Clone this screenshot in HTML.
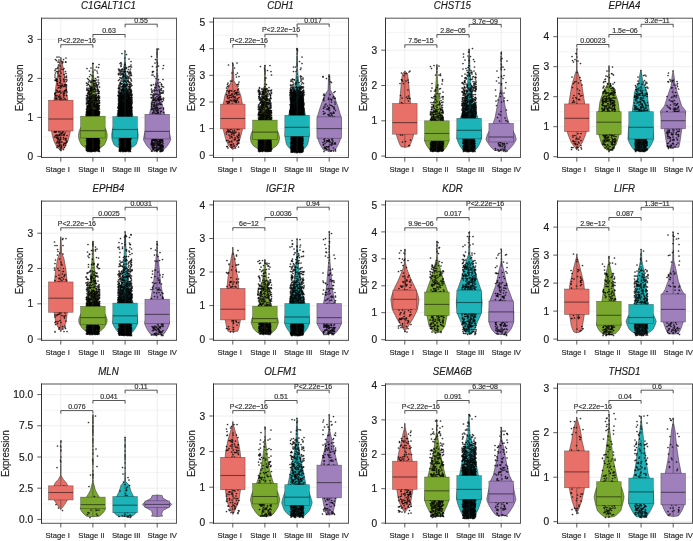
<!DOCTYPE html><html><head><meta charset="utf-8"><style>html,body{margin:0;padding:0;background:#fff}svg{display:block;filter:blur(.3px)}text{font-family:"Liberation Sans",sans-serif;stroke:currentColor;stroke-width:.18px}</style></head><body>
<svg width="693" height="541" viewBox="0 0 693 541">
<g stroke="#ECECEC" stroke-width=".6"><path d="M41.5 136.9H176.5"/><path d="M41.5 97.9H176.5"/><path d="M41.5 58.9H176.5"/><path d="M41.5 19.9H176.5"/></g><g stroke="#E8E8E8" stroke-width=".65"><path d="M41.5 156.4H176.5"/><path d="M41.5 117.4H176.5"/><path d="M41.5 78.4H176.5"/><path d="M41.5 39.4H176.5"/><path d="M60.8 18.2V157.5"/><path d="M92.9 18.2V157.5"/><path d="M125.1 18.2V157.5"/><path d="M157.2 18.2V157.5"/></g><path d="M60.8 150.2l.6-.5l1.9-1l1.5-1.5l3.1-6l1.6-6l.8-4l.1-13.6l-.7-5.5l-2-12.1l-1.4-11.1l-2.7-19.1l-1.2-6l-1.4-4.5l-.1-2l0 0l-.1 2l-1.4 4.5l-1.2 6l-2.7 19.1l-1.4 11.1l-2 12.1l-.7 5.5l.1 13.6l.8 4l1.6 6l3.1 6l1.5 1.5l1.9 1l.6 .5z" fill="#E87068" stroke="#333" stroke-width=".55"/><path d="M55.5 59.5h0m3.5 .5h0m-2.5 .5h0m5.5 1h0m-4 .5h0m5 0h0m3 0h0m-8 5h0m-1 1.5h0m.5 0h0m3.5 .5h0m2 .5h0m-8 1h0m10.5 1h0m-10 1.5h0m10.5 .5h0m-2 1h0m-9 .5h0m4 0h0m7.5 1h0m-7.5 .5h0m1.5 0h0m4.5 .5h0m1.5 .5h0m-10.5 1h0m4 0h0m-3.5 .5h0m7 0h0m2.5 .5h0m1 .5h0m-11.5 .5h0m1 0h0m4 .5h0m-3 .5h0m2.5 1h0m-2.5 1h0m4.5 .5h0m4.5 1h0m-6 .5h0m1.5 0h0m4.5 0h0m-1.5 .5h0m-1 .5h0m2.5 .5h0m-6 1h0m6 1h0m-.5 .5h0m-9.5 .5h0m.5 .5h0m7.5 0h0m1 0h0m1 0h0m.5 1.5h0m-6 1h0m-6 .5h0m8.5 0h0m1 0h0m-.5 .5h0m-.5 1h0m-8 .5h0m8.5 0h0m-4.5 1.5h0m1 0h0m-1.5 .5h0m-3.5 .5h0m4.5 0h0m-3.5 .5h0m5 0h0m-6 .5h0m4 .5h0m1 .5h0m2 0h0m1 0h0m-7 1.5h0m10 0h0m-11.5 .5h0m9 0h0m3 0h0m-.5 .5h0m.5 1h0m-4 .5h0m-5 .5h0m-2 1.5h0m3.5 0h0m4 0h0m.5 0h0m-6 1h0m1 0h0m3.5 0h0m2 .5h0m-8 1h0m7 0h0m.5 0h0m-6.5 .5h0m6.5 0h0m-6 .5h0m3 1h0m-5 .5h0m5.5 1h0m-4 .5h0m1.5 0h0m6.5 .5h0m-.5 .5h0m2 .5h0m-11.5 .5h0m6 0h0m4 0h0m-7 .5h0m0 1h0m2.5 .5h0m1.5 0h0m3 .5h0m-5 .5h0m6 0h0m-6.5 1h0m-5 .5h0m2.5 0h0m6.5 0h0m1 .5h0m-7 .5h0m8 0h0m-6.5 1h0m4 1h0m3 0h0m-8 1h0m1 0h0m6.5 0h0m-2 .5h0m-1 .5h0m1 0h0m-6 1h0m5 .5h0m4 0h0m-12.5 .5h0m4.5 .5h0m.5 0h0m3.5 0h0m2 .5h0m-.5 .5h0m-9.5 .5h0m.5 0h0m7 .5h0m1.5 0h0m-1 .5h0m2 1.5h0m1.5 0h0m-12 .5h0m0 1h0m1.5 0h0m4.5 1h0m1.5 0h0m.5 0h0m1.5 1.5h0m-6 .5h0m2.5 0h0m3.5 0h0m-8.5 .5h0m4 0h0m4.5 0h0m3 0h0m-12.5 1.5h0m6 .5h0m-3.5 .5h0m8.5 .5h0m.5 0h0m-8 .5h0m2.5 0h0m3 0h0m2.5 0h0m-7 1h0m1 0h0m5.5 0h0m-4 2h0m.5 0h0m-2.5 .5h0m6 1h0m-2 1h0m-6 1h0m6 0h0m2 0h0m-6 .5h0m1 1.5h0m1 0h0m3 0h0m-4.5 2h0m3.5 0h0" stroke="#000" stroke-opacity=".8" stroke-width="1.7" stroke-linecap="round" fill="none"/><path d="M57 57h0m2 0h0m7 1h0m-2.5 1.5h0m-4.5 2.5h0m6.5 0h0m-3 1h0m-4 2h0m2 1h0m3.5 2.5h0m-8.5 .5h0m4.5 2h0m-3.5 .5h0m1.5 0h0m0 1.5h0m3 0h0m-6 4h0m2 2.5h0m-2 .5h0m1 0h0m4.5 0h0m3.5 0h0m-7.5 1h0m7.5 .5h0m2.5 0h0m-6.5 1.5h0m4.5 1.5h0m1.5 0h0m-8.5 .5h0m7.5 0h0m-6 .5h0m4 .5h0m-2.5 .5h0m1 .5h0m-2.5 .5h0m-1 .5h0m1.5 3h0m-2 .5h0m3 0h0m4.5 0h0m-7 .5h0m1 0h0m1 0h0m3 0h0m1.5 0h0m-8.5 .5h0m-.5 .5h0m-.5 1h0m4.5 1h0m-2.5 .5h0m9.5 0h0m-10.5 .5h0m2.5 .5h0m5 .5h0m-7 1h0m8 .5h0m-7.5 .5h0m8.5 .5h0m-5 .5h0m5.5 0h0m.5 .5h0m-12 .5h0m7.5 0h0m-1.5 .5h0m-3 .5h0m-2.5 .5h0m4 .5h0m3.5 .5h0m-1 .5h0m-6 .5h0m0 1h0m4 0h0m1 .5h0m0 1h0m-3.5 1h0m10 0h0m-10.5 1h0m2 0h0m-3.5 .5h0m9 0h0m-2.5 .5h0m-5.5 .5h0m.5 .5h0m6 0h0m.5 0h0m-1.5 .5h0m-5 .5h0m6 .5h0m-6.5 .5h0m6 0h0m2 1h0m2 0h0m-1 1h0m-9.5 1h0m11 0h0m0 1h0m-3 1h0m-7 .5h0m2 0h0m2.5 0h0m3 2h0m2 0h0m.5 0h0m-9.5 .5h0m9.5 1h0m-10 1h0m1 0h0m8 0h0m-.5 .5h0m-6.5 1h0m-1 .5h0m4 0h0m-.5 .5h0m-5 .5h0m8 .5h0m-2 .5h0m-5 .5h0m7.5 .5h0m-2.5 1h0m-2.5 .5h0m.5 0h0m1.5 0h0m1 0h0m1 0h0m2.5 0h0m-9 .5h0m6.5 0h0m-6 .5h0m2.5 0h0m1.5 0h0m-2.5 .5h0m-3 .5h0m7 0h0m-8 .5h0m4 0h0m4 0h0m2 1h0m-3.5 .5h0m-2 1h0m4.5 0h0m-7.5 .5h0m5.5 0h0m-5 .5h0m.5 0h0m-1.5 1.5h0m2 0h0m-1 .5h0m3.5 0h0m3 0h0m-5.5 1h0m7.5 0h0m-7 .5h0m2 .5h0m-3 1.5h0m9 0h0m-9 .5h0m2 0h0m7.5 0h0m-9 .5h0m2 0h0m-2.5 .5h0m8.5 0h0m-9.5 .5h0m7.5 0h0m-5 .5h0m5.5 0h0m-5 .5h0m0 1h0m1.5 0h0m-1 .5h0m-1.5 1h0m3 0h0m-4.5 1h0m4 1h0m0 2h0" stroke="#000" stroke-opacity=".8" stroke-width="1.7" stroke-linecap="round" fill="none"/><path d="M60.8 57V100.2M60.8 131.1V150.2" stroke="#333" stroke-width=".5"/><rect x="48.5" y="100.2" width="24.6" height="30.8" fill="#E87068" stroke="#000" stroke-opacity=".45" stroke-width=".6"/><path d="M48.5 119H73.1" stroke="#000" stroke-opacity=".5" stroke-width="1.1"/><path d="M92.9 149.4l4.1-.5l2.3-.5l2.4-1.5l2.5-2l1.3-2.5l1.4-3.5l.3-3.5l-.2-2l-.7-3l-5.4-11.1l-2-5.5l-2-12.1l-2.6-19.6l-.8-7.6l-.5-11.6l-.3 0l-.5 11.6l-.8 7.6l-2.6 19.6l-2 12.1l-2 5.5l-5.4 11.1l-.7 3l-.2 2l.3 3.5l1.4 3.5l1.3 2.5l2.5 2l2.4 1.5l2.3 .5l4.1 .5z" fill="#7AA82F" stroke="#333" stroke-width=".55"/><linearGradient id="m2_1_0" gradientUnits="userSpaceOnUse" x1="0" y1="137.5" x2="0" y2="151.5"><stop offset="0.036" stop-opacity="0.92"/><stop offset="0.179" stop-opacity="0.92"/><stop offset="0.321" stop-opacity="0.92"/><stop offset="0.464" stop-opacity="0.92"/><stop offset="0.607" stop-opacity="0.92"/><stop offset="0.750" stop-opacity="0.92"/><stop offset="0.893" stop-opacity="0.92"/><stop offset="0.964" stop-opacity="0.92"/></linearGradient><path d="M99.1 137.5 99.1 138 99.1 139 99.1 140 99.1 141 99.1 142 99.1 143 99.1 144 99.1 145 99.1 146 99.1 147 99.1 148 99.1 149 99.1 150 99.1 151 99.1 151.5 86.7 151.5 86.7 151 86.7 150 86.7 149 86.7 148 86.7 147 86.7 146 86.7 145 86.7 144 86.7 143 86.7 142 86.7 141 86.7 140 86.7 139 86.7 138 86.7 137.5z" fill="url(#m2_1_0)"/><linearGradient id="m2_1_1" gradientUnits="userSpaceOnUse" x1="0" y1="98.5" x2="0" y2="116.5"><stop offset="0.028" stop-opacity="0.05"/><stop offset="0.139" stop-opacity="0.13"/><stop offset="0.250" stop-opacity="0.21"/><stop offset="0.361" stop-opacity="0.30"/><stop offset="0.472" stop-opacity="0.38"/><stop offset="0.583" stop-opacity="0.47"/><stop offset="0.694" stop-opacity="0.55"/><stop offset="0.806" stop-opacity="0.63"/><stop offset="0.917" stop-opacity="0.72"/><stop offset="0.972" stop-opacity="0.76"/></linearGradient><path d="M99.2 98.5 99.2 99 99.2 100 99.2 101 99.2 102 99.2 103 99.2 104 99.2 105 99.3 106 99.3 107 99.3 108 99.3 109 99.3 110 99.3 111 99.3 112 99.4 113 99.4 114 99.4 115 99.4 116 99.4 116.5 86.4 116.5 86.4 116 86.5 115 86.5 114 86.5 113 86.5 112 86.5 111 86.5 110 86.6 109 86.6 108 86.6 107 86.6 106 86.6 105 86.6 104 86.6 103 86.7 102 86.7 101 86.7 100 86.7 99 86.7 98.5z" fill="url(#m2_1_1)"/><path d="M93 63.5h0m5.5 4h0m-11.5 1h0m8 1.5h0m-5.5 1h0m7.5 0h0m-7.5 5.5h0m6 2h0m-7 1h0m4 .5h0m1.5 .5h0m1 .5h0m-4 .5h0m.5 .5h0m6.5 0h0m-7.5 .5h0m8.5 .5h0m-5 .5h0m1.5 0h0m.5 0h0m-8 .5h0m5.5 .5h0m3.5 .5h0m-10 .5h0m3 1h0m1 0h0m2 0h0m2 .5h0m2.5 0h0m-.5 .5h0m-8 .5h0m2.5 0h0m-1.5 .5h0m-3 .5h0m1.5 0h0m3 0h0m.5 0h0m3 0h0m-4.5 .5h0m3.5 0h0m1.5 0h0m-8.5 .5h0m6 0h0m.5 0h0m4.5 0h0m-9 .5h0m2.5 0h0m-2 .5h0m1.5 .5h0m2.5 0h0m-4.5 .5h0m3.5 0h0m2 0h0m4 0h0m.5 0h0m-10 1h0m-1.5 .5h0m4 0h0m7 0h0m-9.5 1h0m2 0h0m3 0h0m-1.5 .5h0m-6 .5h0m3.5 0h0m5 0h0m1 0h0m-8.5 .5h0m.5 0h0m2.5 0h0m4.5 0h0m3.5 0h0m-7.5 .5h0m2 0h0m6.5 0h0m-10 .5h0m2 0h0m2.5 0h0m3.5 0h0m-6 .5h0m2 0h0m2 0h0m1.5 0h0m-9 .5h0m1 0h0m3 0h0m1.5 0h0m5.5 0h0m.5 0h0m-10 .5h0m1.5 0h0m.5 0h0m1 0h0m1.5 0h0m2 0h0m2 0h0m-11 .5h0m5 0h0m4 0h0m-1.5 .5h0m2 0h0m-7 .5h0m5.5 0h0m3.5 0h0m-10.5 .5h0m2 0h0m2.5 0h0m4.5 0h0m2.5 0h0m-7.5 .5h0m.5 0h0m2 0h0m1 0h0m1.5 0h0m2 0h0m-10.5 .5h0m3 0h0m1 .5h0m2.5 0h0m-4.5 .5h0m1.5 0h0m1.5 0h0m-6.5 .5h0m4 0h0m2 0h0m1.5 0h0m3.5 0h0m1 0h0m.5 0h0m-11 .5h0m10.5 0h0m-9 .5h0m.5 0h0m4 0h0m2.5 0h0m-7.5 .5h0m3.5 0h0m1 0h0m3.5 0h0m.5 0h0m-9 .5h0m1 0h0m.5 0h0m.5 0h0m5 0h0m-7 .5h0m4 0h0m6.5 0h0m-12 .5h0m2.5 0h0m.5 0h0m.5 0h0m.5 0h0m1.5 0h0m.5 0h0m1 0h0m.5 0h0m3.5 0h0m-8 .5h0m.5 0h0m1 0h0m.5 0h0m4 0h0m-6 .5h0m.5 0h0m1 0h0m1.5 0h0m4 0h0m-10 .5h0m3.5 0h0m4.5 0h0m.5 0h0m2.5 0h0m-10.5 .5h0m4.5 0h0m4.5 0h0m-8.5 .5h0m.5 0h0m.5 0h0m1 0h0m1 0h0m6 0h0m.5 0h0m.5 0h0m-7.5 .5h0m5.5 0h0m1 0h0m1 0h0m-8 .5h0m1 0h0m1.5 0h0m2.5 0h0m2.5 0h0m.5 0h0m-11.5 .5h0m2 0h0m1 0h0m.5 0h0m1.5 0h0m1.5 0h0m.5 0h0m2 0h0m2 0h0m-10.5 .5h0m5.5 0h0m1 0h0m.5 0h0m2 0h0m-6.5 .5h0m1 0h0m1.5 0h0m.5 0h0m3 0h0m-9.5 .5h0m7.5 0h0m2 0h0m1 0h0m-9 .5h0m1 0h0m2 0h0m1.5 0h0m.5 0h0m.5 0h0m3 0h0m.5 0h0m2 0h0m-12.5 .5h0m1 0h0m1 0h0m1 0h0m4 0h0m.5 0h0m.5 0h0m.5 0h0m1.5 0h0m.5 0h0m1.5 0h0m-9.5 .5h0m2 0h0m.5 0h0m.5 0h0m1.5 0h0m.5 0h0m.5 0h0m3 0h0m-9.5 .5h0m1.5 0h0m.5 0h0m.5 0h0m1 0h0m2.5 0h0m.5 0h0m1 0h0m1 0h0m2.5 0h0m-11 .5h0m1 0h0m3.5 0h0m.5 0h0m.5 0h0m.5 0h0m.5 0h0m1.5 0h0m2.5 0h0m.5 0h0m-9.5 .5h0m1.5 0h0m1 0h0m.5 0h0m1 0h0m.5 0h0m1 0h0m1 0h0m1.5 0h0m.5 0h0m-6.5 .5h0m.5 0h0m5.5 0h0m-10.5 .5h0m1.5 0h0m4 0h0m2.5 0h0m3 0h0m-11.5 .5h0m1.5 0h0m.5 0h0m3 0h0m1 0h0m3 0h0m2.5 0h0m-11 .5h0m2 0h0m-1 21h0m3.5 0h0m-3.5 .5h0m2 0h0m4.5 0h0m.5 0h0m3.5 0h0m-11 .5h0m1 0h0m.5 0h0m4 0h0m-5 .5h0m4 0h0m.5 0h0m1 0h0m.5 0h0m3 0h0m.5 0h0m-9 .5h0m2.5 0h0m3.5 0h0m2.5 0h0m1 0h0m1 0h0m-11.5 .5h0m1 0h0m5.5 0h0m4 0h0m-11.5 .5h0m6 0h0m3 0h0m.5 0h0m2 0h0m1 0h0m.5 0h0m-13 .5h0m1.5 0h0m.5 0h0m1.5 0h0m1 0h0m1 0h0m2 0h0m5 0h0m-11.5 .5h0m.5 0h0m4 0h0m2 0h0m.5 0h0m1.5 0h0m3.5 0h0m-10 .5h0m1 0h0m.5 0h0m1 0h0m.5 0h0m3.5 0h0m3 0h0m-10 .5h0m3 0h0m2.5 0h0m-5.5 .5h0m.5 0h0m.5 0h0m2 0h0m.5 0h0m.5 0h0m1 0h0m1 0h0m.5 0h0m.5 0h0m1.5 0h0m1 0h0m.5 0h0m-11.5 .5h0m5.5 0h0m1 0h0m2.5 0h0m.5 0h0m.5 0h0m.5 0h0m1.5 0h0m-10.5 .5h0m2 0h0m1.5 0h0m2 0h0m2 0h0m2.5 0h0m.5 0h0m-11 .5h0m1.5 0h0m.5 0h0m1 0h0m1 0h0m.5 0h0m.5 0h0m1.5 0h0m2.5 0h0m-7.5 .5h0m1.5 0h0m2.5 0h0m.5 0h0m.5 0h0m1 0h0m1 0h0m-10.5 .5h0m2 0h0m3 0h0m1 0h0m1 0h0m.5 0h0m1.5 0h0m.5 0h0m1 0h0m1.5 0h0m-12 .5h0m5.5 0h0m.5 0h0m.5 0h0m2 0h0m1 0h0m2 0h0m.5 0h0m-11.5 .5h0m1 0h0m.5 0h0m2.5 0h0m2 0h0m1.5 0h0m.5 0h0m.5 0h0m1 0h0m-10 .5h0m1.5 0h0m.5 0h0m2.5 0h0m6 0h0m1 0h0m1 0h0m-12 .5h0m2.5 0h0m5.5 0h0m1.5 0h0m1.5 0h0m.5 0h0m-7 .5h0m1 0h0m1.5 0h0m.5 0h0m3 0h0m1.5 0h0m-11 .5h0m.5 0h0m.5 0h0m6.5 0h0m1 0h0m1.5 0h0m-11.5 .5h0m1 0h0m.5 0h0m.5 0h0m.5 0h0m2 0h0m1 0h0m2 0h0m1 0h0m2 0h0m.5 0h0m-9.5 .5h0m1.5 0h0m3 0h0m6 0h0m-12 .5h0m2.5 0h0m3 0h0m2 0h0m1 0h0m1.5 0h0m2.5 0h0m-11.5 .5h0m.5 0h0m1.5 0h0m1.5 0h0m.5 0h0m4.5 0h0m.5 0h0m.5 0h0m-7.5 .5h0m1.5 0h0m2 0h0m2 0h0m3.5 0h0m.5 0h0m-11 .5h0m3.5 0h0m3.5 0h0" stroke="#000" stroke-opacity=".8" stroke-width="1.7" stroke-linecap="round" fill="none"/><path d="M99 64.5h0m-2.5 2.5h0m-5.5 1h0m6.5 5h0m-7 1.5h0m1.5 1h0m5.5 1.5h0m1 0h0m-11 1.5h0m9 1.5h0m2 0h0m-9 .5h0m3.5 0h0m2 0h0m-5 .5h0m3 0h0m2 0h0m-6.5 1h0m7.5 .5h0m-9.5 .5h0m6.5 0h0m-6 .5h0m1.5 1h0m8 0h0m2 0h0m-3 .5h0m-6 .5h0m4.5 0h0m1.5 0h0m1.5 0h0m-1.5 .5h0m2 0h0m-.5 .5h0m2.5 .5h0m-8.5 .5h0m1.5 0h0m-5.5 .5h0m7 0h0m-3 .5h0m1 0h0m2.5 0h0m3 0h0m-5 .5h0m2 0h0m2.5 .5h0m-10 .5h0m3.5 0h0m2 0h0m5 0h0m.5 0h0m.5 0h0m-10 .5h0m2 0h0m5 .5h0m2 0h0m-8.5 .5h0m7.5 0h0m1.5 0h0m1 0h0m-11 .5h0m.5 0h0m.5 1h0m1 0h0m1.5 0h0m6 .5h0m1.5 0h0m-11 .5h0m8 0h0m-6.5 .5h0m7 .5h0m-9 .5h0m4.5 0h0m.5 0h0m1 0h0m2.5 0h0m2.5 0h0m-6 .5h0m.5 .5h0m3 0h0m-8.5 .5h0m1 0h0m1.5 0h0m1.5 0h0m3.5 0h0m1 0h0m2 0h0m-6.5 .5h0m5 0h0m2 0h0m-12 .5h0m2.5 0h0m2.5 0h0m3 0h0m-7 .5h0m2.5 0h0m6 0h0m3 0h0m-12.5 .5h0m3 0h0m.5 0h0m2 0h0m4 0h0m-5.5 .5h0m.5 0h0m-2 .5h0m.5 0h0m4 0h0m2 0h0m1 0h0m2 0h0m-11 .5h0m2 0h0m1.5 0h0m2 0h0m1 0h0m2.5 0h0m-10 .5h0m1 0h0m1.5 0h0m7.5 0h0m1 0h0m1.5 0h0m-10 .5h0m1.5 0h0m.5 0h0m2 0h0m-.5 .5h0m-5 .5h0m1 0h0m7.5 0h0m3.5 0h0m-13 .5h0m3.5 0h0m8 0h0m-10.5 .5h0m.5 0h0m1 0h0m.5 0h0m3 0h0m1.5 0h0m2.5 0h0m1 0h0m-11 .5h0m4.5 0h0m2 0h0m3 0h0m-5.5 .5h0m3.5 0h0m.5 0h0m-1.5 .5h0m4 0h0m1 0h0m-9.5 .5h0m5 0h0m1 0h0m3 0h0m1 0h0m-11.5 .5h0m3 0h0m3.5 0h0m1 0h0m2 0h0m1 0h0m-10 .5h0m1.5 0h0m10 0h0m-10.5 .5h0m2 0h0m-3 .5h0m2.5 0h0m5 0h0m1.5 0h0m2.5 0h0m-12 .5h0m0 .5h0m5.5 0h0m5.5 0h0m-11.5 .5h0m5.5 0h0m6.5 0h0m1 0h0m-13 .5h0m4.5 0h0m-2 .5h0m1 0h0m1.5 0h0m.5 0h0m1 0h0m.5 0h0m1.5 0h0m1 0h0m1.5 0h0m-9 .5h0m.5 0h0m2 0h0m2 0h0m.5 0h0m2.5 0h0m-4 .5h0m1.5 0h0m1.5 0h0m-8 .5h0m.5 0h0m2 0h0m1 0h0m1.5 0h0m2.5 0h0m1.5 0h0m1 0h0m1.5 0h0m1 0h0m-10.5 .5h0m.5 0h0m2 0h0m5 0h0m-9.5 .5h0m1.5 0h0m5 0h0m1 0h0m1 0h0m4 0h0m-13 .5h0m.5 0h0m1 0h0m.5 0h0m.5 0h0m1.5 0h0m.5 0h0m1 0h0m.5 0h0m1 0h0m2 0h0m.5 0h0m3 0h0m.5 0h0m-13 .5h0m2 0h0m2.5 0h0m3 0h0m1 0h0m1 0h0m1 0h0m-10 .5h0m1.5 0h0m3.5 0h0m1 0h0m2.5 0h0m.5 0h0m3 0h0m-13 .5h0m2.5 0h0m1 0h0m.5 0h0m1.5 0h0m1 0h0m1.5 0h0m3 0h0m1.5 0h0m-12 .5h0m2.5 0h0m1.5 0h0m2.5 0h0m1.5 0h0m2 0h0m.5 0h0m.5 0h0m-9.5 .5h0m2 0h0m-3 .5h0m.5 0h0m1.5 0h0m3.5 .5h0m-3.5 21h0m7 0h0m.5 0h0m-9.5 .5h0m2 0h0m.5 0h0m1.5 0h0m2.5 0h0m2.5 0h0m1 0h0m1 0h0m1 0h0m-12.5 .5h0m2 0h0m.5 0h0m.5 0h0m1.5 0h0m1 0h0m.5 0h0m.5 0h0m2.5 0h0m.5 0h0m-7 .5h0m3.5 0h0m5.5 0h0m-10.5 .5h0m2.5 0h0m1 0h0m1 0h0m2 0h0m1 0h0m1.5 0h0m.5 0h0m1 0h0m-7.5 .5h0m2.5 0h0m1 0h0m2.5 0h0m.5 0h0m1.5 0h0m-8.5 .5h0m.5 0h0m3 0h0m1.5 0h0m1 0h0m1.5 0h0m1.5 0h0m-9 .5h0m1 0h0m2 0h0m1 0h0m2 0h0m.5 0h0m-9.5 .5h0m1 0h0m.5 0h0m3 0h0m2 0h0m.5 0h0m3 0h0m.5 0h0m1 0h0m-11.5 .5h0m.5 0h0m3 0h0m1 0h0m2 0h0m1.5 0h0m1 0h0m1 0h0m1 0h0m-6 .5h0m3.5 0h0m1 0h0m1.5 0h0m.5 0h0m.5 0h0m-12 .5h0m.5 0h0m.5 0h0m1 0h0m1.5 0h0m1 0h0m1 0h0m1 0h0m1.5 0h0m1 0h0m.5 0h0m1 0h0m.5 0h0m1 0h0m-12 .5h0m2 0h0m1.5 0h0m1.5 0h0m.5 0h0m1 0h0m.5 0h0m.5 0h0m2.5 0h0m.5 0h0m-9 .5h0m1.5 0h0m1.5 0h0m2.5 0h0m.5 0h0m-7 .5h0m2.5 0h0m3 0h0m3.5 0h0m.5 0h0m1 0h0m-8 .5h0m1.5 0h0m3.5 0h0m-8.5 .5h0m2.5 0h0m.5 0h0m5.5 0h0m.5 0h0m2 0h0m1.5 0h0m-11 .5h0m1 0h0m.5 0h0m1 0h0m7 0h0m1.5 0h0m-9.5 .5h0m2 0h0m.5 0h0m.5 0h0m.5 0h0m2 0h0m2 0h0m2.5 0h0m-10.5 .5h0m5.5 0h0m1 0h0m.5 0h0m.5 0h0m.5 0h0m1.5 0h0m.5 0h0m-12 .5h0m4.5 0h0m2 0h0m2.5 0h0m-8 .5h0m.5 0h0m1.5 0h0m3 0h0m1.5 0h0m.5 0h0m1.5 0h0m-10 .5h0m5 0h0m3 0h0m.5 0h0m1.5 0h0m1.5 0h0m1 0h0m.5 0h0m-9 .5h0m.5 0h0m1.5 0h0m.5 0h0m.5 0h0m3.5 0h0m-10.5 .5h0m1 0h0m.5 0h0m.5 0h0m6 0h0m1 0h0m.5 0h0m2 0h0m.5 0h0m-11.5 .5h0m1 0h0m1 0h0m1.5 0h0m.5 0h0m3 0h0m1.5 0h0m1 0h0m-10 .5h0m1.5 0h0m.5 0h0m3 0h0m1.5 0h0m1 0h0m-2 .5h0m1 0h0m1 0h0m5 0h0m-9 .5h0m1 0h0m8.5 0h0" stroke="#000" stroke-opacity=".8" stroke-width="1.7" stroke-linecap="round" fill="none"/><path d="M93 63.5h0m0 8.5h0m0 4h0m0 2h0m0 4h0" stroke="#111" stroke-opacity=".8" stroke-width="1.5" stroke-linecap="round" fill="none"/><path d="M92.9 83.5V116.2M92.9 138.1V149.4" stroke="#333" stroke-width=".5"/><rect x="80.6" y="116.2" width="24.6" height="21.8" fill="#7AA82F" stroke="#000" stroke-opacity=".45" stroke-width=".6"/><path d="M80.6 130.7H105.2" stroke="#000" stroke-opacity=".5" stroke-width="1.1"/><path d="M125.1 148.6l4.1-.5l2.4-.5l2.6-1.5l1.9-1.5l1.9-5.6l.2-4.5l-.7-5l-2.6-6.6l-1.8-6.1l-1.2-5l-1.4-6.1l-2.9-17.2l-.7-4.5l-1.2-13.6l-.6-19.7l-.3 0l-.6 19.7l-1.2 13.6l-.7 4.5l-2.9 17.2l-1.4 6.1l-1.2 5l-1.8 6.1l-2.6 6.6l-.7 5l.2 4.5l1.9 5.6l1.9 1.5l2.6 1.5l2.4 .5l4.1 .5z" fill="#1CB4B9" stroke="#333" stroke-width=".55"/><linearGradient id="m2_2_0" gradientUnits="userSpaceOnUse" x1="0" y1="137.5" x2="0" y2="151.5"><stop offset="0.036" stop-opacity="0.92"/><stop offset="0.179" stop-opacity="0.92"/><stop offset="0.321" stop-opacity="0.92"/><stop offset="0.464" stop-opacity="0.92"/><stop offset="0.607" stop-opacity="0.92"/><stop offset="0.750" stop-opacity="0.92"/><stop offset="0.893" stop-opacity="0.92"/><stop offset="0.964" stop-opacity="0.92"/></linearGradient><path d="M130.6 137.5 130.6 138 130.6 139 130.6 140 130.6 141 130.6 142 130.6 143 130.6 144 130.6 145 130.6 146 130.6 147 130.6 148 130.6 149 130.6 150 130.6 151 130.6 151.5 119.6 151.5 119.6 151 119.6 150 119.6 149 119.6 148 119.6 147 119.6 146 119.6 145 119.6 144 119.6 143 119.6 142 119.6 141 119.6 140 119.6 139 119.6 138 119.6 137.5z" fill="url(#m2_2_0)"/><linearGradient id="m2_2_1" gradientUnits="userSpaceOnUse" x1="0" y1="92.5" x2="0" y2="117.5"><stop offset="0.020" stop-opacity="0.14"/><stop offset="0.100" stop-opacity="0.41"/><stop offset="0.180" stop-opacity="0.56"/><stop offset="0.260" stop-opacity="0.60"/><stop offset="0.340" stop-opacity="0.63"/><stop offset="0.420" stop-opacity="0.67"/><stop offset="0.500" stop-opacity="0.71"/><stop offset="0.580" stop-opacity="0.74"/><stop offset="0.660" stop-opacity="0.78"/><stop offset="0.740" stop-opacity="0.82"/><stop offset="0.820" stop-opacity="0.86"/><stop offset="0.900" stop-opacity="0.89"/><stop offset="0.980" stop-opacity="0.92"/><stop offset="0.980" stop-opacity="0.92"/></linearGradient><path d="M131.6 92.5 131.6 93 131.6 94 131.6 95 131.6 96 131.6 97 131.6 98 131.6 99 131.6 100 131.6 101 131.7 102 131.7 103 131.7 104 131.7 105 131.7 106 131.7 107 131.7 108 131.7 109 131.7 110 131.7 111 131.7 112 131.7 113 131.7 114 131.8 115 131.8 116 131.8 117 131.8 117.5 118.4 117.5 118.4 117 118.4 116 118.4 115 118.4 114 118.4 113 118.4 112 118.4 111 118.4 110 118.4 109 118.4 108 118.4 107 118.5 106 118.5 105 118.5 104 118.5 103 118.5 102 118.5 101 118.5 100 118.5 99 118.5 98 118.5 97 118.5 96 118.5 95 118.5 94 118.6 93 118.6 92.5z" fill="url(#m2_2_1)"/><path d="M129 59h0m2 2.5h0m-10 1h0m-1 1h0m1.5 .5h0m-.5 1.5h0m8.5 1h0m1 0h0m-6.5 .5h0m4.5 0h0m3 0h0m-6.5 1h0m-6.5 1h0m4 0h0m8 0h0m-11 2h0m1 0h0m3 0h0m6.5 0h0m-7 .5h0m2.5 0h0m-4.5 .5h0m3.5 0h0m3.5 0h0m2.5 0h0m-1 .5h0m-9 .5h0m2.5 0h0m-2 .5h0m9.5 0h0m-7 .5h0m6.5 0h0m-11.5 .5h0m2 .5h0m3 0h0m7 .5h0m-7.5 .5h0m6.5 0h0m-1.5 .5h0m-5.5 .5h0m5 0h0m1 .5h0m-7.5 .5h0m5.5 0h0m3.5 0h0m-4.5 .5h0m1.5 0h0m1 0h0m.5 0h0m2.5 .5h0m-11.5 .5h0m8.5 .5h0m3 0h0m-6.5 .5h0m3 0h0m-6.5 .5h0m.5 0h0m.5 0h0m1 0h0m3 .5h0m2 0h0m.5 0h0m-5 .5h0m-3 .5h0m9.5 0h0m-9.5 1h0m1 .5h0m7.5 0h0m-5.5 .5h0m1 0h0m1 0h0m1.5 0h0m2.5 0h0m1.5 0h0m-7.5 .5h0m.5 0h0m2.5 .5h0m5.5 0h0m-7 .5h0m.5 0h0m.5 0h0m3.5 0h0m-6.5 .5h0m5.5 0h0m.5 0h0m-7.5 .5h0m2 0h0m1 0h0m5.5 0h0m-4.5 .5h0m-7 .5h0m1.5 0h0m4 0h0m-.5 .5h0m3 0h0m2.5 0h0m-10 .5h0m7 0h0m3.5 0h0m-8 .5h0m6.5 0h0m2 0h0m-7 .5h0m2.5 0h0m5 0h0m-8 .5h0m.5 0h0m2.5 0h0m2 0h0m-9 .5h0m5.5 0h0m1.5 0h0m.5 0h0m1.5 0h0m3 0h0m.5 0h0m-12.5 .5h0m3 0h0m4.5 0h0m4 0h0m-11 .5h0m8 0h0m.5 0h0m-7.5 .5h0m4 0h0m2 0h0m4 0h0m1 0h0m-12.5 .5h0m3 0h0m.5 0h0m2 0h0m1 0h0m1 0h0m1.5 0h0m2 0h0m-9.5 .5h0m2 0h0m4.5 0h0m1 0h0m1 0h0m-8 .5h0m1.5 0h0m2 0h0m2 0h0m1 0h0m1 0h0m4 0h0m-8 .5h0m1 0h0m5.5 0h0m1 0h0m-11.5 .5h0m2 0h0m1 0h0m1 0h0m1 0h0m3.5 0h0m1.5 0h0m-12 .5h0m5.5 0h0m1 0h0m.5 0h0m2 0h0m4.5 0h0m-13 .5h0m1 0h0m1.5 0h0m1 0h0m1 0h0m1.5 0h0m1 0h0m2.5 0h0m-5 .5h0m3.5 0h0m2 0h0m-7 .5h0m.5 0h0m1 0h0m.5 0h0m1 0h0m1 0h0m-6.5 .5h0m3 0h0m2 0h0m.5 0h0m3 0h0m1.5 0h0m.5 0h0m.5 0h0m1.5 0h0m.5 0h0m-12.5 .5h0m.5 0h0m1.5 0h0m1 0h0m1.5 0h0m.5 0h0m4 0h0m.5 0h0m1 0h0m.5 0h0m-12 .5h0m10 0h0m-7.5 .5h0m4 0h0m1 0h0m2 0h0m-9.5 .5h0m1 0h0m1.5 0h0m.5 0h0m.5 0h0m2 0h0m4 0h0m1.5 0h0m-9.5 .5h0m2.5 0h0m4.5 0h0m3 0h0m1 0h0m-12 .5h0m3.5 0h0m4.5 0h0m-7.5 .5h0m2 0h0m3 0h0m.5 0h0m1.5 0h0m1 0h0m2 0h0m1.5 0h0m.5 0h0m-10 .5h0m5 0h0m.5 0h0m1.5 0h0m1 0h0m2.5 0h0m-12 .5h0m2 0h0m2 0h0m.5 0h0m1.5 0h0m3 0h0m-9.5 .5h0m.5 0h0m1 0h0m3 0h0m1.5 0h0m1 0h0m.5 0h0m2.5 0h0m.5 0h0m1.5 0h0m.5 0h0m-11.5 .5h0m1 0h0m2 0h0m.5 0h0m1.5 0h0m2 0h0m4 0h0m-12.5 .5h0m.5 0h0m2 0h0m2 0h0m1 0h0m1 0h0m2.5 0h0m.5 0h0m1.5 0h0m.5 0h0m-10 .5h0m3 0h0m2 0h0m1 0h0m.5 0h0m1 0h0m.5 0h0m.5 0h0m1 0h0m1.5 0h0m-7.5 .5h0m1.5 0h0m3 0h0m-9.5 .5h0m.5 0h0m1.5 0h0m3.5 0h0m.5 0h0m-5 .5h0m.5 0h0m2.5 0h0m1.5 0h0m1 0h0m3.5 0h0m.5 0h0m.5 0h0m-11.5 .5h0m.5 0h0m1 0h0m1 0h0m1 0h0m3.5 0h0m1.5 0h0m2 0h0m-8.5 .5h0m1.5 0h0m.5 0h0m1.5 0h0m.5 0h0m4 0h0m2 0h0m-11.5 .5h0m1.5 0h0m3 0h0m1 0h0m1.5 0h0m.5 0h0m5.5 0h0m-11 .5h0m3 0h0m3 0h0m1 0h0m3.5 0h0m-13.5 .5h0m2 0h0m.5 0h0m1 0h0m2 0h0m1.5 0h0m1 0h0m1 0h0m4.5 0h0m-10 .5h0m3 0h0m.5 0h0m2.5 0h0m4 0h0m-12.5 .5h0m.5 0h0m.5 0h0m1 0h0m.5 0h0m3 0h0m.5 0h0m.5 0h0m1.5 0h0m2.5 0h0m-9 .5h0m1.5 0h0m2 0h0m1.5 0h0m.5 0h0m3 0h0m2 0h0m-10 .5h0m2.5 0h0m.5 0h0m2 0h0m1 0h0m-9 .5h0m.5 0h0m.5 0h0m.5 0h0m3.5 0h0m2 0h0m1.5 0h0m.5 0h0m1 0h0m.5 0h0m1.5 0h0m2 0h0m-14 .5h0m1 0h0m3.5 0h0m4 0h0m2 0h0m1.5 0h0m1 0h0m-10.5 .5h0m10.5 0h0m-10 .5h0m.5 0h0m3.5 0h0m1 0h0m1 0h0m.5 0h0m4 0h0m-13 .5h0m.5 0h0m2.5 0h0m1.5 0h0m1.5 0h0m4 0h0m1 0h0m2 0h0m-12 .5h0m3 0h0m2 0h0m1 0h0m.5 0h0m-7 .5h0m1 0h0m2.5 0h0m5 0h0m3 0h0m-12.5 .5h0m3 0h0m3.5 0h0m1 0h0m2.5 0h0m3 0h0m1 0h0m-9 .5h0m.5 0h0m2 0h0m.5 0h0m-7.5 .5h0m2 0h0m1 0h0m1 0h0m1.5 0h0m4.5 0h0m2 0h0m.5 0h0m.5 0h0m-10.5 .5h0m1 0h0m.5 0h0m.5 0h0m.5 0h0m1.5 0h0m1.5 0h0m1 0h0m.5 0h0m.5 0h0m2 0h0m-9.5 .5h0m1 0h0m1.5 0h0m1 0h0m2 0h0m2.5 0h0m-10.5 .5h0m1 0h0m2.5 0h0m4 0h0m1 0h0m1.5 0h0m2 0h0m-12 .5h0m2 0h0m1 0h0m1 0h0m2 0h0m.5 0h0m1.5 0h0m1.5 0h0m-4 .5h0m1 0h0m5 0h0m1.5 0h0m-10 20h0m3 0h0m.5 0h0m1.5 0h0m1.5 0h0m2 0h0m-9 .5h0m1 0h0m1.5 0h0m.5 0h0m1 0h0m.5 0h0m.5 0h0m4.5 0h0m-.5 .5h0m-9 .5h0m1.5 0h0m2 0h0m1.5 0h0m.5 0h0m3 0h0m1 0h0m-9 .5h0m6 0h0m-8 .5h0m.5 0h0m2.5 0h0m2.5 0h0m1.5 0h0m1.5 0h0m.5 0h0m1.5 0h0m.5 0h0m-11 .5h0m1 0h0m.5 0h0m1 0h0m3.5 0h0m1 0h0m1.5 0h0m.5 0h0m1 0h0m-9.5 .5h0m1 0h0m.5 0h0m1 0h0m.5 0h0m.5 0h0m2 0h0m1 0h0m1 0h0m1 0h0m1 0h0m-9 .5h0m1 0h0m1.5 0h0m-1 .5h0m3 0h0m2.5 0h0m1.5 0h0m-7.5 .5h0m.5 0h0m1.5 0h0m.5 0h0m2 0h0m.5 0h0m3.5 0h0m-8 .5h0m.5 0h0m1.5 0h0m.5 0h0m4 0h0m-8 .5h0m1.5 0h0m.5 0h0m3.5 0h0m2 0h0m.5 0h0m.5 0h0m.5 0h0m-9 .5h0m1.5 0h0m5 0h0m1 0h0m2 0h0m-10.5 .5h0m.5 0h0m1.5 0h0m1.5 0h0m.5 0h0m4.5 0h0m-5.5 .5h0m.5 0h0m1 0h0m2 0h0m.5 0h0m1 0h0m-7 .5h0m1.5 0h0m.5 0h0m2 0h0m2.5 0h0m3 0h0m.5 0h0m-8 .5h0m6 0h0m2 0h0m-10.5 .5h0m1 0h0m1.5 0h0m3 0h0m5 0h0m-9.5 .5h0m1.5 0h0m2 0h0m2 0h0m-2 .5h0m2.5 0h0m.5 0h0m.5 0h0m1 0h0m-9 .5h0m2 0h0m.5 0h0m1.5 0h0m2 0h0m1 0h0m1.5 0h0m-6.5 .5h0m.5 0h0m1 0h0m3 0h0m.5 0h0m1 0h0m2.5 0h0m-10.5 .5h0m1 0h0m1 0h0m3 0h0m2.5 0h0m1 0h0m-8.5 .5h0m2 0h0m1.5 0h0m3 0h0m1 0h0m-8 .5h0m1 0h0m1 0h0m3 0h0m2.5 0h0m2.5 0h0m-9 .5h0m1 0h0m1 0h0m1 0h0m2.5 0h0m1 0h0m.5 0h0m-8 .5h0m1 0h0m3 0h0m1 0h0m1.5 0h0m-5.5 .5h0m3 0h0m2 0h0m5 0h0" stroke="#000" stroke-opacity=".8" stroke-width="1.7" stroke-linecap="round" fill="none"/><path d="M122 53.5h0m4.5 1h0m-1.5 10h0m-.5 .5h0m6.5 0h0m-10 1.5h0m5.5 1h0m0 1h0m-3.5 .5h0m-3.5 .5h0m2 0h0m3 0h0m4 0h0m-7.5 .5h0m-2 .5h0m3 0h0m-.5 1h0m3 0h0m3 0h0m-8 1.5h0m9.5 0h0m2 0h0m-12.5 .5h0m4 0h0m6.5 0h0m-3.5 .5h0m3 0h0m-9.5 .5h0m2.5 0h0m1.5 0h0m.5 .5h0m8 0h0m-6 .5h0m6 0h0m-6.5 .5h0m2 0h0m-3.5 .5h0m-.5 .5h0m-3 .5h0m5.5 0h0m-4 1h0m.5 .5h0m.5 0h0m.5 0h0m-4.5 1.5h0m6.5 .5h0m3 0h0m3.5 0h0m-2.5 1h0m-2.5 .5h0m2.5 0h0m-9 .5h0m1 .5h0m1 0h0m9 0h0m-10 .5h0m3.5 0h0m3 0h0m-8 .5h0m10.5 0h0m-10 .5h0m4 0h0m3.5 0h0m-8.5 .5h0m1 0h0m4.5 0h0m-5.5 .5h0m3.5 0h0m1.5 0h0m7 0h0m-12 .5h0m2 0h0m2 0h0m.5 0h0m2 0h0m.5 0h0m4 0h0m-1 .5h0m.5 0h0m-10.5 1h0m.5 0h0m10 0h0m1 0h0m-12 .5h0m4.5 0h0m-3 .5h0m2 0h0m.5 0h0m1 0h0m2.5 0h0m-1 .5h0m.5 0h0m.5 0h0m3.5 0h0m1.5 0h0m-9.5 .5h0m2 0h0m5 0h0m2.5 0h0m-11 .5h0m5 0h0m5 0h0m.5 0h0m-11 .5h0m2.5 0h0m.5 0h0m1.5 0h0m3 0h0m3.5 0h0m1 0h0m-3 .5h0m2 0h0m1 0h0m-7.5 .5h0m2.5 0h0m.5 0h0m-6.5 .5h0m.5 0h0m5 0h0m5 0h0m-12 .5h0m2.5 0h0m.5 0h0m.5 0h0m6.5 0h0m.5 0h0m-8.5 .5h0m.5 0h0m6.5 0h0m2 0h0m-10 .5h0m4.5 0h0m1.5 0h0m3 0h0m2 0h0m-10.5 .5h0m5.5 0h0m1.5 0h0m.5 0h0m-9.5 .5h0m5 0h0m3 0h0m.5 0h0m3 0h0m2 0h0m-13.5 .5h0m1 0h0m1 0h0m3.5 0h0m5.5 0h0m-11 .5h0m1 0h0m.5 0h0m.5 0h0m.5 0h0m.5 0h0m1 0h0m5.5 0h0m.5 0h0m3 0h0m-10 .5h0m3 0h0m2 0h0m-7 .5h0m.5 0h0m1 0h0m4 0h0m4.5 0h0m2 0h0m-12.5 .5h0m6.5 0h0m3 0h0m.5 0h0m.5 0h0m.5 0h0m-10 .5h0m2 0h0m1.5 0h0m7.5 0h0m-11 .5h0m.5 0h0m.5 0h0m.5 0h0m.5 0h0m.5 0h0m1 0h0m1 0h0m1.5 0h0m2.5 0h0m1.5 0h0m-10 .5h0m3 0h0m.5 0h0m1 0h0m1 0h0m.5 0h0m1.5 0h0m2 0h0m2.5 0h0m-5.5 .5h0m1 0h0m2.5 0h0m.5 0h0m-11 .5h0m5.5 0h0m2.5 0h0m1 0h0m3.5 0h0m-12 .5h0m2 0h0m4.5 0h0m3 0h0m1 0h0m.5 0h0m.5 0h0m-13 .5h0m3 0h0m5 0h0m.5 0h0m.5 0h0m1 0h0m1 0h0m1.5 0h0m.5 0h0m-12 .5h0m1.5 0h0m1 0h0m2 0h0m1 0h0m1.5 0h0m-4.5 .5h0m1.5 0h0m5 0h0m1 0h0m-10 .5h0m.5 0h0m1.5 0h0m2 0h0m.5 0h0m-5.5 .5h0m2.5 0h0m2 0h0m1.5 0h0m3 0h0m1 0h0m3 0h0m.5 0h0m-12.5 .5h0m5 0h0m1.5 0h0m.5 0h0m.5 0h0m.5 0h0m2 0h0m.5 0h0m-11.5 .5h0m2 0h0m1 0h0m.5 0h0m2 0h0m.5 0h0m2.5 0h0m3 0h0m1 0h0m-12.5 .5h0m1.5 0h0m2 0h0m2.5 0h0m2.5 0h0m1.5 0h0m1.5 0h0m1.5 0h0m-10 .5h0m.5 0h0m.5 0h0m3 0h0m4 0h0m.5 0h0m-11 .5h0m6.5 0h0m2.5 0h0m.5 0h0m.5 0h0m.5 0h0m1.5 0h0m.5 0h0m-7 .5h0m1.5 0h0m.5 0h0m1 0h0m3.5 0h0m-9 .5h0m1 0h0m3 0h0m3.5 0h0m.5 0h0m-12 .5h0m.5 0h0m.5 0h0m1 0h0m1.5 0h0m5 0h0m3 0h0m.5 0h0m1 0h0m.5 0h0m-8.5 .5h0m1 0h0m7 0h0m-12.5 .5h0m.5 0h0m2 0h0m2.5 0h0m4.5 0h0m1 0h0m.5 0h0m.5 0h0m2 0h0m-11.5 .5h0m1 0h0m.5 0h0m.5 0h0m.5 0h0m1 0h0m2 0h0m1.5 0h0m3 0h0m-11 .5h0m1 0h0m.5 0h0m1 0h0m.5 0h0m1.5 0h0m1 0h0m2.5 0h0m1.5 0h0m.5 0h0m1.5 0h0m.5 0h0m-12 .5h0m3 0h0m1.5 0h0m3 0h0m.5 0h0m.5 0h0m.5 0h0m3 0h0m-10.5 .5h0m1 0h0m1 0h0m.5 0h0m1.5 0h0m.5 0h0m3 0h0m.5 0h0m-7.5 .5h0m3 0h0m6 0h0m-10.5 .5h0m4 0h0m-5 .5h0m1.5 0h0m.5 0h0m.5 0h0m1 0h0m.5 0h0m1 0h0m.5 0h0m.5 0h0m3.5 0h0m1.5 0h0m.5 0h0m1 0h0m-5.5 .5h0m.5 0h0m4 0h0m-12 .5h0m1.5 0h0m1.5 0h0m.5 0h0m2.5 0h0m1 0h0m.5 0h0m2.5 0h0m-10 .5h0m1 0h0m1 0h0m2 0h0m2.5 0h0m6.5 0h0m-12.5 .5h0m4.5 0h0m2.5 0h0m2 0h0m1 0h0m1.5 0h0m-9.5 .5h0m.5 0h0m.5 0h0m3.5 0h0m.5 0h0m1 0h0m4 0h0m-12 .5h0m1 0h0m5.5 0h0m4.5 0h0m-11.5 .5h0m3.5 0h0m.5 0h0m.5 0h0m.5 0h0m1.5 0h0m3.5 0h0m2 0h0m1 0h0m-12 .5h0m.5 0h0m2 0h0m1 0h0m.5 0h0m1 0h0m2 0h0m2.5 0h0m.5 0h0m.5 0h0m.5 0h0m-12 .5h0m2.5 0h0m1 0h0m1.5 0h0m4 0h0m.5 0h0m-9 .5h0m2.5 0h0m1.5 0h0m.5 0h0m1 0h0m2.5 0h0m1 0h0m.5 0h0m.5 0h0m2 0h0m.5 0h0m-9 .5h0m2 0h0m5.5 0h0m-11.5 .5h0m5 0h0m3 0h0m5 0h0m-11.5 20h0m3 0h0m2.5 0h0m1 0h0m3.5 0h0m.5 0h0m-7 .5h0m1.5 0h0m1 0h0m2.5 0h0m2.5 0h0m-11.5 .5h0m.5 0h0m2 0h0m3 0h0m1.5 0h0m1 0h0m-4.5 .5h0m1.5 0h0m.5 0h0m.5 0h0m3 0h0m1 0h0m1 0h0m-8 .5h0m.5 0h0m.5 0h0m.5 0h0m2 0h0m2 0h0m-8.5 .5h0m.5 0h0m6 0h0m1.5 0h0m1 0h0m-8 .5h0m1 0h0m.5 0h0m1.5 0h0m1 0h0m-5 .5h0m.5 0h0m3 0h0m1 0h0m1.5 0h0m2 0h0m2.5 0h0m-10 .5h0m1.5 0h0m2.5 0h0m2 0h0m.5 0h0m-4.5 .5h0m.5 0h0m1 0h0m1 0h0m1.5 0h0m.5 0h0m2 0h0m1.5 0h0m-10.5 .5h0m4 0h0m4 0h0m.5 0h0m1.5 0h0m.5 0h0m.5 0h0m-11 .5h0m1 0h0m2.5 0h0m3 0h0m1.5 0h0m.5 0h0m-8.5 .5h0m2 0h0m2.5 0h0m4.5 0h0m1.5 0h0m-10.5 .5h0m1 0h0m2.5 0h0m4.5 0h0m3 0h0m-11 .5h0m.5 0h0m.5 0h0m.5 0h0m3.5 0h0m.5 0h0m.5 0h0m.5 0h0m2.5 0h0m.5 0h0m1.5 0h0m-10.5 .5h0m.5 0h0m3 0h0m1 0h0m1 0h0m1 0h0m.5 0h0m2.5 0h0m-8 .5h0m4.5 0h0m1 0h0m.5 0h0m1 0h0m1 0h0m-8.5 .5h0m1 0h0m.5 0h0m1 0h0m.5 0h0m5 0h0m.5 0h0m1 0h0m-11 .5h0m1.5 0h0m.5 0h0m5 0h0m2 0h0m.5 0h0m.5 0h0m.5 0h0m-9 .5h0m3.5 0h0m5.5 0h0m-10 .5h0m1.5 0h0m2 0h0m.5 0h0m2 0h0m2.5 0h0m.5 0h0m1 0h0m-6 .5h0m.5 0h0m3.5 0h0m.5 0h0m1.5 0h0m-6.5 .5h0m.5 0h0m1 0h0m5.5 0h0m-11 .5h0m1 0h0m.5 0h0m2.5 0h0m.5 0h0m1 0h0m2.5 0h0m.5 0h0m.5 0h0m.5 0h0m.5 0h0m-7.5 .5h0m.5 0h0m1.5 0h0m1 0h0m1 0h0m.5 0h0m.5 0h0m1 0h0m.5 0h0m.5 0h0m1.5 0h0m-11 .5h0m2.5 0h0m1.5 0h0m.5 0h0m1.5 0h0m-3 .5h0m2 0h0m2 0h0m1 0h0m2 0h0m-10 .5h0m.5 0h0m4.5 0h0m1 0h0m.5 0h0m4 0h0m-7.5 .5h0m6 0h0" stroke="#000" stroke-opacity=".8" stroke-width="1.7" stroke-linecap="round" fill="none"/><path d="M125 51h0m0 7h0m0 5h0m0 1h0m.5 2h0m-.5 2h0m0 1h0m0 1h0m0 2h0m0 5h0m0 2h0m0 2h0" stroke="#111" stroke-opacity=".8" stroke-width="1.5" stroke-linecap="round" fill="none"/><path d="M125.1 84.4V116.6M125.1 138.1V148.6" stroke="#333" stroke-width=".5"/><rect x="112.8" y="116.6" width="24.6" height="21.4" fill="#1CB4B9" stroke="#000" stroke-opacity=".45" stroke-width=".6"/><path d="M112.8 129.5H137.4" stroke="#000" stroke-opacity=".5" stroke-width="1.1"/><path d="M157.2 150.6l6.1-.5l2.1-2l2.1-2.5l1.9-3l1.4-3l-1.3-7l-7.4-28.7l-1.5-8.1l-2.7-17.1l-.6-13.1l-0-16.6l-.2-.5l0 0l-.2 .5l-0 16.6l-.6 13.1l-2.7 17.1l-1.5 8.1l-7.4 28.7l-1.3 7l1.4 3l1.9 3l2.1 2.5l2.1 2l6.1 .5z" fill="#A07FBD" stroke="#333" stroke-width=".55"/><path d="M151.5 56.5h0m4 3h0m-.5 3.5h0m8.5 2.5h0m-5 .5h0m-6 .5h0m10.5 2h0m-10.5 3h0m0 1h0m2 4h0m1.5 2h0m2.5 1h0m4.5 0h0m-9.5 5h0m8 0h0m-10 1h0m5 0h0m5 3h0m-7.5 1.5h0m5 0h0m-4 .5h0m-1 .5h0m9 0h0m.5 0h0m-11.5 1.5h0m8 0h0m1.5 .5h0m1.5 0h0m-7.5 1h0m-4.5 .5h0m1.5 .5h0m2 0h0m4.5 0h0m-6 .5h0m4 1h0m2.5 0h0m1 0h0m-8 .5h0m-1.5 .5h0m7.5 0h0m1.5 0h0m3.5 .5h0m-11.5 .5h0m2 0h0m4 0h0m.5 0h0m5 0h0m-4.5 .5h0m2.5 0h0m.5 0h0m-4 .5h0m3 0h0m2.5 .5h0m-9.5 .5h0m2 0h0m3 0h0m-6 2h0m3.5 .5h0m-5 .5h0m7.5 0h0m-7.5 .5h0m3 0h0m3.5 0h0m2.5 0h0m-8.5 .5h0m2 0h0m-2.5 .5h0m2 1.5h0m.5 0h0m1 .5h0m2 .5h0m.5 0h0m-5.5 .5h0m3 0h0m1 0h0m5 0h0m-7 .5h0m5.5 0h0m.5 0h0m-2.5 .5h0m-2.5 1.5h0m2 0h0m-.5 .5h0m5 0h0m-3.5 1h0m-5.5 1h0m2.5 0h0m2 0h0m1.5 0h0m2 0h0m-5 .5h0m1.5 0h0m2.5 1h0m-4 24h0m-3.5 .5h0m3 0h0m1.5 .5h0m4.5 0h0m-7.5 .5h0m1 0h0m5.5 0h0m1.5 0h0m-9 .5h0m5 0h0m4.5 0h0m-2.5 .5h0m-3.5 .5h0m3 0h0m3 0h0m-10 .5h0m5.5 0h0m2.5 0h0m2.5 0h0m-5 .5h0m4.5 0h0m-6 .5h0m1 0h0m.5 0h0m-6 .5h0m4 0h0m4.5 0h0m3 0h0m-11.5 .5h0m1.5 0h0m.5 0h0m-2 .5h0m.5 0h0m.5 0h0m5.5 0h0m1.5 0h0m1.5 0h0m-9.5 .5h0m7 0h0m2 0h0m1.5 0h0m.5 0h0m-10 .5h0m1.5 0h0m4 0h0m2 0h0m1.5 0h0m1 0h0m-5.5 .5h0m6 0h0m-2.5 .5h0m2.5 0h0m-10 1h0m1.5 0h0m1 0h0m3.5 0h0m1 0h0m-5.5 .5h0m1.5 0h0m1 0h0m4.5 0h0m-7.5 .5h0m-1 .5h0m5.5 0h0m2 0h0m1.5 0h0m-5 .5h0m1.5 0h0m1.5 0h0m-3.5 .5h0m.5 0h0m3.5 0h0m.5 0h0m-3.5 .5h0m5.5 0h0m-11 .5h0m.5 0h0m2 0h0m2 0h0m5 0h0m-1.5 .5h0" stroke="#000" stroke-opacity=".8" stroke-width="1.7" stroke-linecap="round" fill="none"/><path d="M158.5 49h0m-2 18h0m-3 4.5h0m-1.5 3.5h0m1 0h0m7 7.5h0m-2.5 .5h0m-1.5 1h0m5.5 0h0m-10.5 1h0m7.5 1h0m3 0h0m1 .5h0m-3 .5h0m4 0h0m-8.5 .5h0m1 0h0m-.5 .5h0m-4 1h0m9.5 0h0m-4.5 1h0m4 0h0m-8.5 .5h0m5 0h0m4.5 0h0m-9.5 1h0m7.5 0h0m3.5 1h0m-1.5 .5h0m-8 1h0m3 0h0m3.5 0h0m-2 .5h0m-4.5 2.5h0m2 1h0m4.5 0h0m-3 1h0m-3.5 .5h0m1.5 0h0m3.5 0h0m1.5 0h0m.5 0h0m-7 .5h0m-1 .5h0m4.5 0h0m-1.5 .5h0m3.5 0h0m3.5 .5h0m-11 .5h0m3 .5h0m5.5 0h0m-3.5 2h0m3.5 0h0m1.5 0h0m-3.5 .5h0m-4 .5h0m1.5 0h0m1 .5h0m-5 .5h0m5.5 1h0m.5 .5h0m6 0h0m-11.5 .5h0m1 .5h0m2.5 0h0m1.5 0h0m6.5 0h0m-12 .5h0m2 0h0m5 .5h0m-1 .5h0m-4 .5h0m3.5 0h0m3.5 .5h0m-6.5 .5h0m4 .5h0m5.5 0h0m-10.5 .5h0m4.5 .5h0m.5 25h0m-4.5 .5h0m1.5 0h0m1.5 0h0m-3.5 .5h0m.5 0h0m1 0h0m4.5 0h0m3.5 0h0m-6 .5h0m4 0h0m1.5 0h0m-10 .5h0m2 0h0m1.5 0h0m4.5 0h0m2 0h0m-10.5 .5h0m3.5 0h0m2 0h0m6 0h0m-4.5 .5h0m.5 0h0m1.5 0h0m-6 .5h0m4 0h0m-6.5 .5h0m.5 0h0m5.5 0h0m3 0h0m-9.5 .5h0m2 0h0m.5 0h0m3 0h0m.5 0h0m.5 0h0m2 0h0m-7.5 .5h0m2 0h0m4 0h0m-1 .5h0m2 0h0m-8 .5h0m.5 0h0m2 0h0m2.5 0h0m2.5 0h0m-4 .5h0m-1 .5h0m3 0h0m.5 0h0m1.5 0h0m2 0h0m1.5 0h0m-9.5 .5h0m1 0h0m6 0h0m3 0h0m-9.5 .5h0m7 0h0m1.5 0h0m.5 0h0m-10.5 .5h0m4.5 0h0m5 0h0m-5 .5h0m4.5 0h0m1 0h0m1 0h0m-6 .5h0m3 0h0m-7 .5h0m.5 0h0m5.5 0h0m4 .5h0m-9.5 .5h0m4.5 0h0m-2.5 .5h0m1 0h0m.5 0h0m4.5 0h0m-6 .5h0m5.5 0h0m-9.5 .5h0m11 0h0m-5.5 .5h0m3.5 0h0m.5 0h0" stroke="#000" stroke-opacity=".8" stroke-width="1.7" stroke-linecap="round" fill="none"/><path d="M157 49h0m0 1h0m0 2h0m0 1h0m0 1h0m0 1h0m0 2h0m0 3h0m0 2h0m.5 1h0m0 1h0m0 2h0m-.5 4h0m0 4h0m.5 2h0" stroke="#111" stroke-opacity=".8" stroke-width="1.5" stroke-linecap="round" fill="none"/><path d="M157.2 77.4V114.3M157.2 138.8V150.6" stroke="#333" stroke-width=".5"/><rect x="144.9" y="114.3" width="24.6" height="24.6" fill="#A07FBD" stroke="#000" stroke-opacity=".45" stroke-width=".6"/><path d="M144.9 131.4H169.5" stroke="#000" stroke-opacity=".5" stroke-width="1.1"/><rect x="41.5" y="18.2" width="135" height="139.3" fill="none" stroke="#555" stroke-width="1"/><path d="M41.5 17.7V158" stroke="#333" stroke-width="1"/><clipPath id="c2"><rect x="41.5" y="17.6" width="135" height="139.9"/></clipPath><g clip-path="url(#c2)"><path d="M60.8 47.7V44.7H92.9V47.7" fill="none" stroke="#222" stroke-width=".75"/><text x="76.9" y="42.8" font-size="7" fill="#333" color="#333" text-anchor="middle">P&lt;2.22e−16</text><path d="M92.9 37.5V34.5H125.1V37.5" fill="none" stroke="#222" stroke-width=".75"/><text x="109" y="32.6" font-size="7" fill="#333" color="#333" text-anchor="middle">0.63</text><path d="M125.1 27.2V24.2H157.2V27.2" fill="none" stroke="#222" stroke-width=".75"/><text x="141.1" y="23.3" font-size="7" fill="#333" color="#333" text-anchor="middle">0.55</text></g><path d="M37.3 156.4H41.5" stroke="#333" stroke-width=".8"/><text x="33.2" y="160" font-size="10.2" fill="#1a1a1a" color="#1a1a1a" text-anchor="end">0</text><path d="M37.3 117.4H41.5" stroke="#333" stroke-width=".8"/><text x="33.2" y="121" font-size="10.2" fill="#1a1a1a" color="#1a1a1a" text-anchor="end">1</text><path d="M37.3 78.4H41.5" stroke="#333" stroke-width=".8"/><text x="33.2" y="82" font-size="10.2" fill="#1a1a1a" color="#1a1a1a" text-anchor="end">2</text><path d="M37.3 39.4H41.5" stroke="#333" stroke-width=".8"/><text x="33.2" y="43" font-size="10.2" fill="#1a1a1a" color="#1a1a1a" text-anchor="end">3</text><path d="M60.8 157.5V161.7" stroke="#333" stroke-width=".8"/><text x="57.6" y="172.4" font-size="7.7" fill="#2a2a2a" color="#2a2a2a" text-anchor="middle">Stage I</text><path d="M92.9 157.5V161.7" stroke="#333" stroke-width=".8"/><text x="91.5" y="172.4" font-size="7.7" fill="#2a2a2a" color="#2a2a2a" text-anchor="middle">Stage II</text><path d="M125.1 157.5V161.7" stroke="#333" stroke-width=".8"/><text x="126.2" y="172.4" font-size="7.7" fill="#2a2a2a" color="#2a2a2a" text-anchor="middle">Stage III</text><path d="M157.2 157.5V161.7" stroke="#333" stroke-width=".8"/><text x="162.2" y="172.4" font-size="7.7" fill="#2a2a2a" color="#2a2a2a" text-anchor="middle">Stage IV</text><text transform="translate(19 87.8) rotate(-90) scale(.9 1)" font-size="10.5" fill="#222" color="#222" text-anchor="middle" y="3.7">Expression</text><text transform="translate(108.4 9.1) scale(.86 1)" font-size="11.3" font-style="italic" fill="#1a1a1a" color="#1a1a1a" text-anchor="middle">C1GALT1C1</text>
<g stroke="#ECECEC" stroke-width=".6"><path d="M213.5 142H348.5"/><path d="M213.5 115.3H348.5"/><path d="M213.5 88.7H348.5"/><path d="M213.5 62H348.5"/><path d="M213.5 35.3H348.5"/></g><g stroke="#E8E8E8" stroke-width=".65"><path d="M213.5 155.3H348.5"/><path d="M213.5 128.6H348.5"/><path d="M213.5 102H348.5"/><path d="M213.5 75.3H348.5"/><path d="M213.5 48.7H348.5"/><path d="M213.5 22H348.5"/><path d="M232.8 18.2V157.5"/><path d="M264.9 18.2V157.5"/><path d="M297.1 18.2V157.5"/><path d="M329.2 18.2V157.5"/></g><path d="M232.8 149.4l.4-.5l1-.5l1.4-1l1.5-1.5l1.2-2.5l1.9-5l2.4-9.6l.8-10.6l-1-14.1l-1.6-8.6l-2.7-7.1l-4.1-7.6l-.6-10.6l-.4-2.5l-0-4.5l-.3 0l-0 4.5l-.4 2.5l-.6 10.6l-4.1 7.6l-2.7 7.1l-1.6 8.6l-1 14.1l.8 10.6l2.4 9.6l1.9 5l1.2 2.5l1.5 1.5l1.4 1l1 .5l.4 .5z" fill="#E87068" stroke="#333" stroke-width=".55"/><path d="M237 63h0m-8.5 2h0m6 3h0m4.5 8.5h0m-2.5 .5h0m-6 4h0m8.5 1h0m-11 1h0m10.5 1h0m-11 .5h0m10.5 0h0m-8.5 6h0m-1 1h0m5.5 0h0m3 .5h0m-1.5 1h0m.5 0h0m-4.5 1h0m3 0h0m2.5 0h0m-8 1h0m8 0h0m-7.5 .5h0m1.5 0h0m1.5 .5h0m1 0h0m0 .5h0m-4 1h0m2 0h0m2.5 0h0m1.5 .5h0m-7.5 .5h0m8 1.5h0m1.5 0h0m-6.5 .5h0m.5 0h0m2.5 0h0m1 0h0m-3 .5h0m4.5 0h0m-8 .5h0m6 0h0m-5 1h0m6 0h0m1 0h0m-8 1.5h0m3.5 0h0m-3 1h0m2 .5h0m4 0h0m-2 1h0m1 .5h0m2.5 0h0m.5 1h0m-8.5 .5h0m8 0h0m-7.5 .5h0m2.5 .5h0m1 0h0m2 .5h0m2 .5h0m-5.5 1h0m.5 0h0m4.5 .5h0m3 0h0m-6 .5h0m.5 .5h0m5 0h0m-6.5 1h0m.5 0h0m-6 .5h0m2.5 0h0m8.5 0h0m-3.5 .5h0m5 0h0m-1.5 .5h0m-9 .5h0m5.5 1h0m-5.5 .5h0m7.5 .5h0m-3 .5h0m5.5 0h0m-2 .5h0m-6.5 .5h0m-1 .5h0m-1.5 .5h0m4.5 0h0m1.5 0h0m-5.5 1h0m-1 .5h0m6 .5h0m4 .5h0m2 0h0m-4.5 .5h0m-1 .5h0m0 .5h0m5 0h0m-8 2.5h0m3 0h0m-4 .5h0m5 1h0m-3.5 .5h0m6.5 .5h0m-9.5 1h0m6.5 0h0m-6.5 1h0m.5 0h0m1.5 0h0m-3.5 .5h0m2 0h0m1.5 0h0m4 0h0m2 0h0m-5 .5h0m1.5 .5h0m2.5 0h0m4 0h0m-5.5 .5h0m5 1.5h0m.5 0h0m-9 1h0m7.5 1h0m1.5 0h0m-9 1h0m5.5 1h0m3.5 .5h0m-12.5 1h0m11.5 0h0m1 2.5h0m-.5 .5h0m-5 .5h0m-3 .5h0m.5 1h0m-4 1h0m1 1.5h0" stroke="#000" stroke-opacity=".8" stroke-width="1.7" stroke-linecap="round" fill="none"/><path d="M232 73h0m5.5 0h0m-1.5 1.5h0m-4 6.5h0m5 3.5h0m-8.5 1.5h0m9.5 0h0m-10.5 .5h0m-1 1.5h0m12 1h0m-1 1h0m-10.5 .5h0m4 0h0m4 0h0m-3.5 .5h0m-2.5 .5h0m0 1h0m7 0h0m2 0h0m-9 .5h0m7 .5h0m-3.5 .5h0m-6 .5h0m12.5 0h0m-11.5 1.5h0m7.5 .5h0m-7.5 .5h0m2 .5h0m9.5 0h0m-1.5 1h0m-3.5 1h0m-4 .5h0m5.5 1h0m-9 .5h0m1.5 0h0m1 0h0m9.5 .5h0m-10.5 .5h0m-.5 1h0m10.5 1h0m-8.5 2h0m6 0h0m-2 .5h0m.5 .5h0m4 .5h0m-3.5 .5h0m3.5 .5h0m-6 1h0m3.5 .5h0m2 0h0m-4.5 .5h0m3 0h0m-9 .5h0m8.5 0h0m1.5 0h0m-10 .5h0m1 1h0m2.5 0h0m-4 1h0m5.5 0h0m6.5 0h0m-11 .5h0m4 0h0m-5 3.5h0m8.5 0h0m-7.5 .5h0m6 0h0m-2.5 1h0m-1 .5h0m4 .5h0m-6.5 1h0m1.5 1h0m2.5 0h0m-1.5 1h0m1.5 0h0m-1 1.5h0m8.5 0h0m-6 .5h0m2.5 0h0m1.5 0h0m2 .5h0m-4.5 .5h0m3 0h0m1.5 0h0m-4.5 1h0m4 0h0m-5 .5h0m4.5 0h0m-11.5 .5h0m10 0h0m2 0h0m-10.5 .5h0m11 0h0m-8.5 .5h0m-1.5 1h0m3.5 .5h0m-.5 1.5h0m-5.5 1.5h0m5 .5h0m-2.5 .5h0m5 0h0m5 0h0m-2 1h0m-5.5 .5h0m.5 1h0m3 0h0m3 .5h0m-3.5 1.5h0m.5 0h0m-.5 .5h0m-6.5 .5h0m10.5 0h0m.5 0h0m-7.5 .5h0m5.5 0h0m-7.5 .5h0m2 .5h0m-2.5 .5h0m8.5 .5h0m-6 1.5h0m5.5 0h0m-3.5 1.5h0m1 0h0m-7.5 .5h0m4.5 .5h0m7 0h0m-6.5 .5h0m3.5 .5h0" stroke="#000" stroke-opacity=".8" stroke-width="1.7" stroke-linecap="round" fill="none"/><path d="M232.5 63h0m.5 1h0m0 1h0m0 1h0" stroke="#111" stroke-opacity=".8" stroke-width="1.5" stroke-linecap="round" fill="none"/><path d="M232.8 66.9V104.1M232.8 128.9V149.4" stroke="#333" stroke-width=".5"/><rect x="220.5" y="104.1" width="24.6" height="24.8" fill="#E87068" stroke="#000" stroke-opacity=".45" stroke-width=".6"/><path d="M220.5 118.5H245.1" stroke="#000" stroke-opacity=".5" stroke-width="1.1"/><path d="M264.9 149.7l5.7-.5l2.3-1l3.2-2l1.2-1.5l1.5-2.5l.8-4.5l-1.2-5l-5.6-9.1l-1.9-3.5l-1.9-7.6l-2.1-18.7l-1.2-5l-.6-23.7l-.3 0l-.6 23.7l-1.2 5l-2.1 18.7l-1.9 7.6l-1.9 3.5l-5.6 9.1l-1.2 5l.8 4.5l1.5 2.5l1.2 1.5l3.2 2l2.3 1l5.7 .5z" fill="#7AA82F" stroke="#333" stroke-width=".55"/><linearGradient id="m3_1_0" gradientUnits="userSpaceOnUse" x1="0" y1="139.5" x2="0" y2="151.5"><stop offset="0.042" stop-opacity="0.77"/><stop offset="0.208" stop-opacity="0.77"/><stop offset="0.375" stop-opacity="0.77"/><stop offset="0.542" stop-opacity="0.77"/><stop offset="0.708" stop-opacity="0.77"/><stop offset="0.875" stop-opacity="0.77"/><stop offset="0.958" stop-opacity="0.77"/></linearGradient><path d="M271.2 139.5 271.2 140 271.2 141 271.2 142 271.2 143 271.2 144 271.2 145 271.2 146 271.2 147 271.2 148 271.2 149 271.2 150 271.2 151 271.2 151.5 258.6 151.5 258.6 151 258.6 150 258.6 149 258.6 148 258.6 147 258.6 146 258.6 145 258.6 144 258.6 143 258.6 142 258.6 141 258.6 140 258.6 139.5z" fill="url(#m3_1_0)"/><linearGradient id="m3_1_1" gradientUnits="userSpaceOnUse" x1="0" y1="109.5" x2="0" y2="120.5"><stop offset="0.045" stop-opacity="0.04"/><stop offset="0.227" stop-opacity="0.11"/><stop offset="0.409" stop-opacity="0.18"/><stop offset="0.591" stop-opacity="0.25"/><stop offset="0.773" stop-opacity="0.31"/><stop offset="0.955" stop-opacity="0.38"/><stop offset="0.955" stop-opacity="0.38"/></linearGradient><path d="M271.2 109.5 271.2 110 271.2 111 271.2 112 271.2 113 271.2 114 271.2 115 271.2 116 271.2 117 271.2 118 271.2 119 271.2 120 271.2 120.5 258.6 120.5 258.6 120 258.6 119 258.6 118 258.6 117 258.6 116 258.6 115 258.6 114 258.6 113 258.6 112 258.6 111 258.6 110 258.6 109.5z" fill="url(#m3_1_1)"/><path d="M270 65.5h0m-9.5 1h0m11 8.5h0m-5.5 3h0m-1 8.5h0m-5.5 1h0m9.5 0h0m-5 .5h0m-4.5 .5h0m2.5 0h0m2 0h0m3 0h0m-2 .5h0m-3 .5h0m.5 0h0m3 0h0m.5 0h0m-7.5 .5h0m5 0h0m.5 0h0m3.5 0h0m4 0h0m-6 .5h0m-2 .5h0m4.5 0h0m-6 .5h0m2 0h0m1.5 0h0m2.5 0h0m-9.5 .5h0m1 0h0m4.5 0h0m4.5 0h0m-6 .5h0m1.5 .5h0m1 0h0m-5 .5h0m4.5 0h0m-5 .5h0m1.5 0h0m1.5 0h0m.5 0h0m1.5 0h0m-5 .5h0m4 0h0m1 0h0m5.5 0h0m.5 0h0m-4 .5h0m.5 1h0m1 0h0m2.5 0h0m-11.5 .5h0m3 0h0m3 0h0m1.5 0h0m0 .5h0m-6 .5h0m3.5 0h0m6.5 0h0m-10.5 .5h0m3.5 0h0m7 0h0m-11.5 .5h0m5.5 0h0m2.5 0h0m3.5 0h0m-6 .5h0m1.5 0h0m-6 .5h0m1.5 0h0m4 0h0m1.5 .5h0m-.5 .5h0m3.5 0h0m0 .5h0m-8 .5h0m3 0h0m-4 .5h0m.5 0h0m.5 0h0m2 0h0m.5 0h0m.5 0h0m-4.5 .5h0m3 0h0m1 0h0m1.5 0h0m1.5 0h0m-5.5 .5h0m4.5 0h0m1.5 0h0m1 0h0m2 0h0m-11 .5h0m2.5 0h0m0 .5h0m1 0h0m1 0h0m3 0h0m1 0h0m1.5 0h0m-11 .5h0m3 0h0m3 0h0m.5 0h0m-7 .5h0m3 0h0m2 0h0m1 0h0m6 .5h0m-8.5 .5h0m3.5 0h0m1 0h0m.5 0h0m2.5 0h0m-3 .5h0m1 0h0m-6 .5h0m1 0h0m.5 0h0m4.5 0h0m-9 .5h0m.5 0h0m.5 0h0m2 0h0m1.5 0h0m1.5 0h0m2.5 0h0m4 0h0m-1.5 .5h0m-7 .5h0m5 0h0m.5 0h0m2.5 0h0m-12 .5h0m1 0h0m9 0h0m-9 .5h0m1 0h0m0 .5h0m2 0h0m3 0h0m1.5 .5h0m2 0h0m1.5 0h0m-7.5 .5h0m6.5 0h0m.5 0h0m.5 0h0m.5 0h0m-10 .5h0m7.5 0h0m-9.5 .5h0m4 0h0m2 0h0m3 0h0m.5 0h0m-9.5 .5h0m1.5 0h0m2.5 0h0m3 0h0m.5 0h0m3.5 0h0m1.5 0h0m-12 .5h0m3.5 0h0m1.5 0h0m4.5 0h0m-10.5 .5h0m13 0h0m-10 .5h0m1.5 0h0m.5 0h0m3.5 0h0m.5 0h0m2 0h0m-11 .5h0m1 0h0m1 0h0m4.5 0h0m2 0h0m3.5 0h0m-12 .5h0m.5 0h0m.5 0h0m2.5 0h0m2.5 0h0m1 0h0m4 0h0m-8.5 .5h0m1 0h0m2 0h0m3.5 0h0m.5 0h0m3.5 0h0m-8.5 .5h0m.5 0h0m1 0h0m1 0h0m1 0h0m3 0h0m-8 .5h0m.5 0h0m5.5 0h0m.5 0h0m1.5 0h0m-10 .5h0m2 0h0m2.5 0h0m3.5 0h0m.5 0h0m1 0h0m-7 .5h0m5 0h0m1 0h0m3.5 0h0m-12 .5h0m3 0h0m3 0h0m2 0h0m2 0h0m-11 .5h0m1 0h0m.5 0h0m7 0h0m3.5 0h0m1 0h0m-8 .5h0m2 0h0m-5.5 .5h0m3.5 0h0m2 0h0m-6.5 .5h0m2 0h0m4 0h0m-3 .5h0m2.5 0h0m-1.5 19h0m4 0h0m3.5 0h0m-10.5 .5h0m3 0h0m3.5 0h0m.5 0h0m2 0h0m1 0h0m-11.5 .5h0m4 0h0m1 0h0m2 0h0m1 0h0m.5 0h0m1 0h0m.5 0h0m-9 .5h0m1 0h0m5 0h0m2 0h0m3 0h0m-9.5 .5h0m2.5 0h0m-.5 .5h0m4 0h0m.5 0h0m2 0h0m-10 .5h0m.5 0h0m.5 0h0m.5 0h0m1.5 0h0m4 0h0m2 0h0m1 0h0m1.5 0h0m-12 .5h0m.5 0h0m.5 0h0m2 0h0m3 0h0m1 0h0m1 0h0m1.5 0h0m.5 0h0m1.5 0h0m-11.5 .5h0m1.5 0h0m1 0h0m2 0h0m3.5 0h0m-7.5 .5h0m3.5 0h0m.5 0h0m1.5 0h0m2 0h0m3.5 0h0m-7 .5h0m1.5 0h0m1.5 0h0m.5 0h0m1.5 0h0m2.5 0h0m-12 .5h0m4 0h0m2 0h0m1.5 0h0m1.5 0h0m.5 0h0m1.5 0h0m1 0h0m-7.5 .5h0m2 0h0m1.5 0h0m2.5 0h0m.5 0h0m.5 0h0m.5 0h0m-12.5 .5h0m1.5 0h0m.5 0h0m3 0h0m4 0h0m3.5 0h0m-11.5 .5h0m1.5 0h0m2 0h0m2 0h0m2 0h0m2 0h0m1.5 0h0m-10.5 .5h0m.5 0h0m.5 0h0m.5 0h0m.5 0h0m.5 0h0m-3.5 .5h0m4.5 0h0m1 0h0m.5 0h0m1 0h0m2.5 0h0m.5 0h0m2 0h0m-8 .5h0m4 0h0m3.5 0h0m-12 .5h0m.5 0h0m1 0h0m3 0h0m3 0h0m5.5 0h0m-13 .5h0m1.5 0h0m.5 0h0m1 0h0m1 0h0m2.5 0h0m.5 0h0m-7 .5h0m.5 0h0m1 0h0m7 0h0m.5 0h0m.5 0h0m2.5 0h0m.5 0h0m.5 0h0m-11 .5h0m2 0h0m.5 0h0m1 0h0m1 0h0m1 0h0m.5 0h0m.5 0h0m2 0h0m.5 0h0m-11 .5h0m1.5 0h0m.5 0h0m6 0h0m1.5 0h0m2 0h0m-11.5 .5h0m.5 0h0m2 0h0m1 0h0m.5 0h0m5.5 0h0m1 0h0m1.5 0h0m.5 0h0m-11.5 .5h0m3 0h0m3.5 0h0" stroke="#000" stroke-opacity=".8" stroke-width="1.7" stroke-linecap="round" fill="none"/><path d="M267.5 70.5h0m3.5 1h0m-4.5 13h0m-.5 4h0m-.5 1h0m-7 1h0m1 0h0m9 0h0m1.5 0h0m1 0h0m-12 .5h0m-.5 .5h0m4 0h0m.5 0h0m-3 .5h0m5.5 0h0m1 0h0m4.5 0h0m-11 .5h0m11.5 0h0m-8 .5h0m-4 .5h0m8 0h0m2 0h0m2 0h0m-12.5 .5h0m3.5 0h0m-3 .5h0m8.5 0h0m-6 .5h0m3.5 .5h0m5 0h0m-11 .5h0m4.5 0h0m1 0h0m-6 .5h0m4 0h0m3.5 0h0m-4.5 .5h0m-3 .5h0m4 0h0m1.5 0h0m0 .5h0m1.5 0h0m-5 .5h0m1.5 0h0m1.5 0h0m7 0h0m-10 .5h0m4 0h0m.5 0h0m2 0h0m1.5 0h0m.5 0h0m-4 .5h0m2 0h0m2 0h0m-10 .5h0m2.5 0h0m3.5 0h0m2.5 0h0m1 0h0m-8.5 .5h0m2.5 0h0m3 0h0m2.5 0h0m1 .5h0m.5 0h0m-9 .5h0m.5 0h0m1.5 .5h0m1.5 0h0m4.5 0h0m-8.5 .5h0m1 0h0m3.5 0h0m1.5 0h0m2 0h0m.5 0h0m1 0h0m-9.5 .5h0m3.5 0h0m1 0h0m4.5 .5h0m-3 .5h0m2.5 0h0m1.5 0h0m-8.5 .5h0m1.5 0h0m.5 0h0m4.5 0h0m-2 .5h0m4.5 0h0m-8.5 .5h0m.5 0h0m1.5 0h0m-5.5 .5h0m1.5 0h0m2.5 0h0m8 0h0m-12.5 .5h0m.5 0h0m.5 0h0m4 0h0m3.5 0h0m3.5 0h0m-10 .5h0m1 0h0m4 0h0m-3.5 .5h0m8 0h0m-9.5 .5h0m1.5 0h0m8 0h0m.5 0h0m-10.5 .5h0m1 0h0m3.5 0h0m3.5 0h0m.5 0h0m-5.5 .5h0m5 0h0m1 0h0m-10.5 .5h0m1.5 0h0m1.5 0h0m2.5 0h0m2.5 0h0m-5.5 .5h0m7.5 0h0m-9 .5h0m5.5 0h0m1 0h0m1 0h0m2.5 0h0m1 0h0m1 0h0m-10.5 .5h0m5.5 0h0m1 0h0m2 0h0m-9.5 .5h0m.5 0h0m4.5 0h0m1.5 0h0m.5 0h0m2 0h0m2 0h0m-12 .5h0m1 .5h0m1.5 0h0m3 0h0m1.5 0h0m4 0h0m.5 0h0m.5 0h0m-11.5 .5h0m8 0h0m1 0h0m2.5 0h0m-7 .5h0m1 0h0m.5 0h0m-2.5 .5h0m1.5 0h0m1 0h0m3 0h0m1 0h0m-11 .5h0m1 0h0m4 0h0m.5 0h0m.5 0h0m-6 .5h0m1 0h0m.5 0h0m1 0h0m1 0h0m6 0h0m.5 0h0m2 0h0m-11 .5h0m2.5 0h0m.5 0h0m3 0h0m1.5 0h0m1 0h0m-5 .5h0m.5 0h0m4.5 0h0m-6 .5h0m4.5 0h0m1 0h0m2.5 0h0m-11.5 .5h0m2 0h0m1.5 0h0m2 0h0m.5 0h0m1 0h0m1.5 0h0m4.5 0h0m-11 .5h0m1.5 0h0m2.5 0h0m.5 0h0m.5 0h0m2 0h0m2 0h0m-9.5 .5h0m.5 0h0m1 0h0m2 0h0m2.5 0h0m3.5 0h0m-10 .5h0m4.5 0h0m.5 0h0m1 0h0m5 0h0m1 0h0m-10.5 .5h0m2 0h0m2.5 0h0m1 0h0m1 0h0m3 0h0m-11 .5h0m2.5 0h0m1.5 0h0m1.5 0h0m3 0h0m1.5 0h0m1.5 0h0m-12 .5h0m.5 0h0m.5 0h0m2.5 0h0m2 0h0m1.5 0h0m.5 0h0m2 0h0m3 0h0m-12.5 .5h0m.5 0h0m8 0h0m1.5 0h0m1.5 0h0m-10.5 19h0m2 0h0m5.5 0h0m1.5 0h0m1 0h0m-11.5 .5h0m1 0h0m1.5 0h0m1.5 0h0m1.5 0h0m.5 0h0m1 0h0m.5 0h0m.5 0h0m-4.5 .5h0m1 0h0m1 0h0m1.5 0h0m.5 0h0m1 0h0m.5 0h0m2 0h0m.5 0h0m.5 0h0m.5 0h0m-9 .5h0m.5 0h0m5 0h0m-8 .5h0m1.5 0h0m3 0h0m4.5 0h0m2 0h0m-12 .5h0m5 0h0m5.5 0h0m1 0h0m-11.5 .5h0m2.5 0h0m1 0h0m1.5 0h0m2.5 0h0m2.5 0h0m.5 0h0m.5 0h0m.5 0h0m.5 0h0m-10 .5h0m1.5 0h0m.5 0h0m1.5 0h0m2 0h0m3 0h0m2 0h0m-12.5 .5h0m3.5 0h0m2 0h0m3.5 0h0m.5 0h0m1 0h0m1.5 0h0m-10 .5h0m.5 0h0m.5 0h0m1.5 0h0m.5 0h0m1.5 0h0m3 0h0m2 0h0m1 0h0m-12.5 .5h0m5 0h0m1 0h0m2 0h0m2 0h0m2.5 0h0m-12 .5h0m3 0h0m2.5 0h0m3 0h0m-8.5 .5h0m.5 0h0m1.5 0h0m.5 0h0m1 0h0m1.5 0h0m5.5 0h0m.5 0h0m-11.5 .5h0m1.5 0h0m1 0h0m9.5 0h0m-11.5 .5h0m3 0h0m.5 0h0m6 0h0m1 0h0m1 0h0m.5 0h0m-12 .5h0m.5 0h0m2 0h0m1.5 0h0m1.5 0h0m1.5 0h0m2.5 0h0m1 0h0m1.5 0h0m-12.5 .5h0m1.5 0h0m4.5 0h0m.5 0h0m4.5 0h0m-11 .5h0m.5 0h0m.5 0h0m.5 0h0m.5 0h0m.5 0h0m.5 0h0m1 .5h0m2.5 0h0m-6 .5h0m1 0h0m1 0h0m1.5 0h0m6 0h0m1.5 0h0m1 0h0m.5 0h0m-12.5 .5h0m9.5 0h0m.5 0h0m1 0h0m1 0h0m-11 .5h0m1.5 0h0m.5 0h0m1 0h0m.5 0h0m.5 0h0m4 0h0m-4.5 .5h0m.5 0h0m1 0h0m1.5 0h0m.5 0h0m.5 0h0m3 0h0m-11 .5h0m.5 0h0m.5 0h0m2 0h0m2.5 0h0m1 0h0m1 0h0m1.5 0h0m1 0h0m.5 0h0m-10.5 .5h0m8.5 0h0" stroke="#000" stroke-opacity=".8" stroke-width="1.7" stroke-linecap="round" fill="none"/><path d="M265 65.5h0m0 .5h0m-.5 2h0m0 1h0m.5 1h0m0 1h0m0 1h0m0 2h0m0 4h0m0 2h0m0 4h0" stroke="#111" stroke-opacity=".8" stroke-width="1.5" stroke-linecap="round" fill="none"/><path d="M264.9 90.9V120.1M264.9 139.6V149.7" stroke="#333" stroke-width=".5"/><rect x="252.6" y="120.1" width="24.6" height="19.5" fill="#7AA82F" stroke="#000" stroke-opacity=".45" stroke-width=".6"/><path d="M252.6 132.1H277.2" stroke="#000" stroke-opacity=".5" stroke-width="1.1"/><path d="M297.1 150.8l5.3-.5l1.8-1.5l1.4-1.5l1.9-2.5l.2-.5l1-4.5l.5-3.5l-.7-9.1l-2.9-11.6l-3-13.1l-4.1-21.7l-1-13.1l-.3-18.7l-.1-.5l0 0l-.1 .5l-.3 18.7l-1 13.1l-4.1 21.7l-3 13.1l-2.9 11.6l-.7 9.1l.5 3.5l1 4.5l.2 .5l1.9 2.5l1.4 1.5l1.8 1.5l5.3 .5z" fill="#1CB4B9" stroke="#333" stroke-width=".55"/><linearGradient id="m3_2_0" gradientUnits="userSpaceOnUse" x1="0" y1="135.5" x2="0" y2="152.5"><stop offset="0.029" stop-opacity="0.92"/><stop offset="0.147" stop-opacity="0.92"/><stop offset="0.265" stop-opacity="0.92"/><stop offset="0.382" stop-opacity="0.92"/><stop offset="0.500" stop-opacity="0.92"/><stop offset="0.618" stop-opacity="0.92"/><stop offset="0.735" stop-opacity="0.92"/><stop offset="0.853" stop-opacity="0.92"/><stop offset="0.971" stop-opacity="0.92"/><stop offset="0.971" stop-opacity="0.92"/></linearGradient><path d="M302.9 135.5 302.9 136 302.9 137 302.9 138 302.9 139 302.9 140 302.9 141 302.9 142 302.9 143 302.9 144 302.9 145 302.9 146 302.9 147 302.9 148 302.9 149 302.9 150 302.9 151 302.9 152 302.9 152.5 291.3 152.5 291.3 152 291.3 151 291.3 150 291.3 149 291.3 148 291.3 147 291.3 146 291.3 145 291.3 144 291.3 143 291.3 142 291.3 141 291.3 140 291.3 139 291.3 138 291.3 137 291.3 136 291.3 135.5z" fill="url(#m3_2_0)"/><linearGradient id="m3_2_1" gradientUnits="userSpaceOnUse" x1="0" y1="89.5" x2="0" y2="115.5"><stop offset="0.019" stop-opacity="0.04"/><stop offset="0.096" stop-opacity="0.29"/><stop offset="0.173" stop-opacity="0.54"/><stop offset="0.250" stop-opacity="0.57"/><stop offset="0.327" stop-opacity="0.61"/><stop offset="0.404" stop-opacity="0.65"/><stop offset="0.481" stop-opacity="0.68"/><stop offset="0.558" stop-opacity="0.72"/><stop offset="0.635" stop-opacity="0.76"/><stop offset="0.712" stop-opacity="0.79"/><stop offset="0.788" stop-opacity="0.83"/><stop offset="0.865" stop-opacity="0.86"/><stop offset="0.942" stop-opacity="0.90"/><stop offset="0.981" stop-opacity="0.92"/></linearGradient><path d="M303.6 89.5 303.6 90 303.6 91 303.6 92 303.6 93 303.7 94 303.7 95 303.7 96 303.7 97 303.7 98 303.8 99 303.8 100 303.8 101 303.8 102 303.8 103 303.9 104 303.9 105 303.9 106 303.9 107 303.9 108 303.9 109 304 110 304 111 304 112 304 113 304 114 304.1 115 304.1 115.5 290.1 115.5 290.1 115 290.1 114 290.1 113 290.1 112 290.2 111 290.2 110 290.2 109 290.2 108 290.2 107 290.3 106 290.3 105 290.3 104 290.3 103 290.3 102 290.4 101 290.4 100 290.4 99 290.4 98 290.4 97 290.4 96 290.5 95 290.5 94 290.5 93 290.5 92 290.5 91 290.6 90 290.6 89.5z" fill="url(#m3_2_1)"/><path d="M297 48.5h0m2.5 13h0m2.5 2h0m-8.5 3.5h0m7.5 1h0m.5 8.5h0m-1 .5h0m2.5 1h0m-2 .5h0m2 .5h0m-10.5 .5h0m-1.5 .5h0m3.5 0h0m3 0h0m-6.5 1.5h0m10 0h0m-8 .5h0m6 .5h0m3.5 0h0m-7 .5h0m1 0h0m-3 1h0m2.5 .5h0m-4 .5h0m.5 0h0m.5 0h0m-2 .5h0m9.5 .5h0m-7.5 .5h0m3.5 0h0m6.5 0h0m-12 .5h0m8.5 0h0m4 0h0m-12 .5h0m1 0h0m1 0h0m3 0h0m2 0h0m1 0h0m1.5 0h0m1 0h0m-1 .5h0m-10.5 .5h0m10 0h0m-8 .5h0m1.5 0h0m5.5 0h0m-2 .5h0m2 0h0m-9 .5h0m5.5 0h0m1.5 0h0m6 0h0m-12 .5h0m3 0h0m-4 .5h0m.5 0h0m.5 0h0m2.5 0h0m4 0h0m-3.5 .5h0m4.5 0h0m1 0h0m1 0h0m-10.5 .5h0m4.5 0h0m3 0h0m2 0h0m2 0h0m.5 0h0m1 0h0m.5 0h0m-14 .5h0m1.5 0h0m1 0h0m1.5 0h0m.5 0h0m.5 0h0m2.5 0h0m1.5 0h0m2.5 0h0m-10.5 .5h0m1.5 0h0m1 0h0m1.5 0h0m1 0h0m.5 0h0m2.5 0h0m2.5 0h0m2 0h0m-13 .5h0m1 0h0m10.5 0h0m-10.5 .5h0m2.5 0h0m1.5 0h0m3.5 0h0m-7.5 .5h0m5.5 0h0m7 0h0m-12 .5h0m.5 0h0m1.5 0h0m1.5 0h0m1.5 0h0m.5 0h0m.5 0h0m4.5 0h0m1.5 0h0m-12 .5h0m1 0h0m3 0h0m.5 0h0m1 0h0m4 0h0m-10 .5h0m.5 0h0m5.5 0h0m1.5 0h0m.5 0h0m2 0h0m1 0h0m-12 .5h0m1 0h0m4 0h0m5.5 0h0m-10.5 .5h0m1.5 0h0m1.5 0h0m.5 0h0m2.5 0h0m4.5 0h0m-9.5 .5h0m3 0h0m1 0h0m.5 0h0m.5 0h0m2 0h0m1 0h0m.5 0h0m-9.5 .5h0m1.5 0h0m2.5 0h0m1.5 0h0m5.5 0h0m1.5 0h0m-12.5 .5h0m4 0h0m1 0h0m3 0h0m1 0h0m3.5 0h0m-9 .5h0m.5 0h0m.5 0h0m4 0h0m1 0h0m3 0h0m.5 0h0m-13 .5h0m1.5 0h0m.5 0h0m.5 0h0m.5 0h0m1 0h0m3.5 0h0m.5 0h0m4 0h0m-11.5 .5h0m2 0h0m.5 0h0m.5 0h0m5.5 0h0m2 0h0m.5 0h0m1 0h0m-12 .5h0m1.5 0h0m.5 0h0m1 0h0m1 0h0m4.5 0h0m3.5 0h0m-10.5 .5h0m1.5 0h0m5 0h0m.5 0h0m1 0h0m2.5 0h0m-11 .5h0m1 0h0m1 0h0m1.5 0h0m2 0h0m.5 0h0m1.5 0h0m1 0h0m1 0h0m.5 0h0m-10 .5h0m1 0h0m.5 0h0m7.5 0h0m2 0h0m-5 .5h0m5 0h0m-12 .5h0m5 0h0m1 0h0m1.5 0h0m2 0h0m.5 0h0m1 0h0m-7.5 .5h0m.5 0h0m.5 0h0m3 0h0m2 0h0m-8.5 .5h0m1 0h0m.5 0h0m2 0h0m1 0h0m5.5 0h0m-12 .5h0m1 0h0m4.5 0h0m4.5 0h0m1.5 0h0m1 0h0m-11.5 .5h0m4.5 0h0m1 0h0m2.5 0h0m1.5 0h0m1.5 0h0m1 0h0m-12.5 .5h0m1.5 0h0m.5 0h0m1 0h0m.5 0h0m.5 0h0m2 0h0m1 0h0m1.5 0h0m3 0h0m-4.5 .5h0m.5 0h0m.5 0h0m3 0h0m-10.5 .5h0m.5 0h0m2 0h0m4.5 0h0m.5 0h0m2 0h0m.5 0h0m1.5 0h0m-7 .5h0m1 0h0m-5.5 .5h0m2 0h0m2 0h0m.5 0h0m1.5 0h0m.5 0h0m3 0h0m.5 0h0m2.5 0h0m-12.5 .5h0m1 0h0m1.5 0h0m2 0h0m.5 0h0m2 0h0m1 0h0m.5 0h0m1 0h0m1 0h0m1 0h0m-12 .5h0m.5 0h0m1 0h0m4.5 0h0m1 0h0m2 0h0m1.5 0h0m.5 0h0m.5 0h0m1 0h0m.5 0h0m.5 0h0m-10 .5h0m.5 0h0m2.5 0h0m2.5 0h0m1 0h0m2.5 0h0m.5 0h0m.5 0h0m-12.5 .5h0m3.5 0h0m1.5 0h0m.5 0h0m-6.5 .5h0m1.5 0h0m1 0h0m1.5 0h0m.5 0h0m.5 0h0m6.5 0h0m-12 .5h0m1 0h0m1.5 0h0m1 0h0m.5 0h0m4 0h0m3.5 0h0m-11.5 .5h0m1.5 0h0m.5 0h0m.5 0h0m1.5 0h0m.5 0h0m2 0h0m.5 0h0m5.5 0h0m-12.5 .5h0m1 0h0m.5 0h0m1 0h0m2.5 0h0m8.5 0h0m.5 0h0m-11.5 .5h0m1.5 0h0m1 0h0m2 0h0m3.5 0h0m.5 0h0m-11 .5h0m1.5 0h0m1.5 0h0m.5 0h0m1 0h0m.5 0h0m1 0h0m2 0h0m.5 0h0m1.5 0h0m-8 .5h0m1 0h0m3.5 0h0m2 0h0m1 0h0m1.5 0h0m3 0h0m-11.5 .5h0m.5 0h0m4 0h0m2 0h0m2 0h0m.5 0h0m2 0h0m-13 .5h0m1 0h0m.5 0h0m3 0h0m1 0h0m.5 0h0m3.5 0h0m.5 0h0m3 0h0m-13.5 .5h0m2.5 0h0m1 0h0m.5 0h0m.5 0h0m1 0h0m3.5 0h0m2 0h0m.5 0h0m-11.5 .5h0m1 0h0m1 0h0m4.5 0h0m1 0h0m1 0h0m1.5 0h0m.5 0h0m3.5 0h0m-11 .5h0m7.5 0h0m1.5 0h0m.5 0h0m-11.5 20h0m6 0h0m3 0h0m2 0h0m.5 0h0m-9 .5h0m2 0h0m.5 0h0m3.5 0h0m-8 .5h0m2 0h0m4 0h0m4 0h0m.5 0h0m.5 0h0m.5 0h0m-11 .5h0m1 0h0m4.5 0h0m.5 0h0m.5 0h0m-5 .5h0m.5 0h0m1 0h0m1.5 0h0m.5 0h0m2.5 0h0m1.5 0h0m-7.5 .5h0m8 0h0m.5 0h0m1 0h0m-11.5 .5h0m.5 0h0m1 0h0m1 0h0m1 0h0m1 0h0m1 0h0m-2 .5h0m1.5 0h0m.5 0h0m.5 0h0m4 0h0m-9 .5h0m.5 0h0m.5 0h0m1 0h0m6 0h0m2.5 0h0m-10.5 .5h0m1 0h0m3 0h0m2 0h0m3.5 0h0m-9.5 .5h0m3.5 0h0m5 0h0m-9.5 .5h0m1.5 0h0m.5 0h0m4.5 0h0m2 0h0m3 0h0m-11.5 .5h0m2 0h0m.5 0h0m1 0h0m5 0h0m1 0h0m2 0h0m-11.5 .5h0m1 0h0m.5 0h0m1 0h0m2.5 0h0m3 0h0m1.5 0h0m-10 .5h0m1.5 0h0m3.5 0h0m5 0h0m.5 0h0m-7 .5h0m4 0h0m-7 .5h0m11 0h0m-10.5 .5h0m2 0h0m2 0h0m1.5 0h0m1.5 0h0m1 0h0m.5 0h0m-6.5 .5h0m3.5 0h0m.5 0h0m1.5 0h0m.5 0h0m.5 0h0m-5 .5h0m1 0h0m2 0h0m2 0h0m-8.5 .5h0m.5 0h0m4.5 0h0m1.5 0h0m1 0h0m2 0h0m.5 0h0m-10.5 .5h0m1 0h0m1.5 0h0m4 0h0m.5 0h0m4 0h0m-11.5 .5h0m1 0h0m1.5 0h0m.5 0h0m.5 0h0m4.5 0h0m1.5 0h0m1.5 0h0m-7.5 .5h0m-3.5 .5h0m1.5 0h0m.5 0h0m1 0h0m5 0h0m.5 0h0m2.5 0h0m-10 .5h0m.5 0h0m4.5 0h0m3 0h0m3 0h0m-7.5 .5h0m2 0h0m1 0h0m.5 0h0m-7.5 .5h0m4.5 0h0m2.5 0h0m-7 .5h0m1 0h0m4.5 0h0m2 0h0m1 0h0m1 0h0m1.5 0h0m-10 .5h0m1 0h0m1.5 0h0m1.5 0h0m.5 0h0m3.5 0h0m2 0h0m-11.5 .5h0m1.5 0h0m1 0h0m2 0h0m1.5 0h0m1.5 0h0m1.5 0h0m1.5 0h0m1.5 0h0m-11.5 .5h0m1 0h0m3 0h0m2 0h0m2 0h0m.5 0h0m1.5 0h0m1 0h0m-11 .5h0m5 0h0m.5 0h0m1.5 0h0m1 0h0m-7.5 .5h0m.5 0h0m6 0h0m3.5 0h0m-7 .5h0m2 0h0" stroke="#000" stroke-opacity=".8" stroke-width="1.7" stroke-linecap="round" fill="none"/><path d="M297.5 50h0m4.5 7h0m-6.5 10h0m5 2.5h0m-7 2h0m2.5 0h0m4.5 4.5h0m-8 3h0m1.5 .5h0m7 .5h0m.5 0h0m-9.5 1h0m5 1h0m6.5 1.5h0m-2 .5h0m-11 1h0m11 1.5h0m.5 .5h0m-6 .5h0m.5 0h0m2.5 0h0m3.5 0h0m-9.5 .5h0m4.5 0h0m2 0h0m1 0h0m1.5 0h0m1 0h0m-6 .5h0m3.5 0h0m-9.5 1h0m.5 0h0m2 0h0m3.5 0h0m4 0h0m-8 .5h0m4.5 0h0m-7 .5h0m3.5 0h0m3 0h0m.5 0h0m1 0h0m.5 0h0m4.5 0h0m-12 .5h0m5.5 0h0m3 0h0m2.5 0h0m-9.5 .5h0m.5 0h0m2 0h0m1 0h0m6 0h0m.5 0h0m-8.5 .5h0m8 0h0m.5 0h0m.5 0h0m-13 .5h0m1.5 0h0m.5 0h0m.5 0h0m.5 0h0m4 0h0m3 0h0m1.5 0h0m1.5 0h0m-11.5 .5h0m4 0h0m1.5 0h0m2 0h0m2.5 0h0m1 0h0m-11 .5h0m3.5 0h0m1.5 0h0m1 0h0m1.5 0h0m1 0h0m2 0h0m-11.5 .5h0m.5 0h0m1.5 0h0m.5 0h0m1 0h0m6 0h0m1.5 0h0m1.5 0h0m-13.5 .5h0m1 0h0m1.5 0h0m1.5 0h0m1 0h0m.5 0h0m1.5 0h0m5.5 0h0m-9 .5h0m1 0h0m2 0h0m1 0h0m-7.5 .5h0m1 0h0m2.5 0h0m4 0h0m1.5 0h0m.5 0h0m.5 0h0m1 0h0m1 0h0m-8 .5h0m1 0h0m7 0h0m.5 0h0m1 0h0m-10.5 .5h0m3.5 0h0m3.5 0h0m1.5 0h0m.5 0h0m1 0h0m-10.5 .5h0m1.5 0h0m8.5 0h0m-12 .5h0m2 0h0m.5 0h0m3 0h0m4.5 0h0m1 0h0m1.5 0h0m-12.5 .5h0m.5 0h0m5 0h0m4 0h0m-9 .5h0m1.5 0h0m5.5 0h0m.5 0h0m2.5 0h0m2 0h0m-12.5 .5h0m4 0h0m2 0h0m-4 .5h0m.5 0h0m.5 0h0m2 0h0m4 0h0m1.5 0h0m1 0h0m-11 .5h0m.5 0h0m5.5 0h0m1 0h0m3.5 0h0m1 0h0m-10 .5h0m2 0h0m5 0h0m1 0h0m2.5 0h0m-12.5 .5h0m1 0h0m1.5 0h0m1 0h0m2.5 0h0m1.5 0h0m4.5 0h0m.5 0h0m.5 0h0m-13 .5h0m1.5 0h0m1 0h0m2 0h0m.5 0h0m.5 0h0m1.5 0h0m.5 0h0m2 0h0m3 0h0m-12 .5h0m5.5 0h0m2.5 0h0m-8 .5h0m5 0h0m1 0h0m.5 0h0m1 0h0m.5 0h0m4.5 0h0m-7.5 .5h0m.5 0h0m1 0h0m3.5 0h0m.5 0h0m1.5 0h0m.5 0h0m.5 0h0m-12.5 .5h0m2.5 0h0m1.5 0h0m.5 0h0m2.5 0h0m2 0h0m.5 0h0m1.5 0h0m.5 0h0m-9.5 .5h0m1 0h0m1 0h0m3 0h0m1 0h0m1.5 0h0m1.5 0h0m1.5 0h0m-11.5 .5h0m4 0h0m2.5 0h0m4 0h0m-11 .5h0m.5 0h0m.5 0h0m2.5 0h0m1 0h0m2.5 0h0m5 0h0m-8.5 .5h0m1 0h0m1 0h0m.5 0h0m1.5 0h0m4 0h0m-12 .5h0m1 0h0m4.5 0h0m.5 0h0m3 0h0m3 0h0m-10.5 .5h0m.5 0h0m5 0h0m1 0h0m1.5 0h0m-10.5 .5h0m3 0h0m2 0h0m.5 0h0m1 0h0m1.5 0h0m.5 0h0m4 0h0m-10 .5h0m1 0h0m1 0h0m1.5 0h0m5.5 0h0m1.5 0h0m-9.5 .5h0m1 0h0m1.5 0h0m5 0h0m1 0h0m-9.5 .5h0m4 0h0m2 0h0m1 0h0m3 0h0m-8 .5h0m2 0h0m2.5 0h0m2 0h0m-7.5 .5h0m3.5 0h0m2 0h0m.5 0h0m1.5 0h0m.5 0h0m-11.5 .5h0m1.5 0h0m.5 0h0m3 0h0m1.5 0h0m.5 0h0m2 0h0m2.5 0h0m1.5 0h0m.5 0h0m-10 .5h0m.5 0h0m1.5 0h0m1 0h0m2.5 0h0m2.5 0h0m2 0h0m-14 .5h0m2.5 0h0m1 0h0m1 0h0m.5 0h0m2.5 0h0m4 0h0m.5 0h0m-8 .5h0m1.5 0h0m2 0h0m.5 0h0m2.5 0h0m.5 0h0m1 0h0m-12 .5h0m1 0h0m1 0h0m5.5 0h0m2 0h0m-4 .5h0m1 0h0m.5 0h0m1 0h0m4 0h0m1.5 0h0m-13.5 .5h0m1 0h0m4 0h0m1 0h0m3 0h0m4 0h0m-12 .5h0m1 0h0m2.5 0h0m3 0h0m3.5 0h0m-10.5 .5h0m1 0h0m1 0h0m2.5 0h0m1 0h0m1 0h0m.5 0h0m1 0h0m4 0h0m1 0h0m.5 0h0m-11 .5h0m.5 0h0m1.5 0h0m.5 0h0m.5 0h0m1 0h0m7 0h0m-12 .5h0m2.5 0h0m2.5 0h0m1.5 0h0m.5 0h0m2.5 0h0m-5.5 .5h0m-4.5 20h0m1.5 0h0m4.5 0h0m1 0h0m-6.5 .5h0m1 0h0m.5 0h0m2 0h0m.5 0h0m.5 0h0m1.5 0h0m3 0h0m.5 0h0m.5 0h0m-9.5 .5h0m3.5 0h0m3 0h0m.5 0h0m1.5 0h0m.5 0h0m.5 0h0m-10.5 .5h0m1.5 0h0m1 0h0m2.5 0h0m3 0h0m.5 0h0m.5 0h0m-8.5 .5h0m2.5 0h0m1.5 0h0m.5 0h0m3 0h0m.5 0h0m2 0h0m-11 .5h0m.5 0h0m1 0h0m4.5 0h0m1.5 0h0m1.5 0h0m-8.5 .5h0m.5 0h0m.5 0h0m1.5 0h0m.5 0h0m1 0h0m3 0h0m2 0h0m-9 .5h0m3 0h0m.5 0h0m1 0h0m6.5 0h0m-11.5 .5h0m2 0h0m.5 0h0m2 0h0m1 0h0m-3.5 .5h0m1.5 0h0m2 0h0m2.5 0h0m2 0h0m1 0h0m.5 0h0m-11 .5h0m5 0h0m2 0h0m2.5 0h0m-9 .5h0m1.5 0h0m2 0h0m2.5 0h0m1.5 0h0m2 0h0m1 0h0m-11 .5h0m.5 0h0m2 0h0m2 0h0m1 0h0m1 0h0m1 0h0m.5 0h0m1 0h0m.5 0h0m-7.5 .5h0m.5 0h0m2.5 0h0m.5 0h0m3.5 0h0m2 0h0m-11.5 .5h0m2.5 0h0m2.5 0h0m.5 0h0m.5 0h0m1.5 0h0m.5 0h0m.5 0h0m.5 0h0m-7.5 .5h0m1.5 0h0m3 0h0m3 0h0m-9 .5h0m.5 0h0m.5 0h0m.5 0h0m.5 0h0m.5 0h0m2 0h0m3.5 0h0m4 0h0m-10 .5h0m.5 0h0m3.5 0h0m.5 0h0m4.5 0h0m-8.5 .5h0m2.5 0h0m1 0h0m.5 0h0m3.5 0h0m1.5 0h0m-11.5 .5h0m.5 0h0m.5 0h0m.5 0h0m1.5 0h0m1 0h0m1.5 0h0m.5 0h0m2.5 0h0m2 0h0m-7.5 .5h0m.5 0h0m.5 0h0m5.5 0h0m.5 0h0m-10 .5h0m1 0h0m.5 0h0m2.5 0h0m2 0h0m.5 0h0m1.5 0h0m1.5 0h0m1 0h0m.5 0h0m-9.5 .5h0m1.5 0h0m.5 0h0m4.5 0h0m4 0h0m-11.5 .5h0m1 0h0m4 0h0m.5 0h0m.5 0h0m1 0h0m.5 0h0m4 0h0m-11.5 .5h0m3 0h0m2 0h0m.5 0h0m1.5 0h0m4.5 0h0m-8.5 .5h0m1 0h0m4 0h0m1.5 0h0m-10 .5h0m2.5 0h0m1 0h0m.5 0h0m1 0h0m4 0h0m1 0h0m1 0h0m-10 .5h0m1.5 0h0m1 0h0m.5 0h0m.5 0h0m.5 0h0m.5 0h0m2 0h0m2 0h0m.5 0h0m2 0h0m-10.5 .5h0m.5 0h0m1 0h0m.5 0h0m2 0h0m.5 0h0m.5 0h0m1 0h0m1.5 0h0m.5 0h0m1 0h0m1 0h0m.5 0h0m-10 .5h0m.5 0h0m3.5 0h0m2 0h0m1.5 0h0m2 0h0m-7.5 .5h0m.5 0h0m.5 0h0m2 0h0m.5 0h0m.5 0h0m1.5 0h0m1 0h0m-8.5 .5h0m4 0h0m.5 0h0m.5 0h0m1 0h0m1.5 0h0m.5 0h0m-8.5 .5h0m.5 0h0m1.5 0h0m8.5 0h0m-12 .5h0m1.5 0h0m4.5 .5h0m2.5 0h0m1.5 0h0" stroke="#000" stroke-opacity=".8" stroke-width="1.7" stroke-linecap="round" fill="none"/><path d="M297 49h0m0 1h0m.5 2h0m-.5 2h0m0 3h0m0 2h0m0 2h0m0 2h0m0 1h0m0 1h0m0 1h0m0 4h0m0 4h0m0 3h0m0 1h0m0 3h0" stroke="#111" stroke-opacity=".8" stroke-width="1.5" stroke-linecap="round" fill="none"/><path d="M297.1 83.7V115.3M297.1 136.4V150.8" stroke="#333" stroke-width=".5"/><rect x="284.8" y="115.3" width="24.6" height="21.1" fill="#1CB4B9" stroke="#000" stroke-opacity=".45" stroke-width=".6"/><path d="M284.8 127.3H309.4" stroke="#000" stroke-opacity=".5" stroke-width="1.1"/><path d="M329.2 151l5.2-.5l1.9-2.5l1.5-2.5l1.4-3l1.5-4l.5-10.1l-.2-11.6l-3-10.1l-3.5-9.6l-.9-2l-3.2-5l-.7-14.6l-.5-1l0 0l-.5 1l-.7 14.6l-3.2 5l-.9 2l-3.5 9.6l-3 10.1l-.2 11.6l.5 10.1l1.5 4l1.4 3l1.5 2.5l1.9 2.5l5.2 .5z" fill="#A07FBD" stroke="#333" stroke-width=".55"/><path d="M323 76.5h0m11 16h0m-4 2h0m3.5 2h0m-5 1.5h0m4.5 0h0m2 .5h0m-4.5 .5h0m4.5 5h0m-10 1h0m2.5 1h0m-3.5 1h0m1 0h0m9 0h0m-5 .5h0m5 0h0m-5.5 .5h0m-2 1h0m1.5 0h0m1.5 1.5h0m6 0h0m-2 1.5h0m0 1h0m-1 3h0m2 1h0m0 .5h0m-10 21h0m-.5 1h0m.5 .5h0m4.5 0h0m3 0h0m-4 .5h0m5 .5h0m-3.5 .5h0m-3 .5h0m6 .5h0m-1 .5h0m3.5 0h0m-10 .5h0m7 0h0m2 .5h0m-10.5 .5h0m6.5 0h0m-3.5 2h0m2.5 0h0m-1.5 .5h0m1 0h0m-3 .5h0m1 1.5h0m2.5 0h0m-2 .5h0m4 1.5h0m2.5 0h0" stroke="#000" stroke-opacity=".8" stroke-width="1.7" stroke-linecap="round" fill="none"/><path d="M329 76.5h0m-6 .5h0m3.5 1.5h0m4 3h0m1 1h0m3.5 9h0m-11 2.5h0m-.5 1h0m1 .5h0m-.5 2.5h0m11 0h0m-11.5 1.5h0m5 0h0m3 0h0m0 .5h0m-7.5 .5h0m7.5 1.5h0m3.5 0h0m-9 2h0m4 1h0m1.5 .5h0m1 1h0m-3.5 1.5h0m-5.5 .5h0m6 0h0m4.5 0h0m.5 .5h0m-6.5 .5h0m-4.5 2h0m1.5 1.5h0m5.5 0h0m.5 0h0m3 0h0m-9.5 .5h0m6.5 0h0m1 0h0m-8.5 .5h0m4.5 .5h0m1 0h0m2.5 .5h0m-2.5 .5h0m1 .5h0m3.5 1.5h0m-6 20h0m5 .5h0m-.5 1h0m-3 1h0m-2.5 .5h0m.5 0h0m2.5 .5h0m-5 .5h0m3.5 0h0m2 .5h0m-7 .5h0m12 .5h0m.5 1h0m-3.5 .5h0m-8.5 .5h0m8 .5h0m-3 1h0m-4 .5h0m1 1h0m8 0h0m-9 .5h0m1.5 0h0m9.5 1h0m-6.5 1.5h0m2 0h0m4.5 0h0m-11.5 .5h0" stroke="#000" stroke-opacity=".8" stroke-width="1.7" stroke-linecap="round" fill="none"/><path d="M329 75h0m.5 2h0m0 2h0m-.5 1h0m.5 2h0m0 2h0" stroke="#111" stroke-opacity=".8" stroke-width="1.5" stroke-linecap="round" fill="none"/><path d="M329.2 84.9V116.9M329.2 138.2V151" stroke="#333" stroke-width=".5"/><rect x="316.9" y="116.9" width="24.6" height="21.3" fill="#A07FBD" stroke="#000" stroke-opacity=".45" stroke-width=".6"/><path d="M316.9 128.6H341.5" stroke="#000" stroke-opacity=".5" stroke-width="1.1"/><rect x="213.5" y="18.2" width="135" height="139.3" fill="none" stroke="#555" stroke-width="1"/><path d="M213.5 17.7V158" stroke="#333" stroke-width="1"/><clipPath id="c3"><rect x="213.5" y="17.6" width="135" height="139.9"/></clipPath><g clip-path="url(#c3)"><path d="M232.8 47.5V44.5H264.9V47.5" fill="none" stroke="#222" stroke-width=".75"/><text x="248.9" y="42.6" font-size="7" fill="#333" color="#333" text-anchor="middle">P&lt;2.22e−16</text><path d="M264.9 37.3V34.3H297.1V37.3" fill="none" stroke="#222" stroke-width=".75"/><text x="281" y="32.4" font-size="7" fill="#333" color="#333" text-anchor="middle">P&lt;2.22e−16</text><path d="M297.1 27V24H329.2V27" fill="none" stroke="#222" stroke-width=".75"/><text x="313.1" y="23.1" font-size="7" fill="#333" color="#333" text-anchor="middle">0.017</text></g><path d="M209.3 155.3H213.5" stroke="#333" stroke-width=".8"/><text x="205.2" y="158.9" font-size="10.2" fill="#1a1a1a" color="#1a1a1a" text-anchor="end">0</text><path d="M209.3 128.6H213.5" stroke="#333" stroke-width=".8"/><text x="205.2" y="132.2" font-size="10.2" fill="#1a1a1a" color="#1a1a1a" text-anchor="end">1</text><path d="M209.3 102H213.5" stroke="#333" stroke-width=".8"/><text x="205.2" y="105.6" font-size="10.2" fill="#1a1a1a" color="#1a1a1a" text-anchor="end">2</text><path d="M209.3 75.3H213.5" stroke="#333" stroke-width=".8"/><text x="205.2" y="78.9" font-size="10.2" fill="#1a1a1a" color="#1a1a1a" text-anchor="end">3</text><path d="M209.3 48.7H213.5" stroke="#333" stroke-width=".8"/><text x="205.2" y="52.3" font-size="10.2" fill="#1a1a1a" color="#1a1a1a" text-anchor="end">4</text><path d="M209.3 22H213.5" stroke="#333" stroke-width=".8"/><text x="205.2" y="25.6" font-size="10.2" fill="#1a1a1a" color="#1a1a1a" text-anchor="end">5</text><path d="M232.8 157.5V161.7" stroke="#333" stroke-width=".8"/><text x="229.6" y="172.4" font-size="7.7" fill="#2a2a2a" color="#2a2a2a" text-anchor="middle">Stage I</text><path d="M264.9 157.5V161.7" stroke="#333" stroke-width=".8"/><text x="263.5" y="172.4" font-size="7.7" fill="#2a2a2a" color="#2a2a2a" text-anchor="middle">Stage II</text><path d="M297.1 157.5V161.7" stroke="#333" stroke-width=".8"/><text x="298.2" y="172.4" font-size="7.7" fill="#2a2a2a" color="#2a2a2a" text-anchor="middle">Stage III</text><path d="M329.2 157.5V161.7" stroke="#333" stroke-width=".8"/><text x="334.2" y="172.4" font-size="7.7" fill="#2a2a2a" color="#2a2a2a" text-anchor="middle">Stage IV</text><text transform="translate(191 87.8) rotate(-90) scale(.9 1)" font-size="10.5" fill="#222" color="#222" text-anchor="middle" y="3.7">Expression</text><text transform="translate(280.4 9.1) scale(.86 1)" font-size="11.3" font-style="italic" fill="#1a1a1a" color="#1a1a1a" text-anchor="middle">CDH1</text>
<g stroke="#ECECEC" stroke-width=".6"><path d="M385.5 138.4H520.5"/><path d="M385.5 103.2H520.5"/><path d="M385.5 67.8H520.5"/><path d="M385.5 32.6H520.5"/></g><g stroke="#E8E8E8" stroke-width=".65"><path d="M385.5 156.1H520.5"/><path d="M385.5 120.8H520.5"/><path d="M385.5 85.5H520.5"/><path d="M385.5 50.2H520.5"/><path d="M404.8 18.2V157.5"/><path d="M436.9 18.2V157.5"/><path d="M469.1 18.2V157.5"/><path d="M501.2 18.2V157.5"/></g><path d="M404.8 147.3l4.1-.5l1.2-2l1.3-3l1.5-4.5l.8-3l.2-11.6l-.8-5.5l-2.7-15.1l-1.7-18.6l-1.1-9.6l-1.1-1.5l-1.4-1l-.1-.5l0 0l-.1 .5l-1.4 1l-1.1 1.5l-1.1 9.6l-1.7 18.6l-2.7 15.1l-.8 5.5l.2 11.6l.8 3l1.5 4.5l1.3 3l1.2 2l4.1 .5z" fill="#E87068" stroke="#333" stroke-width=".55"/><path d="M406.5 73.5h0m-5 6h0m6.5 .5h0m-8 3.5h0m7.5 15h0m2.5 0h0m-1.5 2.5h0m-9 5h0m11 2h0m-5.5 1.5h0m4.5 2h0m-4 1h0m1 4.5h0m3.5 4.5h0m-4 3.5h0m-5.5 2h0m8.5 0h0m-6 2h0m2 .5h0m4 0h0m-4.5 3h0m-4 2.5h0m8.5 10.5h0" stroke="#000" stroke-opacity=".8" stroke-width="1.7" stroke-linecap="round" fill="none"/><path d="M410 71h0m-1 1h0m-7.5 1h0m3.5 .5h0m-1 2h0m-2 4.5h0m.5 1h0m3.5 0h0m2.5 1.5h0m-5 1h0m4.5 6.5h0m-7.5 5.5h0m8 .5h0m-2 1h0m-4.5 1h0m7 0h0m-7.5 4.5h0m1 1h0m-1.5 1.5h0m-.5 2h0m5.5 2.5h0m-3 2.5h0m-1 2.5h0m3 2.5h0m-5.5 .5h0m9.5 1.5h0m-10 .5h0m3.5 1.5h0m7 6.5h0m-10.5 3.5h0m3.5 .5h0m0 3.5h0m8 5h0m-5 1.5h0m-3 .5h0m7 3.5h0" stroke="#000" stroke-opacity=".8" stroke-width="1.7" stroke-linecap="round" fill="none"/><path d="M404.8 70.7V103.5M404.8 134.2V147.3" stroke="#333" stroke-width=".5"/><rect x="392.5" y="103.5" width="24.6" height="30.7" fill="#E87068" stroke="#000" stroke-opacity=".45" stroke-width=".6"/><path d="M392.5 122.6H417.1" stroke="#000" stroke-opacity=".5" stroke-width="1.1"/><path d="M436.9 151.2l6.2-.5l1.9-2l2-3l1.6-3.5l.3-1.5l-1.1-9.1l-4-10.6l-3.1-10.6l-2.4-18.2l-1-17.2l-.3-10.1l-.3 0l-.3 10.1l-1 17.2l-2.4 18.2l-3.1 10.6l-4 10.6l-1.1 9.1l.3 1.5l1.6 3.5l2 3l1.9 2l6.2 .5z" fill="#7AA82F" stroke="#333" stroke-width=".55"/><linearGradient id="m4_1_0" gradientUnits="userSpaceOnUse" x1="0" y1="140.5" x2="0" y2="151.5"><stop offset="0.045" stop-opacity="0.54"/><stop offset="0.227" stop-opacity="0.54"/><stop offset="0.409" stop-opacity="0.54"/><stop offset="0.591" stop-opacity="0.54"/><stop offset="0.773" stop-opacity="0.54"/><stop offset="0.955" stop-opacity="0.54"/><stop offset="0.955" stop-opacity="0.54"/></linearGradient><path d="M443.1 140.5 443.1 141 443.1 142 443.1 143 443.1 144 443.1 145 443.1 146 443.1 147 443.1 148 443.1 149 443.1 150 443.1 151 443.1 151.5 430.7 151.5 430.7 151 430.7 150 430.7 149 430.7 148 430.7 147 430.7 146 430.7 145 430.7 144 430.7 143 430.7 142 430.7 141 430.7 140.5z" fill="url(#m4_1_0)"/><path d="M435.5 75h0m6.5 9h0m-4 1h0m-6 3h0m-1 3h0m6 2.5h0m-2 3h0m7 .5h0m1 0h0m-3 1h0m3 1h0m-9 3h0m-3 .5h0m2 0h0m8.5 0h0m.5 0h0m-10 2h0m8 0h0m2.5 .5h0m-1 .5h0m-8 .5h0m2.5 0h0m5.5 3h0m.5 0h0m-10.5 .5h0m4.5 0h0m2 0h0m2.5 .5h0m1.5 0h0m.5 0h0m-6.5 1h0m.5 0h0m.5 0h0m5.5 0h0m-5.5 .5h0m-2.5 .5h0m.5 0h0m8 0h0m-.5 .5h0m-11 .5h0m7 0h0m-1 .5h0m-5 .5h0m3.5 0h0m4 0h0m-9.5 .5h0m9.5 0h0m-9.5 .5h0m10.5 0h0m-7.5 .5h0m7 0h0m1.5 0h0m-4 .5h0m.5 0h0m-1 .5h0m3.5 0h0m-7 .5h0m1 0h0m8 0h0m-4 .5h0m1 0h0m.5 0h0m.5 .5h0m1 0h0m-10 .5h0m9 0h0m2 0h0m-9.5 .5h0m6.5 0h0m.5 0h0m-7.5 .5h0m1 0h0m1.5 0h0m6.5 0h0m-9 .5h0m8 0h0m-9.5 .5h0m5 0h0m.5 0h0m6 0h0m-6 .5h0m1 0h0m-2 19.5h0m7.5 0h0m-10 .5h0m2 0h0m2 0h0m2.5 0h0m-6.5 .5h0m1.5 0h0m.5 0h0m4 0h0m2.5 0h0m-10 .5h0m2 0h0m1.5 0h0m1 0h0m-2.5 .5h0m.5 0h0m4.5 0h0m-8.5 .5h0m2.5 0h0m1.5 0h0m1 0h0m1.5 0h0m5.5 0h0m-9.5 .5h0m2 0h0m.5 0h0m1 0h0m.5 0h0m2 0h0m3 0h0m.5 0h0m.5 0h0m-9 .5h0m1 0h0m2 0h0m3 0h0m1.5 0h0m.5 0h0m1 0h0m.5 0h0m-13 .5h0m3 0h0m2 0h0m.5 0h0m.5 0h0m1 0h0m2 0h0m1 0h0m-9.5 .5h0m3 0h0m1.5 0h0m6 0h0m.5 0h0m-9.5 .5h0m.5 0h0m3 0h0m1 0h0m4.5 0h0m-10.5 .5h0m2.5 0h0m2 0h0m1 0h0m3 0h0m2.5 0h0m1.5 0h0m-7 .5h0m5.5 0h0m-11.5 .5h0m.5 0h0m2 0h0m6.5 0h0m1.5 0h0m.5 0h0m-10.5 .5h0m.5 0h0m.5 0h0m.5 0h0m1 0h0m1 0h0m.5 0h0m.5 0h0m2 0h0m.5 0h0m1.5 0h0m1.5 0h0m1.5 0h0m-11 .5h0m8.5 0h0m1 0h0m-6 .5h0m2.5 0h0m1 0h0m2 0h0m1 0h0m-6 .5h0m4.5 0h0m.5 0h0m.5 0h0m2 0h0m-12.5 .5h0m1 0h0m1 0h0m2.5 0h0m2.5 0h0m1 0h0m1 0h0m1 0h0m1.5 0h0m.5 0h0m.5 0h0m-11.5 .5h0m1 0h0m1 0h0m.5 0h0m.5 0h0m2.5 0h0m3 0h0m3 0h0m-12 .5h0m5 0h0m4.5 0h0m2 0h0m-12 .5h0m1.5 0h0m1.5 0h0m3.5 0h0m.5 0h0m1.5 0h0m2.5 0h0m-3 .5h0" stroke="#000" stroke-opacity=".8" stroke-width="1.7" stroke-linecap="round" fill="none"/><path d="M434 65.5h0m5 .5h0m-8.5 .5h0m1 2h0m9 5.5h0m-1.5 1h0m1.5 .5h0m2 4h0m0 1.5h0m-10.5 2.5h0m5 4h0m3.5 1h0m-1 .5h0m-4 .5h0m-1 1.5h0m1 0h0m7.5 1h0m-3 1.5h0m-.5 .5h0m-4.5 1h0m4.5 1h0m-5.5 .5h0m9 0h0m-7 .5h0m-4.5 .5h0m1.5 .5h0m2.5 1h0m.5 1h0m5 .5h0m-4 1h0m2.5 .5h0m3.5 0h0m-7.5 .5h0m4.5 1h0m-1 1h0m-5.5 .5h0m4 0h0m-4 1.5h0m-2 .5h0m1 0h0m1 0h0m8 0h0m-9.5 .5h0m5 0h0m5.5 0h0m-8 1h0m5.5 0h0m-8 .5h0m-.5 .5h0m9 0h0m.5 0h0m-5 1h0m6.5 0h0m-9 .5h0m1 0h0m1.5 0h0m-5 .5h0m6 0h0m-6.5 .5h0m3.5 0h0m2 0h0m3.5 0h0m3.5 0h0m-11 .5h0m1 0h0m8.5 0h0m-11 1h0m9 0h0m3.5 0h0m-7.5 .5h0m-4.5 .5h0m2.5 0h0m.5 0h0m2 0h0m2 .5h0m1.5 .5h0m.5 0h0m-6.5 .5h0m9 0h0m-10.5 .5h0m4.5 0h0m-4 .5h0m1 0h0m2.5 0h0m2 0h0m-1 .5h0m6 0h0m-11.5 .5h0m2.5 0h0m3 0h0m.5 0h0m4 0h0m-7.5 .5h0m1 0h0m6 0h0m-9 .5h0m6.5 0h0m-8 .5h0m.5 0h0m1.5 0h0m3 0h0m7.5 0h0m-9 .5h0m6 0h0m.5 0h0m-5.5 .5h0m-3.5 .5h0m10.5 0h0m.5 0h0m-9.5 .5h0m3 19h0m1 0h0m2.5 0h0m.5 0h0m3 0h0m-10 .5h0m.5 0h0m.5 0h0m1.5 0h0m2.5 0h0m3.5 0h0m-6.5 .5h0m3 0h0m1 0h0m2 0h0m2 0h0m-11.5 .5h0m1.5 0h0m1 0h0m1.5 0h0m1 0h0m3.5 0h0m.5 0h0m1.5 0h0m.5 0h0m1 0h0m-8 .5h0m.5 0h0m1 0h0m3 0h0m-8.5 .5h0m1.5 0h0m2.5 0h0m.5 0h0m3.5 0h0m3 0h0m1 0h0m-11 .5h0m7.5 0h0m.5 0h0m-9.5 .5h0m.5 0h0m4.5 0h0m1.5 0h0m2 0h0m3.5 0h0m-6 .5h0m6 0h0m-10.5 .5h0m1.5 0h0m4.5 0h0m.5 0h0m3.5 0h0m-11.5 .5h0m2 0h0m1.5 0h0m.5 0h0m1 0h0m4 0h0m2.5 0h0m-10 .5h0m.5 0h0m2 0h0m1.5 0h0m.5 0h0m1.5 0h0m2 0h0m.5 0h0m2 0h0m-10.5 .5h0m1.5 0h0m3.5 0h0m.5 0h0m.5 0h0m2 0h0m-7 .5h0m2.5 0h0m4 0h0m.5 0h0m1 0h0m1 0h0m.5 0h0m-10.5 .5h0m3.5 0h0m1.5 0h0m4 0h0m-11 .5h0m2 0h0m4 0h0m1 0h0m1 0h0m2 0h0m1 0h0m-9 .5h0m1 0h0m2 0h0m3.5 0h0m.5 0h0m3 0h0m-12 .5h0m1.5 0h0m4 0h0m.5 0h0m1.5 0h0m.5 0h0m1.5 0h0m.5 0h0m2.5 0h0m-9.5 .5h0m3 0h0m3 0h0m1 0h0m1 0h0m1 0h0m-9 .5h0m1.5 0h0m3.5 0h0m1.5 0h0m3 0h0m-8.5 .5h0m1.5 0h0m1 0h0m3 0h0m2 0h0m1 0h0m-10.5 .5h0m.5 0h0m2 0h0m3.5 0h0m.5 0h0m3 0h0m-9 .5h0m4.5 0h0" stroke="#000" stroke-opacity=".8" stroke-width="1.7" stroke-linecap="round" fill="none"/><path d="M437 65h0m0 2h0m0 1h0m0 1h0m0 3h0m0 14h0m0 2h0m0 2h0" stroke="#111" stroke-opacity=".8" stroke-width="1.5" stroke-linecap="round" fill="none"/><path d="M436.9 90.6V120.8M436.9 140.9V151.2" stroke="#333" stroke-width=".5"/><rect x="424.6" y="120.8" width="24.6" height="20.1" fill="#7AA82F" stroke="#000" stroke-opacity=".45" stroke-width=".6"/><path d="M424.6 133.5H449.2" stroke="#000" stroke-opacity=".5" stroke-width="1.1"/><path d="M469.1 149.7l7.1-.5l1.5-2l1.5-2.5l1.3-3l1-3l-.5-11.1l-1.3-4.5l-6.4-18.7l-1.1-7.1l-1.1-8.6l-1.2-20.7l-.6-18.7l-.1-.5l0 0l-.1 .5l-.6 18.7l-1.2 20.7l-1.1 8.6l-1.1 7.1l-6.4 18.7l-1.3 4.5l-.5 11.1l1 3l1.3 3l1.5 2.5l1.5 2l7.1 .5z" fill="#1CB4B9" stroke="#333" stroke-width=".55"/><linearGradient id="m4_2_0" gradientUnits="userSpaceOnUse" x1="0" y1="138.5" x2="0" y2="151.5"><stop offset="0.038" stop-opacity="0.69"/><stop offset="0.192" stop-opacity="0.69"/><stop offset="0.346" stop-opacity="0.69"/><stop offset="0.500" stop-opacity="0.69"/><stop offset="0.654" stop-opacity="0.69"/><stop offset="0.808" stop-opacity="0.69"/><stop offset="0.962" stop-opacity="0.69"/><stop offset="0.962" stop-opacity="0.69"/></linearGradient><path d="M474.8 138.5 474.8 139 474.8 140 474.8 141 474.8 142 474.8 143 474.8 144 474.8 145 474.8 146 474.8 147 474.8 148 474.8 149 474.8 150 474.8 151 474.8 151.5 463.4 151.5 463.4 151 463.4 150 463.4 149 463.4 148 463.4 147 463.4 146 463.4 145 463.4 144 463.4 143 463.4 142 463.4 141 463.4 140 463.4 139 463.4 138.5z" fill="url(#m4_2_0)"/><linearGradient id="m4_2_1" gradientUnits="userSpaceOnUse" x1="0" y1="104.5" x2="0" y2="118.5"><stop offset="0.036" stop-opacity="0.05"/><stop offset="0.179" stop-opacity="0.15"/><stop offset="0.321" stop-opacity="0.25"/><stop offset="0.464" stop-opacity="0.34"/><stop offset="0.607" stop-opacity="0.44"/><stop offset="0.750" stop-opacity="0.53"/><stop offset="0.893" stop-opacity="0.63"/><stop offset="0.964" stop-opacity="0.68"/></linearGradient><path d="M475.9 104.5 475.9 105 475.9 106 475.9 107 475.9 108 475.9 109 475.9 110 475.9 111 475.9 112 475.9 113 475.9 114 475.9 115 475.9 116 475.9 117 475.9 118 475.9 118.5 462.3 118.5 462.3 118 462.3 117 462.3 116 462.3 115 462.3 114 462.3 113 462.3 112 462.3 111 462.3 110 462.3 109 462.3 108 462.3 107 462.3 106 462.3 105 462.3 104.5z" fill="url(#m4_2_1)"/><path d="M472.5 48.5h0m-9 5.5h0m7 2.5h0m-7 .5h0m10 2.5h0m-8.5 .5h0m4 5.5h0m-3 3h0m-3 .5h0m4 1.5h0m.5 2h0m4 0h0m-6.5 1.5h0m11 .5h0m-6.5 .5h0m5.5 2.5h0m1 0h0m-11 .5h0m1.5 0h0m-1.5 .5h0m1.5 .5h0m4 0h0m2 0h0m-2.5 .5h0m-5 1h0m8 1h0m-8.5 .5h0m-2 .5h0m3.5 1.5h0m4.5 0h0m3.5 0h0m0 1.5h0m-6.5 .5h0m4 0h0m.5 .5h0m.5 0h0m3 0h0m.5 0h0m-4 .5h0m-7.5 .5h0m2.5 0h0m6 0h0m2 0h0m-13 .5h0m6.5 0h0m1.5 0h0m.5 0h0m5 .5h0m.5 0h0m-12.5 .5h0m5.5 0h0m2 0h0m1 0h0m-3 .5h0m2.5 0h0m4.5 0h0m-6 .5h0m2.5 0h0m3 0h0m-5.5 .5h0m4 0h0m-10 .5h0m.5 0h0m.5 0h0m-3 .5h0m5 0h0m4.5 0h0m1 0h0m-10 .5h0m.5 .5h0m1 .5h0m2.5 0h0m3.5 .5h0m-5 .5h0m5.5 0h0m1 0h0m.5 0h0m-2.5 .5h0m.5 0h0m1.5 0h0m2.5 0h0m-10.5 .5h0m9 0h0m-7.5 .5h0m2.5 0h0m3.5 0h0m2 1h0m-8 .5h0m.5 0h0m2 0h0m2.5 0h0m1.5 0h0m-9 .5h0m4 0h0m3 0h0m2 0h0m4 0h0m-12.5 .5h0m1 0h0m3 0h0m-4.5 .5h0m3.5 0h0m6 .5h0m2 0h0m-9.5 .5h0m9.5 0h0m1.5 0h0m-12.5 .5h0m2 0h0m5.5 0h0m-7.5 .5h0m3.5 0h0m6.5 0h0m2.5 0h0m-11.5 .5h0m.5 0h0m3 0h0m2 0h0m.5 0h0m-8 .5h0m3 0h0m3 0h0m3.5 0h0m.5 0h0m-7 .5h0m2 0h0m.5 0h0m2 0h0m.5 0h0m2 0h0m-8.5 .5h0m2 0h0m2 0h0m4.5 0h0m3 0h0m1 0h0m-11.5 .5h0m.5 0h0m1.5 0h0m-3.5 .5h0m1.5 0h0m1.5 0h0m8 0h0m.5 0h0m1 0h0m-13 .5h0m4 0h0m7.5 0h0m1 0h0m.5 0h0m-12.5 .5h0m2 0h0m9.5 0h0m-12.5 .5h0m3 0h0m5.5 0h0m1.5 0h0m1 0h0m.5 0h0m1 0h0m-12 .5h0m.5 0h0m1 0h0m1 0h0m1.5 0h0m.5 0h0m1.5 0h0m.5 0h0m.5 0h0m.5 0h0m.5 0h0m1 0h0m2 0h0m1 0h0m1 0h0m-11.5 .5h0m2 0h0m.5 0h0m5 0h0m-3.5 .5h0m6.5 0h0m.5 0h0m-12 .5h0m3 0h0m5 0h0m2.5 0h0m.5 0h0m1 0h0m1 .5h0m-11.5 .5h0m4 0h0m4.5 0h0m-10.5 .5h0m.5 0h0m4 0h0m4 0h0m1 0h0m.5 0h0m-1 .5h0m3.5 0h0m-13 .5h0m2 0h0m1.5 0h0m1 0h0m4.5 0h0m4.5 0h0m-13.5 .5h0m3 0h0m.5 0h0m1.5 0h0m.5 0h0m.5 0h0m5.5 0h0m2 0h0m-13 .5h0m2 0h0m2.5 0h0m5 0h0m-8.5 .5h0m7.5 0h0m-7.5 .5h0m.5 0h0m6 0h0m1 0h0m2.5 0h0m-10 .5h0m5.5 0h0m3.5 0h0m1.5 0h0m.5 0h0m1.5 0h0m-7.5 .5h0m4 0h0m-10 .5h0m1.5 0h0m1 0h0m1.5 0h0m4 0h0m3 0h0m2.5 0h0m-11.5 .5h0m.5 0h0m7 0h0m2 0h0m-11 .5h0m10 0h0m1 0h0m.5 0h0m1 0h0m-12.5 .5h0m.5 0h0m1.5 0h0m.5 0h0m8 0h0m2 0h0m-8 .5h0m6 0h0m.5 0h0m1.5 0h0m-13 .5h0m3.5 0h0m1 0h0m5 0h0m.5 0h0m-10 .5h0m.5 0h0m2 0h0m2.5 0h0m.5 0h0m4.5 0h0m1 0h0m2.5 0h0m-14 .5h0m1 0h0m.5 0h0m1.5 0h0m7 0h0m2.5 0h0m-12.5 .5h0m2 0h0m1.5 0h0m2 0h0m6.5 0h0m.5 0h0m-8.5 .5h0m2 0h0m1 0h0m5.5 0h0m-4.5 .5h0m.5 0h0m1.5 0h0m-6.5 .5h0m9.5 0h0m-10.5 20h0m1.5 0h0m2 0h0m3 0h0m1.5 0h0m1.5 0h0m-11 .5h0m.5 0h0m1.5 0h0m1 0h0m1.5 0h0m.5 0h0m1 0h0m.5 0h0m3.5 0h0m1 0h0m-9 .5h0m2.5 0h0m3.5 0h0m2 0h0m.5 0h0m-8 .5h0m.5 0h0m4 0h0m3 0h0m-9.5 .5h0m2.5 0h0m2 0h0m2 0h0m1.5 0h0m2 0h0m.5 0h0m-10.5 .5h0m4.5 0h0m2.5 0h0m-5.5 .5h0m3.5 0h0m2.5 0h0m2.5 0h0m-10.5 .5h0m3.5 0h0m1 0h0m1 0h0m2 0h0m.5 0h0m2 0h0m-9 .5h0m.5 0h0m2 0h0m1 0h0m.5 0h0m2 0h0m.5 0h0m1 0h0m1 0h0m-8.5 .5h0m.5 0h0m1 0h0m1.5 0h0m.5 0h0m3 0h0m2.5 0h0m.5 0h0m-10.5 .5h0m.5 0h0m2 0h0m5 0h0m1 0h0m1 0h0m1.5 0h0m.5 0h0m-7.5 .5h0m.5 0h0m1.5 0h0m1 0h0m1 0h0m1 0h0m-7 .5h0m3 0h0m.5 0h0m.5 0h0m2 0h0m.5 0h0m2 0h0m-8.5 .5h0m4 0h0m-5.5 .5h0m.5 0h0m2 0h0m.5 0h0m2.5 0h0m-2.5 .5h0m1 0h0m6.5 0h0m.5 0h0m-10 .5h0m2.5 0h0m.5 0h0m5 0h0m-8 .5h0m1 0h0m6.5 0h0m1.5 0h0m.5 0h0m-9.5 .5h0m.5 0h0m1 0h0m.5 0h0m.5 0h0m1 0h0m6.5 0h0m-8 .5h0m3.5 0h0m2.5 0h0m-8.5 .5h0m1.5 0h0m1 0h0m2 0h0m5 0h0m-5.5 .5h0m3.5 0h0m-5.5 .5h0m.5 0h0m1 0h0m1 0h0m.5 0h0m1 0h0m3 0h0m.5 0h0m-9 .5h0m1.5 0h0m.5 .5h0m1.5 0h0m2 0h0m3.5 0h0m1 0h0m-8 .5h0m1.5 0h0m1 0h0m2.5 0h0m-8 .5h0m2.5 0h0m2 0h0m.5 0h0m4 0h0" stroke="#000" stroke-opacity=".8" stroke-width="1.7" stroke-linecap="round" fill="none"/><path d="M468.5 52h0m-.5 4h0m1 4.5h0m5.5 1h0m-11.5 2h0m11.5 3.5h0m-6.5 .5h0m3 3h0m3 .5h0m-2 1h0m-3.5 .5h0m3 0h0m4 .5h0m-6 .5h0m2.5 .5h0m-5 1h0m2.5 .5h0m-7.5 .5h0m5.5 0h0m2 0h0m4 .5h0m-1 .5h0m3 0h0m-10 .5h0m10 1.5h0m-4 .5h0m-7 1.5h0m11.5 0h0m-11 1h0m9.5 0h0m-10 .5h0m.5 0h0m11 0h0m-14 .5h0m1 .5h0m11 0h0m1.5 0h0m-1 .5h0m-10.5 .5h0m3 0h0m9 0h0m-8.5 1h0m4 0h0m-4.5 .5h0m7.5 0h0m-10 .5h0m11.5 .5h0m-11 .5h0m8.5 0h0m-10.5 .5h0m2 0h0m6.5 0h0m3.5 0h0m-1.5 1h0m2.5 0h0m-12.5 1h0m1 0h0m1.5 0h0m1.5 .5h0m2 0h0m1 0h0m-6 .5h0m2 0h0m1 0h0m3 0h0m4.5 0h0m.5 0h0m-11 .5h0m2 0h0m9 0h0m-13 .5h0m8.5 0h0m1 0h0m-7.5 .5h0m-.5 .5h0m-.5 .5h0m1.5 0h0m0 .5h0m3 0h0m3.5 0h0m-6 .5h0m3.5 0h0m6.5 0h0m-12.5 .5h0m4.5 .5h0m1 0h0m-3 1h0m1.5 0h0m4 0h0m.5 .5h0m-8 .5h0m11.5 0h0m.5 0h0m-10 .5h0m-.5 .5h0m2 0h0m5.5 0h0m3.5 0h0m-2.5 .5h0m-11 .5h0m5.5 0h0m3 0h0m-6 .5h0m1.5 0h0m4.5 0h0m1 0h0m3 0h0m-5.5 .5h0m.5 0h0m1.5 0h0m-6.5 .5h0m.5 0h0m8 0h0m-6 .5h0m3 0h0m1.5 0h0m2 0h0m-11 .5h0m4.5 0h0m3.5 .5h0m-7 .5h0m5.5 0h0m1.5 0h0m-9 .5h0m3.5 0h0m5 0h0m4.5 0h0m-12 .5h0m1.5 0h0m2.5 0h0m7 0h0m1 0h0m-5.5 .5h0m-5 .5h0m2.5 0h0m4.5 0h0m1 0h0m1.5 0h0m1.5 0h0m.5 0h0m-14 .5h0m.5 0h0m2 0h0m3.5 0h0m.5 0h0m5 0h0m-6.5 .5h0m.5 0h0m2 0h0m2.5 0h0m-5.5 .5h0m6 0h0m1.5 0h0m2 0h0m-13 .5h0m2.5 0h0m4 0h0m2 0h0m2 0h0m1.5 0h0m-12 .5h0m4 0h0m.5 0h0m.5 0h0m.5 0h0m4 0h0m1.5 0h0m2 0h0m-10.5 .5h0m2 0h0m4 0h0m2 0h0m2.5 0h0m-11 .5h0m2 0h0m1 0h0m5 0h0m3 0h0m-13 .5h0m4 0h0m1 0h0m.5 0h0m1 0h0m2 0h0m3 0h0m1 0h0m.5 0h0m-10.5 .5h0m1 0h0m2.5 0h0m.5 0h0m1 0h0m.5 0h0m3 0h0m1 0h0m-1 .5h0m2 0h0m-6 .5h0m5 0h0m1 0h0m-6.5 .5h0m1.5 0h0m.5 0h0m2 0h0m2 0h0m.5 0h0m-13 .5h0m1.5 0h0m3.5 0h0m.5 0h0m1.5 0h0m3.5 0h0m2.5 0h0m-13 .5h0m1 0h0m.5 0h0m1 0h0m2 .5h0m2 0h0m2 0h0m-5 .5h0m1 0h0m8.5 0h0m-9.5 .5h0m.5 0h0m1.5 0h0m.5 0h0m2.5 0h0m1.5 0h0m2.5 0h0m.5 0h0m-13.5 .5h0m2 0h0m7 0h0m-6.5 .5h0m.5 0h0m1.5 0h0m1.5 0h0m-6 .5h0m2 0h0m1 0h0m.5 0h0m.5 0h0m1.5 0h0m2 0h0m2.5 0h0m1 0h0m-10 .5h0m.5 0h0m5.5 0h0m1 0h0m.5 0h0m-5.5 .5h0m.5 0h0m.5 0h0m-4.5 .5h0m7.5 0h0m1 0h0m.5 0h0m.5 0h0m-8.5 .5h0m.5 0h0m6 0h0m.5 0h0m2 0h0m.5 0h0m1 0h0m.5 0h0m-11.5 .5h0m.5 0h0m.5 0h0m1.5 0h0m1 0h0m2 0h0m6 0h0m1 0h0m-11 .5h0m2 0h0m8 0h0m-3 .5h0m1.5 0h0m-8 20h0m.5 0h0m3 0h0m4.5 0h0m1 0h0m-10 .5h0m3.5 0h0m.5 0h0m1.5 0h0m-4 .5h0m1.5 0h0m2.5 0h0m2 0h0m-7.5 .5h0m.5 0h0m.5 0h0m.5 0h0m4.5 0h0m3.5 0h0m-7 .5h0m3 0h0m.5 0h0m1.5 0h0m2 0h0m-9 .5h0m1.5 0h0m2 0h0m.5 0h0m3.5 0h0m.5 0h0m.5 0h0m1 0h0m.5 0h0m.5 0h0m.5 0h0m-7 .5h0m6.5 0h0m-11 .5h0m5 0h0m2 0h0m1.5 0h0m1.5 0h0m.5 0h0m-10.5 .5h0m2.5 0h0m1 0h0m.5 0h0m2.5 0h0m2.5 0h0m.5 0h0m.5 0h0m1 0h0m-11 .5h0m3 0h0m.5 0h0m1 0h0m.5 0h0m1 0h0m.5 0h0m2.5 0h0m.5 0h0m1.5 0h0m-10.5 .5h0m3 0h0m1.5 0h0m.5 0h0m.5 0h0m1.5 0h0m2 0h0m2 0h0m-9.5 .5h0m2.5 0h0m1 0h0m.5 0h0m3 0h0m.5 0h0m-3.5 .5h0m3 0h0m2 0h0m-10 .5h0m3.5 0h0m4 0h0m2.5 0h0m-9.5 .5h0m1 0h0m3 0h0m1 0h0m2.5 0h0m2 0h0m-10.5 .5h0m1 0h0m3.5 0h0m.5 0h0m1.5 0h0m2 0h0m1.5 0h0m1 0h0m-12 .5h0m1.5 0h0m2.5 0h0m1 0h0m.5 0h0m1 0h0m1.5 0h0m3 0h0m.5 0h0m.5 0h0m-9.5 .5h0m.5 0h0m2 0h0m2.5 0h0m.5 0h0m2 0h0m.5 0h0m1.5 0h0m-11.5 .5h0m7 0h0m1 0h0m2.5 0h0m.5 0h0m-11 .5h0m.5 0h0m1.5 0h0m1 0h0m1 0h0m1 0h0m4 0h0m-7.5 .5h0m2 0h0m1 0h0m3 0h0m-7 .5h0m1 0h0m.5 0h0m3.5 0h0m.5 0h0m2 0h0m3.5 0h0m-12 .5h0m1.5 0h0m2 0h0m4 0h0m4.5 0h0m-11 .5h0m.5 0h0m1 0h0m2.5 0h0m2 0h0m3 0h0m1.5 0h0m-11 .5h0m1.5 0h0m1 0h0m.5 0h0m1.5 0h0m2.5 0h0m2.5 0h0m1 0h0m.5 0h0m-10 .5h0m4 0h0m.5 0h0m.5 0h0m1 0h0m1.5 0h0m.5 0h0m.5 0h0m1 0h0m-6.5 .5h0m.5 0h0m1 0h0m3.5 0h0m.5 0h0m2 0h0" stroke="#000" stroke-opacity=".8" stroke-width="1.7" stroke-linecap="round" fill="none"/><path d="M469 49.5h0m0 1.5h0m0 1h0m0 6h0m0 1h0m.5 2h0m-.5 2h0m.5 3h0m0 3h0m0 1h0m-.5 5h0m.5 1h0m-.5 7h0m0 2h0" stroke="#111" stroke-opacity=".8" stroke-width="1.5" stroke-linecap="round" fill="none"/><path d="M469.1 87.6V118.3M469.1 138.8V149.7" stroke="#333" stroke-width=".5"/><rect x="456.8" y="118.3" width="24.6" height="20.5" fill="#1CB4B9" stroke="#000" stroke-opacity=".45" stroke-width=".6"/><path d="M456.8 130.3H481.4" stroke="#000" stroke-opacity=".5" stroke-width="1.1"/><path d="M501.2 150.8l6.8-.5l2.7-2.5l2.1-2.5l2.3-3.5l1.1-2l0-.5l-1.1-4.5l-5.8-11.1l-2.1-6.1l-3.3-17.7l-1.7-8.1l-.7-13.1l-.2-26.3l-.3 0l-.2 26.3l-.7 13.1l-1.7 8.1l-3.3 17.7l-2.1 6.1l-5.8 11.1l-1.1 4.5l0 .5l1.1 2l2.3 3.5l2.1 2.5l2.7 2.5l6.8 .5z" fill="#A07FBD" stroke="#333" stroke-width=".55"/><path d="M502 58.5h0m-5 12.5h0m7 4.5h0m-2.5 .5h0m-3 1.5h0m3 6h0m4 4.5h0m-1.5 5h0m-8 3h0m8.5 2h0m3 2.5h0m-3.5 .5h0m-7.5 4.5h0m4.5 6h0m-2 2.5h0m.5 7h0m.5 21h0m3 1.5h0m-3 1h0m0 1.5h0m5 0h0m0 .5h0m-.5 1h0m-1.5 1.5h0m2 0h0m-7 .5h0m-2.5 .5h0m5 0h0" stroke="#000" stroke-opacity=".8" stroke-width="1.7" stroke-linecap="round" fill="none"/><path d="M507 61h0m-4 6h0m1.5 2.5h0m-1.5 9h0m-6.5 2.5h0m9.5 1.5h0m-7 .5h0m-3.5 7h0m5 3h0m0 3.5h0m-2.5 3.5h0m-2 1h0m5.5 1h0m5 8h0m-6 5h0m-3 2.5h0m7.5 .5h0m1 2.5h0m1.5 1h0m-7 21h0m-2 .5h0m4 .5h0m2 0h0m2.5 0h0m-8.5 .5h0m6 .5h0m-1.5 .5h0m-4 .5h0m1.5 .5h0m2 .5h0m-7 2h0m5.5 1h0m3 .5h0m.5 .5h0m-6 .5h0m1 0h0m4 0h0m3.5 0h0m-1.5 .5h0" stroke="#000" stroke-opacity=".8" stroke-width="1.7" stroke-linecap="round" fill="none"/><path d="M501.5 52h0m-.5 1h0m.5 1h0m-.5 3h0m0 2h0m0 1h0m0 1h0m0 3h0m.5 1h0m0 2h0m-.5 1h0m0 1h0m.5 1h0m0 7h0m0 8h0m-.5 6h0m0 2h0m.5 1h0" stroke="#111" stroke-opacity=".8" stroke-width="1.5" stroke-linecap="round" fill="none"/><path d="M501.2 95.2V123.3M501.2 142V150.8" stroke="#333" stroke-width=".5"/><rect x="488.9" y="123.3" width="24.6" height="18.7" fill="#A07FBD" stroke="#000" stroke-opacity=".45" stroke-width=".6"/><path d="M488.9 137H513.5" stroke="#000" stroke-opacity=".5" stroke-width="1.1"/><rect x="385.5" y="18.2" width="135" height="139.3" fill="none" stroke="#555" stroke-width="1"/><path d="M385.5 17.7V158" stroke="#333" stroke-width="1"/><clipPath id="c4"><rect x="385.5" y="17.6" width="135" height="139.9"/></clipPath><g clip-path="url(#c4)"><path d="M404.8 47.8V44.8H436.9V47.8" fill="none" stroke="#222" stroke-width=".75"/><text x="420.9" y="42.9" font-size="7" fill="#333" color="#333" text-anchor="middle">7.5e−15</text><path d="M436.9 37.6V34.6H469.1V37.6" fill="none" stroke="#222" stroke-width=".75"/><text x="453" y="32.7" font-size="7" fill="#333" color="#333" text-anchor="middle">2.8e−05</text><path d="M469.1 27.4V24.4H501.2V27.4" fill="none" stroke="#222" stroke-width=".75"/><text x="485.1" y="23.5" font-size="7" fill="#333" color="#333" text-anchor="middle">3.7e−09</text></g><path d="M381.3 156.1H385.5" stroke="#333" stroke-width=".8"/><text x="377.2" y="159.7" font-size="10.2" fill="#1a1a1a" color="#1a1a1a" text-anchor="end">0</text><path d="M381.3 120.8H385.5" stroke="#333" stroke-width=".8"/><text x="377.2" y="124.4" font-size="10.2" fill="#1a1a1a" color="#1a1a1a" text-anchor="end">1</text><path d="M381.3 85.5H385.5" stroke="#333" stroke-width=".8"/><text x="377.2" y="89.1" font-size="10.2" fill="#1a1a1a" color="#1a1a1a" text-anchor="end">2</text><path d="M381.3 50.2H385.5" stroke="#333" stroke-width=".8"/><text x="377.2" y="53.8" font-size="10.2" fill="#1a1a1a" color="#1a1a1a" text-anchor="end">3</text><path d="M404.8 157.5V161.7" stroke="#333" stroke-width=".8"/><text x="401.6" y="172.4" font-size="7.7" fill="#2a2a2a" color="#2a2a2a" text-anchor="middle">Stage I</text><path d="M436.9 157.5V161.7" stroke="#333" stroke-width=".8"/><text x="435.5" y="172.4" font-size="7.7" fill="#2a2a2a" color="#2a2a2a" text-anchor="middle">Stage II</text><path d="M469.1 157.5V161.7" stroke="#333" stroke-width=".8"/><text x="470.2" y="172.4" font-size="7.7" fill="#2a2a2a" color="#2a2a2a" text-anchor="middle">Stage III</text><path d="M501.2 157.5V161.7" stroke="#333" stroke-width=".8"/><text x="506.2" y="172.4" font-size="7.7" fill="#2a2a2a" color="#2a2a2a" text-anchor="middle">Stage IV</text><text transform="translate(363 87.8) rotate(-90) scale(.9 1)" font-size="10.5" fill="#222" color="#222" text-anchor="middle" y="3.7">Expression</text><text transform="translate(452.4 9.1) scale(.86 1)" font-size="11.3" font-style="italic" fill="#1a1a1a" color="#1a1a1a" text-anchor="middle">CHST15</text>
<g stroke="#ECECEC" stroke-width=".6"><path d="M557.5 141.7H692.5"/><path d="M557.5 111.7H692.5"/><path d="M557.5 81.7H692.5"/><path d="M557.5 51.7H692.5"/><path d="M557.5 21.7H692.5"/></g><g stroke="#E8E8E8" stroke-width=".65"><path d="M557.5 156.7H692.5"/><path d="M557.5 126.7H692.5"/><path d="M557.5 96.7H692.5"/><path d="M557.5 66.7H692.5"/><path d="M557.5 36.7H692.5"/><path d="M576.8 18.2V157.5"/><path d="M608.9 18.2V157.5"/><path d="M641.1 18.2V157.5"/><path d="M673.2 18.2V157.5"/></g><path d="M576.8 149.8l.5-1l1.1-1l3.8-5l2.1-5l1.5-4l.6-2.5l.3-13.1l-.6-5.5l-4.1-26.7l-3.7-12.6l-1.4-3.5l-0-20.6l-.1-.5l0 0l-.1 .5l-0 20.6l-1.4 3.5l-3.7 12.6l-4.1 26.7l-.6 5.5l.3 13.1l.6 2.5l1.5 4l2.1 5l3.8 5l1.1 1l.5 1z" fill="#E87068" stroke="#333" stroke-width=".55"/><path d="M572 56.5h0m1.5 5.5h0m7.5 18.5h0m-5 1h0m2.5 1.5h0m-5 .5h0m6 7h0m0 3.5h0m-6.5 4h0m5.5 1.5h0m1 0h0m-6 1h0m1 1.5h0m2.5 2h0m5 9h0m-1.5 2h0m-8.5 1h0m7 1h0m-7 .5h0m1 .5h0m-1 1h0m2.5 1h0m-3 1.5h0m10.5 1h0m-3 .5h0m-6.5 1h0m-1 .5h0m8 1.5h0m-6.5 2h0m2.5 1h0m3 1h0m-3.5 5.5h0m-2 1.5h0m3.5 1h0m-.5 1h0m-2.5 2h0m2 2.5h0m0 .5h0m1.5 3h0m-5.5 .5h0m1.5 0h0m8 0h0m-4.5 .5h0m5 1h0m-10 .5h0m7 .5h0" stroke="#000" stroke-opacity=".8" stroke-width="1.7" stroke-linecap="round" fill="none"/><path d="M576 53.5h0m-1 6h0m-2.5 1h0m5.5 .5h0m2.5 2.5h0m-3.5 9h0m-5 4.5h0m8 .5h0m-5.5 4.5h0m7.5 3h0m-9.5 2.5h0m5 1.5h0m1 4.5h0m-4.5 2h0m8 0h0m-1.5 .5h0m-4.5 1.5h0m.5 .5h0m0 .5h0m3 1h0m-6.5 2.5h0m-.5 .5h0m2.5 3h0m0 1h0m3 1h0m4 2.5h0m-3.5 .5h0m-1 6h0m-.5 .5h0m-.5 1h0m5.5 1h0m-5.5 .5h0m4 0h0m-5 3.5h0m3.5 .5h0m-1 1.5h0m2 0h0m-1 1.5h0m2 3.5h0m-3 3.5h0m3 0h0m-8 2h0m7 1.5h0m-2 2h0m1 0h0m2 1.5h0m-8 .5h0m2 .5h0m3.5 .5h0m-4.5 1h0m5 0h0m-3.5 1.5h0m2 0h0m3.5 1h0m-3 2h0" stroke="#000" stroke-opacity=".8" stroke-width="1.7" stroke-linecap="round" fill="none"/><path d="M577 49h0m-.5 5h0m.5 3h0m-.5 4h0" stroke="#111" stroke-opacity=".8" stroke-width="1.5" stroke-linecap="round" fill="none"/><path d="M576.8 62.5V103.9M576.8 131.5V149.8" stroke="#333" stroke-width=".5"/><rect x="564.5" y="103.9" width="24.6" height="27.6" fill="#E87068" stroke="#000" stroke-opacity=".45" stroke-width=".6"/><path d="M564.5 118.3H589.1" stroke="#000" stroke-opacity=".5" stroke-width="1.1"/><path d="M608.9 150.7l2.6-1l.7-.5l1.9-2l1.9-2.5l1.7-5l1.4-5l.8-12.6l-.5-10.1l-1.3-10.1l-1.8-5.6l-2.4-6.6l-4.5-7.1l-.3-15.6l-.1-.5l0 0l-.1 .5l-.3 15.6l-4.5 7.1l-2.4 6.6l-1.8 5.6l-1.3 10.1l-.5 10.1l.8 12.6l1.4 5l1.7 5l1.9 2.5l1.9 2l.7 .5l2.6 1z" fill="#7AA82F" stroke="#333" stroke-width=".55"/><path d="M612.5 67h0m-5.5 4h0m4.5 2.5h0m-4 3h0m2 1h0m-4 1.5h0m-.5 .5h0m-1 2h0m-.5 1h0m4 1h0m3 2.5h0m-3.5 1h0m2.5 0h0m3 1h0m-1.5 .5h0m3 0h0m1 1.5h0m-3 .5h0m-7 .5h0m.5 0h0m8.5 0h0m0 .5h0m-10 .5h0m2.5 .5h0m5.5 0h0m3 0h0m-9.5 .5h0m2 0h0m.5 0h0m.5 0h0m2.5 0h0m1 0h0m-6.5 .5h0m4.5 0h0m1 0h0m3 0h0m-4 .5h0m3 0h0m-.5 .5h0m-4 .5h0m4.5 0h0m-4.5 .5h0m-3.5 .5h0m-1 .5h0m-.5 .5h0m6 .5h0m4 0h0m.5 0h0m-11.5 .5h0m10 0h0m1 0h0m.5 0h0m-8 .5h0m2.5 0h0m-1.5 .5h0m0 .5h0m-4 .5h0m3 0h0m3.5 0h0m1.5 0h0m1 0h0m1.5 .5h0m-4 .5h0m1.5 0h0m3.5 0h0m-12 .5h0m1.5 0h0m1.5 0h0m7.5 .5h0m-9.5 .5h0m7 0h0m4 0h0m-11.5 .5h0m9 0h0m.5 0h0m-4.5 .5h0m5.5 0h0m-3 .5h0m1.5 0h0m-1.5 .5h0m-7.5 1h0m1.5 0h0m3.5 0h0m4.5 0h0m.5 0h0m1.5 0h0m0 .5h0m-2 .5h0m-8 .5h0m4.5 0h0m0 .5h0m5.5 0h0m-6.5 .5h0m3 0h0m-2.5 .5h0m-4 .5h0m9 0h0m-6 .5h0m5 0h0m1 0h0m1.5 0h0m-7 .5h0m-4 .5h0m8 0h0m.5 0h0m-5 .5h0m7.5 0h0m-13 1h0m3.5 0h0m2 0h0m-4.5 .5h0m1 .5h0m3 .5h0m-3.5 .5h0m5.5 0h0m3 1h0m1 0h0m1.5 .5h0m1 .5h0m-7.5 .5h0m-3 .5h0m4.5 0h0m3 .5h0m-9.5 .5h0m1 .5h0m11.5 0h0m-8 1h0m1 0h0m.5 .5h0m4 0h0m-10.5 .5h0m8 0h0m-1.5 .5h0m-6.5 .5h0m2.5 0h0m9 0h0m1 0h0m-12 .5h0m5 0h0m4.5 0h0m1 0h0m-10.5 .5h0m9 .5h0m-10 .5h0m1 0h0m3.5 0h0m8.5 0h0m-10 .5h0m10 0h0m-4 .5h0m-7.5 1.5h0m8.5 0h0m1.5 0h0m1.5 .5h0m-8.5 .5h0m8.5 0h0m.5 0h0m-11 1h0m8.5 0h0m-1.5 1h0m-8.5 .5h0m5 0h0m-3 .5h0m.5 0h0m-2 .5h0m3 0h0m6 0h0m2 0h0m-4.5 .5h0m-1.5 1h0m1 0h0m4 0h0m-9 .5h0m7.5 .5h0m-3 1.5h0m-5 .5h0m1 0h0m1 0h0m5.5 0h0m-8.5 .5h0m.5 0h0m1 0h0m.5 0h0m6.5 .5h0m2.5 0h0m-8 1h0m2 0h0m7 1.5h0m-.5 .5h0m-5 .5h0m4.5 0h0m1.5 0h0m-11.5 .5h0m1 0h0m7.5 0h0m3.5 0h0m-9 .5h0m.5 0h0m-4.5 .5h0m3.5 0h0m1 0h0m1.5 0h0m6.5 .5h0m-10 .5h0m5 0h0m1 0h0m3 0h0m-2.5 .5h0m-9 .5h0m9.5 1h0m-9.5 .5h0m2 0h0m2.5 0h0m5.5 0h0m1 0h0m-1.5 .5h0m-4.5 .5h0m-1.5 1h0m3.5 0h0m-3.5 .5h0m2 1h0m5.5 0h0m-6.5 .5h0m1 .5h0m4.5 0h0m-1 .5h0m-1 .5h0" stroke="#000" stroke-opacity=".8" stroke-width="1.7" stroke-linecap="round" fill="none"/><path d="M612.5 74h0m1 1h0m-7.5 1h0m-.5 5.5h0m9 1h0m-4 1h0m-2.5 .5h0m5 0h0m-2.5 .5h0m0 1h0m-6.5 .5h0m-.5 1h0m9.5 .5h0m-10 .5h0m10.5 1.5h0m-8.5 .5h0m-.5 1.5h0m-1.5 .5h0m10 0h0m2 0h0m-.5 .5h0m-11.5 1h0m3 0h0m5 0h0m-1 1h0m1 0h0m3 .5h0m-5 .5h0m5 0h0m-7 .5h0m-.5 1h0m2.5 .5h0m-2.5 .5h0m3 0h0m6 0h0m-4.5 .5h0m-8 .5h0m1.5 0h0m.5 0h0m4.5 0h0m-7.5 1h0m8.5 0h0m-4.5 .5h0m6 0h0m-9 .5h0m2 0h0m3 0h0m2.5 0h0m-8 .5h0m2.5 0h0m2 0h0m-4.5 .5h0m3.5 .5h0m6.5 .5h0m-9.5 .5h0m5 .5h0m6 0h0m-12 .5h0m.5 0h0m7.5 .5h0m5 0h0m-12.5 .5h0m4 0h0m7 0h0m-7.5 .5h0m.5 0h0m-1.5 .5h0m.5 0h0m.5 .5h0m4 0h0m-8 1h0m8 0h0m2 0h0m-7.5 .5h0m2 0h0m.5 0h0m5 0h0m2.5 0h0m-12.5 .5h0m.5 0h0m1 .5h0m11.5 0h0m-12 .5h0m1.5 0h0m3.5 0h0m-5.5 1h0m6.5 0h0m-1.5 .5h0m2.5 0h0m4.5 0h0m-12.5 .5h0m6 0h0m-4.5 1h0m3.5 0h0m.5 0h0m.5 0h0m1.5 0h0m-5 .5h0m9 0h0m-11 .5h0m.5 0h0m1 .5h0m8 0h0m1.5 .5h0m1 0h0m-12.5 .5h0m13 0h0m-13 .5h0m1.5 0h0m6 0h0m4 0h0m-7 .5h0m1.5 0h0m1 0h0m4 0h0m1 0h0m-10.5 .5h0m-1.5 .5h0m10.5 .5h0m1.5 0h0m-9.5 .5h0m7 0h0m2.5 0h0m-11 .5h0m6.5 0h0m-3.5 .5h0m3 0h0m-5.5 .5h0m.5 0h0m.5 .5h0m5.5 .5h0m-8 1h0m8.5 0h0m1.5 0h0m-10 .5h0m2.5 0h0m8.5 0h0m-8 .5h0m-2.5 .5h0m3 0h0m6.5 0h0m2 .5h0m-3.5 .5h0m5.5 0h0m-.5 1h0m-13.5 .5h0m11.5 0h0m-8.5 .5h0m5 0h0m2.5 0h0m2 0h0m-7.5 .5h0m6 0h0m-7 .5h0m1.5 0h0m-5.5 .5h0m6 0h0m-4.5 .5h0m5.5 .5h0m3 0h0m3 0h0m-4 .5h0m-6 .5h0m4 0h0m4 0h0m3 0h0m-10.5 .5h0m3 0h0m-5 1h0m2.5 0h0m2 0h0m4.5 0h0m-8.5 .5h0m2 0h0m-3.5 1h0m12 0h0m1 0h0m-5.5 .5h0m2.5 .5h0m2.5 0h0m-4 .5h0m-4 .5h0m3 0h0m-3 .5h0m5.5 0h0m-8.5 .5h0m10 0h0m-8.5 .5h0m10.5 0h0m-7.5 .5h0m-4 .5h0m3.5 0h0m3.5 0h0m-5.5 .5h0m1 0h0m.5 0h0m5 .5h0m-7.5 .5h0m.5 0h0m.5 0h0m2 .5h0m5 0h0m-4.5 .5h0m-1.5 .5h0m5.5 0h0m-8 .5h0m10 0h0m.5 0h0m-10.5 .5h0m8.5 0h0m-.5 1h0m2.5 0h0m-11 .5h0m7.5 .5h0m0 .5h0m.5 0h0m3 0h0m-10.5 .5h0m7 0h0m-6 .5h0m8.5 1h0m0 1h0m-1.5 .5h0m-7.5 .5h0m7.5 0h0m-1.5 1.5h0m-1.5 .5h0m3 0h0m-3.5 1.5h0" stroke="#000" stroke-opacity=".8" stroke-width="1.7" stroke-linecap="round" fill="none"/><path d="M609 66h0m0 1h0m0 2h0m0 2h0m0 4h0" stroke="#111" stroke-opacity=".8" stroke-width="1.5" stroke-linecap="round" fill="none"/><path d="M608.9 77.5V111.7M608.9 134.5V150.7" stroke="#333" stroke-width=".5"/><rect x="596.6" y="111.7" width="24.6" height="22.8" fill="#7AA82F" stroke="#000" stroke-opacity=".45" stroke-width=".6"/><path d="M596.6 122.2H621.2" stroke="#000" stroke-opacity=".5" stroke-width="1.1"/><path d="M641.1 150.7l6.2-.5l2.1-2.5l1.6-2.5l1.7-3.5l1-2.5l0-.5l-.7-11.1l-3.6-16.1l-1.1-7.6l-1.1-11.6l-.7-2l-3.7-8.6l-1-7.1l-1-4.5l0 0l-1 4.5l-1 7.1l-3.7 8.6l-.7 2l-1.1 11.6l-1.1 7.6l-3.6 16.1l-.7 11.1l0 .5l1 2.5l1.7 3.5l1.6 2.5l2.1 2.5l6.2 .5z" fill="#1CB4B9" stroke="#333" stroke-width=".55"/><linearGradient id="m5_2_0" gradientUnits="userSpaceOnUse" x1="0" y1="138.5" x2="0" y2="151.5"><stop offset="0.038" stop-opacity="0.38"/><stop offset="0.192" stop-opacity="0.38"/><stop offset="0.346" stop-opacity="0.38"/><stop offset="0.500" stop-opacity="0.38"/><stop offset="0.654" stop-opacity="0.38"/><stop offset="0.808" stop-opacity="0.38"/><stop offset="0.962" stop-opacity="0.38"/><stop offset="0.962" stop-opacity="0.38"/></linearGradient><path d="M646.8 138.5 646.8 139 646.8 140 646.8 141 646.8 142 646.8 143 646.8 144 646.8 145 646.8 146 646.8 147 646.8 148 646.8 149 646.8 150 646.8 151 646.8 151.5 635.4 151.5 635.4 151 635.4 150 635.4 149 635.4 148 635.4 147 635.4 146 635.4 145 635.4 144 635.4 143 635.4 142 635.4 141 635.4 140 635.4 139 635.4 138.5z" fill="url(#m5_2_0)"/><path d="M645 75h0m-1.5 .5h0m-5.5 1.5h0m5.5 5h0m3.5 1h0m-8 .5h0m3 .5h0m3 1h0m2 2h0m-1.5 .5h0m-6.5 .5h0m2.5 0h0m6 0h0m.5 0h0m-10.5 1h0m-1 .5h0m2 .5h0m2 0h0m5 0h0m-5 1h0m-3 1h0m4.5 0h0m4.5 1h0m-10.5 .5h0m6.5 0h0m-5.5 1h0m.5 0h0m9.5 0h0m-7.5 .5h0m3.5 0h0m-8 .5h0m7.5 0h0m1 0h0m2 0h0m-1.5 .5h0m-7.5 .5h0m10.5 0h0m-12.5 .5h0m3.5 1h0m2.5 0h0m-3.5 .5h0m-1.5 1h0m0 1h0m1.5 .5h0m7 0h0m-4.5 .5h0m1 0h0m-2 1h0m2 0h0m7 0h0m-10.5 .5h0m.5 0h0m4.5 1h0m.5 1h0m-8 .5h0m13.5 0h0m-5 1h0m-2.5 .5h0m2 0h0m-7 .5h0m7 0h0m3.5 0h0m-10.5 .5h0m1.5 0h0m9.5 0h0m-11.5 .5h0m3 0h0m7 0h0m-8.5 .5h0m8 0h0m-9 .5h0m4 0h0m2 .5h0m6 0h0m-8.5 .5h0m1.5 0h0m2.5 .5h0m-5.5 .5h0m6.5 .5h0m-3.5 .5h0m-5 26h0m8 .5h0m2 0h0m1 0h0m-11.5 .5h0m3.5 0h0m.5 0h0m2 0h0m1 0h0m.5 0h0m1.5 0h0m-8 .5h0m.5 0h0m4 0h0m5 0h0m-6.5 .5h0m1.5 0h0m.5 0h0m4 0h0m.5 0h0m-8.5 .5h0m1 0h0m.5 0h0m2 0h0m6 0h0m-10.5 .5h0m5.5 0h0m5.5 0h0m-6 .5h0m3 0h0m.5 0h0m.5 0h0m1.5 0h0m-7.5 .5h0m1.5 0h0m.5 0h0m.5 0h0m.5 0h0m1.5 0h0m.5 0h0m-9 .5h0m2 0h0m2.5 0h0m.5 0h0m1.5 0h0m2.5 0h0m1 0h0m-7.5 .5h0m1 0h0m1 0h0m2 0h0m3.5 0h0m1.5 0h0m-11 .5h0m4 0h0m4 0h0m1 0h0m1 0h0m-8 .5h0m2 0h0m1.5 0h0m6 0h0m-11 .5h0m4 0h0m3 0h0m-4 .5h0m4 0h0m1 0h0m.5 0h0m2.5 0h0m-11.5 .5h0m2 0h0m1 0h0m.5 0h0m.5 0h0m2 0h0m2 0h0m2 0h0m-7.5 .5h0m2 0h0m1 0h0m-3 .5h0m6.5 0h0m1 0h0m-10 .5h0m1 0h0m2.5 0h0m1 0h0m5 0h0m.5 0h0m-9.5 .5h0m2.5 0h0m5.5 0h0m1.5 0h0m-6 .5h0m.5 0h0m.5 0h0m.5 0h0m5.5 0h0m-11.5 .5h0m1 0h0m.5 0h0m.5 0h0m3.5 0h0m6.5 0h0m-11 .5h0m.5 0h0m2 0h0m.5 0h0m2.5 0h0m1.5 0h0m2 0h0m-7 .5h0m4.5 0h0m.5 0h0m1 0h0m1 0h0m.5 0h0m1.5 0h0m-10.5 .5h0m2.5 0h0m1 0h0m2 0h0m1 0h0m1.5 0h0m1 0h0m-10 .5h0m5.5 0h0m2.5 0h0m.5 0h0m-8.5 .5h0m4.5 0h0" stroke="#000" stroke-opacity=".8" stroke-width="1.7" stroke-linecap="round" fill="none"/><path d="M646 76h0m-1.5 4.5h0m-6.5 .5h0m8 1h0m0 1h0m-8.5 1h0m8 0h0m-3.5 .5h0m-6.5 1h0m.5 1.5h0m5 0h0m-5 2.5h0m6.5 1h0m-6 .5h0m5.5 1.5h0m0 .5h0m-3 .5h0m1.5 0h0m6 0h0m-9.5 .5h0m2 0h0m6 0h0m2 0h0m-10 1h0m1.5 0h0m1.5 0h0m-4.5 1.5h0m1.5 0h0m-2 .5h0m3 0h0m-1.5 1h0m4 0h0m1.5 0h0m1.5 0h0m-7.5 .5h0m0 .5h0m4.5 .5h0m1.5 .5h0m.5 0h0m.5 .5h0m1 1h0m-4 .5h0m4.5 .5h0m-10 .5h0m10.5 .5h0m-4.5 .5h0m1.5 0h0m3.5 .5h0m-6.5 .5h0m3 0h0m4.5 .5h0m-11 .5h0m10 0h0m-9 .5h0m4.5 0h0m-6 .5h0m6.5 .5h0m2 0h0m-3 1h0m-6 1h0m2 0h0m1 0h0m.5 0h0m6 0h0m-2.5 .5h0m-2.5 .5h0m5 0h0m.5 0h0m1.5 0h0m1 0h0m-7.5 .5h0m2 0h0m-6.5 1h0m1.5 0h0m3 0h0m2 0h0m-1 .5h0m-3.5 26h0m.5 .5h0m1 0h0m3.5 0h0m.5 0h0m.5 0h0m.5 0h0m-7 .5h0m1.5 0h0m1.5 0h0m1 0h0m2.5 0h0m1 0h0m-5 .5h0m2.5 0h0m.5 0h0m.5 0h0m1 0h0m1 0h0m1.5 0h0m-10.5 .5h0m.5 0h0m2.5 0h0m1.5 .5h0m3 0h0m1 0h0m-6 .5h0m.5 0h0m2.5 0h0m3.5 0h0m1 0h0m-10 .5h0m10.5 0h0m-8.5 .5h0m2.5 0h0m2.5 0h0m2.5 0h0m1 0h0m.5 0h0m.5 0h0m-11 .5h0m2.5 0h0m3 0h0m.5 0h0m1 0h0m3.5 0h0m.5 0h0m-9.5 .5h0m3.5 0h0m2.5 0h0m3.5 0h0m-10 .5h0m1 0h0m1 0h0m.5 0h0m4 0h0m-5 .5h0m.5 0h0m.5 0h0m1.5 0h0m1.5 0h0m-7.5 .5h0m2.5 0h0m.5 0h0m3 0h0m.5 0h0m-5.5 .5h0m1 0h0m7.5 0h0m2 0h0m-9.5 .5h0m.5 0h0m6.5 0h0m1 0h0m.5 0h0m-9.5 .5h0m.5 0h0m1 0h0m2 0h0m1 0h0m1 0h0m2.5 0h0m.5 0h0m-5 .5h0m4 0h0m1.5 0h0m-8.5 .5h0m4 0h0m1.5 0h0m1 0h0m2 0h0m-6.5 .5h0m2.5 0h0m-.5 .5h0m.5 0h0m2 0h0m2.5 0h0m-2 .5h0m3.5 0h0m-10.5 .5h0m6 0h0m-7 .5h0m1 0h0m1.5 0h0m4 0h0m2.5 0h0m-8.5 .5h0m1 0h0m2 0h0m2.5 0h0m.5 0h0m3.5 0h0m-6.5 .5h0m2 0h0m.5 0h0m3.5 0h0m-2 .5h0m1 0h0m.5 0h0" stroke="#000" stroke-opacity=".8" stroke-width="1.7" stroke-linecap="round" fill="none"/><path d="M641 70.5h0" stroke="#111" stroke-opacity=".8" stroke-width="1.5" stroke-linecap="round" fill="none"/><path d="M641.1 70.7V111.7M641.1 139V150.7" stroke="#333" stroke-width=".5"/><rect x="628.8" y="111.7" width="24.6" height="27.3" fill="#1CB4B9" stroke="#000" stroke-opacity=".45" stroke-width=".6"/><path d="M628.8 127.3H653.4" stroke="#000" stroke-opacity=".5" stroke-width="1.1"/><path d="M673.2 147.7l5.7-.5l1.1-5.5l1.8-12.6l2.5-8.6l1.4-9.1l-.1-.5l-.7-1l-3.2-4l-3.2-10.1l-2.9-8.6l-.5-2l-1-9.1l-1-5.5l0 0l-1 5.5l-1 9.1l-.5 2l-2.9 8.6l-3.2 10.1l-3.2 4l-.7 1l-.1 .5l1.4 9.1l2.5 8.6l1.8 12.6l1.1 5.5l5.7 .5z" fill="#A07FBD" stroke="#333" stroke-width=".55"/><path d="M668 81.5h0m7 3.5h0m2 0h0m.5 1.5h0m-6 1.5h0m7 1h0m-6 3h0m2 3.5h0m-7.5 1h0m5 .5h0m4 0h0m-4.5 .5h0m-2 2.5h0m5 .5h0m-2 1h0m2.5 2h0m2.5 0h0m-7 1.5h0m6 0h0m-1 .5h0m3 1h0m-10.5 .5h0m10.5 .5h0m-3.5 .5h0m2.5 0h0m-7 1h0m3 0h0m5.5 1h0m-2 1.5h0m.5 0h0m0 1h0m-9.5 .5h0m1.5 1.5h0m7 0h0m2.5 .5h0m-1.5 .5h0m-6.5 .5h0m3 1h0m-1 .5h0m3 .5h0m-6.5 .5h0m2 0h0m6 2.5h0m-4.5 .5h0m5 0h0m-11 .5h0m.5 0h0m2.5 1.5h0m8.5 0h0m-9.5 2.5h0m6.5 0h0m-1.5 1.5h0m-7 .5h0m11.5 0h0m-.5 .5h0m-1.5 .5h0m-7 1h0m3.5 0h0m1 0h0m-4.5 1h0m8 0h0m2 0h0m-11.5 .5h0m10.5 0h0m-11.5 .5h0m1.5 .5h0m1 0h0m7 0h0m-9.5 .5h0m4.5 0h0m4.5 1h0m-8 .5h0m3.5 0h0m1 0h0m6 0h0m0 1h0m-11 .5h0m2.5 1.5h0m-2 .5h0m8.5 0h0m-2.5 1.5h0m3.5 0h0m-5 .5h0m1.5 0h0m3.5 0h0m-9 3h0m9.5 0h0m-10.5 .5h0m5 0h0m1 .5h0m3 .5h0m-5.5 .5h0m-3.5 .5h0m3 0h0m-3 1h0m1.5 0h0m6 0h0m-2 1.5h0" stroke="#000" stroke-opacity=".8" stroke-width="1.7" stroke-linecap="round" fill="none"/><path d="M668.5 73h0m-.5 2.5h0m2 4h0m2.5 1h0m-2 .5h0m2 .5h0m4.5 0h0m-8.5 .5h0m9 1.5h0m-5.5 4h0m4 .5h0m-.5 4.5h0m1 3h0m-2.5 1h0m-3 4.5h0m1.5 .5h0m1.5 2.5h0m3 .5h0m-10 1h0m2.5 2h0m0 .5h0m.5 0h0m5 .5h0m0 .5h0m2 0h0m-2.5 .5h0m1.5 0h0m-1.5 1h0m-7.5 1h0m7.5 0h0m1 0h0m2 0h0m1.5 .5h0m-11.5 .5h0m11.5 0h0m-11 1h0m5.5 .5h0m5 .5h0m-1.5 .5h0m-3.5 .5h0m-3 .5h0m-2.5 .5h0m-.5 .5h0m0 .5h0m1 1h0m7.5 1h0m-7.5 .5h0m1 0h0m-1 1h0m.5 .5h0m0 1h0m3 1h0m3.5 0h0m0 1h0m4 .5h0m-10.5 1h0m7.5 0h0m-2.5 .5h0m.5 0h0m.5 0h0m4.5 1h0m-7 1h0m7 .5h0m-11.5 1h0m5.5 2h0m-6 1.5h0m5.5 .5h0m-.5 .5h0m4.5 0h0m-8.5 2h0m.5 0h0m9.5 0h0m-5.5 .5h0m-3 1h0m.5 0h0m3 1.5h0m-3 .5h0m-.5 1.5h0m3 2h0m-2 2.5h0m.5 0h0m-3 1h0m2 .5h0m.5 .5h0m-2.5 .5h0" stroke="#000" stroke-opacity=".8" stroke-width="1.7" stroke-linecap="round" fill="none"/><path d="M673 71h0m.5 9h0m-.5 1h0m.5 2h0m0 2h0" stroke="#111" stroke-opacity=".8" stroke-width="1.5" stroke-linecap="round" fill="none"/><path d="M673.2 86.8V112M673.2 128.8V147.7" stroke="#333" stroke-width=".5"/><rect x="660.9" y="112" width="24.6" height="16.8" fill="#A07FBD" stroke="#000" stroke-opacity=".45" stroke-width=".6"/><path d="M660.9 120.7H685.5" stroke="#000" stroke-opacity=".5" stroke-width="1.1"/><rect x="557.5" y="18.2" width="135" height="139.3" fill="none" stroke="#555" stroke-width="1"/><path d="M557.5 17.7V158" stroke="#333" stroke-width="1"/><clipPath id="c5"><rect x="557.5" y="17.6" width="135" height="139.9"/></clipPath><g clip-path="url(#c5)"><path d="M576.8 47.5V44.5H608.9V47.5" fill="none" stroke="#222" stroke-width=".75"/><text x="592.9" y="42.6" font-size="7" fill="#333" color="#333" text-anchor="middle">0.00023</text><path d="M608.9 37.5V34.5H641.1V37.5" fill="none" stroke="#222" stroke-width=".75"/><text x="625" y="32.6" font-size="7" fill="#333" color="#333" text-anchor="middle">1.5e−06</text><path d="M641.1 27.3V24.3H673.2V27.3" fill="none" stroke="#222" stroke-width=".75"/><text x="657.1" y="23.4" font-size="7" fill="#333" color="#333" text-anchor="middle">3.2e−11</text></g><path d="M553.3 156.7H557.5" stroke="#333" stroke-width=".8"/><text x="549.2" y="160.3" font-size="10.2" fill="#1a1a1a" color="#1a1a1a" text-anchor="end">0</text><path d="M553.3 126.7H557.5" stroke="#333" stroke-width=".8"/><text x="549.2" y="130.3" font-size="10.2" fill="#1a1a1a" color="#1a1a1a" text-anchor="end">1</text><path d="M553.3 96.7H557.5" stroke="#333" stroke-width=".8"/><text x="549.2" y="100.3" font-size="10.2" fill="#1a1a1a" color="#1a1a1a" text-anchor="end">2</text><path d="M553.3 66.7H557.5" stroke="#333" stroke-width=".8"/><text x="549.2" y="70.3" font-size="10.2" fill="#1a1a1a" color="#1a1a1a" text-anchor="end">3</text><path d="M553.3 36.7H557.5" stroke="#333" stroke-width=".8"/><text x="549.2" y="40.3" font-size="10.2" fill="#1a1a1a" color="#1a1a1a" text-anchor="end">4</text><path d="M576.8 157.5V161.7" stroke="#333" stroke-width=".8"/><text x="573.6" y="172.4" font-size="7.7" fill="#2a2a2a" color="#2a2a2a" text-anchor="middle">Stage I</text><path d="M608.9 157.5V161.7" stroke="#333" stroke-width=".8"/><text x="607.5" y="172.4" font-size="7.7" fill="#2a2a2a" color="#2a2a2a" text-anchor="middle">Stage II</text><path d="M641.1 157.5V161.7" stroke="#333" stroke-width=".8"/><text x="642.2" y="172.4" font-size="7.7" fill="#2a2a2a" color="#2a2a2a" text-anchor="middle">Stage III</text><path d="M673.2 157.5V161.7" stroke="#333" stroke-width=".8"/><text x="678.2" y="172.4" font-size="7.7" fill="#2a2a2a" color="#2a2a2a" text-anchor="middle">Stage IV</text><text transform="translate(535 87.8) rotate(-90) scale(.9 1)" font-size="10.5" fill="#222" color="#222" text-anchor="middle" y="3.7">Expression</text><text transform="translate(624.4 9.1) scale(.86 1)" font-size="11.3" font-style="italic" fill="#1a1a1a" color="#1a1a1a" text-anchor="middle">EPHA4</text>
<g stroke="#ECECEC" stroke-width=".6"><path d="M41.5 321.5H176.5"/><path d="M41.5 286.2H176.5"/><path d="M41.5 250.9H176.5"/><path d="M41.5 215.6H176.5"/></g><g stroke="#E8E8E8" stroke-width=".65"><path d="M41.5 339.1H176.5"/><path d="M41.5 303.8H176.5"/><path d="M41.5 268.5H176.5"/><path d="M41.5 233.2H176.5"/><path d="M60.8 201.1V340.4"/><path d="M92.9 201.1V340.4"/><path d="M125.1 201.1V340.4"/><path d="M157.2 201.1V340.4"/></g><path d="M60.8 331.7l.3-1l1.4-1.5l3.2-5.6l1.7-11.1l.9-14.1l-1.4-19.7l-1-9.6l-2-10.6l-2.3-6.1l-.7-15.2l-.1-.5l0 0l-.1 .5l-.7 15.2l-2.3 6.1l-2 10.6l-1 9.6l-1.4 19.7l.9 14.1l1.7 11.1l3.2 5.6l1.4 1.5l.3 1z" fill="#E87068" stroke="#333" stroke-width=".55"/><path d="M62.5 239.5h0m-8 2.5h0m.5 3.5h0m2 0h0m6 0h0m-5.5 4h0m.5 2h0m-.5 3.5h0m3.5 7h0m-6 1.5h0m6.5 .5h0m-7 4h0m9 .5h0m-4.5 2h0m3.5 3.5h0m-3.5 1h0m5 1.5h0m-4.5 1.5h0m4 1h0m-3 .5h0m-5.5 1h0m3.5 1.5h0m1 0h0m5.5 .5h0m1 0h0m-10 .5h0m9.5 0h0m-9 .5h0m5.5 0h0m4 4h0m-2.5 1.5h0m-5.5 6.5h0m4.5 0h0m-2 .5h0m-5 1.5h0m3 .5h0m2 0h0m-4 .5h0m.5 0h0m1.5 4h0m4.5 .5h0m3 .5h0m-5 2h0m5 1.5h0m-1 .5h0m-8 .5h0m9.5 .5h0m-5.5 4.5h0m-3.5 1.5h0m-1 1h0m5.5 0h0m2 .5h0m-9 1h0m9.5 0h0m-4.5 3.5h0m-2 1h0m-.5 2h0m-2 1h0m7 2h0m3 2h0m-6.5 .5h0m8 2.5h0" stroke="#000" stroke-opacity=".8" stroke-width="1.7" stroke-linecap="round" fill="none"/><path d="M63 238.5h0m3 0h0m-6 14.5h0m3 1h0m-3.5 5h0m-4 1h0m6.5 5h0m-4 3.5h0m-3.5 1.5h0m8.5 1.5h0m.5 0h0m1.5 3h0m-.5 1h0m-8.5 1h0m6 1h0m-3 1h0m7 1h0m-4 1h0m4.5 0h0m-11.5 2h0m9 0h0m-1.5 4h0m4.5 4h0m-11.5 .5h0m-.5 1h0m0 .5h0m12 2.5h0m-6.5 1.5h0m3 1h0m-1.5 .5h0m1 2h0m-1.5 1.5h0m-4.5 2h0m-1 .5h0m1.5 0h0m2 .5h0m.5 0h0m6.5 2h0m-9 .5h0m1 1h0m2.5 1h0m4.5 1.5h0m-7.5 1h0m1.5 1.5h0m5.5 0h0m-5.5 1h0m-1.5 .5h0m-3 .5h0m10.5 .5h0m-1 2.5h0m1.5 3h0m-10 .5h0m-1 1h0m6 0h0m4 3.5h0m-5.5 1.5h0m5.5 0h0m-2 1.5h0m-8 2.5h0m9 0h0m-9 .5h0" stroke="#000" stroke-opacity=".8" stroke-width="1.7" stroke-linecap="round" fill="none"/><path d="M60.8 236.7V281.9M60.8 312.3V331.7" stroke="#333" stroke-width=".5"/><rect x="48.5" y="281.9" width="24.6" height="30.4" fill="#E87068" stroke="#000" stroke-opacity=".45" stroke-width=".6"/><path d="M48.5 298.2H73.1" stroke="#000" stroke-opacity=".5" stroke-width="1.1"/><path d="M92.9 332.7l4.5-.5l2-.5l2.6-2l2-2l2.5-4l.2-.5l.4-3.5l-.5-2l-1.4-3.5l-5.8-7.1l-.5-1l-.2-1l-2.8-19.2l-1.5-20.7l-.7-7.1l-.6-16.6l-.2-.5l0 0l-.2 .5l-.6 16.6l-.7 7.1l-1.5 20.7l-2.8 19.2l-.2 1l-.5 1l-5.8 7.1l-1.4 3.5l-.5 2l.4 3.5l.2 .5l2.5 4l2 2l2.6 2l2 .5l4.5 .5z" fill="#7AA82F" stroke="#333" stroke-width=".55"/><linearGradient id="m6_1_0" gradientUnits="userSpaceOnUse" x1="0" y1="324.5" x2="0" y2="334.5"><stop offset="0.050" stop-opacity="0.69"/><stop offset="0.250" stop-opacity="0.69"/><stop offset="0.450" stop-opacity="0.69"/><stop offset="0.650" stop-opacity="0.69"/><stop offset="0.850" stop-opacity="0.69"/><stop offset="0.950" stop-opacity="0.69"/></linearGradient><path d="M99.1 324.5 99.1 325 99.1 326 99.1 327 99.1 328 99.1 329 99.1 330 99.1 331 99.1 332 99.1 333 99.1 334 99.1 334.5 86.7 334.5 86.7 334 86.7 333 86.7 332 86.7 331 86.7 330 86.7 329 86.7 328 86.7 327 86.7 326 86.7 325 86.7 324.5z" fill="url(#m6_1_0)"/><linearGradient id="m6_1_1" gradientUnits="userSpaceOnUse" x1="0" y1="302.5" x2="0" y2="306.5"><stop offset="0.125" stop-opacity="0.07"/><stop offset="0.625" stop-opacity="0.36"/><stop offset="0.875" stop-opacity="0.50"/></linearGradient><path d="M99.4 302.5 99.4 303 99.4 304 99.4 305 99.4 306 99.4 306.5 86.4 306.5 86.4 306 86.4 305 86.4 304 86.4 303 86.4 302.5z" fill="url(#m6_1_1)"/><path d="M93 244h0m2.5 3h0m0 2.5h0m-4 1h0m4 .5h0m-8 1h0m2 2h0m-1.5 2h0m1 1.5h0m7.5 0h0m2 .5h0m-5 6h0m4.5 .5h0m-1 2h0m-8.5 .5h0m10 1.5h0m1 0h0m-9 2h0m0 .5h0m2 0h0m1.5 .5h0m1.5 1h0m1 1h0m-2.5 .5h0m-2.5 1h0m3.5 .5h0m-4.5 .5h0m5.5 0h0m1.5 0h0m-11.5 1h0m5.5 0h0m6.5 0h0m-6 .5h0m-1 .5h0m2.5 .5h0m.5 0h0m-7 .5h0m4 0h0m-2.5 .5h0m5.5 1h0m4 .5h0m-3 .5h0m.5 0h0m-1 .5h0m-7.5 .5h0m3 0h0m.5 0h0m.5 0h0m-5 .5h0m10 0h0m-7.5 .5h0m8 0h0m-9 .5h0m-.5 .5h0m.5 .5h0m3 0h0m-2.5 1h0m7 0h0m4 0h0m-4 .5h0m-5.5 1h0m4.5 0h0m4 0h0m-11 .5h0m1.5 0h0m2 0h0m6 1h0m2.5 0h0m-12.5 .5h0m2 0h0m11 .5h0m-5.5 .5h0m4.5 0h0m-10.5 .5h0m1 0h0m4 0h0m-4 .5h0m2.5 0h0m5 0h0m1.5 .5h0m-10 .5h0m3 0h0m1 0h0m2.5 0h0m-2 .5h0m2.5 0h0m2 0h0m2.5 0h0m-10.5 .5h0m2.5 0h0m1.5 0h0m1.5 0h0m4.5 0h0m.5 0h0m-9.5 .5h0m3.5 0h0m2 0h0m1 0h0m.5 0h0m-8 .5h0m5 0h0m1.5 0h0m3.5 0h0m-11.5 .5h0m5 0h0m4.5 0h0m2.5 0h0m-9.5 .5h0m2 0h0m2 0h0m-5.5 .5h0m3.5 0h0m.5 0h0m2.5 0h0m3 0h0m-6 1h0m1.5 0h0m2 0h0m.5 0h0m-9.5 .5h0m6 0h0m.5 0h0m1.5 0h0m1 0h0m3.5 0h0m.5 0h0m-11.5 .5h0m1 0h0m7.5 0h0m1 0h0m-9 .5h0m1 0h0m4 0h0m-7 .5h0m4.5 0h0m2.5 0h0m1 0h0m1.5 0h0m3 0h0m-12.5 .5h0m.5 0h0m5 0h0m2.5 0h0m.5 0h0m-6 .5h0m1 0h0m5 0h0m1.5 0h0m1.5 0h0m-8 .5h0m-3 .5h0m.5 0h0m5.5 0h0m.5 0h0m.5 0h0m-5.5 .5h0m1.5 0h0m3.5 0h0m2 0h0m1.5 0h0m2.5 0h0m-10 .5h0m4 0h0m1.5 0h0m2.5 0h0m-10.5 .5h0m3.5 0h0m1.5 0h0m2 0h0m1.5 0h0m1.5 0h0m.5 0h0m.5 0h0m-6 .5h0m1 0h0m1 0h0m.5 0h0m3.5 0h0m1.5 0h0m-12.5 .5h0m1 0h0m.5 0h0m2 0h0m3.5 0h0m.5 0h0m2 0h0m1 0h0m1.5 0h0m-11 .5h0m2 0h0m1.5 0h0m2 0h0m.5 0h0m1 0h0m2 0h0m-10 .5h0m3 0h0m1 0h0m.5 0h0m1.5 0h0m1 0h0m.5 0h0m2 0h0m1.5 0h0m.5 0h0m-12 .5h0m1 0h0m1 0h0m2.5 0h0m.5 0h0m6.5 0h0m1.5 0h0m-12.5 .5h0m3.5 0h0m2.5 0h0m.5 0h0m1.5 0h0m.5 0h0m2 0h0m1 0h0m-11.5 .5h0m2.5 0h0m4 0h0m1 0h0m4.5 0h0m.5 0h0m-10 .5h0m6 0h0m-8.5 18h0m.5 0h0m3 0h0m1.5 0h0m3.5 0h0m-8.5 .5h0m2 0h0m.5 0h0m.5 0h0m2.5 0h0m1.5 0h0m-6.5 .5h0m1.5 0h0m.5 0h0m.5 0h0m.5 0h0m.5 0h0m3.5 0h0m1.5 0h0m.5 0h0m1 0h0m-8 .5h0m1.5 0h0m7 0h0m.5 0h0m-8.5 .5h0m2 0h0m5.5 0h0m1.5 0h0m-11.5 .5h0m1.5 0h0m.5 0h0m3 0h0m2 0h0m1.5 0h0m1 0h0m-7 .5h0m1.5 0h0m6 0h0m1 0h0m.5 0h0m-7 .5h0m.5 0h0m2.5 0h0m.5 0h0m1.5 0h0m1.5 0h0m-2.5 .5h0m-8 .5h0m2 0h0m6.5 0h0m1.5 0h0m1 0h0m-11.5 .5h0m2 0h0m.5 0h0m.5 0h0m3 0h0m.5 0h0m-7 .5h0m.5 0h0m3.5 0h0m2 0h0m2 0h0m-7.5 .5h0m1.5 0h0m1 0h0m1 0h0m1 0h0m.5 0h0m1 0h0m.5 0h0m1.5 0h0m-9 .5h0m2.5 0h0m4 0h0m1 0h0m-6.5 .5h0m1.5 0h0m3 0h0m2 0h0m5 0h0m-12 .5h0m3.5 0h0m2 0h0m1.5 0h0m3 0h0m.5 0h0m-9 .5h0m10 0h0m-10 .5h0m4.5 0h0m4 0h0m.5 0h0m-9.5 .5h0m.5 0h0m3 0h0m1.5 0h0m.5 0h0m1 0h0m.5 0h0m1 0h0m.5 0h0m2 0h0m.5 0h0m-12.5 .5h0m1 0h0m2 0h0m3 0h0m1 0h0m1 0h0m1.5 0h0m1 0h0m2 0h0m-9.5 .5h0m1.5 0h0m1.5 0h0" stroke="#000" stroke-opacity=".8" stroke-width="1.7" stroke-linecap="round" fill="none"/><path d="M88 244.5h0m9 4.5h0m-7.5 5.5h0m3 5h0m1.5 4h0m0 .5h0m4 0h0m-9.5 .5h0m3 0h0m6 1h0m0 2h0m-7.5 4h0m-.5 .5h0m-1.5 .5h0m-1 .5h0m10 0h0m-9.5 .5h0m6.5 1.5h0m2.5 1h0m-4.5 .5h0m-5.5 .5h0m5 0h0m4 0h0m-3 .5h0m-1.5 .5h0m.5 .5h0m-4 .5h0m4 0h0m2.5 1h0m-2.5 .5h0m2 0h0m.5 0h0m1.5 0h0m-3.5 1h0m-4 .5h0m6 0h0m-4 .5h0m1 0h0m4.5 1h0m-1.5 .5h0m-1 .5h0m1 0h0m5 0h0m-11 .5h0m1.5 0h0m-2.5 .5h0m4.5 0h0m-2 .5h0m8.5 0h0m.5 0h0m-1.5 .5h0m-3.5 .5h0m-5.5 .5h0m2 0h0m1.5 0h0m2.5 0h0m5 0h0m-9.5 .5h0m6.5 .5h0m-8.5 .5h0m10.5 0h0m-10.5 .5h0m12 0h0m-12 .5h0m4 0h0m2 0h0m3.5 0h0m-5 .5h0m-5 .5h0m6 0h0m-.5 .5h0m.5 0h0m.5 0h0m1.5 0h0m.5 0h0m3 0h0m1 0h0m-10.5 .5h0m3 0h0m.5 0h0m2.5 0h0m1 0h0m1 0h0m.5 0h0m2 0h0m-11 .5h0m2.5 0h0m6 0h0m0 .5h0m-10 .5h0m5 0h0m2 0h0m-4 .5h0m1.5 0h0m1.5 0h0m.5 0h0m.5 0h0m1.5 0h0m-7.5 .5h0m10.5 0h0m-7 .5h0m3.5 0h0m4.5 0h0m-8.5 1h0m1 0h0m3.5 0h0m.5 0h0m.5 0h0m1 0h0m1 0h0m1 0h0m-12.5 .5h0m5 0h0m1 0h0m1 0h0m3.5 0h0m-10 .5h0m.5 0h0m3 0h0m1.5 0h0m.5 0h0m-6.5 .5h0m1.5 0h0m4 0h0m1 0h0m-5 .5h0m3.5 0h0m1.5 0h0m1 0h0m1 0h0m3.5 0h0m1 0h0m-11.5 .5h0m1 0h0m6.5 0h0m2.5 0h0m-10.5 .5h0m1.5 0h0m1.5 0h0m.5 0h0m2 0h0m4.5 0h0m-11 .5h0m4 0h0m5.5 0h0m.5 0h0m1.5 0h0m-10 .5h0m1 0h0m.5 0h0m2 0h0m4 0h0m-7 .5h0m8 0h0m-9 .5h0m.5 0h0m.5 0h0m5 0h0m3 0h0m.5 0h0m-8 .5h0m3.5 0h0m1 0h0m.5 0h0m3.5 0h0m2 0h0m-6.5 .5h0m1.5 0h0m2 0h0m-8 .5h0m1.5 0h0m1.5 0h0m.5 0h0m2.5 0h0m1.5 0h0m-9.5 .5h0m3 0h0m1 0h0m1.5 0h0m3 0h0m4 0h0m-11 .5h0m2 0h0m9.5 0h0m-13 .5h0m.5 0h0m3.5 0h0m3.5 0h0m2 0h0m.5 0h0m1 0h0m-7 .5h0m.5 0h0m.5 0h0m1.5 0h0m5.5 0h0m.5 0h0m-9.5 .5h0m3 0h0m3.5 0h0m1.5 0h0m-10 .5h0m3.5 0h0m3.5 0h0m.5 0h0m1.5 0h0m1.5 0h0m1.5 0h0m-13 .5h0m1.5 0h0m.5 0h0m1.5 0h0m4.5 0h0m3.5 0h0m1 0h0m-9 .5h0m2.5 0h0m.5 0h0m1.5 0h0m3 0h0m-6 18h0m1 0h0m5.5 0h0m-10 .5h0m3.5 0h0m1 0h0m.5 0h0m1 0h0m3.5 0h0m-9 .5h0m1 0h0m1.5 0h0m1.5 0h0m.5 0h0m1 0h0m1 0h0m-5.5 .5h0m1.5 0h0m.5 0h0m3.5 0h0m.5 0h0m.5 0h0m1.5 0h0m-8.5 .5h0m4.5 0h0m1 0h0m1 0h0m2.5 0h0m-11.5 .5h0m1 0h0m3.5 0h0m1 0h0m1 0h0m1 0h0m2 0h0m2.5 0h0m.5 0h0m-6.5 .5h0m2 0h0m2.5 0h0m.5 0h0m1.5 0h0m-12 .5h0m1.5 0h0m6 0h0m.5 0h0m3.5 0h0m1 0h0m-12 .5h0m2 0h0m2 0h0m2.5 0h0m1.5 0h0m3 0h0m-10 .5h0m1.5 0h0m2 0h0m.5 0h0m1 0h0m.5 0h0m1 0h0m2 0h0m2 0h0m-12.5 .5h0m1.5 0h0m2.5 0h0m3.5 0h0m.5 0h0m.5 0h0m3.5 0h0m-7.5 .5h0m.5 0h0m3 0h0m3.5 0h0m-10 .5h0m1 0h0m2 0h0m1 0h0m.5 0h0m2 0h0m4 0h0m-11.5 .5h0m.5 0h0m.5 0h0m4.5 0h0m1 0h0m.5 0h0m2 0h0m3 0h0m-11 .5h0m.5 0h0m3 0h0m1 0h0m2 0h0m.5 0h0m2.5 0h0m1.5 0h0m-11.5 .5h0m1.5 0h0m.5 0h0m3.5 0h0m1 0h0m.5 0h0m.5 0h0m-5 .5h0m.5 0h0m.5 0h0m1 0h0m.5 0h0m2.5 0h0m1 0h0m.5 0h0m1 0h0m-9.5 .5h0m2 0h0m.5 0h0m2 0h0m6 0h0m-12 .5h0m.5 0h0m1.5 0h0m.5 0h0m1.5 0h0m1 0h0m1.5 0h0m2 0h0m.5 0h0m1 0h0m1 0h0m-10 .5h0m7.5 0h0m1.5 0h0m-1.5 .5h0m2.5 0h0" stroke="#000" stroke-opacity=".8" stroke-width="1.7" stroke-linecap="round" fill="none"/><path d="M93 241.5h0m0 1.5h0m0 2h0m0 1h0m0 4h0m0 1h0m-.5 3h0m0 5h0m.5 4h0m0 1h0m0 1h0m0 3h0m0 4h0m-.5 1h0m0 1h0m.5 2h0" stroke="#111" stroke-opacity=".8" stroke-width="1.5" stroke-linecap="round" fill="none"/><path d="M92.9 278.7V306.3M92.9 324.6V332.7" stroke="#333" stroke-width=".5"/><rect x="80.6" y="306.3" width="24.6" height="18.4" fill="#7AA82F" stroke="#000" stroke-opacity=".45" stroke-width=".6"/><path d="M80.6 317.6H105.2" stroke="#000" stroke-opacity=".5" stroke-width="1.1"/><path d="M125.1 333.8l6.2-.5l1.9-2l1.8-2.5l1.7-3l.9-2l.1-.5l-.6-9.1l-1.1-3.5l-2.8-7.6l-2.5-8.1l-.5-2l-.9-6.1l-2.6-21.7l-1-24.7l-.5-9.1l0 0l-.5 9.1l-1 24.7l-2.6 21.7l-.9 6.1l-.5 2l-2.5 8.1l-2.8 7.6l-1.1 3.5l-.6 9.1l.1 .5l.9 2l1.7 3l1.8 2.5l1.9 2l6.2 .5z" fill="#1CB4B9" stroke="#333" stroke-width=".55"/><linearGradient id="m6_2_0" gradientUnits="userSpaceOnUse" x1="0" y1="323.5" x2="0" y2="335.5"><stop offset="0.042" stop-opacity="0.77"/><stop offset="0.208" stop-opacity="0.77"/><stop offset="0.375" stop-opacity="0.77"/><stop offset="0.542" stop-opacity="0.77"/><stop offset="0.708" stop-opacity="0.77"/><stop offset="0.875" stop-opacity="0.77"/><stop offset="0.958" stop-opacity="0.77"/></linearGradient><path d="M131.3 323.5 131.3 324 131.3 325 131.3 326 131.3 327 131.3 328 131.3 329 131.3 330 131.3 331 131.3 332 131.3 333 131.3 334 131.3 335 131.3 335.5 118.9 335.5 118.9 335 118.9 334 118.9 333 118.9 332 118.9 331 118.9 330 118.9 329 118.9 328 118.9 327 118.9 326 118.9 325 118.9 324 118.9 323.5z" fill="url(#m6_2_0)"/><linearGradient id="m6_2_1" gradientUnits="userSpaceOnUse" x1="0" y1="294.5" x2="0" y2="303.5"><stop offset="0.056" stop-opacity="0.08"/><stop offset="0.278" stop-opacity="0.21"/><stop offset="0.500" stop-opacity="0.34"/><stop offset="0.722" stop-opacity="0.48"/><stop offset="0.944" stop-opacity="0.61"/><stop offset="0.944" stop-opacity="0.61"/></linearGradient><path d="M131.8 294.5 131.8 295 131.8 296 131.8 297 131.8 298 131.8 299 131.8 300 131.8 301 131.8 302 131.8 303 131.8 303.5 118.4 303.5 118.4 303 118.4 302 118.4 301 118.4 300 118.4 299 118.4 298 118.4 297 118.4 296 118.4 295 118.4 294.5z" fill="url(#m6_2_1)"/><path d="M131 235h0m-5.5 .5h0m-1 1.5h0m5 .5h0m-9 1h0m-1.5 4h0m10.5 .5h0m-4.5 1.5h0m5 0h0m-11 2.5h0m3.5 0h0m-4.5 .5h0m1.5 1.5h0m12 0h0m-5 .5h0m-.5 .5h0m.5 1h0m2.5 0h0m3 2.5h0m-7.5 3h0m2 0h0m-7 .5h0m12 2h0m-5 .5h0m-1 .5h0m1.5 .5h0m4.5 0h0m-6 .5h0m-3.5 1h0m-1 .5h0m9.5 .5h0m-10.5 1h0m4 0h0m2 0h0m5 .5h0m-10.5 1h0m8.5 0h0m-8 .5h0m1 0h0m3 .5h0m3.5 .5h0m2 0h0m-6.5 1h0m.5 0h0m0 .5h0m.5 0h0m5 0h0m-6 .5h0m-.5 .5h0m5 0h0m3.5 0h0m-4.5 .5h0m3.5 0h0m1 0h0m-7.5 .5h0m-3 1h0m4.5 0h0m-6.5 .5h0m4 0h0m4 0h0m3 0h0m-6 .5h0m-3 .5h0m-2.5 .5h0m1.5 0h0m7.5 0h0m-9.5 .5h0m-.5 .5h0m1 0h0m-.5 .5h0m11 0h0m-6.5 .5h0m4.5 0h0m-7.5 .5h0m2.5 0h0m4.5 0h0m1.5 0h0m-1 .5h0m1.5 0h0m-10 .5h0m6 0h0m1 0h0m4 0h0m.5 0h0m-5.5 .5h0m2.5 .5h0m3 0h0m.5 0h0m-10.5 .5h0m.5 0h0m-1 .5h0m4 .5h0m-2 .5h0m1.5 0h0m-.5 .5h0m1.5 0h0m-4.5 .5h0m7.5 0h0m3.5 0h0m-13 .5h0m12 0h0m.5 0h0m-6.5 .5h0m3.5 0h0m1.5 0h0m-10 .5h0m2.5 0h0m2 0h0m-5 .5h0m4 0h0m9 0h0m-12 .5h0m7 0h0m1.5 0h0m2.5 0h0m-4.5 .5h0m1.5 0h0m4 0h0m-13.5 .5h0m4 .5h0m3.5 0h0m1.5 0h0m2.5 0h0m-9.5 .5h0m1 0h0m5.5 0h0m1 0h0m-8 .5h0m.5 .5h0m6.5 0h0m1.5 0h0m-10 .5h0m.5 0h0m6 0h0m-4 .5h0m1 0h0m.5 0h0m.5 0h0m1 0h0m1.5 0h0m7 0h0m-5 .5h0m4 0h0m1 0h0m-7.5 .5h0m6.5 0h0m.5 0h0m-11.5 .5h0m3.5 0h0m3.5 0h0m1.5 0h0m1.5 0h0m.5 0h0m.5 0h0m-12.5 .5h0m2 0h0m3 0h0m3 0h0m4 0h0m-12 .5h0m5.5 0h0m2.5 0h0m2 0h0m3 0h0m-13 .5h0m3.5 0h0m1.5 0h0m3 0h0m3.5 0h0m1.5 0h0m.5 0h0m-10 .5h0m8.5 0h0m-9 .5h0m-3.5 .5h0m.5 0h0m1 0h0m4 0h0m2 0h0m1.5 0h0m1.5 0h0m.5 0h0m1 0h0m-5.5 .5h0m2.5 0h0m-8 .5h0m3.5 0h0m4 0h0m2.5 0h0m.5 0h0m1.5 0h0m-11 .5h0m1.5 0h0m.5 0h0m.5 0h0m1 0h0m3.5 0h0m.5 0h0m1 0h0m2 0h0m.5 0h0m-10.5 .5h0m.5 0h0m3.5 0h0m4.5 0h0m2.5 0h0m-12 .5h0m1 0h0m4.5 0h0m1.5 0h0m2 0h0m3.5 0h0m-12 .5h0m.5 0h0m2 0h0m7 0h0m2 0h0m-5.5 .5h0m1 0h0m-3.5 .5h0m4 0h0m2.5 0h0m-11 .5h0m7.5 0h0m3 0h0m1.5 0h0m1 0h0m-11 .5h0m.5 0h0m2.5 0h0m6.5 0h0m1.5 0h0m-13 .5h0m1 0h0m1.5 0h0m4 0h0m1.5 0h0m1.5 0h0m2 0h0m.5 0h0m-12 .5h0m2.5 0h0m3.5 0h0m1 0h0m.5 0h0m.5 0h0m2 0h0m1 0h0m-11.5 .5h0m5 0h0m1.5 0h0m.5 0h0m5 0h0m-12 .5h0m2.5 0h0m2 0h0m2.5 0h0m4.5 0h0m-12 .5h0m2 0h0m2 0h0m2.5 0h0m3.5 0h0m.5 0h0m-9 .5h0m3.5 0h0m.5 0h0m.5 0h0m2 0h0m2.5 0h0m2.5 0h0m-11.5 .5h0m4 0h0m1 0h0m7 0h0m-11 .5h0m1 0h0m3 0h0m2 0h0m-6.5 .5h0m1 0h0m1.5 0h0m4.5 0h0m1.5 0h0m.5 0h0m-7 .5h0m4 0h0m4 0h0m-8 .5h0m1 0h0m2 0h0m1 0h0m1.5 0h0m1.5 0h0m1 0h0m1 0h0m-11 .5h0m1 0h0m2 0h0m.5 0h0m2 0h0m.5 0h0m3 0h0m-9.5 .5h0m1 0h0m9 0h0m1.5 0h0m-7 20h0m.5 0h0m.5 0h0m1.5 0h0m1 0h0m-8.5 .5h0m.5 0h0m.5 0h0m1 0h0m.5 0h0m1.5 0h0m1 0h0m1 0h0m1 0h0m-6 .5h0m1.5 0h0m3 0h0m.5 0h0m4 0h0m.5 0h0m-9.5 .5h0m1 0h0m.5 0h0m2.5 0h0m1 0h0m1 0h0m5 0h0m.5 0h0m-11.5 .5h0m1 0h0m3 0h0m1.5 0h0m4 0h0m-8.5 .5h0m.5 0h0m.5 0h0m3.5 0h0m.5 0h0m4 0h0m.5 0h0m-3.5 .5h0m.5 0h0m1.5 0h0m1 0h0m-9.5 .5h0m2.5 0h0m.5 0h0m2 0h0m3 0h0m1.5 0h0m-10.5 .5h0m.5 0h0m1.5 0h0m3 0h0m4 0h0m2 0h0m.5 0h0m.5 0h0m-8 .5h0m1 0h0m.5 0h0m.5 0h0m1 0h0m.5 0h0m1 0h0m1.5 0h0m1 0h0m-8 .5h0m6.5 0h0m.5 0h0m1.5 0h0m-12.5 .5h0m.5 0h0m1.5 0h0m3 0h0m.5 0h0m.5 0h0m1 0h0m1.5 0h0m.5 0h0m-8 .5h0m1.5 0h0m1 0h0m5 0h0m.5 0h0m-7 .5h0m.5 0h0m.5 0h0m3 0h0m1.5 0h0m4.5 0h0m-11.5 .5h0m.5 0h0m1.5 0h0m2.5 0h0m1.5 0h0m.5 0h0m3 0h0m1 0h0m-5.5 .5h0m.5 0h0m2 0h0m1.5 0h0m2 0h0m.5 0h0m-11 .5h0m2 0h0m2 0h0m2.5 0h0m.5 0h0m3 0h0m.5 0h0m-7.5 .5h0m.5 0h0m1 0h0m2 0h0m1.5 0h0m2 0h0m1.5 0h0m-10 .5h0m5.5 0h0m.5 0h0m3.5 0h0m-10.5 .5h0m2 0h0m1.5 0h0m1 0h0m3.5 0h0m.5 0h0m1.5 0h0m1 0h0m-12.5 .5h0m1.5 0h0m1 0h0m.5 0h0m1 0h0m1 0h0m1 0h0m3.5 0h0m.5 0h0m-9 .5h0m1 0h0m1 0h0m1.5 0h0m-4 .5h0m3 0h0m3 0h0m.5 0h0m.5 0h0m1 0h0m.5 0h0m3 0h0m-11 .5h0m1.5 0h0m1 0h0m1 0h0m.5 0h0m1.5 0h0m2.5 0h0m1.5 0h0m1 0h0m.5 0h0m.5 0h0m-3 .5h0m1 0h0m1 0h0m1.5 0h0" stroke="#000" stroke-opacity=".8" stroke-width="1.7" stroke-linecap="round" fill="none"/><path d="M131 234.5h0m-5 1.5h0m.5 .5h0m-4.5 7h0m8.5 1h0m-.5 3h0m-7.5 1h0m7 3.5h0m-9.5 .5h0m10 2h0m-1.5 2h0m-5 1h0m0 2.5h0m7 .5h0m-10.5 .5h0m11 0h0m-1 .5h0m-7 .5h0m6 0h0m-.5 .5h0m3 0h0m-3 .5h0m-9 1h0m8.5 0h0m3.5 .5h0m-8 .5h0m8 .5h0m-11.5 .5h0m-1 .5h0m3.5 0h0m8.5 0h0m-8 .5h0m3.5 1h0m.5 .5h0m-2 .5h0m3.5 1h0m1.5 0h0m-6.5 .5h0m8.5 0h0m-13 .5h0m3 0h0m9.5 0h0m-3 .5h0m1.5 0h0m-7 1h0m4 .5h0m-6.5 .5h0m2 0h0m4.5 0h0m1.5 0h0m1 0h0m-1 .5h0m-7.5 .5h0m4.5 0h0m-6 .5h0m11 0h0m-11 1h0m.5 0h0m6.5 0h0m2 0h0m1 0h0m2 0h0m-9 .5h0m4 0h0m-2.5 .5h0m.5 0h0m3.5 0h0m-7 .5h0m3 0h0m2 0h0m-3 .5h0m8 .5h0m-11.5 .5h0m1 0h0m2.5 0h0m5 0h0m-6 .5h0m-3.5 .5h0m8 0h0m5 0h0m-7 .5h0m-3.5 .5h0m4 0h0m4.5 .5h0m-7.5 1h0m4.5 0h0m-4.5 .5h0m3 0h0m5 0h0m.5 0h0m-11.5 .5h0m8.5 0h0m-.5 .5h0m2 0h0m1.5 0h0m-6.5 .5h0m-5 .5h0m1 0h0m1.5 0h0m4.5 0h0m.5 0h0m2.5 0h0m1.5 0h0m-10.5 .5h0m4.5 0h0m5 0h0m1 0h0m1 0h0m-13 .5h0m2 0h0m1 0h0m2.5 0h0m6 0h0m-8 .5h0m.5 0h0m4.5 0h0m3 0h0m2 0h0m-7.5 .5h0m1 0h0m6 0h0m-13 .5h0m2 0h0m.5 0h0m1 0h0m1.5 0h0m-5 .5h0m1 0h0m4.5 0h0m4.5 0h0m-8 .5h0m4 0h0m1.5 0h0m1.5 0h0m4 0h0m-13 .5h0m2 0h0m3 0h0m-1 .5h0m.5 0h0m.5 0h0m.5 0h0m2 0h0m1 0h0m1 0h0m1 0h0m2 0h0m-12.5 .5h0m1.5 0h0m7.5 0h0m-7 .5h0m1 0h0m1 0h0m3 0h0m2 0h0m-8 .5h0m2.5 0h0m.5 0h0m.5 0h0m2.5 0h0m.5 0h0m2.5 0h0m2 0h0m-10.5 .5h0m1.5 0h0m2 0h0m3 0h0m.5 0h0m1 0h0m.5 0h0m1.5 0h0m1.5 0h0m-12 .5h0m.5 .5h0m1.5 0h0m.5 0h0m6.5 0h0m2 0h0m-12.5 .5h0m1 0h0m1 0h0m8 0h0m2 0h0m-4 .5h0m2.5 0h0m.5 0h0m.5 0h0m.5 0h0m-11 .5h0m2.5 0h0m.5 0h0m.5 0h0m2.5 0h0m1 0h0m.5 0h0m2 0h0m.5 0h0m.5 0h0m2.5 0h0m-11 .5h0m3 0h0m.5 0h0m5 0h0m2 0h0m-13.5 .5h0m2.5 0h0m4 0h0m1.5 0h0m.5 0h0m4.5 0h0m-12.5 .5h0m2 0h0m7.5 0h0m4 0h0m-10 .5h0m1.5 0h0m.5 0h0m3.5 0h0m-8 .5h0m.5 0h0m2 0h0m.5 0h0m3 0h0m4.5 0h0m1 0h0m-11 .5h0m2 0h0m.5 0h0m1 0h0m1 0h0m1 0h0m5 0h0m-12.5 .5h0m2 0h0m1.5 0h0m4 0h0m1 0h0m1.5 0h0m.5 0h0m1.5 0h0m2 0h0m-12.5 .5h0m.5 0h0m.5 0h0m.5 0h0m3.5 0h0m1 0h0m6.5 0h0m-13.5 .5h0m10 0h0m1 0h0m1.5 0h0m-12.5 .5h0m3.5 0h0m1.5 0h0m.5 0h0m.5 0h0m3 0h0m1 0h0m2 0h0m-11.5 .5h0m1.5 0h0m1.5 0h0m.5 0h0m5 0h0m1.5 0h0m1 0h0m1 0h0m-13 .5h0m1 0h0m5 0h0m1.5 0h0m.5 0h0m.5 0h0m1 0h0m.5 0h0m-7.5 .5h0m.5 0h0m2 0h0m.5 0h0m2 0h0m.5 0h0m4.5 0h0m-9.5 .5h0m.5 0h0m.5 0h0m.5 0h0m1.5 0h0m3 0h0m-7.5 .5h0m.5 0h0m1.5 0h0m.5 0h0m1.5 0h0m5.5 0h0m1 0h0m-12 .5h0m3 0h0m.5 0h0m1.5 0h0m.5 0h0m.5 0h0m1 0h0m3 0h0m1 0h0m.5 0h0m.5 0h0m.5 0h0m1.5 0h0m-13.5 .5h0m1 0h0m2 0h0m4.5 0h0m1 0h0m1 0h0m-6 .5h0m1.5 0h0m4 0h0m1.5 0h0m2.5 0h0m.5 0h0m-13.5 20.5h0m7 0h0m3 0h0m1 0h0m-9.5 .5h0m.5 0h0m.5 0h0m1 0h0m1.5 0h0m4.5 0h0m-8 .5h0m.5 0h0m4 0h0m.5 0h0m1 0h0m.5 0h0m.5 0h0m1 0h0m1.5 0h0m1 0h0m-5 .5h0m-6.5 .5h0m2 0h0m.5 0h0m3 0h0m.5 0h0m1.5 0h0m-7.5 .5h0m1.5 0h0m2.5 0h0m2 0h0m1.5 0h0m-6 .5h0m1.5 0h0m2 0h0m.5 0h0m.5 0h0m2 0h0m1 0h0m.5 0h0m1 0h0m-8.5 .5h0m3 0h0m1 0h0m2 0h0m2 0h0m1 0h0m.5 0h0m-10.5 .5h0m5 0h0m.5 0h0m5 0h0m-6 .5h0m2 0h0m.5 0h0m.5 0h0m2 0h0m.5 0h0m-9 .5h0m10.5 0h0m-13 .5h0m.5 0h0m1.5 0h0m1.5 0h0m.5 0h0m4.5 0h0m1 0h0m1.5 0h0m2 0h0m-12.5 .5h0m2 0h0m1.5 0h0m1.5 0h0m1 0h0m2.5 0h0m3 0h0m1 0h0m-10 .5h0m1 0h0m4 0h0m-7.5 .5h0m1.5 0h0m.5 0h0m3.5 0h0m1.5 0h0m3.5 0h0m2 0h0m-11 .5h0m3.5 0h0m1 0h0m1 0h0m2.5 0h0m.5 0h0m2.5 0h0m-13 .5h0m2 0h0m2 0h0m.5 0h0m.5 0h0m2.5 0h0m2.5 0h0m1 0h0m1 0h0m-10.5 .5h0m1.5 0h0m2.5 0h0m1 0h0m1 0h0m2 0h0m1.5 0h0m-10.5 .5h0m4.5 0h0m4.5 0h0m.5 0h0m-9.5 .5h0m1.5 0h0m3 0h0m1.5 0h0m2 0h0m2.5 0h0m.5 0h0m-7 .5h0m.5 0h0m2 0h0m1 0h0m2 0h0m.5 0h0m.5 0h0m.5 0h0m-8 .5h0m2 0h0m4.5 0h0m2.5 0h0m.5 0h0m-6 .5h0m.5 0h0m2 0h0m1 0h0m.5 0h0m.5 0h0m.5 0h0m-11 .5h0m2.5 0h0m1 0h0m1 0h0m2 0h0m.5 0h0m1 0h0m1.5 0h0m1 0h0m-6 .5h0m3 0h0m4 0h0" stroke="#000" stroke-opacity=".8" stroke-width="1.7" stroke-linecap="round" fill="none"/><path d="M125 232h0m.5 3h0m-.5 1h0m0 2h0m0 1h0m0 1h0m0 1h0m0 1h0m0 1h0m0 3h0m0 11h0m0 1h0m0 1h0m0 2h0m0 7h0" stroke="#111" stroke-opacity=".8" stroke-width="1.5" stroke-linecap="round" fill="none"/><path d="M125.1 272.4V303.1M125.1 323.6V333.8" stroke="#333" stroke-width=".5"/><rect x="112.8" y="303.1" width="24.6" height="20.5" fill="#1CB4B9" stroke="#000" stroke-opacity=".45" stroke-width=".6"/><path d="M112.8 315.8H137.4" stroke="#000" stroke-opacity=".5" stroke-width="1.1"/><path d="M157.2 334.9l6.2-.5l2-2.5l1.6-2.5l1.7-3.5l.8-2l0-.5l-1.8-9.1l-2.9-10.1l-2.1-9.1l-1.8-11.1l-.7-5l-1.5-16.2l-1.3-11.6l-.1-9.6l-.2-.5l0 0l-.2 .5l-.1 9.6l-1.3 11.6l-1.5 16.2l-.7 5l-1.8 11.1l-2.1 9.1l-2.9 10.1l-1.8 9.1l0 .5l.8 2l1.7 3.5l1.6 2.5l2 2.5l6.2 .5z" fill="#A07FBD" stroke="#333" stroke-width=".55"/><path d="M158 256.5h0m4.5 3h0m-7.5 1.5h0m2 0h0m-2 9h0m.5 0h0m-3 1h0m5.5 1h0m5 2.5h0m-3 .5h0m-5 1.5h0m-3.5 1h0m6.5 .5h0m1.5 2h0m0 2h0m-7 .5h0m3.5 .5h0m5.5 1h0m-9 3.5h0m6.5 .5h0m-6 1h0m5.5 1h0m2 0h0m-6.5 2.5h0m8 0h0m-1.5 2.5h0m2 2h0m-1 26.5h0m0 1h0m1.5 0h0m-4.5 1.5h0m4.5 0h0m-11 .5h0m11 0h0m-8.5 .5h0m2 0h0m-3.5 .5h0m6.5 0h0m-6 1h0m4 0h0m1 0h0m-5 .5h0m2 .5h0m4 .5h0m-3 .5h0m6.5 0h0m-4 .5h0m3 1h0m-3 .5h0m1 0h0m-5.5 1h0m6.5 .5h0m.5 0h0m-10 1h0m.5 0h0m2 0h0m8 0h0m-.5 .5h0" stroke="#000" stroke-opacity=".8" stroke-width="1.7" stroke-linecap="round" fill="none"/><path d="M157 244h0m-6 4.5h0m4.5 1.5h0m4.5 2.5h0m-5.5 2.5h0m5 5.5h0m-7 13.5h0m10 3h0m-4 3h0m1 3h0m-5 .5h0m-1 2.5h0m2.5 2h0m-5 1.5h0m6.5 0h0m1.5 0h0m0 3h0m-2.5 .5h0m6.5 .5h0m-8.5 3h0m3 .5h0m5 1h0m-11 .5h0m11.5 0h0m-11.5 1h0m11 24h0m-4.5 1h0m-3 1.5h0m7 0h0m-1.5 .5h0m-7 .5h0m6 0h0m-3.5 .5h0m-2.5 .5h0m7 0h0m-6 .5h0m3 .5h0m-2.5 .5h0m3.5 0h0m-6 1h0m1 0h0m5.5 .5h0m1.5 .5h0m1 .5h0m-1.5 .5h0m-4 .5h0m0 .5h0m-1.5 .5h0m2.5 0h0m1.5 0h0m-3 1h0m1 .5h0m6.5 0h0" stroke="#000" stroke-opacity=".8" stroke-width="1.7" stroke-linecap="round" fill="none"/><path d="M157 241.5h0m.5 3.5h0m-.5 3h0m0 3h0m0 4h0m0 7h0" stroke="#111" stroke-opacity=".8" stroke-width="1.5" stroke-linecap="round" fill="none"/><path d="M157.2 262.7V299.2M157.2 323.6V334.9" stroke="#333" stroke-width=".5"/><rect x="144.9" y="299.2" width="24.6" height="24.4" fill="#A07FBD" stroke="#000" stroke-opacity=".45" stroke-width=".6"/><path d="M144.9 314.4H169.5" stroke="#000" stroke-opacity=".5" stroke-width="1.1"/><rect x="41.5" y="201.1" width="135" height="139.3" fill="none" stroke="#555" stroke-width="1"/><path d="M41.5 200.6V340.9" stroke="#333" stroke-width="1"/><clipPath id="c6"><rect x="41.5" y="200.5" width="135" height="139.9"/></clipPath><g clip-path="url(#c6)"><path d="M60.8 230.8V227.8H92.9V230.8" fill="none" stroke="#222" stroke-width=".75"/><text x="76.9" y="225.9" font-size="7" fill="#333" color="#333" text-anchor="middle">P&lt;2.22e−16</text><path d="M92.9 220.6V217.6H125.1V220.6" fill="none" stroke="#222" stroke-width=".75"/><text x="109" y="215.7" font-size="7" fill="#333" color="#333" text-anchor="middle">0.0025</text><path d="M125.1 210.3V207.3H157.2V210.3" fill="none" stroke="#222" stroke-width=".75"/><text x="141.1" y="206.4" font-size="7" fill="#333" color="#333" text-anchor="middle">0.0031</text></g><path d="M37.3 339.1H41.5" stroke="#333" stroke-width=".8"/><text x="33.2" y="342.7" font-size="10.2" fill="#1a1a1a" color="#1a1a1a" text-anchor="end">0</text><path d="M37.3 303.8H41.5" stroke="#333" stroke-width=".8"/><text x="33.2" y="307.4" font-size="10.2" fill="#1a1a1a" color="#1a1a1a" text-anchor="end">1</text><path d="M37.3 268.5H41.5" stroke="#333" stroke-width=".8"/><text x="33.2" y="272.1" font-size="10.2" fill="#1a1a1a" color="#1a1a1a" text-anchor="end">2</text><path d="M37.3 233.2H41.5" stroke="#333" stroke-width=".8"/><text x="33.2" y="236.8" font-size="10.2" fill="#1a1a1a" color="#1a1a1a" text-anchor="end">3</text><path d="M60.8 340.4V344.6" stroke="#333" stroke-width=".8"/><text x="57.6" y="355.3" font-size="7.7" fill="#2a2a2a" color="#2a2a2a" text-anchor="middle">Stage I</text><path d="M92.9 340.4V344.6" stroke="#333" stroke-width=".8"/><text x="91.5" y="355.3" font-size="7.7" fill="#2a2a2a" color="#2a2a2a" text-anchor="middle">Stage II</text><path d="M125.1 340.4V344.6" stroke="#333" stroke-width=".8"/><text x="126.2" y="355.3" font-size="7.7" fill="#2a2a2a" color="#2a2a2a" text-anchor="middle">Stage III</text><path d="M157.2 340.4V344.6" stroke="#333" stroke-width=".8"/><text x="162.2" y="355.3" font-size="7.7" fill="#2a2a2a" color="#2a2a2a" text-anchor="middle">Stage IV</text><text transform="translate(19 270.8) rotate(-90) scale(.9 1)" font-size="10.5" fill="#222" color="#222" text-anchor="middle" y="3.7">Expression</text><text transform="translate(108.4 192) scale(.86 1)" font-size="11.3" font-style="italic" fill="#1a1a1a" color="#1a1a1a" text-anchor="middle">EPHB4</text>
<g stroke="#ECECEC" stroke-width=".6"><path d="M213.5 322.3H348.5"/><path d="M213.5 288.8H348.5"/><path d="M213.5 255.2H348.5"/><path d="M213.5 221.7H348.5"/></g><g stroke="#E8E8E8" stroke-width=".65"><path d="M213.5 339.1H348.5"/><path d="M213.5 305.6H348.5"/><path d="M213.5 272H348.5"/><path d="M213.5 238.5H348.5"/><path d="M213.5 204.9H348.5"/><path d="M232.8 201.1V340.4"/><path d="M264.9 201.1V340.4"/><path d="M297.1 201.1V340.4"/><path d="M329.2 201.1V340.4"/></g><path d="M232.8 331.7l5-.5l.2-.5l1.3-4.5l1.1-6l.4-11.1l-.6-7.5l-2.4-23.1l-1.7-11.6l-1.8-10.1l-1.3-5.5l0-4l-.3 0l0 4l-1.3 5.5l-1.8 10.1l-1.7 11.6l-2.4 23.1l-.6 7.5l.4 11.1l1.1 6l1.3 4.5l.2 .5l5 .5z" fill="#E87068" stroke="#333" stroke-width=".55"/><path d="M233 254h0m3.5 2h0m-7.5 8h0m0 .5h0m7 .5h0m-3.5 1.5h0m4 5h0m2.5 .5h0m-2.5 7h0m2 0h0m-8 2.5h0m3.5 .5h0m-4 .5h0m3 1.5h0m-.5 2.5h0m2.5 0h0m-4.5 .5h0m7.5 1.5h0m-10.5 2.5h0m6 2.5h0m1 .5h0m.5 0h0m.5 0h0m-5.5 1.5h0m7 0h0m-2 .5h0m4 0h0m-5 3h0m4.5 0h0m-8 .5h0m-3 1h0m10 .5h0m-3 .5h0m-6.5 1h0m8.5 .5h0m0 1.5h0m0 1h0m-9 1.5h0m3.5 0h0m5 0h0m2.5 3.5h0m-5.5 1.5h0m-6.5 1h0m.5 .5h0m3 0h0m-2.5 .5h0m3.5 1h0m-3 .5h0m6.5 1h0m-4.5 2.5h0m3 1h0m-1 1h0m1.5 2.5h0m-5 3h0m5 1h0m-3 4.5h0" stroke="#000" stroke-opacity=".8" stroke-width="1.7" stroke-linecap="round" fill="none"/><path d="M238 250.5h0m-1.5 4.5h0m-1.5 4h0m-8 1.5h0m11.5 4h0m-1.5 .5h0m-5.5 5h0m4.5 0h0m-9.5 2.5h0m2 0h0m-1 1h0m.5 0h0m3 4h0m-.5 4h0m1 .5h0m5 0h0m2 0h0m-2 1.5h0m-7 1.5h0m-2.5 1.5h0m4.5 .5h0m4.5 0h0m-7.5 1.5h0m-1.5 1h0m2.5 .5h0m6 .5h0m-7.5 2.5h0m5 .5h0m4 0h0m-7 .5h0m-2.5 2.5h0m10 1h0m-1 1h0m-9.5 1.5h0m4 0h0m-1.5 2h0m3.5 .5h0m2.5 0h0m1 0h0m-2.5 1.5h0m2 0h0m-7 3.5h0m7 .5h0m-6.5 .5h0m.5 0h0m9 .5h0m-9 1h0m2.5 0h0m-1.5 5.5h0m7 1h0m-11 1h0m2 0h0m-1 1h0m8 1h0m-2.5 1h0m2.5 .5h0m-2.5 1h0m3 0h0m2 .5h0m-1.5 2.5h0m-10.5 3.5h0m.5 0h0m2 .5h0m4.5 .5h0m0 2.5h0" stroke="#000" stroke-opacity=".8" stroke-width="1.7" stroke-linecap="round" fill="none"/><path d="M232.8 247.2V288.4M232.8 320V331.7" stroke="#333" stroke-width=".5"/><rect x="220.5" y="288.4" width="24.6" height="31.5" fill="#E87068" stroke="#000" stroke-opacity=".45" stroke-width=".6"/><path d="M220.5 309.2H245.1" stroke="#000" stroke-opacity=".5" stroke-width="1.1"/><path d="M264.9 333.7l6.3-.5l2.1-1.5l2.8-3l1.5-3.5l.8-2.5l-.5-3.5l-.2-.5l-5-8.6l-1.9-4.1l-3.9-26.9l-1.3-10.6l-.8-9.1l0 0l-.8 9.1l-1.3 10.6l-3.9 26.9l-1.9 4.1l-5 8.6l-.2 .5l-.5 3.5l.8 2.5l1.5 3.5l2.8 3l2.1 1.5l6.3 .5z" fill="#7AA82F" stroke="#333" stroke-width=".55"/><linearGradient id="m7_1_0" gradientUnits="userSpaceOnUse" x1="0" y1="322.5" x2="0" y2="334.5"><stop offset="0.042" stop-opacity="0.38"/><stop offset="0.208" stop-opacity="0.38"/><stop offset="0.375" stop-opacity="0.38"/><stop offset="0.542" stop-opacity="0.38"/><stop offset="0.708" stop-opacity="0.38"/><stop offset="0.875" stop-opacity="0.38"/><stop offset="0.958" stop-opacity="0.38"/></linearGradient><path d="M270.6 322.5 270.6 323 270.6 324 270.6 325 270.6 326 270.6 327 270.6 328 270.6 329 270.6 330 270.6 331 270.6 332 270.6 333 270.6 334 270.6 334.5 259.2 334.5 259.2 334 259.2 333 259.2 332 259.2 331 259.2 330 259.2 329 259.2 328 259.2 327 259.2 326 259.2 325 259.2 324 259.2 323 259.2 322.5z" fill="url(#m7_1_0)"/><path d="M259.5 263.5h0m9.5 0h0m-.5 2.5h0m1.5 1h0m-10 2.5h0m6.5 0h0m-3.5 .5h0m-.5 .5h0m2.5 1.5h0m.5 .5h0m-2 1h0m5.5 .5h0m-7 1.5h0m-3 .5h0m5.5 0h0m-6 .5h0m5 0h0m1.5 0h0m-5.5 1h0m9 0h0m-4.5 1.5h0m6 1h0m-7 .5h0m3.5 0h0m-6.5 .5h0m8 0h0m-3 .5h0m-1.5 1h0m.5 0h0m6.5 0h0m-12 1.5h0m10.5 0h0m-5 .5h0m-4.5 .5h0m6 0h0m3 0h0m-9 1h0m.5 0h0m1.5 0h0m-1 .5h0m3.5 0h0m3 .5h0m-8 1h0m11.5 0h0m.5 0h0m-10.5 .5h0m3 0h0m4 0h0m1 0h0m3 0h0m-10 .5h0m4 0h0m-7 .5h0m5.5 0h0m4 0h0m-1 .5h0m2.5 0h0m-6 .5h0m3.5 0h0m-9 .5h0m12 0h0m-5 .5h0m4 0h0m-8.5 .5h0m.5 .5h0m.5 .5h0m2.5 0h0m6 0h0m-1.5 1h0m-10.5 .5h0m4 0h0m9.5 0h0m-11 .5h0m1 0h0m5.5 0h0m3.5 0h0m-10.5 1h0m1 .5h0m3.5 0h0m7 0h0m-4 .5h0m-9 1h0m1.5 0h0m8.5 0h0m-10 .5h0m3.5 0h0m6.5 0h0m-6 .5h0m-.5 .5h0m1.5 0h0m.5 0h0m-1 .5h0m1.5 0h0m5 0h0m-5.5 .5h0m5.5 0h0m.5 0h0m-8 1h0m2.5 0h0m1 0h0m-6 .5h0m8.5 .5h0m-7.5 .5h0m3 0h0m-1 .5h0m-2.5 .5h0m1 0h0m10 0h0m-11.5 .5h0m7 .5h0m.5 0h0m-5.5 .5h0m-3 .5h0m7.5 0h0m1.5 0h0m-3.5 .5h0m-4 16h0m1 .5h0m6 0h0m2.5 0h0m-9 .5h0m1 0h0m.5 0h0m.5 0h0m7.5 0h0m-10.5 .5h0m.5 0h0m.5 0h0m1.5 0h0m7.5 0h0m-9.5 .5h0m.5 0h0m1.5 0h0m5 0h0m-3 .5h0m1.5 0h0m.5 0h0m.5 0h0m1.5 0h0m1.5 0h0m-9 .5h0m2 0h0m1.5 0h0m.5 0h0m2 0h0m1 0h0m1.5 0h0m1 0h0m-8 .5h0m1.5 0h0m1.5 0h0m2.5 0h0m.5 0h0m1.5 0h0m.5 0h0m-10.5 .5h0m3 0h0m4 0h0m1 0h0m2 0h0m1 0h0m-9.5 .5h0m2 0h0m1.5 0h0m1 0h0m3 0h0m1.5 0h0m.5 0h0m-10 .5h0m4 0h0m4 0h0m-9.5 .5h0m6.5 0h0m5 0h0m-6.5 .5h0m1.5 0h0m4.5 0h0m-10 .5h0m.5 0h0m7.5 0h0m-8 .5h0m4 0h0m2 0h0m3 0h0m1 0h0m-11 .5h0m1 0h0m1 0h0m3 0h0m1.5 0h0m.5 0h0m2 0h0m1 0h0m1.5 0h0m-9 .5h0m2.5 0h0m6 0h0m-10 .5h0m3 0h0m2.5 0h0m.5 0h0m1 0h0m1.5 0h0m.5 0h0m-5.5 .5h0m3.5 0h0m2.5 0h0m-10.5 .5h0m6 0h0m1.5 0h0m4 0h0m-8.5 .5h0m2.5 0h0m.5 0h0m1 0h0m3 0h0m.5 0h0m-6.5 .5h0m1 0h0m4.5 0h0m2 0h0m-9.5 .5h0m1 0h0m.5 0h0m-2.5 .5h0m.5 0h0m5 0h0m.5 0h0m3 0h0m-.5 .5h0" stroke="#000" stroke-opacity=".8" stroke-width="1.7" stroke-linecap="round" fill="none"/><path d="M259.5 260.5h0m3 0h0m-4.5 1h0m2.5 1.5h0m6.5 0h0m-1.5 .5h0m1.5 1h0m-3.5 1h0m4.5 .5h0m-7 1h0m8 2h0m-7.5 2.5h0m2.5 2h0m-4.5 4.5h0m.5 1h0m10.5 1h0m-5.5 .5h0m3.5 1.5h0m1 0h0m1 0h0m-1.5 .5h0m-7.5 .5h0m3 0h0m3.5 0h0m1 .5h0m-3.5 .5h0m2 .5h0m1 0h0m-7.5 .5h0m7 0h0m3.5 0h0m-12 .5h0m7.5 .5h0m-5 .5h0m3 .5h0m-2.5 .5h0m5 0h0m1.5 0h0m2 0h0m-7 .5h0m-5.5 .5h0m3.5 0h0m.5 0h0m1.5 0h0m-4 .5h0m9.5 0h0m-6.5 .5h0m-1 1.5h0m3.5 0h0m-4.5 .5h0m6.5 0h0m2.5 0h0m-11.5 .5h0m2.5 0h0m-2.5 .5h0m2.5 0h0m10 0h0m-13 .5h0m9.5 0h0m-7.5 .5h0m1 0h0m3 0h0m1 0h0m-7 .5h0m6.5 0h0m0 .5h0m6 0h0m-12.5 .5h0m1.5 0h0m8 0h0m1.5 .5h0m-6.5 1h0m3 0h0m3 0h0m-10 1h0m8.5 0h0m-8.5 .5h0m5 0h0m.5 0h0m2 0h0m2.5 0h0m-10 .5h0m13 0h0m-11 1h0m10.5 0h0m-11.5 .5h0m10.5 0h0m-11.5 1h0m3 0h0m9 0h0m1 0h0m-7.5 .5h0m6.5 0h0m-4 1.5h0m3.5 0h0m-7 1h0m-2 .5h0m7 0h0m1 0h0m-7.5 .5h0m3.5 0h0m2 0h0m.5 0h0m2 .5h0m1.5 0h0m-12.5 .5h0m7.5 0h0m1.5 0h0m2.5 0h0m-10 .5h0m11 0h0m-8.5 16h0m2 0h0m.5 0h0m1.5 0h0m-2.5 .5h0m1.5 0h0m2 0h0m2.5 0h0m-11 .5h0m2 0h0m2 0h0m4.5 0h0m-8.5 .5h0m.5 0h0m1 0h0m1.5 0h0m8 0h0m.5 0h0m-7.5 .5h0m.5 0h0m.5 0h0m.5 0h0m1 0h0m.5 0h0m.5 0h0m1 0h0m.5 0h0m.5 0h0m1.5 0h0m.5 0h0m-10 .5h0m2 0h0m1.5 0h0m.5 0h0m1.5 0h0m.5 0h0m2 0h0m2 0h0m-9 .5h0m5.5 0h0m.5 0h0m-6 .5h0m1 0h0m6.5 0h0m-10 .5h0m2 0h0m5.5 0h0m.5 0h0m2 0h0m1.5 0h0m-10.5 .5h0m6 0h0m2.5 0h0m1.5 0h0m-11 .5h0m5 0h0m3.5 0h0m1.5 0h0m-8 .5h0m2.5 0h0m2 0h0m4.5 0h0m-11 .5h0m3 0h0m1.5 0h0m5 0h0m.5 0h0m-7.5 .5h0m1 0h0m.5 0h0m3 0h0m-6 .5h0m2 0h0m1.5 0h0m1.5 0h0m2.5 0h0m2.5 0h0m.5 0h0m-10.5 .5h0m.5 0h0m4.5 0h0m3 0h0m1.5 0h0m1 0h0m-10.5 .5h0m1 0h0m.5 0h0m2 0h0m7 0h0m-11 .5h0m2.5 0h0m2.5 0h0m1 0h0m3.5 0h0m1 0h0m.5 0h0m-9 .5h0m.5 0h0m9 0h0m-7 .5h0m1 0h0m.5 0h0m1 0h0m2 0h0m1.5 0h0m.5 0h0m-9.5 .5h0m2.5 0h0m3 0h0m-3 .5h0m2.5 0h0m-1 .5h0m.5 0h0m.5 0h0m1.5 0h0m3 0h0m-8 .5h0m5 0h0m-4 .5h0m6.5 0h0" stroke="#000" stroke-opacity=".8" stroke-width="1.7" stroke-linecap="round" fill="none"/><path d="M265 260h0m0 1h0m0 1h0m0 1h0m0 7h0m0 3h0m0 3h0" stroke="#111" stroke-opacity=".8" stroke-width="1.5" stroke-linecap="round" fill="none"/><path d="M264.9 281.6V306.2M264.9 322.7V333.7" stroke="#333" stroke-width=".5"/><rect x="252.6" y="306.2" width="24.6" height="16.4" fill="#7AA82F" stroke="#000" stroke-opacity=".45" stroke-width=".6"/><path d="M252.6 318.6H277.2" stroke="#000" stroke-opacity=".5" stroke-width="1.1"/><path d="M297.1 334.1l6.2-.5l1.8-2l1.8-2.5l1.6-3l1-2.5l-.5-8.1l-3.9-11.6l-2.8-10.6l-2.6-15.1l-1.9-19.7l-.6-19.2l-.1-.5l0 0l-.1 .5l-.6 19.2l-1.9 19.7l-2.6 15.1l-2.8 10.6l-3.9 11.6l-.5 8.1l1 2.5l1.6 3l1.8 2.5l1.8 2l6.2 .5z" fill="#1CB4B9" stroke="#333" stroke-width=".55"/><linearGradient id="m7_2_0" gradientUnits="userSpaceOnUse" x1="0" y1="323.5" x2="0" y2="335.5"><stop offset="0.042" stop-opacity="0.77"/><stop offset="0.208" stop-opacity="0.77"/><stop offset="0.375" stop-opacity="0.77"/><stop offset="0.542" stop-opacity="0.77"/><stop offset="0.708" stop-opacity="0.77"/><stop offset="0.875" stop-opacity="0.77"/><stop offset="0.958" stop-opacity="0.77"/></linearGradient><path d="M303.3 323.5 303.3 324 303.3 325 303.3 326 303.3 327 303.3 328 303.3 329 303.3 330 303.3 331 303.3 332 303.3 333 303.3 334 303.3 335 303.3 335.5 290.9 335.5 290.9 335 290.9 334 290.9 333 290.9 332 290.9 331 290.9 330 290.9 329 290.9 328 290.9 327 290.9 326 290.9 325 290.9 324 290.9 323.5z" fill="url(#m7_2_0)"/><linearGradient id="m7_2_1" gradientUnits="userSpaceOnUse" x1="0" y1="299.5" x2="0" y2="304.5"><stop offset="0.100" stop-opacity="0.09"/><stop offset="0.500" stop-opacity="0.26"/><stop offset="0.900" stop-opacity="0.38"/><stop offset="0.900" stop-opacity="0.38"/></linearGradient><path d="M303.8 299.5 303.8 300 303.8 301 303.8 302 303.8 303 303.8 304 303.8 304.5 290.4 304.5 290.4 304 290.4 303 290.4 302 290.4 301 290.4 300 290.4 299.5z" fill="url(#m7_2_1)"/><path d="M300 239.5h0m-8 1h0m.5 3.5h0m-.5 2.5h0m-2 .5h0m4 2h0m9 2.5h0m-8 1h0m0 .5h0m2.5 3.5h0m4 0h0m-4 1.5h0m-1.5 1.5h0m-4.5 1.5h0m4.5 2h0m3 0h0m2 0h0m-9.5 4h0m1 0h0m2.5 0h0m.5 .5h0m4 1.5h0m1 0h0m-7 .5h0m1 .5h0m-2 1h0m1 0h0m-1.5 .5h0m8.5 0h0m1.5 0h0m2 0h0m-12 .5h0m5 0h0m5.5 0h0m1 0h0m-8 .5h0m6 1h0m2 1h0m-12 .5h0m8.5 0h0m-7.5 1h0m2.5 0h0m4.5 .5h0m-8 .5h0m.5 0h0m1 0h0m-1.5 .5h0m3.5 .5h0m-3.5 1h0m9 .5h0m2 0h0m-2 .5h0m-2.5 .5h0m5 0h0m-10 .5h0m9.5 0h0m-5.5 .5h0m-2 .5h0m-2 .5h0m3 0h0m3 0h0m-7.5 .5h0m10 0h0m2 0h0m-8 1h0m4 0h0m-8.5 .5h0m7 0h0m-6 .5h0m2 0h0m-2 .5h0m5.5 0h0m-.5 .5h0m-2 .5h0m7 0h0m-7.5 .5h0m1 0h0m5 0h0m2 0h0m-8.5 .5h0m-4 .5h0m1.5 0h0m4 0h0m3 0h0m-5 .5h0m4.5 0h0m.5 0h0m.5 0h0m.5 0h0m2 0h0m-1.5 .5h0m-4 1h0m1 0h0m-2.5 .5h0m5 .5h0m3 0h0m-9.5 .5h0m6 0h0m3 0h0m-11.5 1h0m2.5 0h0m6.5 0h0m-4 .5h0m2 0h0m.5 0h0m4 0h0m1.5 0h0m-11.5 .5h0m4 0h0m.5 0h0m1.5 0h0m-6 .5h0m8.5 0h0m2 0h0m.5 0h0m-6.5 .5h0m.5 0h0m.5 0h0m1 0h0m2 0h0m3.5 0h0m-12.5 .5h0m2.5 0h0m1 0h0m2 0h0m-6 .5h0m3 0h0m5 0h0m.5 0h0m-8.5 .5h0m3 0h0m2 0h0m1 0h0m1 0h0m.5 0h0m1 0h0m.5 0h0m-2 .5h0m-7.5 .5h0m1.5 0h0m3 0h0m2.5 0h0m.5 0h0m2.5 0h0m1.5 0h0m-11 .5h0m1.5 0h0m.5 0h0m.5 0h0m.5 0h0m2.5 0h0m2 0h0m.5 0h0m1 0h0m3.5 0h0m-9 .5h0m1.5 0h0m1 0h0m.5 0h0m3 0h0m3.5 0h0m-12.5 .5h0m3 0h0m5.5 0h0m-9.5 .5h0m2.5 0h0m1.5 0h0m.5 0h0m1 0h0m.5 0h0m.5 0h0m3 0h0m.5 0h0m-8.5 .5h0m.5 0h0m1 0h0m3.5 0h0m1 0h0m.5 0h0m5 0h0m-11 .5h0m1 0h0m4 0h0m-5.5 .5h0m6.5 0h0m2 0h0m1.5 0h0m-12 .5h0m1.5 0h0m2 0h0m2 0h0m1.5 0h0m.5 0h0m3.5 0h0m1 0h0m1.5 0h0m-11 .5h0m4.5 0h0m6.5 0h0m-13 .5h0m3 0h0m7 .5h0m.5 0h0m1 0h0m-11.5 .5h0m.5 0h0m3 0h0m3 0h0m2 0h0m.5 0h0m1 0h0m3 0h0m-12 .5h0m1.5 0h0m5.5 0h0m2 0h0m.5 0h0m3 0h0m-11.5 .5h0m2.5 0h0m4 0h0m1.5 0h0m1 0h0m.5 0h0m-8.5 .5h0m1.5 0h0m5.5 0h0m1 0h0m-1 19h0m2.5 0h0m-12 .5h0m1 0h0m1 0h0m3 0h0m.5 0h0m1 0h0m.5 0h0m.5 0h0m1 0h0m1 0h0m-9.5 .5h0m4 0h0m1.5 0h0m.5 0h0m.5 0h0m1.5 0h0m2.5 0h0m1 0h0m-9 .5h0m2 0h0m1 0h0m.5 0h0m1 0h0m.5 0h0m2 0h0m2.5 0h0m-12 .5h0m.5 0h0m1 0h0m2 0h0m1 0h0m1.5 0h0m1 0h0m-4 .5h0m1 0h0m1.5 0h0m1.5 0h0m-7 .5h0m1 0h0m.5 0h0m2 0h0m5 0h0m.5 0h0m2 0h0m-10.5 .5h0m.5 0h0m4 0h0m3.5 0h0m.5 0h0m3.5 0h0m-12 .5h0m2 0h0m1.5 0h0m.5 0h0m.5 0h0m.5 0h0m1.5 0h0m.5 0h0m4.5 0h0m-12 .5h0m1.5 0h0m.5 0h0m2 0h0m2 0h0m-6 .5h0m.5 0h0m3 0h0m6 0h0m-9.5 .5h0m5 0h0m3 0h0m2 0h0m.5 0h0m2 0h0m-11.5 .5h0m.5 0h0m.5 0h0m1 0h0m.5 0h0m.5 0h0m3 0h0m1 0h0m3.5 0h0m1 0h0m-9.5 .5h0m.5 0h0m.5 0h0m.5 0h0m1.5 0h0m.5 0h0m2 0h0m.5 0h0m2.5 0h0m-11 .5h0m.5 0h0m.5 0h0m.5 0h0m2.5 0h0m1 0h0m1.5 0h0m1 0h0m.5 0h0m1 0h0m.5 0h0m1.5 0h0m-11.5 .5h0m4 0h0m.5 0h0m.5 0h0m2 0h0m1.5 0h0m2.5 0h0m-11 .5h0m1 0h0m.5 0h0m1 0h0m5 0h0m1 0h0m.5 0h0m3 0h0m-10.5 .5h0m.5 0h0m.5 0h0m3.5 0h0m5 0h0m-9 .5h0m1.5 0h0m3 0h0m1.5 0h0m.5 0h0m.5 0h0m2.5 0h0m-12 .5h0m3 0h0m4.5 0h0m2.5 0h0m1 0h0m1.5 0h0m-12 .5h0m.5 0h0m1.5 0h0m1 0h0m2.5 0h0m1 0h0m1 0h0m1.5 0h0m1 0h0m2 0h0m-7.5 .5h0m1 0h0m.5 0h0m1.5 0h0m1 0h0m.5 0h0m2.5 0h0m-11.5 .5h0m2 0h0m.5 0h0m3 0h0m.5 0h0m1.5 0h0m1.5 0h0m2 0h0m.5 0h0m.5 0h0m-5 .5h0m1.5 0h0m.5 0h0m-8 .5h0m6 0h0m.5 0h0m1.5 0h0" stroke="#000" stroke-opacity=".8" stroke-width="1.7" stroke-linecap="round" fill="none"/><path d="M292.5 244h0m8 1h0m-3.5 1h0m3 1h0m0 3h0m-2.5 1h0m6 .5h0m-5 2h0m-4.5 1h0m5 .5h0m-.5 1h0m5 0h0m-.5 .5h0m-6 1h0m2.5 0h0m-7 1.5h0m-.5 1.5h0m7 0h0m-1 .5h0m-5.5 .5h0m4.5 1h0m-3.5 1h0m5 0h0m-8 .5h0m3 0h0m1 1h0m-1.5 1h0m-3 .5h0m5 0h0m.5 1h0m6.5 0h0m-10 .5h0m5.5 0h0m3 0h0m-9 1h0m3 0h0m1 1h0m0 1h0m-5 .5h0m13 .5h0m-4 .5h0m-1.5 .5h0m1.5 0h0m-6.5 .5h0m6 0h0m1.5 0h0m-5 .5h0m3 .5h0m4 0h0m-10.5 1.5h0m5 .5h0m-4.5 .5h0m7 0h0m1 0h0m-9 .5h0m1 0h0m8 0h0m2.5 .5h0m-10.5 .5h0m4.5 0h0m4 0h0m-3 .5h0m5 0h0m-5 .5h0m5.5 0h0m-12 .5h0m5 .5h0m7 0h0m-9 .5h0m2.5 .5h0m5 0h0m-10 .5h0m2.5 0h0m7 0h0m-6 .5h0m1 0h0m-2 .5h0m7.5 0h0m.5 0h0m-9 1h0m3.5 .5h0m3 0h0m.5 0h0m1.5 0h0m-9.5 .5h0m2 0h0m-4 .5h0m13.5 0h0m-7.5 .5h0m3 0h0m-8.5 .5h0m2.5 0h0m-3 .5h0m3 0h0m4 0h0m2 0h0m.5 0h0m4 0h0m-10.5 .5h0m9 0h0m-11 .5h0m.5 0h0m9.5 0h0m-10.5 .5h0m3.5 0h0m3.5 0h0m1.5 0h0m4 0h0m-10.5 .5h0m2 0h0m6 0h0m-9 .5h0m9 0h0m-10 .5h0m2 0h0m8.5 0h0m-9 .5h0m1 0h0m1 0h0m2.5 0h0m4 0h0m-9 .5h0m3.5 0h0m4 0h0m.5 0h0m1 0h0m-10.5 .5h0m3.5 0h0m3.5 0h0m.5 0h0m1.5 0h0m2.5 0h0m.5 0h0m-10 .5h0m2 0h0m-2 .5h0m1 0h0m2.5 0h0m3 0h0m2.5 0h0m1 0h0m-11.5 .5h0m5.5 0h0m5.5 0h0m-6 .5h0m.5 0h0m6.5 0h0m-12.5 .5h0m2 0h0m5.5 0h0m1 0h0m4 0h0m-10 .5h0m4 0h0m1.5 0h0m1 0h0m.5 0h0m2.5 0h0m-7 .5h0m-3 .5h0m2 0h0m.5 0h0m2 0h0m3 0h0m-8 .5h0m7 0h0m-8.5 .5h0m1 0h0m12 0h0m-8.5 .5h0m4 0h0m-7.5 .5h0m3.5 0h0m7.5 0h0m1 0h0m-11 .5h0m4 0h0m4 0h0m-10.5 .5h0m3.5 0h0m1.5 0h0m.5 0h0m.5 0h0m3 0h0m2.5 0h0m2 0h0m-6.5 .5h0m-6.5 .5h0m6 0h0m1.5 0h0m.5 0h0m2 0h0m3 0h0m.5 0h0m-13.5 .5h0m3 0h0m9.5 0h0m-10.5 .5h0m3.5 0h0m.5 0h0m.5 0h0m1.5 0h0m.5 0h0m-8.5 .5h0m2.5 0h0m2 0h0m3.5 0h0m-8 .5h0m.5 0h0m.5 0h0m3 0h0m2.5 0h0m.5 0h0m1 0h0m.5 .5h0m5 0h0m-12 .5h0m.5 0h0m1 0h0m7 0h0m1.5 0h0m-11 .5h0m2 0h0m1 0h0m1.5 0h0m1.5 0h0m1 0h0m.5 0h0m3 0h0m.5 0h0m1 0h0m-11.5 .5h0m4 0h0m3.5 0h0m3 0h0m-7.5 .5h0m.5 0h0m1 0h0m1 0h0m.5 0h0m1 0h0m1 0h0m1 0h0m-8 .5h0m2.5 0h0m.5 0h0m6 0h0m.5 0h0m-5.5 19h0m4.5 0h0m-8 .5h0m.5 0h0m1 0h0m4.5 0h0m.5 0h0m.5 0h0m.5 0h0m.5 0h0m1 0h0m-10.5 .5h0m2 0h0m1.5 0h0m.5 0h0m3 0h0m1.5 0h0m.5 0h0m1 0h0m.5 0h0m1 0h0m-10.5 .5h0m2 0h0m1 0h0m5.5 0h0m1.5 0h0m-11 .5h0m.5 0h0m1 0h0m1.5 0h0m4 0h0m.5 0h0m1 0h0m1.5 0h0m-10 .5h0m1 0h0m2.5 0h0m1.5 0h0m1 0h0m1 0h0m3.5 0h0m1.5 0h0m-13 .5h0m1.5 0h0m1 0h0m1.5 0h0m4 0h0m.5 0h0m.5 0h0m1 0h0m1.5 0h0m-8.5 .5h0m.5 0h0m1 0h0m1 0h0m2 0h0m.5 0h0m2 0h0m.5 0h0m1.5 0h0m1 0h0m-10.5 .5h0m1.5 0h0m.5 0h0m6.5 0h0m1 0h0m-11.5 .5h0m4 0h0m2 0h0m.5 0h0m1 0h0m.5 0h0m3.5 0h0m-9.5 .5h0m1 0h0m2.5 0h0m4.5 0h0m-7 .5h0m5.5 0h0m1 0h0m.5 0h0m.5 0h0m.5 0h0m1 0h0m-10 .5h0m2 0h0m2.5 0h0m2 0h0m3 0h0m.5 0h0m-11.5 .5h0m1 0h0m3 0h0m2.5 0h0m.5 0h0m1 0h0m.5 0h0m1.5 0h0m1 0h0m-11 .5h0m1 0h0m1 0h0m1 0h0m5.5 0h0m.5 0h0m1.5 0h0m1 0h0m-6 .5h0m1 0h0m1 0h0m1 0h0m1.5 0h0m-8.5 .5h0m1 0h0m2 0h0m1 0h0m1 0h0m1.5 0h0m.5 0h0m.5 0h0m1.5 0h0m-9 .5h0m2.5 0h0m1 0h0m3.5 0h0m.5 0h0m1 0h0m1 0h0m-11.5 .5h0m1 0h0m1 0h0m1 0h0m1.5 0h0m1.5 0h0m1 0h0m.5 0h0m.5 0h0m3 0h0m-11 .5h0m.5 0h0m1 0h0m1.5 0h0m2.5 0h0m5 0h0m1 0h0m-11.5 .5h0m2 0h0m2 0h0m2 0h0m1 0h0m2.5 0h0m.5 0h0m2 0h0m-9.5 .5h0m1 0h0m1 0h0m1.5 0h0m1.5 0h0m1 0h0m1 0h0m.5 0h0m-10 .5h0m.5 0h0m2 0h0m3 0h0m1 0h0m.5 0h0m1 0h0m.5 0h0m-8 .5h0m2.5 0h0m.5 0h0m5 0h0m.5 0h0m.5 0h0m1.5 0h0m-10 .5h0m3 0h0m.5 0h0m1.5 0h0m1 0h0" stroke="#000" stroke-opacity=".8" stroke-width="1.7" stroke-linecap="round" fill="none"/><path d="M297 239h0m0 .5h0m0 7.5h0m0 3h0m0 1h0m0 9h0m0 1h0m0 2h0m0 1h0m0 3h0" stroke="#111" stroke-opacity=".8" stroke-width="1.5" stroke-linecap="round" fill="none"/><path d="M297.1 273.3V303.5M297.1 323.7V334.1" stroke="#333" stroke-width=".5"/><rect x="284.8" y="303.5" width="24.6" height="20.1" fill="#1CB4B9" stroke="#000" stroke-opacity=".45" stroke-width=".6"/><path d="M284.8 317H309.4" stroke="#000" stroke-opacity=".5" stroke-width="1.1"/><path d="M329.2 333.7l6.2-.5l1.8-2l1.5-2l1.4-2.5l1.4-3l-1.8-8.1l-4.5-12.1l-2.8-14.6l-2.7-30.2l-.3-14.1l0-12.6l-.1-.5l0 0l-.1 .5l0 12.6l-.3 14.1l-2.7 30.2l-2.8 14.6l-4.5 12.1l-1.8 8.1l1.4 3l1.4 2.5l1.5 2l1.8 2l6.2 .5z" fill="#A07FBD" stroke="#333" stroke-width=".55"/><path d="M331.5 233.5h0m-6 5h0m-2 1h0m2.5 12.5h0m-.5 4h0m2.5 1.5h0m7 1h0m-12 14.5h0m7.5 0h0m-1.5 2h0m1.5 4.5h0m-7.5 1.5h0m9 .5h0m-8.5 1h0m10.5 0h0m-8.5 .5h0m0 .5h0m2 1h0m6 1h0m-5 3h0m2 0h0m1.5 0h0m-5 .5h0m6.5 0h0m-10 1h0m6 0h0m-.5 1.5h0m-3.5 1h0m1 0h0m8.5 0h0m-12 1.5h0m5 0h0m-2 1h0m6 1h0m3.5 0h0m-4.5 .5h0m2 .5h0m2.5 0h0m-4 .5h0m-3.5 1h0m2 2h0m5.5 0h0m-8.5 3h0m6.5 0h0m-2 .5h0m2 0h0m-9.5 20h0m2.5 .5h0m1.5 .5h0m-4 .5h0m1 0h0m4 0h0m2.5 0h0m-6.5 .5h0m.5 0h0m3.5 0h0m-2.5 .5h0m-2.5 .5h0m2.5 .5h0m1 0h0m2 0h0m.5 0h0m1.5 0h0m2 0h0m.5 .5h0m-5 .5h0m5 .5h0m-2 .5h0m-6 .5h0m.5 0h0m-1.5 .5h0m6 0h0m2 0h0m-4.5 .5h0m1.5 0h0m4.5 0h0m0 .5h0m-11 .5h0m6 .5h0m1.5 0h0m-2.5 .5h0m2 0h0m-2 1h0m4 0h0m-6.5 .5h0m2.5 0h0m3.5 0h0m1.5 0h0" stroke="#000" stroke-opacity=".8" stroke-width="1.7" stroke-linecap="round" fill="none"/><path d="M329.5 241.5h0m-4.5 3h0m1 4h0m.5 4h0m7.5 2.5h0m-1.5 14h0m-2 1h0m-.5 4h0m-1.5 1h0m3.5 0h0m0 5.5h0m1 0h0m-3 .5h0m4 0h0m-1 4.5h0m-3 8h0m-4.5 1h0m1.5 5h0m4.5 .5h0m-6 .5h0m9.5 1.5h0m-8.5 21.5h0m-2.5 .5h0m7 0h0m3.5 .5h0m-7.5 .5h0m4 0h0m.5 0h0m2.5 0h0m-8.5 .5h0m.5 0h0m1 0h0m0 .5h0m1.5 0h0m-4.5 1h0m2 0h0m2 0h0m1.5 .5h0m4 0h0m.5 0h0m1 0h0m-6 1h0m5.5 0h0m-7.5 .5h0m5.5 0h0m-7.5 1h0m2 0h0m6 0h0m-2 .5h0m2 .5h0m.5 0h0m-9.5 .5h0m5.5 0h0m2.5 0h0m2 0h0m-10.5 .5h0m4.5 0h0m1.5 .5h0m2.5 .5h0m-8.5 .5h0m5 0h0m4 0h0m1.5 0h0m-6.5 .5h0m-3.5 .5h0" stroke="#000" stroke-opacity=".8" stroke-width="1.7" stroke-linecap="round" fill="none"/><path d="M329 232h0m.5 0h0m0 3h0m0 3h0m0 5h0m-.5 3h0m.5 1h0m-.5 2h0m0 3h0m0 3h0m.5 2h0m0 3h0m-.5 3h0m0 4h0m0 3h0" stroke="#111" stroke-opacity=".8" stroke-width="1.5" stroke-linecap="round" fill="none"/><path d="M329.2 273.3V303.5M329.2 323.7V333.7" stroke="#333" stroke-width=".5"/><rect x="316.9" y="303.5" width="24.6" height="20.1" fill="#A07FBD" stroke="#000" stroke-opacity=".45" stroke-width=".6"/><path d="M316.9 317.6H341.5" stroke="#000" stroke-opacity=".5" stroke-width="1.1"/><rect x="213.5" y="201.1" width="135" height="139.3" fill="none" stroke="#555" stroke-width="1"/><path d="M213.5 200.6V340.9" stroke="#333" stroke-width="1"/><clipPath id="c7"><rect x="213.5" y="200.5" width="135" height="139.9"/></clipPath><g clip-path="url(#c7)"><path d="M232.8 230.7V227.7H264.9V230.7" fill="none" stroke="#222" stroke-width=".75"/><text x="248.9" y="225.8" font-size="7" fill="#333" color="#333" text-anchor="middle">6e−12</text><path d="M264.9 220.5V217.5H297.1V220.5" fill="none" stroke="#222" stroke-width=".75"/><text x="281" y="215.6" font-size="7" fill="#333" color="#333" text-anchor="middle">0.0036</text><path d="M297.1 210.2V207.2H329.2V210.2" fill="none" stroke="#222" stroke-width=".75"/><text x="313.1" y="206.3" font-size="7" fill="#333" color="#333" text-anchor="middle">0.94</text></g><path d="M209.3 339.1H213.5" stroke="#333" stroke-width=".8"/><text x="205.2" y="342.7" font-size="10.2" fill="#1a1a1a" color="#1a1a1a" text-anchor="end">0</text><path d="M209.3 305.6H213.5" stroke="#333" stroke-width=".8"/><text x="205.2" y="309.2" font-size="10.2" fill="#1a1a1a" color="#1a1a1a" text-anchor="end">1</text><path d="M209.3 272H213.5" stroke="#333" stroke-width=".8"/><text x="205.2" y="275.6" font-size="10.2" fill="#1a1a1a" color="#1a1a1a" text-anchor="end">2</text><path d="M209.3 238.5H213.5" stroke="#333" stroke-width=".8"/><text x="205.2" y="242.1" font-size="10.2" fill="#1a1a1a" color="#1a1a1a" text-anchor="end">3</text><path d="M209.3 204.9H213.5" stroke="#333" stroke-width=".8"/><text x="205.2" y="208.5" font-size="10.2" fill="#1a1a1a" color="#1a1a1a" text-anchor="end">4</text><path d="M232.8 340.4V344.6" stroke="#333" stroke-width=".8"/><text x="229.6" y="355.3" font-size="7.7" fill="#2a2a2a" color="#2a2a2a" text-anchor="middle">Stage I</text><path d="M264.9 340.4V344.6" stroke="#333" stroke-width=".8"/><text x="263.5" y="355.3" font-size="7.7" fill="#2a2a2a" color="#2a2a2a" text-anchor="middle">Stage II</text><path d="M297.1 340.4V344.6" stroke="#333" stroke-width=".8"/><text x="298.2" y="355.3" font-size="7.7" fill="#2a2a2a" color="#2a2a2a" text-anchor="middle">Stage III</text><path d="M329.2 340.4V344.6" stroke="#333" stroke-width=".8"/><text x="334.2" y="355.3" font-size="7.7" fill="#2a2a2a" color="#2a2a2a" text-anchor="middle">Stage IV</text><text transform="translate(191 270.8) rotate(-90) scale(.9 1)" font-size="10.5" fill="#222" color="#222" text-anchor="middle" y="3.7">Expression</text><text transform="translate(280.4 192) scale(.86 1)" font-size="11.3" font-style="italic" fill="#1a1a1a" color="#1a1a1a" text-anchor="middle">IGF1R</text>
<g stroke="#ECECEC" stroke-width=".6"><path d="M385.5 326.2H520.5"/><path d="M385.5 299.3H520.5"/><path d="M385.5 272.3H520.5"/><path d="M385.5 245.3H520.5"/><path d="M385.5 218.4H520.5"/></g><g stroke="#E8E8E8" stroke-width=".65"><path d="M385.5 339.7H520.5"/><path d="M385.5 312.7H520.5"/><path d="M385.5 285.8H520.5"/><path d="M385.5 258.8H520.5"/><path d="M385.5 231.9H520.5"/><path d="M385.5 204.9H520.5"/><path d="M404.8 201.1V340.4"/><path d="M436.9 201.1V340.4"/><path d="M469.1 201.1V340.4"/><path d="M501.2 201.1V340.4"/></g><path d="M404.8 331.6l.3-1l1.4-1.5l6-9.6l4.6-9.1l.4-1l.3-1.5l1.2-8.6l-.9-3.5l-2.2-6.6l-4.9-10.1l-4.1-10.1l-1.6-6.6l-.3-6.1l-0-6.6l-.1-.5l0 0l-.1 .5l-0 6.6l-.3 6.1l-1.6 6.6l-4.1 10.1l-4.9 10.1l-2.2 6.6l-.9 3.5l1.2 8.6l.3 1.5l.4 1l4.6 9.1l6 9.6l1.4 1.5l.3 1z" fill="#E87068" stroke="#333" stroke-width=".55"/><path d="M401 250.5h0m-1.5 2.5h0m3 6h0m1.5 1.5h0m4 0h0m-6.5 2h0m1.5 3h0m-4.5 6h0m5 1.5h0m1 3h0m.5 2h0m1 2h0m1 1h0m-4 .5h0m2 0h0m4.5 0h0m-4 1.5h0m1.5 1.5h0m4 .5h0m-5 1h0m-4 1h0m8 .5h0m-11 1h0m5.5 2h0m4.5 .5h0m-7.5 3h0m-1 .5h0m-1.5 .5h0m6 .5h0m3.5 3h0m-3.5 .5h0m1.5 0h0m-4.5 1.5h0m7 0h0m-9 1h0m8.5 0h0m-7.5 .5h0m-1 .5h0m9.5 1.5h0m-3.5 .5h0m2.5 0h0m-3 1h0m4.5 0h0m-9.5 .5h0m4.5 .5h0m.5 .5h0m2 0h0m-8.5 3h0m3.5 0h0m6 .5h0m-4 1.5h0m-3.5 .5h0m-.5 .5h0m9 3h0m-7.5 2h0m4.5 0h0m-3.5 .5h0m-3.5 .5h0m1.5 .5h0m7.5 2.5h0m2.5 2.5h0m-8.5 .5h0m-2.5 .5h0m3 1.5h0m-2 .5h0m-2.5 .5h0m9.5 .5h0m-3 3h0" stroke="#000" stroke-opacity=".8" stroke-width="1.7" stroke-linecap="round" fill="none"/><path d="M404 253h0m-4.5 5.5h0m7 9h0m-5.5 3h0m8 5h0m-6 1h0m5 .5h0m-1 3h0m3.5 0h0m-.5 2h0m-6.5 .5h0m2 2h0m1 1h0m-6 .5h0m.5 0h0m2 0h0m-1.5 1h0m3 2.5h0m2.5 .5h0m3 .5h0m-5 .5h0m6 0h0m-5.5 1.5h0m3 1h0m.5 1h0m2 1h0m-11 1h0m-1.5 .5h0m6 0h0m-1 1h0m5 0h0m-4.5 2h0m3 0h0m0 .5h0m-8 .5h0m7 0h0m1.5 0h0m.5 0h0m-1 1h0m-7.5 .5h0m8 2.5h0m-2 .5h0m4.5 1.5h0m-3.5 .5h0m.5 .5h0m-2 .5h0m3 0h0m3 1h0m-.5 2.5h0m-6.5 1.5h0m-4 1h0m11 0h0m-1 .5h0m-6 1.5h0m-4 2h0m6 0h0m-4.5 .5h0m3 0h0m-5.5 1h0m7 0h0m2 .5h0m.5 .5h0m-9 1h0m8 1h0m-5 .5h0m-4 2.5h0m8 .5h0m.5 5.5h0" stroke="#000" stroke-opacity=".8" stroke-width="1.7" stroke-linecap="round" fill="none"/><path d="M405 249.5h0m0 .5h0m0 1h0m0 3h0m0 5h0m-.5 1h0" stroke="#111" stroke-opacity=".8" stroke-width="1.5" stroke-linecap="round" fill="none"/><path d="M404.8 261.4V290.1M404.8 309.2V331.6" stroke="#333" stroke-width=".5"/><rect x="392.9" y="290.1" width="23.8" height="19.1" fill="#E87068" stroke="#000" stroke-opacity=".45" stroke-width=".6"/><path d="M392.9 299.3H416.7" stroke="#000" stroke-opacity=".5" stroke-width="1.1"/><path d="M436.9 332.7l3.3-.5l2.3-2.5l2.5-4l2.1-10.1l1-11.1l-.7-13.6l-3.5-10.1l-2.7-8.6l-3.7-13.6l-.4-8.6l-0-8.6l-.1-.5l0 0l-.1 .5l-0 8.6l-.4 8.6l-3.7 13.6l-2.7 8.6l-3.5 10.1l-.7 13.6l1 11.1l2.1 10.1l2.5 4l2.3 2.5l3.3 .5z" fill="#7AA82F" stroke="#333" stroke-width=".55"/><path d="M439.5 247.5h0m-1 6h0m-8 4.5h0m9 3.5h0m2.5 1h0m-10 2.5h0m9 1h0m-7 1h0m-1.5 .5h0m1.5 .5h0m1 0h0m1.5 .5h0m-3.5 1h0m1.5 1h0m0 .5h0m8.5 0h0m-13 .5h0m13.5 0h0m-12.5 .5h0m8.5 2.5h0m.5 0h0m-5 1h0m2 0h0m-5.5 .5h0m8 0h0m-7 .5h0m3 .5h0m-5 .5h0m1 1h0m11.5 0h0m0 .5h0m-8 .5h0m7.5 0h0m-7.5 .5h0m1 .5h0m-3.5 .5h0m8 0h0m1.5 0h0m-7.5 .5h0m1 1.5h0m6 0h0m1 0h0m-6 .5h0m7 0h0m-11.5 1.5h0m1.5 0h0m.5 0h0m5.5 0h0m.5 0h0m2.5 0h0m-2 .5h0m-3.5 1.5h0m0 .5h0m-3.5 1h0m2 .5h0m3 0h0m-7.5 1h0m5 0h0m-.5 1h0m8.5 0h0m-11.5 .5h0m3 .5h0m6.5 .5h0m-1 .5h0m0 1h0m-8 1.5h0m5.5 0h0m-8 .5h0m4 0h0m8.5 1.5h0m-13 .5h0m9.5 0h0m3 .5h0m-10 .5h0m1 0h0m7 0h0m-6 .5h0m1.5 0h0m4.5 0h0m3 0h0m-.5 .5h0m-12.5 1h0m4 0h0m6.5 1h0m-11 .5h0m11.5 0h0m-5.5 1.5h0m5 0h0m-9 .5h0m5 0h0m4.5 0h0m2 0h0m-7 1h0m3.5 0h0m-10 .5h0m10 .5h0m-7 .5h0m6.5 0h0m1 0h0m0 .5h0m-2.5 .5h0m3 .5h0m1 0h0m-6.5 .5h0m2 0h0m6 0h0m-8 .5h0m-1 .5h0m8 0h0m1 0h0m-5.5 .5h0m4.5 0h0m-11 1h0m9.5 0h0m1 0h0m-2.5 .5h0m-1.5 .5h0m2.5 0h0m-9.5 .5h0m1 .5h0m5.5 0h0m-6.5 .5h0m5 0h0m4.5 0h0m-7 1h0m3 0h0m2.5 0h0m4.5 0h0m-2 1h0m-9.5 .5h0m11.5 .5h0m-12 .5h0m6.5 2.5h0m1.5 0h0m-7 .5h0m3 .5h0m7 0h0m.5 0h0m-.5 1h0m.5 0h0m-11.5 1h0m2 .5h0m-3 .5h0m10.5 .5h0m-6 1h0m7 0h0m1 0h0m-11 1h0m1 0h0m4.5 0h0m6 0h0m-12 1.5h0m3 0h0m.5 .5h0m2.5 0h0m-3 1h0m1.5 1h0m2 .5h0m3 .5h0m0 1h0m-5.5 .5h0" stroke="#000" stroke-opacity=".8" stroke-width="1.7" stroke-linecap="round" fill="none"/><path d="M438 242.5h0m1 5.5h0m-2 4h0m-.5 8.5h0m0 2.5h0m-.5 1.5h0m-3.5 1h0m6 0h0m-6 .5h0m3 0h0m-3.5 .5h0m-.5 2.5h0m4 1.5h0m.5 0h0m-1 .5h0m8 0h0m-4 .5h0m-2 .5h0m3.5 0h0m.5 0h0m-8.5 .5h0m2 .5h0m8 0h0m-2 .5h0m-10 .5h0m0 .5h0m10.5 .5h0m-8 .5h0m8 0h0m-11 1.5h0m4.5 0h0m3.5 .5h0m-2.5 .5h0m.5 .5h0m-3 1.5h0m4 1.5h0m5.5 0h0m1 0h0m-9 .5h0m-1 .5h0m2 0h0m2 .5h0m1.5 0h0m-4 .5h0m2 0h0m-5 .5h0m6.5 0h0m-6 .5h0m2 0h0m-3 1h0m1 1h0m5.5 .5h0m1.5 0h0m1 .5h0m-5.5 1h0m-1 .5h0m9.5 1h0m-7.5 .5h0m-2.5 .5h0m1.5 0h0m5.5 .5h0m-5 .5h0m4 0h0m.5 0h0m-1 .5h0m-6 1h0m1.5 0h0m5 0h0m-5.5 .5h0m7.5 0h0m-3 1h0m.5 0h0m3 1h0m-10 .5h0m8.5 0h0m2.5 0h0m-7.5 .5h0m2 0h0m-7.5 .5h0m11.5 0h0m-3.5 1.5h0m4 0h0m-5 .5h0m.5 0h0m-4.5 1h0m-3 1h0m13.5 .5h0m-5.5 1h0m2.5 .5h0m-7.5 .5h0m6 .5h0m-5.5 .5h0m6 0h0m-5.5 .5h0m1 0h0m1 0h0m3 .5h0m-9 1h0m11 .5h0m-2.5 .5h0m-.5 .5h0m2 .5h0m-4 1h0m4.5 0h0m.5 0h0m-6 .5h0m7 0h0m-3.5 .5h0m-2.5 1h0m-4 .5h0m2.5 0h0m-2 .5h0m1.5 0h0m8.5 0h0m-11.5 1h0m1.5 0h0m-2 .5h0m4 .5h0m-2.5 1h0m6 0h0m.5 0h0m2.5 0h0m-4 .5h0m1 0h0m4 0h0m-9 .5h0m-.5 .5h0m6.5 0h0m.5 0h0m4.5 0h0m-10.5 .5h0m4.5 .5h0m-5 .5h0m10 0h0m-9.5 .5h0m2 0h0m4 0h0m-9.5 .5h0m.5 0h0m12.5 .5h0m-9 .5h0m5.5 0h0m-5 .5h0m-1.5 1h0m4.5 0h0m3 0h0m-3.5 .5h0m6 0h0m-11.5 1h0m-1 .5h0m4.5 0h0m5.5 0h0m-5.5 1h0m2.5 0h0m-7 .5h0m3.5 0h0m4 .5h0m.5 0h0m-8 2h0m1.5 0h0m6 1h0m-.5 .5h0m-5.5 2h0" stroke="#000" stroke-opacity=".8" stroke-width="1.7" stroke-linecap="round" fill="none"/><path d="M437 241.5h0m0 .5h0m0 3h0m0 1h0m-.5 3h0m.5 2h0" stroke="#111" stroke-opacity=".8" stroke-width="1.5" stroke-linecap="round" fill="none"/><path d="M436.9 256.8V292M436.9 315.4V332.7" stroke="#333" stroke-width=".5"/><rect x="424.6" y="292" width="24.6" height="23.5" fill="#7AA82F" stroke="#000" stroke-opacity=".45" stroke-width=".6"/><path d="M424.6 304.4H449.2" stroke="#000" stroke-opacity=".5" stroke-width="1.1"/><path d="M469.1 333.8l3.2-.5l.7-1l1.3-2.5l2.2-5.5l3.6-8.1l1.1-3l1-10.6l-1.5-13.6l-3.5-10.1l-5.5-20.2l-1.7-4l-.6-15.1l-0-7.6l-.3 0l-0 7.6l-.6 15.1l-1.7 4l-5.5 20.2l-3.5 10.1l-1.5 13.6l1 10.6l1.1 3l3.6 8.1l2.2 5.5l1.3 2.5l.7 1l3.2 .5z" fill="#1CB4B9" stroke="#333" stroke-width=".55"/><path d="M468.5 242.5h0m-3.5 2.5h0m5 0h0m-7 1.5h0m2.5 5.5h0m6.5 1h0m0 2h0m-7.5 .5h0m7 2h0m-9 2h0m1 0h0m2 .5h0m-1.5 .5h0m11 0h0m-1.5 .5h0m-10 1h0m3.5 1h0m-4.5 .5h0m11 0h0m-1 .5h0m-7.5 .5h0m5.5 .5h0m-5 .5h0m.5 .5h0m-2 .5h0m9.5 0h0m-8 .5h0m.5 0h0m3 0h0m4 0h0m-8 .5h0m10 0h0m-10 .5h0m2.5 .5h0m4.5 0h0m-5.5 .5h0m-3.5 .5h0m11.5 0h0m-5.5 .5h0m5 0h0m1 0h0m.5 0h0m-11 1.5h0m10.5 1h0m-7.5 .5h0m.5 0h0m4.5 .5h0m3.5 1h0m-13.5 .5h0m4 0h0m5 0h0m-7.5 .5h0m4.5 0h0m-5 .5h0m2 0h0m10 0h0m-5 1.5h0m3.5 0h0m-8 .5h0m3.5 0h0m-7 .5h0m10 .5h0m3.5 0h0m-9 .5h0m4.5 0h0m1 0h0m-9 .5h0m10.5 0h0m1 0h0m-3.5 1h0m-2 .5h0m2 .5h0m3 0h0m-6.5 .5h0m4 0h0m1 1h0m-5 .5h0m1 0h0m0 .5h0m-6 .5h0m9.5 0h0m-9.5 .5h0m3.5 0h0m4.5 0h0m2 0h0m-8 .5h0m-1 .5h0m4 0h0m-3 .5h0m.5 0h0m.5 0h0m3 0h0m5.5 0h0m1.5 0h0m-13.5 .5h0m.5 0h0m4.5 0h0m2.5 0h0m-1.5 .5h0m3 0h0m.5 0h0m-4 1h0m7 0h0m-10 .5h0m5 0h0m2 0h0m-1.5 .5h0m4.5 0h0m0 .5h0m-7.5 .5h0m5 .5h0m-3 .5h0m-3.5 .5h0m1 0h0m3 0h0m1.5 0h0m1 0h0m3 0h0m-2 .5h0m1.5 0h0m-5 .5h0m-6 1h0m1 0h0m4 0h0m-.5 .5h0m-4.5 .5h0m.5 0h0m.5 .5h0m10 0h0m.5 0h0m-9 .5h0m-2.5 .5h0m.5 0h0m4 0h0m7.5 0h0m-3.5 .5h0m3 .5h0m-3 .5h0m2 0h0m-6.5 .5h0m1.5 0h0m1.5 0h0m-8.5 .5h0m5.5 0h0m4 0h0m-5.5 1h0m1 0h0m4.5 0h0m-8.5 .5h0m12 0h0m-6.5 .5h0m1 .5h0m2.5 0h0m2 0h0m-10.5 .5h0m7 .5h0m1.5 0h0m-2.5 .5h0m-8 .5h0m1 0h0m3 .5h0m.5 0h0m1 0h0m7.5 0h0m.5 0h0m-12.5 .5h0m5 0h0m3 0h0m2 0h0m-.5 .5h0m2 .5h0m-3 .5h0m.5 0h0m-5.5 .5h0m5.5 .5h0m2.5 0h0m-9 .5h0m4.5 0h0m1.5 0h0m-4.5 1h0m4.5 0h0m1.5 0h0m-9 .5h0m9.5 0h0m-7.5 1h0m3.5 0h0m6.5 0h0m-11.5 .5h0m3 0h0m7 0h0m.5 0h0m-10 .5h0m2 0h0m1.5 0h0m4.5 .5h0m1.5 0h0m-5.5 1h0m2.5 0h0m-9 .5h0m2.5 .5h0m1 0h0m4 0h0m1 0h0m1.5 0h0m-10.5 1h0m12.5 .5h0m-3 .5h0m-7 .5h0m1.5 0h0m1.5 0h0m6 .5h0m.5 0h0m.5 0h0m-12 .5h0m5.5 0h0m6 0h0m-11.5 .5h0m8.5 0h0m-3.5 .5h0m4 0h0m-8.5 .5h0m10.5 0h0m-10 .5h0m9.5 0h0m-3 .5h0m.5 0h0m-7 .5h0m10 0h0m1 0h0m-6.5 .5h0m2.5 0h0m-7.5 .5h0m.5 0h0m3.5 0h0m3 0h0m.5 0h0m3 0h0m-8.5 .5h0m4 0h0m2 0h0m-7 .5h0m-1 .5h0m6.5 0h0m1 0h0m1 .5h0m3.5 0h0m-6 1h0m1 .5h0m1 .5h0m-6 1h0m4.5 0h0m.5 0h0m1 0h0m-1.5 .5h0m-1 .5h0m-5 .5h0m6 0h0m-5.5 .5h0m2.5 0h0m2 .5h0m7.5 .5h0m-12 .5h0m1 0h0m.5 0h0m3 0h0m1 0h0m-4.5 1h0m7 1h0m-8.5 1h0m6.5 0h0m5.5 0h0m-10 .5h0m5 0h0" stroke="#000" stroke-opacity=".8" stroke-width="1.7" stroke-linecap="round" fill="none"/><path d="M467.5 236.5h0m2 0h0m3.5 0h0m0 7.5h0m1.5 9.5h0m-11 1.5h0m1 1.5h0m6 2h0m2.5 3h0m-4 .5h0m-6 1h0m8.5 0h0m4.5 0h0m-9 .5h0m2.5 0h0m-1.5 1h0m-4.5 1h0m4 .5h0m8 0h0m-12 .5h0m.5 .5h0m1.5 0h0m-2.5 .5h0m4 0h0m3.5 0h0m-5.5 1.5h0m3 0h0m2.5 0h0m.5 .5h0m4.5 0h0m-12.5 .5h0m8 0h0m1 0h0m-3.5 .5h0m6 .5h0m-11 .5h0m4.5 .5h0m4.5 0h0m-3 .5h0m2 0h0m-3 .5h0m7 .5h0m-13 .5h0m2.5 0h0m4 .5h0m-3.5 .5h0m8.5 .5h0m-10.5 .5h0m2 0h0m1.5 0h0m5.5 .5h0m-9.5 1.5h0m6.5 0h0m3.5 0h0m2.5 0h0m-10 .5h0m2 0h0m4 0h0m3.5 0h0m-.5 .5h0m-2 .5h0m-1.5 .5h0m4 0h0m-3 .5h0m-6 .5h0m1 0h0m8 0h0m-6 .5h0m4 0h0m-3.5 .5h0m3.5 0h0m-2.5 .5h0m-3.5 .5h0m2 0h0m-2.5 1h0m2 0h0m6 0h0m1 0h0m-10 .5h0m6.5 1h0m.5 0h0m1.5 .5h0m-8 .5h0m1.5 0h0m1 0h0m2 0h0m1.5 0h0m-9.5 .5h0m3 0h0m0 1h0m5 0h0m3 0h0m-8.5 .5h0m9.5 0h0m-12.5 .5h0m5.5 .5h0m2 0h0m.5 0h0m-6.5 .5h0m12 0h0m-12 .5h0m1 0h0m1.5 0h0m2 0h0m4.5 0h0m-10.5 .5h0m1.5 0h0m7.5 0h0m-4 .5h0m2 0h0m-5.5 .5h0m7.5 0h0m-6 .5h0m1.5 .5h0m2.5 0h0m2.5 0h0m-6.5 .5h0m.5 0h0m7.5 0h0m-2 .5h0m1.5 0h0m-9 .5h0m-1 .5h0m.5 0h0m5.5 0h0m1 0h0m0 .5h0m5.5 0h0m-9.5 .5h0m-1 .5h0m5.5 0h0m2 0h0m-6 .5h0m-3.5 .5h0m4.5 0h0m-1 .5h0m.5 0h0m-1.5 .5h0m4.5 0h0m4.5 0h0m-9.5 .5h0m0 .5h0m7 .5h0m4.5 0h0m-14 .5h0m10.5 0h0m-8.5 .5h0m6 0h0m5.5 0h0m-13 .5h0m6 .5h0m5.5 0h0m-3.5 .5h0m.5 0h0m2.5 0h0m.5 0h0m-6.5 .5h0m6 0h0m2.5 0h0m-12.5 .5h0m1 0h0m8.5 0h0m-6 .5h0m8.5 .5h0m-8 .5h0m1.5 0h0m3.5 0h0m-4 .5h0m5 0h0m-8 .5h0m-.5 .5h0m5 0h0m-7 .5h0m9.5 0h0m-10 .5h0m8 1h0m-6.5 .5h0m9.5 0h0m-3 .5h0m-2 1h0m6.5 0h0m-8 .5h0m5.5 0h0m3 0h0m-12.5 1h0m1.5 0h0m7.5 0h0m.5 0h0m-10 .5h0m8.5 0h0m2.5 .5h0m-11.5 .5h0m11.5 0h0m-9 .5h0m.5 0h0m8.5 0h0m-8.5 .5h0m3 0h0m6.5 0h0m1.5 0h0m-9 .5h0m4 0h0m1.5 .5h0m-4 .5h0m4.5 0h0m-5 .5h0m7.5 0h0m-5 .5h0m5 0h0m-13 1h0m11 0h0m-3 .5h0m-6 .5h0m6 0h0m-6.5 .5h0m7 0h0m3.5 0h0m-6 .5h0m6 .5h0m-1.5 .5h0m.5 0h0m1.5 0h0m-1.5 .5h0m-10.5 .5h0m6 0h0m-4.5 .5h0m.5 0h0m-1 .5h0m5.5 0h0m3 0h0m2.5 0h0m-12 .5h0m3 0h0m-2 .5h0m2.5 0h0m9 0h0m-13.5 .5h0m7 0h0m1 0h0m-2 .5h0m-2.5 .5h0m4 0h0m2 0h0m.5 0h0m2 0h0m2 0h0m-5.5 .5h0m1 0h0m-4 .5h0m1.5 0h0m3.5 0h0m-1.5 .5h0m-7.5 .5h0m4.5 0h0m7.5 0h0m-10.5 1.5h0m-2 .5h0m4 0h0m.5 0h0m4 0h0m.5 0h0m2 0h0m-8.5 1.5h0m1.5 0h0m9 0h0m-13 .5h0m6 0h0m3.5 0h0m1 0h0m1.5 .5h0m-11 1.5h0m7 0h0m4.5 0h0m-6 .5h0m5.5 0h0m-7.5 .5h0m7.5 0h0" stroke="#000" stroke-opacity=".8" stroke-width="1.7" stroke-linecap="round" fill="none"/><path d="M469.5 232h0m-.5 .5h0m0 .5h0m0 5h0m0 1h0m0 1h0m0 7h0m0 6h0m0 1h0" stroke="#111" stroke-opacity=".8" stroke-width="1.5" stroke-linecap="round" fill="none"/><path d="M469.1 255.3V290.1M469.1 313.3V333.8" stroke="#333" stroke-width=".5"/><rect x="456.8" y="290.1" width="24.6" height="23.2" fill="#1CB4B9" stroke="#000" stroke-opacity=".45" stroke-width=".6"/><path d="M456.8 302.5H481.4" stroke="#000" stroke-opacity=".5" stroke-width="1.1"/><path d="M501.2 334.6l5.3-.5l1.8-1.5l1.3-1.5l1.8-2.5l1.8-4.6l.6-2.5l-0-9.1l-.9-11.1l-6-16.2l-2.7-13.1l-2.3-9.1l-.4-6.6l-0-6.6l-.1-.5l0 0l-.1 .5l-0 6.6l-.4 6.6l-2.3 9.1l-2.7 13.1l-5.9 15.7l-1.1 12.1l0 9.1l.9 3l1.7 4l2.3 3l2.2 2l5.3 .5z" fill="#A07FBD" stroke="#333" stroke-width=".55"/><path d="M499 253.5h0m-2.5 4.5h0m7 4h0m-6.5 4h0m9 5.5h0m-3.5 1h0m-7 .5h0m1 0h0m1.5 .5h0m6.5 5h0m-7 3.5h0m2 1h0m-4 .5h0m11 0h0m-7.5 1h0m8 .5h0m-9 1h0m1.5 2h0m4 0h0m1.5 0h0m-3.5 2h0m2.5 .5h0m-4 .5h0m-2 3h0m2 .5h0m-3.5 1.5h0m7.5 0h0m-1.5 .5h0m1 .5h0m-3 2.5h0m4.5 1.5h0m-5 .5h0m3 20h0m-7 .5h0m.5 0h0m6.5 0h0m4 0h0m-2.5 1.5h0m.5 0h0m-9 .5h0m8.5 0h0m-3.5 .5h0m3.5 0h0m.5 0h0m-1.5 1.5h0m2 0h0m-10 .5h0m2 .5h0m4 1h0m1.5 2h0m-5.5 1h0m2.5 .5h0m2 1.5h0m3 0h0m-1 1.5h0m2.5 0h0m0 1h0" stroke="#000" stroke-opacity=".8" stroke-width="1.7" stroke-linecap="round" fill="none"/><path d="M506.5 254.5h0m-8.5 .5h0m7.5 0h0m1.5 8h0m-11.5 4.5h0m11.5 0h0m0 5.5h0m-10.5 .5h0m7 3h0m-4 1h0m-2 3h0m-.5 2h0m5.5 0h0m-1.5 1h0m-2 2h0m5.5 0h0m1.5 0h0m-6.5 1.5h0m.5 0h0m.5 0h0m-1 .5h0m6.5 1h0m-6.5 1.5h0m1 2h0m5.5 .5h0m-2.5 .5h0m-8 .5h0m2 0h0m.5 1.5h0m7.5 0h0m-9 .5h0m1 .5h0m.5 .5h0m4.5 .5h0m1.5 0h0m0 1.5h0m-8.5 1h0m4 1h0m.5 0h0m2.5 0h0m-7.5 1h0m.5 20h0m9 0h0m-1.5 .5h0m-7.5 .5h0m6 .5h0m.5 .5h0m-6.5 .5h0m4.5 .5h0m-3.5 .5h0m5 0h0m2.5 .5h0m3 0h0m-6.5 .5h0m5 0h0m-9 2h0m.5 .5h0m-1 .5h0m6 0h0m2.5 0h0m2 0h0m-8.5 .5h0m6 0h0m3 0h0m-7 .5h0m.5 0h0m-4.5 .5h0m3 0h0m0 .5h0m3 0h0m-4.5 .5h0m3.5 0h0m1.5 0h0m3.5 .5h0m-9 1.5h0m1 .5h0m7 .5h0" stroke="#000" stroke-opacity=".8" stroke-width="1.7" stroke-linecap="round" fill="none"/><path d="M501 249h0m0 .5h0m.5 1.5h0m-.5 2h0m.5 3h0m0 3h0m0 3h0m0 2h0m0 2h0" stroke="#111" stroke-opacity=".8" stroke-width="1.5" stroke-linecap="round" fill="none"/><path d="M501.2 269.3V300.9M501.2 321.9V334.6" stroke="#333" stroke-width=".5"/><rect x="488.9" y="300.9" width="24.6" height="21" fill="#A07FBD" stroke="#000" stroke-opacity=".45" stroke-width=".6"/><path d="M488.9 311.9H513.5" stroke="#000" stroke-opacity=".5" stroke-width="1.1"/><rect x="385.5" y="201.1" width="135" height="139.3" fill="none" stroke="#555" stroke-width="1"/><path d="M385.5 200.6V340.9" stroke="#333" stroke-width="1"/><clipPath id="c8"><rect x="385.5" y="200.5" width="135" height="139.9"/></clipPath><g clip-path="url(#c8)"><path d="M404.8 230.8V227.8H436.9V230.8" fill="none" stroke="#222" stroke-width=".75"/><text x="420.9" y="225.9" font-size="7" fill="#333" color="#333" text-anchor="middle">9.9e−06</text><path d="M436.9 220.6V217.6H469.1V220.6" fill="none" stroke="#222" stroke-width=".75"/><text x="453" y="215.7" font-size="7" fill="#333" color="#333" text-anchor="middle">0.017</text><path d="M469.1 210.3V207.3H501.2V210.3" fill="none" stroke="#222" stroke-width=".75"/><text x="485.1" y="206.4" font-size="7" fill="#333" color="#333" text-anchor="middle">P&lt;2.22e−16</text></g><path d="M381.3 339.7H385.5" stroke="#333" stroke-width=".8"/><text x="377.2" y="343.3" font-size="10.2" fill="#1a1a1a" color="#1a1a1a" text-anchor="end">0</text><path d="M381.3 312.7H385.5" stroke="#333" stroke-width=".8"/><text x="377.2" y="316.3" font-size="10.2" fill="#1a1a1a" color="#1a1a1a" text-anchor="end">1</text><path d="M381.3 285.8H385.5" stroke="#333" stroke-width=".8"/><text x="377.2" y="289.4" font-size="10.2" fill="#1a1a1a" color="#1a1a1a" text-anchor="end">2</text><path d="M381.3 258.8H385.5" stroke="#333" stroke-width=".8"/><text x="377.2" y="262.4" font-size="10.2" fill="#1a1a1a" color="#1a1a1a" text-anchor="end">3</text><path d="M381.3 231.9H385.5" stroke="#333" stroke-width=".8"/><text x="377.2" y="235.5" font-size="10.2" fill="#1a1a1a" color="#1a1a1a" text-anchor="end">4</text><path d="M381.3 204.9H385.5" stroke="#333" stroke-width=".8"/><text x="377.2" y="208.5" font-size="10.2" fill="#1a1a1a" color="#1a1a1a" text-anchor="end">5</text><path d="M404.8 340.4V344.6" stroke="#333" stroke-width=".8"/><text x="401.6" y="355.3" font-size="7.7" fill="#2a2a2a" color="#2a2a2a" text-anchor="middle">Stage I</text><path d="M436.9 340.4V344.6" stroke="#333" stroke-width=".8"/><text x="435.5" y="355.3" font-size="7.7" fill="#2a2a2a" color="#2a2a2a" text-anchor="middle">Stage II</text><path d="M469.1 340.4V344.6" stroke="#333" stroke-width=".8"/><text x="470.2" y="355.3" font-size="7.7" fill="#2a2a2a" color="#2a2a2a" text-anchor="middle">Stage III</text><path d="M501.2 340.4V344.6" stroke="#333" stroke-width=".8"/><text x="506.2" y="355.3" font-size="7.7" fill="#2a2a2a" color="#2a2a2a" text-anchor="middle">Stage IV</text><text transform="translate(363 270.8) rotate(-90) scale(.9 1)" font-size="10.5" fill="#222" color="#222" text-anchor="middle" y="3.7">Expression</text><text transform="translate(452.4 192) scale(.86 1)" font-size="11.3" font-style="italic" fill="#1a1a1a" color="#1a1a1a" text-anchor="middle">KDR</text>
<g stroke="#ECECEC" stroke-width=".6"><path d="M557.5 325.1H692.5"/><path d="M557.5 297.1H692.5"/><path d="M557.5 269.1H692.5"/><path d="M557.5 241.1H692.5"/><path d="M557.5 213.1H692.5"/></g><g stroke="#E8E8E8" stroke-width=".65"><path d="M557.5 339.1H692.5"/><path d="M557.5 311.1H692.5"/><path d="M557.5 283.1H692.5"/><path d="M557.5 255.1H692.5"/><path d="M557.5 227.1H692.5"/><path d="M576.8 201.1V340.4"/><path d="M608.9 201.1V340.4"/><path d="M641.1 201.1V340.4"/><path d="M673.2 201.1V340.4"/></g><path d="M576.8 332.7l2.8-.5l.5-.5l1.2-2.5l1.2-3.5l1.8-11.1l.6-12.1l-.5-13.2l-.7-6.6l-5.3-21.8l-1.4-4.6l-.1-2.5l0 0l-.1 2.5l-1.4 4.6l-5.3 21.8l-.7 6.6l-.5 13.2l.6 12.1l1.8 11.1l1.2 3.5l1.2 2.5l.5 .5l2.8 .5z" fill="#E87068" stroke="#333" stroke-width=".55"/><path d="M573.5 254h0m3.5 5.5h0m5.5 6h0m-3.5 4.5h0m-8 .5h0m7 1h0m-6 2h0m2 5.5h0m8 1h0m-10.5 1.5h0m9 .5h0m-9.5 1.5h0m0 1h0m10.5 0h0m-6 7.5h0m-4 3h0m1.5 0h0m2 2.5h0m-.5 .5h0m1 0h0m-3.5 1h0m8 0h0m.5 4h0m-9.5 4.5h0m.5 1.5h0m1.5 0h0m0 1.5h0m5.5 1h0m2 1h0m-1.5 1.5h0m.5 3.5h0m-5 .5h0m8 11h0m-1 1.5h0m-1.5 .5h0" stroke="#000" stroke-opacity=".8" stroke-width="1.7" stroke-linecap="round" fill="none"/><path d="M577 261.5h0m1 8h0m-.5 7h0m3 .5h0m-8.5 1.5h0m9 0h0m0 2h0m-.5 .5h0m.5 1.5h0m-.5 3h0m-4 .5h0m-5 2h0m5 1.5h0m2.5 1h0m-8 .5h0m0 .5h0m3.5 1.5h0m8 0h0m0 .5h0m-10.5 .5h0m3 4h0m4 .5h0m-6.5 3h0m4 2h0m4 .5h0m-2 .5h0m3 0h0m-2.5 .5h0m-7.5 7.5h0m0 1h0m5 .5h0m-3 1.5h0m5 .5h0m-.5 1.5h0m-6.5 1h0m.5 0h0m6.5 0h0m3.5 8h0m1 2h0m-6 .5h0" stroke="#000" stroke-opacity=".8" stroke-width="1.7" stroke-linecap="round" fill="none"/><path d="M576.8 253.7V289M576.8 314.5V332.7" stroke="#333" stroke-width=".5"/><rect x="564.5" y="289" width="24.6" height="25.5" fill="#E87068" stroke="#000" stroke-opacity=".45" stroke-width=".6"/><path d="M564.5 302.1H589.1" stroke="#000" stroke-opacity=".5" stroke-width="1.1"/><path d="M608.9 334.3l6.3-.5l.7-.5l1.5-1.5l2-2.5l1.4-3l.4-1.5l-1.2-6.6l-2-7.1l-2.1-10.1l-4.4-28.2l-1-5l-1.1-4.5l-.5-7.1l0 0l-.5 7.1l-1.1 4.5l-1 5l-4.4 28.2l-2.1 10.1l-2 7.1l-1.2 6.6l.4 1.5l1.4 3l2 2.5l1.5 1.5l.7 .5l6.3 .5z" fill="#7AA82F" stroke="#333" stroke-width=".55"/><path d="M614.5 258h0m-4.5 5h0m2.5 0h0m-10 1h0m2 2.5h0m8 7h0m1 0h0m-8.5 .5h0m1 0h0m7 1h0m-6.5 .5h0m1.5 1h0m4 .5h0m-1 .5h0m3.5 1h0m-6.5 .5h0m-3 1h0m2 .5h0m-.5 1h0m.5 .5h0m1.5 .5h0m3 .5h0m-3.5 .5h0m5 .5h0m-7 .5h0m6.5 .5h0m.5 1h0m-5.5 .5h0m1 0h0m3.5 0h0m-8.5 3h0m11 .5h0m-11.5 1h0m.5 0h0m9 0h0m-9.5 .5h0m5.5 0h0m3.5 .5h0m-7 .5h0m2.5 0h0m4 .5h0m2 0h0m-4.5 1.5h0m-4 .5h0m9 0h0m-1.5 .5h0m-.5 .5h0m-6 .5h0m4.5 .5h0m-5 .5h0m7 1h0m2 .5h0m.5 0h0m-.5 .5h0m-4.5 .5h0m4 .5h0m-1 1h0m-9 23h0m7.5 .5h0m1.5 0h0m-4 1h0m-5.5 .5h0m2.5 0h0m6 0h0m-5 .5h0m1 0h0m4 0h0m1 0h0m.5 0h0m-4.5 .5h0m3 .5h0m.5 0h0m-6.5 .5h0m2 0h0m2.5 .5h0m-5.5 .5h0m4.5 0h0m2.5 0h0m.5 0h0m-7 .5h0m1 0h0m.5 0h0m6.5 .5h0m-8.5 1h0m4 0h0m1.5 0h0m-6 .5h0m1.5 0h0m6 0h0m-2 .5h0m-1 1h0m-5.5 .5h0m.5 0h0m2.5 .5h0m3 0h0m1.5 0h0m-5 1h0" stroke="#000" stroke-opacity=".8" stroke-width="1.7" stroke-linecap="round" fill="none"/><path d="M615.5 264h0m-6.5 .5h0m-4.5 5.5h0m.5 3h0m1.5 .5h0m0 1h0m1 0h0m5 1.5h0m-5 1h0m7 0h0m-.5 2h0m-8.5 2h0m3.5 0h0m.5 0h0m3.5 .5h0m.5 .5h0m1.5 .5h0m-1 2.5h0m1 .5h0m-9 1h0m1 0h0m4.5 2h0m-2.5 1h0m6 1h0m-5.5 1h0m-6 1h0m2 .5h0m5.5 1h0m-1.5 2.5h0m2 1.5h0m-.5 .5h0m4.5 .5h0m-4 1h0m-3.5 25h0m-3 .5h0m5 .5h0m1.5 0h0m-5 .5h0m8 .5h0m-11.5 .5h0m.5 0h0m4 0h0m4.5 0h0m-3.5 1h0m3 0h0m-6 .5h0m6 0h0m-7 .5h0m6.5 0h0m-8 .5h0m3.5 .5h0m-2 1h0m1 0h0m1.5 .5h0m1 0h0m-4.5 .5h0m0 .5h0m5.5 0h0m0 .5h0m-3 .5h0m2 .5h0m1.5 0h0m2 0h0m1 0h0m-6 .5h0m-3.5 .5h0m10.5 0h0" stroke="#000" stroke-opacity=".8" stroke-width="1.7" stroke-linecap="round" fill="none"/><path d="M609 256.5h0m0 .5h0m0 1h0" stroke="#111" stroke-opacity=".8" stroke-width="1.5" stroke-linecap="round" fill="none"/><path d="M608.9 265.6V301.3M608.9 325.1V334.3" stroke="#333" stroke-width=".5"/><rect x="596.6" y="301.3" width="24.6" height="23.8" fill="#7AA82F" stroke="#000" stroke-opacity=".45" stroke-width=".6"/><path d="M596.6 315.3H621.2" stroke="#000" stroke-opacity=".5" stroke-width="1.1"/><path d="M641.1 333.8l6.5-.5l3.2-2l2.3-2l1.9-4l1.2-3.5l-.3-1.5l-1.4-3.5l-3.5-5.5l-2.1-4.5l-.9-2.5l-.7-5l-1.3-14.6l-2.4-15.6l-1.7-8.1l-.6-11.6l-.3 0l-.6 11.6l-1.7 8.1l-2.4 15.6l-1.3 14.6l-.7 5l-.9 2.5l-2.1 4.5l-3.5 5.5l-1.4 3.5l-.3 1.5l1.2 3.5l1.9 4l2.3 2l3.2 2l6.5 .5z" fill="#1CB4B9" stroke="#333" stroke-width=".55"/><linearGradient id="m9_2_0" gradientUnits="userSpaceOnUse" x1="0" y1="323.5" x2="0" y2="335.5"><stop offset="0.042" stop-opacity="0.23"/><stop offset="0.208" stop-opacity="0.23"/><stop offset="0.375" stop-opacity="0.23"/><stop offset="0.542" stop-opacity="0.23"/><stop offset="0.708" stop-opacity="0.23"/><stop offset="0.875" stop-opacity="0.23"/><stop offset="0.958" stop-opacity="0.23"/></linearGradient><path d="M647.3 323.5 647.3 324 647.3 325 647.3 326 647.3 327 647.3 328 647.3 329 647.3 330 647.3 331 647.3 332 647.3 333 647.3 334 647.3 335 647.3 335.5 634.9 335.5 634.9 335 634.9 334 634.9 333 634.9 332 634.9 331 634.9 330 634.9 329 634.9 328 634.9 327 634.9 326 634.9 325 634.9 324 634.9 323.5z" fill="url(#m9_2_0)"/><path d="M643.5 251h0m3 10h0m-9.5 4h0m2 4h0m6.5 .5h0m-4.5 1h0m1 0h0m5 0h0m-10 .5h0m7 0h0m3 .5h0m-12 .5h0m7 1.5h0m1 1h0m5 0h0m-4 .5h0m-4.5 .5h0m-5 .5h0m1 0h0m1.5 0h0m10 .5h0m-4.5 .5h0m3.5 0h0m-4 .5h0m1.5 0h0m4.5 .5h0m-4.5 1h0m2.5 0h0m0 1h0m-.5 1h0m1.5 0h0m-10 .5h0m-2 .5h0m3.5 0h0m9 0h0m-.5 .5h0m-12.5 .5h0m.5 0h0m1 .5h0m5 .5h0m4.5 0h0m-8 .5h0m1.5 .5h0m5.5 0h0m.5 0h0m-8 .5h0m0 .5h0m3 0h0m4.5 0h0m2 .5h0m-12 .5h0m7 0h0m2 0h0m4 0h0m-12 1.5h0m2 .5h0m2 0h0m3.5 .5h0m3 0h0m-4.5 1h0m1.5 0h0m4 0h0m-5 .5h0m-7.5 .5h0m8.5 0h0m-4 .5h0m4 0h0m-1.5 1.5h0m6 0h0m-4 .5h0m-7.5 .5h0m3 0h0m8 0h0m-12.5 1h0m4.5 0h0m5 0h0m-7.5 .5h0m3 .5h0m8 0h0m-7.5 .5h0m1.5 0h0m-4 .5h0m-1.5 .5h0m8.5 0h0m-7.5 .5h0m1.5 0h0m6 0h0m2.5 0h0m-2.5 1h0m2.5 .5h0m-8.5 .5h0m6.5 .5h0m1.5 0h0m.5 0h0m-6 .5h0m1.5 0h0m3 0h0m-8 .5h0m7.5 0h0m-2.5 .5h0m1 0h0m.5 .5h0m2 0h0m2 0h0m-13.5 .5h0m10.5 0h0m-3.5 .5h0m-5 .5h0m0 19h0m4.5 0h0m1 0h0m1 0h0m-5.5 .5h0m6 0h0m.5 0h0m.5 0h0m2 0h0m-10.5 .5h0m2 0h0m1 0h0m1.5 0h0m1 0h0m2 0h0m1.5 0h0m-9 .5h0m1 0h0m2.5 0h0m3 0h0m3 0h0m1.5 0h0m-11.5 .5h0m6 0h0m.5 0h0m.5 0h0m-7 .5h0m5.5 0h0m1 0h0m2.5 0h0m1.5 0h0m-2 .5h0m2.5 0h0m-11.5 .5h0m4.5 0h0m1.5 0h0m.5 0h0m5 0h0m-10 .5h0m1 0h0m2.5 0h0m1.5 0h0m5 0h0m.5 0h0m-10.5 .5h0m1.5 0h0m4 0h0m3 0h0m-10 .5h0m2.5 0h0m-1.5 .5h0m.5 0h0m2 0h0m.5 0h0m.5 0h0m2.5 0h0m.5 0h0m2 0h0m1.5 0h0m.5 0h0m-9 .5h0m.5 0h0m4.5 0h0m2 0h0m-5.5 .5h0m2.5 0h0m3.5 0h0m-5 .5h0m.5 0h0m2 0h0m2.5 0h0m-8.5 .5h0m3.5 0h0m2.5 0h0m1 0h0m1 0h0m1 0h0m1.5 0h0m-7.5 .5h0m6 0h0m1.5 0h0m-9 .5h0m8.5 0h0m.5 0h0m-5 .5h0m4 0h0m-9.5 .5h0m3 0h0m1 .5h0m4.5 0h0m.5 0h0m1 0h0m-11 .5h0m11.5 0h0m-11.5 .5h0m3.5 0h0m2 0h0m1 0h0m1 0h0m1 0h0m-7 .5h0m2.5 0h0m1 0h0m2.5 .5h0" stroke="#000" stroke-opacity=".8" stroke-width="1.7" stroke-linecap="round" fill="none"/><path d="M640.5 259h0m1 10h0m-2 3h0m5.5 1h0m3 2.5h0m-6 .5h0m2 1h0m-9.5 2h0m3.5 0h0m6 .5h0m-2.5 .5h0m2 0h0m-6.5 .5h0m-2 .5h0m6.5 0h0m3 0h0m-8 .5h0m6.5 1h0m-8.5 1.5h0m6 0h0m-3.5 .5h0m1.5 .5h0m2.5 0h0m2.5 0h0m-8.5 1h0m2.5 0h0m1.5 0h0m1.5 1h0m3.5 .5h0m-2.5 1h0m-6.5 1.5h0m1.5 0h0m9.5 0h0m.5 1h0m.5 0h0m-11 .5h0m9.5 0h0m-8 .5h0m-2 .5h0m3 0h0m-4 .5h0m8 .5h0m-4.5 1h0m.5 0h0m1.5 .5h0m-.5 .5h0m7 0h0m-2 1h0m-10 .5h0m1 0h0m3 0h0m.5 0h0m.5 1h0m6 0h0m.5 0h0m-5.5 1h0m3 0h0m-7.5 .5h0m8 0h0m3.5 0h0m-11 .5h0m1.5 0h0m8.5 0h0m-11.5 .5h0m1.5 0h0m-1 1h0m6 0h0m-4 .5h0m7 0h0m-5 .5h0m1.5 0h0m-4.5 .5h0m10 1h0m1 0h0m-11.5 19.5h0m5.5 0h0m-7 .5h0m3.5 0h0m1.5 0h0m4 0h0m3.5 0h0m-11.5 .5h0m8 0h0m2 0h0m-10.5 .5h0m3.5 0h0m1.5 0h0m1 0h0m.5 0h0m5 0h0m.5 0h0m-9 .5h0m2.5 0h0m-4.5 .5h0m4 0h0m3 0h0m2.5 0h0m-11 .5h0m8 0h0m.5 0h0m3 0h0m1 0h0m-9 .5h0m.5 0h0m.5 0h0m1.5 0h0m2 0h0m1 0h0m2.5 0h0m-3.5 .5h0m1.5 0h0m.5 0h0m.5 0h0m-10 .5h0m.5 0h0m1 0h0m1 0h0m2.5 0h0m5 0h0m.5 0h0m2 0h0m-11.5 .5h0m.5 0h0m.5 .5h0m6 0h0m1.5 0h0m.5 0h0m-7 .5h0m3.5 0h0m5 0h0m-11.5 .5h0m6.5 0h0m.5 0h0m.5 0h0m.5 0h0m3 0h0m.5 0h0m-10 .5h0m1 0h0m2.5 0h0m-3.5 .5h0m3.5 0h0m1 0h0m1 0h0m4 0h0m-7.5 .5h0m1 0h0m1.5 0h0m1 0h0m2 0h0m1.5 0h0m1 0h0m-10 .5h0m.5 0h0m3 0h0m4.5 0h0m.5 0h0m-10.5 .5h0m1 0h0m2.5 0h0m3 0h0m2.5 0h0m1 0h0m.5 0h0m1 0h0m-1.5 .5h0m1 0h0m.5 0h0m1 0h0m-5 .5h0m2 0h0m-8 .5h0m1 0h0m.5 0h0m1.5 0h0m1 0h0m.5 0h0m-4 .5h0m5 0h0m.5 0h0m-4.5 .5h0m6 0h0m2.5 0h0m1.5 0h0m-11.5 .5h0m5.5 0h0" stroke="#000" stroke-opacity=".8" stroke-width="1.7" stroke-linecap="round" fill="none"/><path d="M641 249.5h0m0 4.5h0m0 1h0m0 3h0m0 2h0m0 1h0m0 2h0m0 1h0m0 3h0m0 3h0m0 1h0" stroke="#111" stroke-opacity=".8" stroke-width="1.5" stroke-linecap="round" fill="none"/><path d="M641.1 275.4V304.4M641.1 323.7V333.8" stroke="#333" stroke-width=".5"/><rect x="628.8" y="304.4" width="24.6" height="19.3" fill="#1CB4B9" stroke="#000" stroke-opacity=".45" stroke-width=".6"/><path d="M628.8 317.5H653.4" stroke="#000" stroke-opacity=".5" stroke-width="1.1"/><path d="M673.2 334.1l5.2-.5l1.2-2l1.2-2.5l2.4-7l1-12.6l.5-15.1l-.2-.5l-1-1l-2.1-3.5l-3-8.1l-3.5-16.6l-1.1-4l-.4-14.1l0-14.6l-.3 0l0 14.6l-.4 14.1l-1.1 4l-3.5 16.6l-3 8.1l-2.1 3.5l-1 1l-.2 .5l.5 15.1l1 12.6l2.4 7l1.2 2.5l1.2 2l5.2 .5z" fill="#A07FBD" stroke="#333" stroke-width=".55"/><path d="M678.5 238.5h0m-5.5 5h0m5.5 7.5h0m-6 1.5h0m-2.5 2.5h0m-1.5 .5h0m10.5 .5h0m.5 5h0m-8 1h0m2 9.5h0m-3 1.5h0m.5 1h0m-2.5 2h0m-1.5 1.5h0m12.5 8.5h0m-5.5 .5h0m1 .5h0m0 3h0m3 3.5h0m-3.5 2h0m-6 1h0m4 2h0m-5 1h0m5 2.5h0m6 0h0m-1.5 3.5h0m-5.5 4.5h0m1.5 0h0m2.5 .5h0m3 0h0m-.5 .5h0m-1.5 .5h0m-8 1.5h0m7 4h0m-5.5 1h0m6 2h0m-8.5 1h0m6.5 0h0m-3 2.5h0m5.5 .5h0m-2.5 1h0m-5.5 .5h0m-1.5 1h0m6.5 1.5h0m3.5 .5h0m-7.5 .5h0m6 .5h0m-7 .5h0m4 0h0m1 0h0m2.5 .5h0m0 1h0m-8 1h0m5 .5h0m-3.5 .5h0m8.5 0h0m1.5 1h0" stroke="#000" stroke-opacity=".8" stroke-width="1.7" stroke-linecap="round" fill="none"/><path d="M678 233.5h0m-10 1.5h0m6 1.5h0m2.5 2.5h0m2.5 5.5h0m0 20.5h0m-4 8h0m-.5 1h0m-6 .5h0m0 1.5h0m2 1.5h0m-.5 2h0m3 3.5h0m-4 2.5h0m1.5 1h0m4.5 0h0m4 .5h0m0 3h0m.5 .5h0m-12.5 1h0m8 4.5h0m0 2h0m.5 0h0m.5 0h0m1 1.5h0m-6 .5h0m7.5 .5h0m-10.5 4h0m7 1.5h0m4 0h0m-.5 1.5h0m-4 1h0m2 1h0m1 0h0m-5 2h0m4 0h0m3 0h0m-8.5 .5h0m7 .5h0m-11.5 1.5h0m4 .5h0m7.5 0h0m-.5 .5h0m-8.5 .5h0m2 0h0m3 0h0m.5 0h0m-5.5 1.5h0m10.5 0h0m-9.5 1.5h0m3.5 1h0m2 0h0m-3.5 1.5h0m-.5 1.5h0m4 0h0m-8.5 .5h0m2 1h0m1.5 .5h0m-.5 1h0m1 1h0m3.5 0h0m3 1h0m-3 .5h0m-5.5 .5h0m10 0h0m-7 1.5h0m6 0h0m-3 .5h0m-7.5 .5h0m4 .5h0m4 .5h0m-2 1h0" stroke="#000" stroke-opacity=".8" stroke-width="1.7" stroke-linecap="round" fill="none"/><path d="M673 232h0m0 .5h0m0 2.5h0m0 1h0m.5 4h0m0 11h0" stroke="#111" stroke-opacity=".8" stroke-width="1.5" stroke-linecap="round" fill="none"/><path d="M673.2 252V294M673.2 322V334.1" stroke="#333" stroke-width=".5"/><rect x="660.9" y="294" width="24.6" height="28" fill="#A07FBD" stroke="#000" stroke-opacity=".45" stroke-width=".6"/><path d="M660.9 309.4H685.5" stroke="#000" stroke-opacity=".5" stroke-width="1.1"/><rect x="557.5" y="201.1" width="135" height="139.3" fill="none" stroke="#555" stroke-width="1"/><path d="M557.5 200.6V340.9" stroke="#333" stroke-width="1"/><clipPath id="c9"><rect x="557.5" y="200.5" width="135" height="139.9"/></clipPath><g clip-path="url(#c9)"><path d="M576.8 230.7V227.7H608.9V230.7" fill="none" stroke="#222" stroke-width=".75"/><text x="592.9" y="225.8" font-size="7" fill="#333" color="#333" text-anchor="middle">2.9e−12</text><path d="M608.9 220.5V217.5H641.1V220.5" fill="none" stroke="#222" stroke-width=".75"/><text x="625" y="215.6" font-size="7" fill="#333" color="#333" text-anchor="middle">0.087</text><path d="M641.1 210.3V207.3H673.2V210.3" fill="none" stroke="#222" stroke-width=".75"/><text x="657.1" y="206.4" font-size="7" fill="#333" color="#333" text-anchor="middle">1.3e−11</text></g><path d="M553.3 339.1H557.5" stroke="#333" stroke-width=".8"/><text x="549.2" y="342.7" font-size="10.2" fill="#1a1a1a" color="#1a1a1a" text-anchor="end">0</text><path d="M553.3 311.1H557.5" stroke="#333" stroke-width=".8"/><text x="549.2" y="314.7" font-size="10.2" fill="#1a1a1a" color="#1a1a1a" text-anchor="end">1</text><path d="M553.3 283.1H557.5" stroke="#333" stroke-width=".8"/><text x="549.2" y="286.7" font-size="10.2" fill="#1a1a1a" color="#1a1a1a" text-anchor="end">2</text><path d="M553.3 255.1H557.5" stroke="#333" stroke-width=".8"/><text x="549.2" y="258.7" font-size="10.2" fill="#1a1a1a" color="#1a1a1a" text-anchor="end">3</text><path d="M553.3 227.1H557.5" stroke="#333" stroke-width=".8"/><text x="549.2" y="230.7" font-size="10.2" fill="#1a1a1a" color="#1a1a1a" text-anchor="end">4</text><path d="M576.8 340.4V344.6" stroke="#333" stroke-width=".8"/><text x="573.6" y="355.3" font-size="7.7" fill="#2a2a2a" color="#2a2a2a" text-anchor="middle">Stage I</text><path d="M608.9 340.4V344.6" stroke="#333" stroke-width=".8"/><text x="607.5" y="355.3" font-size="7.7" fill="#2a2a2a" color="#2a2a2a" text-anchor="middle">Stage II</text><path d="M641.1 340.4V344.6" stroke="#333" stroke-width=".8"/><text x="642.2" y="355.3" font-size="7.7" fill="#2a2a2a" color="#2a2a2a" text-anchor="middle">Stage III</text><path d="M673.2 340.4V344.6" stroke="#333" stroke-width=".8"/><text x="678.2" y="355.3" font-size="7.7" fill="#2a2a2a" color="#2a2a2a" text-anchor="middle">Stage IV</text><text transform="translate(535 270.8) rotate(-90) scale(.9 1)" font-size="10.5" fill="#222" color="#222" text-anchor="middle" y="3.7">Expression</text><text transform="translate(624.4 192) scale(.86 1)" font-size="11.3" font-style="italic" fill="#1a1a1a" color="#1a1a1a" text-anchor="middle">LIFR</text>
<g stroke="#ECECEC" stroke-width=".6"><path d="M41.5 503.8H176.5"/><path d="M41.5 472.6H176.5"/><path d="M41.5 441.4H176.5"/><path d="M41.5 410.2H176.5"/></g><g stroke="#E8E8E8" stroke-width=".65"><path d="M41.5 519.4H176.5"/><path d="M41.5 488.2H176.5"/><path d="M41.5 457H176.5"/><path d="M41.5 425.8H176.5"/><path d="M41.5 394.6H176.5"/><path d="M60.8 384V523.3"/><path d="M92.9 384V523.3"/><path d="M125.1 384V523.3"/><path d="M157.2 384V523.3"/></g><path d="M60.8 509.6l.5-1l1.1-1l2.2-3l2.8-4.6l.9-7.6l-.7-6.6l-.7-2l-.6-1l-3.1-3.5l-2.3-4l-0-34.4l-.1-.5l0 0l-.1 .5l-0 34.4l-2.3 4l-3.1 3.5l-.6 1l-.7 2l-.7 6.6l.9 7.6l2.8 4.6l2.2 3l1.1 1l.5 1z" fill="#E87068" stroke="#333" stroke-width=".55"/><path d="M64 486h0m-2 4h0m3 .5h0m-3 .5h0m3.5 5h0m-3.5 1.5h0m1.5 .5h0m-7.5 6.5h0m6.5 6h0" stroke="#000" stroke-opacity=".8" stroke-width="1.7" stroke-linecap="round" fill="none"/><path d="M57.5 446h0m-.5 21.5h0m4 20.5h0m4 9h0m-6.5 .5h0m6.5 .5h0m-6.5 10h0" stroke="#000" stroke-opacity=".8" stroke-width="1.7" stroke-linecap="round" fill="none"/><path d="M61 441h0m0 1h0m-.5 4h0m.5 1h0m0 3h0m0 1h0m0 6h0m-.5 3h0m0 1h0m.5 1h0" stroke="#111" stroke-opacity=".8" stroke-width="1.5" stroke-linecap="round" fill="none"/><path d="M60.8 464.4V485.8M60.8 500V509.6" stroke="#333" stroke-width=".5"/><rect x="48.5" y="485.8" width="24.6" height="14.2" fill="#E87068" stroke="#000" stroke-opacity=".45" stroke-width=".6"/><path d="M48.5 492.5H73.1" stroke="#000" stroke-opacity=".5" stroke-width="1.1"/><path d="M92.9 516.7l6.3-.5l2-1.5l2.4-2.5l1-1.5l1-2l-.5-1l-2.3-3.5l-3.4-7l-2.2-3.5l-1.5-3l-.6-1.5l-1.8-7l-.2-3.5l0-63.4l-.2-.5l0 0l-.2 .5l0 63.4l-.2 3.5l-1.8 7l-.6 1.5l-1.5 3l-2.2 3.5l-3.4 7l-2.3 3.5l-.5 1l1 2l1 1.5l2.4 2.5l2 1.5l6.3 .5z" fill="#7AA82F" stroke="#333" stroke-width=".55"/><path d="M95.5 416h0m-2.5 10h0m3 23h0m1 17.5h0m-8 20h0m5.5 10h0m1 12h0m-4.5 1.5h0m8 0h0m-3 .5h0m-7 2.5h0" stroke="#000" stroke-opacity=".8" stroke-width="1.7" stroke-linecap="round" fill="none"/><path d="M88.5 422.5h0m9 33.5h0m-7 19h0m2.5 0h0m4 35h0m-9 2.5h0m8.5 1.5h0m-9 .5h0m10 1h0m-7.5 2h0" stroke="#000" stroke-opacity=".8" stroke-width="1.7" stroke-linecap="round" fill="none"/><path d="M93 415h0m0 2h0m0 1h0m0 2h0m0 2h0m0 1h0m0 4h0m0 2h0m0 1h0m0 1h0m0 1h0m0 1h0m0 2h0m0 4h0m0 1h0m0 1h0m0 2h0m0 3h0m0 4h0m0 3h0m0 1h0m0 5h0m-.5 1h0m.5 1h0m0 1h0m0 2h0m0 7h0m0 3h0m0 3h0m0 1h0" stroke="#111" stroke-opacity=".8" stroke-width="1.5" stroke-linecap="round" fill="none"/><path d="M92.9 479.9V497.1M92.9 508.6V516.7" stroke="#333" stroke-width=".5"/><rect x="80.6" y="497.1" width="24.6" height="11.5" fill="#7AA82F" stroke="#000" stroke-opacity=".45" stroke-width=".6"/><path d="M80.6 504.6H105.2" stroke="#000" stroke-opacity=".5" stroke-width="1.1"/><path d="M125.1 516.7l6.8-.5l2.3-1.5l1.9-2l-2.5-16.2l-2.6-5.1l-1.8-6.1l-3.6-4l-.3-5.1l0-38.9l-.2-.5l0 0l-.2 .5l0 38.9l-.3 5.1l-3.6 4l-1.8 6.1l-2.6 5.1l-2.5 16.2l1.9 2l2.3 1.5l6.8 .5z" fill="#1CB4B9" stroke="#333" stroke-width=".55"/><path d="M122.5 467.5h0m5.5 10h0m1 2.5h0m-5.5 2h0m1.5 2.5h0m1.5 3.5h0m0 2.5h0m-6.5 .5h0m5.5 2.5h0m0 2h0m-.5 18.5h0m2 2h0m-8 .5h0m11.5 1h0" stroke="#000" stroke-opacity=".8" stroke-width="1.7" stroke-linecap="round" fill="none"/><path d="M123 474h0m6.5 11.5h0m-2 1.5h0m-1 3h0m.5 5.5h0m.5 17h0m2.5 2.5h0m-7.5 .5h0m2 .5h0m4 0h0m2.5 0h0m-3.5 1h0m1.5 0h0" stroke="#000" stroke-opacity=".8" stroke-width="1.7" stroke-linecap="round" fill="none"/><path d="M125 437.5h0m0 2.5h0m0 5h0m0 1h0m0 1h0m0 4h0m0 4h0m0 1h0m0 1h0m0 2h0m0 4h0m0 5h0" stroke="#111" stroke-opacity=".8" stroke-width="1.5" stroke-linecap="round" fill="none"/><path d="M125.1 472.2V496.5M125.1 512.7V516.7" stroke="#333" stroke-width=".5"/><rect x="112.8" y="496.5" width="24.6" height="16.2" fill="#1CB4B9" stroke="#000" stroke-opacity=".45" stroke-width=".6"/><path d="M112.8 505.2H137.4" stroke="#000" stroke-opacity=".5" stroke-width="1.1"/><path d="M157.2 516.6l5.5-.5l-.9-1.5l-0-.5l.7-3.1l1.5-1l4.7-2.6l2.3-2.1l.7-1l-1-1l-2.5-2.1l-5.3-3.1l-.8-2.6l-5-.5l0 0l-5 .5l-.8 2.6l-5.3 3.1l-2.5 2.1l-1 1l.7 1l2.3 2.1l4.7 2.6l1.5 1l.7 3.1l-0 .5l-.9 1.5l5.5 .5z" fill="#A07FBD" stroke="#333" stroke-width=".55"/><path d="M157.2 495V500.9M157.2 507.4V516.6" stroke="#333" stroke-width=".5"/><rect x="144.9" y="500.9" width="24.6" height="6.5" fill="#A07FBD" stroke="#000" stroke-opacity=".45" stroke-width=".6"/><path d="M144.9 504.4H169.5" stroke="#000" stroke-opacity=".5" stroke-width="1.1"/><rect x="41.5" y="384" width="135" height="139.3" fill="none" stroke="#555" stroke-width="1"/><path d="M41.5 383.5V523.8" stroke="#333" stroke-width="1"/><clipPath id="c10"><rect x="41.5" y="383.4" width="135" height="139.9"/></clipPath><g clip-path="url(#c10)"><path d="M60.8 413.6V410.6H92.9V413.6" fill="none" stroke="#222" stroke-width=".75"/><text x="76.9" y="408.7" font-size="7" fill="#333" color="#333" text-anchor="middle">0.076</text><path d="M92.9 403.5V400.5H125.1V403.5" fill="none" stroke="#222" stroke-width=".75"/><text x="109" y="398.6" font-size="7" fill="#333" color="#333" text-anchor="middle">0.041</text><path d="M125.1 393.2V390.2H157.2V393.2" fill="none" stroke="#222" stroke-width=".75"/><text x="141.1" y="389.3" font-size="7" fill="#333" color="#333" text-anchor="middle">0.11</text></g><path d="M37.3 519.4H41.5" stroke="#333" stroke-width=".8"/><text x="33.2" y="523" font-size="10.2" fill="#1a1a1a" color="#1a1a1a" text-anchor="end">0.0</text><path d="M37.3 488.2H41.5" stroke="#333" stroke-width=".8"/><text x="33.2" y="491.8" font-size="10.2" fill="#1a1a1a" color="#1a1a1a" text-anchor="end">2.5</text><path d="M37.3 457H41.5" stroke="#333" stroke-width=".8"/><text x="33.2" y="460.6" font-size="10.2" fill="#1a1a1a" color="#1a1a1a" text-anchor="end">5.0</text><path d="M37.3 425.8H41.5" stroke="#333" stroke-width=".8"/><text x="33.2" y="429.4" font-size="10.2" fill="#1a1a1a" color="#1a1a1a" text-anchor="end">7.5</text><path d="M37.3 394.6H41.5" stroke="#333" stroke-width=".8"/><text x="33.2" y="398.2" font-size="10.2" fill="#1a1a1a" color="#1a1a1a" text-anchor="end">10.0</text><path d="M60.8 523.3V527.5" stroke="#333" stroke-width=".8"/><text x="57.6" y="538.2" font-size="7.7" fill="#2a2a2a" color="#2a2a2a" text-anchor="middle">Stage I</text><path d="M92.9 523.3V527.5" stroke="#333" stroke-width=".8"/><text x="91.5" y="538.2" font-size="7.7" fill="#2a2a2a" color="#2a2a2a" text-anchor="middle">Stage II</text><path d="M125.1 523.3V527.5" stroke="#333" stroke-width=".8"/><text x="126.2" y="538.2" font-size="7.7" fill="#2a2a2a" color="#2a2a2a" text-anchor="middle">Stage III</text><path d="M157.2 523.3V527.5" stroke="#333" stroke-width=".8"/><text x="162.2" y="538.2" font-size="7.7" fill="#2a2a2a" color="#2a2a2a" text-anchor="middle">Stage IV</text><text transform="translate(5 453.6) rotate(-90) scale(.9 1)" font-size="10.5" fill="#222" color="#222" text-anchor="middle" y="3.7">Expression</text><text transform="translate(108.4 374.9) scale(.86 1)" font-size="11.3" font-style="italic" fill="#1a1a1a" color="#1a1a1a" text-anchor="middle">MLN</text>
<g stroke="#ECECEC" stroke-width=".6"><path d="M213.5 505H348.5"/><path d="M213.5 469.4H348.5"/><path d="M213.5 433.8H348.5"/><path d="M213.5 398.2H348.5"/></g><g stroke="#E8E8E8" stroke-width=".65"><path d="M213.5 522.8H348.5"/><path d="M213.5 487.2H348.5"/><path d="M213.5 451.6H348.5"/><path d="M213.5 416H348.5"/><path d="M232.8 384V523.3"/><path d="M264.9 384V523.3"/><path d="M297.1 384V523.3"/><path d="M329.2 384V523.3"/></g><path d="M232.8 514.3l.2-1l1.4-2l1-2l2-4.5l1.3-3.5l1.8-11.6l.9-14.1l-.7-18.2l-.7-6.6l-2-10.1l-4.9-16.7l-.2-2.5l0 0l-.2 2.5l-4.9 16.7l-2 10.1l-.7 6.6l-.7 18.2l.9 14.1l1.8 11.6l1.3 3.5l2 4.5l1 2l1.4 2l.2 1z" fill="#E87068" stroke="#333" stroke-width=".55"/><path d="M227.5 424.5h0m6.5 0h0m3 0h0m-10 7h0m6 1.5h0m-5.5 2h0m5.5 0h0m3.5 0h0m-4.5 4.5h0m-3 1h0m1.5 0h0m2 1.5h0m2 2h0m-2.5 .5h0m0 1.5h0m0 2h0m-3 .5h0m-2 1.5h0m-.5 .5h0m12 0h0m-1.5 .5h0m-2.5 1.5h0m3.5 .5h0m-5 1.5h0m5.5 0h0m-6 4h0m4.5 0h0m-9 .5h0m4 .5h0m6 0h0m-8.5 1h0m2.5 .5h0m4 0h0m-8 .5h0m7 1h0m-7.5 .5h0m11.5 0h0m-3 1h0m.5 .5h0m-8 1h0m8 0h0m-6.5 .5h0m5.5 2.5h0m-5.5 .5h0m9 .5h0m-1.5 2h0m-10 .5h0m5.5 0h0m-2 1h0m5.5 .5h0m-10 .5h0m8.5 0h0m3 0h0m-2.5 .5h0m-4 .5h0m-5 .5h0m2 1h0m2.5 0h0m-.5 .5h0m8 1.5h0m-1 2h0m-6.5 3.5h0m7.5 0h0m-11 2.5h0m8.5 0h0m-5.5 .5h0m6.5 0h0m-7.5 1.5h0m2 .5h0m7 0h0m-4.5 1.5h0m-5 1.5h0m2 0h0m5.5 1.5h0m-5 .5h0m-2.5 .5h0m-2.5 1.5h0m6.5 0h0m1 2h0m3.5 .5h0m-8 1.5h0m2.5 0h0m.5 2.5h0m-4 3.5h0m3.5 .5h0m.5 2.5h0m2.5 0h0m-5.5 1.5h0m.5 0h0m8.5 0h0m-5 2h0m4.5 1h0" stroke="#000" stroke-opacity=".8" stroke-width="1.7" stroke-linecap="round" fill="none"/><path d="M231.5 426.5h0m-1 1.5h0m-4 1h0m.5 6.5h0m11 2h0m-5.5 3h0m3 .5h0m-4.5 .5h0m1 .5h0m6 2.5h0m.5 .5h0m-8 1h0m4.5 0h0m-8.5 .5h0m10.5 .5h0m-1 .5h0m2 .5h0m-10 2h0m5.5 0h0m3 0h0m-5 2h0m4 .5h0m1 0h0m-4.5 4.5h0m2.5 0h0m-7 1h0m-1 .5h0m12.5 .5h0m-4.5 .5h0m1.5 0h0m-1.5 .5h0m1.5 1h0m-1 .5h0m-5 .5h0m-2.5 .5h0m3.5 .5h0m-.5 .5h0m4.5 .5h0m-5 .5h0m-3.5 1h0m2 0h0m6.5 2h0m2 0h0m-2 .5h0m3.5 3h0m-9 .5h0m3.5 0h0m2.5 0h0m-7.5 1h0m10.5 1.5h0m0 .5h0m-11 1h0m9.5 .5h0m-1.5 1h0m-3 1h0m4.5 0h0m2 1h0m-3.5 1h0m-3 .5h0m4 5.5h0m-8.5 1h0m.5 1h0m10.5 0h0m-12.5 1.5h0m11.5 .5h0m-5.5 .5h0m2.5 .5h0m-5.5 1h0m3 1h0m-5.5 1h0m5.5 .5h0m3.5 1.5h0m-6.5 2.5h0m6.5 0h0m-9 .5h0m9.5 1.5h0m2.5 0h0m-12.5 .5h0m.5 .5h0m3.5 1h0m7 .5h0m-2.5 .5h0m2 1h0m-4 .5h0m1 .5h0m-6 .5h0m7 .5h0m0 1.5h0m-6 1.5h0m10 1.5h0m-12.5 .5h0m4.5 1h0m7 0h0" stroke="#000" stroke-opacity=".8" stroke-width="1.7" stroke-linecap="round" fill="none"/><path d="M232.8 421.3V457.3M232.8 489.7V514.3" stroke="#333" stroke-width=".5"/><rect x="220.5" y="457.3" width="24.6" height="32.4" fill="#E87068" stroke="#000" stroke-opacity=".45" stroke-width=".6"/><path d="M220.5 475.5H245.1" stroke="#000" stroke-opacity=".5" stroke-width="1.1"/><path d="M264.9 516.4l6.2-.5l2.1-2l2-2.5l2.8-4.5l1.8-7.1l-1.3-5.6l-4.8-10.6l-.9-2.5l-1.3-4l-2.6-10.1l-1.8-12.1l-1.5-13.6l-.4-7.1l-0-6.6l-.1-.5l0 0l-.1 .5l-0 6.6l-.4 7.1l-1.5 13.6l-1.8 12.1l-2.6 10.1l-1.3 4l-.9 2.5l-4.8 10.6l-1.3 5.6l1.8 7.1l2.8 4.5l2 2.5l2.1 2l6.2 .5z" fill="#7AA82F" stroke="#333" stroke-width=".55"/><path d="M270 439h0m-9.5 1h0m3 2h0m-3.5 2h0m.5 4h0m8.5 .5h0m-2 5.5h0m-8 1h0m1.5 0h0m10.5 1h0m-2 1.5h0m-8.5 2h0m5 .5h0m5 1.5h0m-12 .5h0m10.5 0h0m.5 .5h0m-8.5 .5h0m8 0h0m-6 2.5h0m8 0h0m-3 .5h0m2.5 .5h0m-3.5 1h0m-4.5 1h0m-1.5 1.5h0m10.5 1.5h0m-5.5 1h0m-1.5 1h0m-6 2h0m1 .5h0m11 0h0m-2 .5h0m-9 1h0m.5 0h0m4.5 0h0m-4.5 .5h0m1 0h0m2.5 2h0m-4 .5h0m6 1h0m5 1.5h0m-6.5 21h0m7 0h0m-10 1h0m10 0h0m-9 .5h0m9 .5h0m0 .5h0m-3.5 .5h0m-1 1h0m-1 .5h0m1 0h0m3.5 0h0m-7 .5h0m-3.5 .5h0m10 0h0m-6.5 .5h0m5 0h0m-5.5 .5h0m0 1h0m.5 .5h0m5.5 1.5h0m1.5 .5h0m-3.5 .5h0m2 0h0m1 0h0m-4 .5h0m.5 0h0m4.5 0h0m-7.5 .5h0m2 0h0m-4.5 .5h0m.5 0h0m1.5 0h0m1.5 0h0m2.5 .5h0" stroke="#000" stroke-opacity=".8" stroke-width="1.7" stroke-linecap="round" fill="none"/><path d="M271 430h0m-10 2.5h0m7 7.5h0m-4 6.5h0m-5 3h0m8.5 0h0m3.5 0h0m-11 4h0m0 1h0m-1 .5h0m.5 1h0m2 1.5h0m2 .5h0m.5 0h0m-4.5 1h0m6.5 0h0m4 3h0m-3.5 2h0m2.5 0h0m.5 .5h0m-10.5 .5h0m7.5 1.5h0m4 0h0m-3 1h0m.5 4h0m-4.5 1h0m2.5 0h0m-5.5 1h0m6.5 1.5h0m.5 1.5h0m-6 1h0m1 0h0m-3.5 .5h0m2.5 1.5h0m4 1h0m4.5 0h0m-10 1.5h0m-1 1h0m1 21h0m.5 0h0m1.5 0h0m-2.5 .5h0m3 0h0m.5 0h0m-3 .5h0m4 .5h0m3.5 0h0m2.5 0h0m-9 .5h0m1 0h0m1.5 1.5h0m2 1h0m-1 1h0m1.5 0h0m5 0h0m-2.5 1h0m-5 1h0m4.5 .5h0m1 0h0m1.5 0h0m-.5 .5h0m-8 .5h0m4 .5h0m4 0h0m-4.5 .5h0m5.5 0h0m-9 1h0m2.5 0h0m6 0h0m-3.5 .5h0" stroke="#000" stroke-opacity=".8" stroke-width="1.7" stroke-linecap="round" fill="none"/><path d="M265 427h0m0 .5h0m0 1.5h0m0 8h0m0 3h0m0 1h0m0 3h0m0 3h0m0 3h0" stroke="#111" stroke-opacity=".8" stroke-width="1.5" stroke-linecap="round" fill="none"/><path d="M264.9 452.3V483.3M264.9 503.9V516.4" stroke="#333" stroke-width=".5"/><rect x="252.6" y="483.3" width="24.6" height="20.6" fill="#7AA82F" stroke="#000" stroke-opacity=".45" stroke-width=".6"/><path d="M252.6 496.5H277.2" stroke="#000" stroke-opacity=".5" stroke-width="1.1"/><path d="M297.1 516l7.2-.5l2-1.5l1.9-2l1.5-2l1.7-4.5l.8-3l-1.8-6.6l-4.4-11.1l-6-29.7l-2-14.1l-.9-23.2l-.3 0l-.9 23.2l-2 14.1l-6 29.7l-4.4 11.1l-1.8 6.6l.8 3l1.7 4.5l1.5 2l1.9 2l2 1.5l7.2 .5z" fill="#1CB4B9" stroke="#333" stroke-width=".55"/><linearGradient id="m11_2_0" gradientUnits="userSpaceOnUse" x1="0" y1="504.5" x2="0" y2="517.5"><stop offset="0.038" stop-opacity="0.23"/><stop offset="0.192" stop-opacity="0.23"/><stop offset="0.346" stop-opacity="0.23"/><stop offset="0.500" stop-opacity="0.23"/><stop offset="0.654" stop-opacity="0.23"/><stop offset="0.808" stop-opacity="0.23"/><stop offset="0.962" stop-opacity="0.23"/><stop offset="0.962" stop-opacity="0.23"/></linearGradient><path d="M303.3 504.5 303.3 505 303.3 506 303.3 507 303.3 508 303.3 509 303.3 510 303.3 511 303.3 512 303.3 513 303.3 514 303.3 515 303.3 516 303.3 517 303.3 517.5 290.9 517.5 290.9 517 290.9 516 290.9 515 290.9 514 290.9 513 290.9 512 290.9 511 290.9 510 290.9 509 290.9 508 290.9 507 290.9 506 290.9 505 290.9 504.5z" fill="url(#m11_2_0)"/><path d="M292 419.5h0m2.5 .5h0m2.5 2.5h0m2 7h0m-2.5 1h0m0 3.5h0m7.5 3.5h0m-10.5 1h0m-2 .5h0m10.5 .5h0m-7 .5h0m1.5 1h0m-3.5 1h0m10 0h0m-12.5 1.5h0m3 0h0m-1 .5h0m11 3h0m-5.5 .5h0m5.5 0h0m-5 .5h0m-1 .5h0m6 0h0m-7.5 .5h0m1 0h0m1.5 .5h0m.5 1h0m5 0h0m-12.5 1h0m-.5 1h0m1 0h0m3 1h0m4 .5h0m-3 .5h0m5.5 0h0m0 .5h0m-11 .5h0m.5 0h0m12.5 0h0m0 .5h0m-11 .5h0m5 0h0m-3 1h0m.5 0h0m4.5 0h0m0 .5h0m-4.5 .5h0m9 0h0m-8 .5h0m.5 0h0m4 0h0m0 1h0m-4.5 1h0m6.5 0h0m.5 0h0m-10.5 .5h0m5.5 .5h0m4 0h0m-10.5 1h0m5.5 0h0m2.5 .5h0m-7 .5h0m1.5 0h0m4.5 0h0m-8.5 .5h0m4.5 .5h0m-1.5 .5h0m5 0h0m1.5 0h0m0 .5h0m1.5 0h0m.5 .5h0m2 .5h0m-12 .5h0m4 .5h0m6.5 .5h0m-5 .5h0m1.5 0h0m2.5 1h0m-8.5 .5h0m3 1h0m3.5 .5h0m3 0h0m-8.5 .5h0m2 0h0m3 .5h0m4.5 .5h0m-9.5 .5h0m3.5 0h0m-2 .5h0m.5 0h0m3.5 0h0m-7.5 1h0m10.5 0h0m-7.5 .5h0m1 0h0m0 .5h0m-.5 1h0m1 0h0m-1 .5h0m5.5 .5h0m-2.5 .5h0m2.5 0h0m0 .5h0m-9 .5h0m2 0h0m-1 .5h0m0 .5h0m6.5 0h0m1 0h0m2 0h0m-8.5 .5h0m2.5 0h0m2 0h0m3 0h0m-8.5 .5h0m7 .5h0m4.5 0h0m-12 .5h0m.5 0h0m7 0h0m4.5 0h0m-10 .5h0m4.5 0h0m4 0h0m-6.5 .5h0m5 0h0m2 0h0m-4.5 .5h0m-.5 .5h0m3 .5h0m-4.5 19h0m-4.5 .5h0m5 0h0m2 0h0m2 0h0m2 0h0m-11.5 .5h0m2.5 0h0m1.5 0h0m6.5 0h0m-11 .5h0m3.5 0h0m.5 0h0m4 0h0m1.5 0h0m-7.5 .5h0m1 0h0m7.5 0h0m-9 .5h0m2 0h0m.5 0h0m5 0h0m3 0h0m.5 0h0m-12.5 .5h0m2.5 0h0m2.5 0h0m4.5 0h0m-9.5 .5h0m6 0h0m4.5 0h0m.5 0h0m1.5 0h0m-10 .5h0m4 0h0m.5 0h0m2.5 0h0m-4.5 .5h0m1 0h0m1 0h0m2 0h0m1 0h0m.5 0h0m.5 0h0m-2 .5h0m2 0h0m1 0h0m-10 .5h0m2 0h0m4 0h0m2 0h0m1 0h0m-9.5 .5h0m2.5 0h0m.5 0h0m-3.5 .5h0m2 0h0m1.5 0h0m1.5 0h0m.5 0h0m1 0h0m-8 .5h0m8 0h0m3.5 0h0m-9 .5h0m1 0h0m2.5 0h0m7 0h0m-9.5 .5h0m.5 0h0m3.5 0h0m.5 0h0m2.5 0h0m.5 0h0m-10 .5h0m.5 0h0m1 0h0m1 0h0m2.5 0h0m5 0h0m1 0h0m-11.5 .5h0m1.5 0h0m1 0h0m3 0h0m2 0h0m1.5 0h0m3.5 0h0m-9.5 .5h0m2.5 0h0m4.5 0h0m-7 .5h0m2.5 0h0m.5 0h0m2.5 0h0m1 0h0m-9.5 .5h0m1 0h0m.5 0h0m.5 0h0m.5 0h0m.5 0h0m1 0h0m1 0h0m2 0h0m2.5 0h0m-9 .5h0m1.5 .5h0m4.5 0h0m1 0h0m1 0h0m1 0h0m1 0h0m-8 .5h0m.5 0h0m5 0h0m4 0h0m-12 .5h0m4.5 0h0m4 0h0m3 0h0m1 0h0m-8.5 .5h0m8 0h0" stroke="#000" stroke-opacity=".8" stroke-width="1.7" stroke-linecap="round" fill="none"/><path d="M300.5 430h0m-9.5 2h0m8 6h0m-3 1.5h0m-5.5 1h0m12.5 .5h0m-9.5 1h0m1 .5h0m4.5 0h0m-4 1.5h0m-3 .5h0m4.5 0h0m2 0h0m2.5 0h0m-4.5 .5h0m-1 .5h0m-2.5 1.5h0m1.5 0h0m1 0h0m6.5 0h0m-7 .5h0m7 .5h0m-9 .5h0m2 0h0m-1.5 .5h0m8.5 .5h0m-6 1.5h0m.5 1h0m-5.5 .5h0m7 0h0m1 .5h0m-1 1.5h0m-3.5 1.5h0m7.5 0h0m-10.5 .5h0m3 0h0m7.5 0h0m-9.5 .5h0m-1 .5h0m1.5 0h0m4 0h0m3.5 .5h0m-9 1h0m11.5 0h0m-11 .5h0m5.5 0h0m6.5 1h0m-3.5 1h0m-5.5 .5h0m-1.5 2h0m-1.5 .5h0m9 0h0m-7.5 1.5h0m-1 .5h0m1.5 0h0m.5 .5h0m2 0h0m3 0h0m2 0h0m2 0h0m-13 .5h0m5 0h0m2.5 0h0m3.5 0h0m.5 0h0m-9.5 1h0m2.5 0h0m.5 .5h0m3 0h0m-1.5 .5h0m4 0h0m-9 .5h0m1 0h0m9.5 .5h0m-3.5 .5h0m1.5 0h0m-7.5 .5h0m2 0h0m6 0h0m-8 .5h0m6.5 0h0m-6 .5h0m6 0h0m-7 .5h0m1 0h0m-1 .5h0m11 0h0m-4.5 .5h0m2.5 0h0m-11.5 .5h0m7.5 0h0m2.5 .5h0m-5.5 .5h0m3 0h0m-5 .5h0m3.5 0h0m-1.5 .5h0m-3 .5h0m5 0h0m2 0h0m.5 0h0m5 0h0m-13 .5h0m0 .5h0m5.5 0h0m6 0h0m-11 .5h0m6 0h0m.5 0h0m2.5 0h0m1.5 0h0m-6.5 .5h0m7.5 0h0m-10.5 .5h0m2.5 0h0m4 0h0m-.5 .5h0m3 0h0m-8 .5h0m8 0h0m-9 1h0m3.5 0h0m-5 .5h0m4 .5h0m4 .5h0m.5 0h0m-1 1h0m-3 .5h0m1 0h0m1.5 0h0m2 0h0m-9.5 .5h0m13 0h0m-12.5 .5h0m10.5 0h0m-10 19h0m4 0h0m1 0h0m.5 0h0m-3.5 .5h0m4.5 0h0m-3.5 .5h0m8.5 0h0m-12 .5h0m.5 0h0m6 0h0m2.5 0h0m1 0h0m-10.5 .5h0m5.5 0h0m7 0h0m-10.5 .5h0m4 0h0m5.5 0h0m1 0h0m-11 .5h0m1.5 0h0m1.5 0h0m6.5 0h0m.5 0h0m-7 .5h0m4 0h0m1 0h0m1 0h0m1.5 0h0m-11 .5h0m4 0h0m2 0h0m1.5 0h0m1.5 0h0m-9 .5h0m2.5 0h0m.5 0h0m2 0h0m-5.5 .5h0m1.5 0h0m2 0h0m.5 0h0m3 0h0m3 0h0m1 0h0m1 0h0m-11 .5h0m1 0h0m.5 0h0m1 0h0m1 0h0m.5 0h0m1.5 0h0m3 0h0m1 0h0m-6 .5h0m.5 0h0m1 0h0m3.5 0h0m-4.5 .5h0m1.5 0h0m1.5 0h0m2.5 0h0m1.5 0h0m-10.5 .5h0m.5 0h0m.5 0h0m1 0h0m0 .5h0m2 0h0m3 0h0m-5.5 .5h0m6.5 0h0m.5 0h0m.5 0h0m1.5 0h0m-12 .5h0m8 0h0m4 0h0m-10.5 .5h0m2 0h0m.5 0h0m1 0h0m1 0h0m2 0h0m4 0h0m-10.5 .5h0m1 0h0m2 0h0m3.5 0h0m.5 0h0m1 0h0m.5 0h0m2 0h0m-11.5 .5h0m.5 0h0m1 0h0m1 0h0m1.5 0h0m.5 0h0m2 0h0m2.5 0h0m1 0h0m-6 .5h0m2 0h0m-6.5 .5h0m4 0h0m1 0h0m3.5 0h0m2.5 0h0m1.5 0h0m-9.5 .5h0m1 0h0m5.5 0h0m1.5 0h0m.5 0h0m-11 .5h0m3.5 0h0m.5 0h0m7 0h0m-7.5 .5h0m5 0h0" stroke="#000" stroke-opacity=".8" stroke-width="1.7" stroke-linecap="round" fill="none"/><path d="M297 418.5h0m.5 2.5h0m-.5 6h0m0 2h0m0 2h0m0 7h0m0 1h0m0 1h0m0 1h0m0 1h0m0 4h0m.5 7h0" stroke="#111" stroke-opacity=".8" stroke-width="1.5" stroke-linecap="round" fill="none"/><path d="M297.1 453.7V484.7M297.1 505.4V516" stroke="#333" stroke-width=".5"/><rect x="284.8" y="484.7" width="24.6" height="20.6" fill="#1CB4B9" stroke="#000" stroke-opacity=".45" stroke-width=".6"/><path d="M284.8 497.2H309.4" stroke="#000" stroke-opacity=".5" stroke-width="1.1"/><path d="M329.2 515l3.1-.5l1.4-4.5l2.4-12.1l1.1-9.6l.5-6.1l-0-17.2l-3.5-14.6l-4.5-20.2l-.3-7.6l-0-8.1l-.3 0l-0 8.1l-.3 7.6l-4.5 20.2l-3.5 14.6l-0 17.2l.5 6.1l1.1 9.6l2.4 12.1l1.4 4.5l3.1 .5z" fill="#A07FBD" stroke="#333" stroke-width=".55"/><path d="M333.5 416.5h0m-10 3.5h0m-.5 2h0m1.5 5h0m11 6h0m-12.5 1.5h0m6 .5h0m5.5 0h0m-6.5 .5h0m7.5 0h0m-7.5 6.5h0m5.5 .5h0m-2 .5h0m-6.5 1h0m3.5 .5h0m1 0h0m-6.5 .5h0m2.5 1.5h0m3 1h0m7 .5h0m-4 1h0m-2 1h0m6 0h0m-5.5 2h0m-5 2.5h0m5 .5h0m-1.5 .5h0m-5 1h0m5.5 .5h0m.5 0h0m-6.5 .5h0m1 0h0m8 2.5h0m-8 1h0m7.5 0h0m-7.5 3h0m4 1h0m5.5 0h0m-6.5 .5h0m1.5 1h0m7 0h0m-5.5 1.5h0m-5 1h0m4.5 0h0m3.5 0h0m-8 .5h0m4.5 2h0m5 0h0m1 0h0m-9 .5h0m-1 .5h0m9.5 .5h0m.5 1.5h0m-10 1h0m-2 2.5h0m5 0h0m.5 0h0m6 1h0m-12 1h0m11.5 0h0m0 .5h0m-3.5 .5h0m2 .5h0m-10 1h0m4.5 1.5h0m1 .5h0m4 .5h0m-9.5 1h0m11.5 1h0m-4 1.5h0m4 2h0m.5 0h0m-9.5 .5h0m9 0h0m1 1h0m-11.5 1h0m6 .5h0m4 2h0m-9 1h0m3.5 0h0m2 .5h0m.5 .5h0m-3.5 .5h0m-3 .5h0m5 .5h0m-2.5 .5h0m1 .5h0m3.5 .5h0m-.5 2h0m1.5 .5h0m1.5 1h0m-7 .5h0m4 2h0m-5 3.5h0m2 0h0m2 0h0m-6 1h0m4 1h0m1 1.5h0m-6.5 .5h0m4.5 0h0m-.5 .5h0m8 0h0" stroke="#000" stroke-opacity=".8" stroke-width="1.7" stroke-linecap="round" fill="none"/><path d="M331 421.5h0m4.5 .5h0m-8.5 2.5h0m5 0h0m-.5 .5h0m-3.5 2h0m.5 0h0m1 2.5h0m-6.5 .5h0m10.5 8.5h0m-8 1h0m.5 0h0m7 0h0m-4.5 5h0m-2.5 1h0m8 .5h0m-2.5 .5h0m-3 1.5h0m-2 .5h0m2 0h0m-2.5 .5h0m-.5 1h0m2 0h0m8 .5h0m-10.5 1h0m8 0h0m-2 .5h0m4 0h0m-.5 1.5h0m-6.5 1h0m-5 1h0m8 2h0m4.5 2h0m-5 1h0m-6 .5h0m8.5 0h0m-4 4h0m6.5 .5h0m-11.5 .5h0m10 0h0m-1 2.5h0m.5 1.5h0m-.5 .5h0m-6 1.5h0m.5 .5h0m2 .5h0m2.5 0h0m-4 1.5h0m7.5 0h0m-6.5 1.5h0m-2.5 .5h0m6.5 0h0m1 0h0m0 .5h0m-6.5 1h0m4.5 .5h0m-6 1h0m1 1.5h0m-3 .5h0m10 0h0m-7 .5h0m3.5 0h0m1 .5h0m-7.5 .5h0m7 .5h0m-7.5 1.5h0m3 .5h0m-3.5 .5h0m2 0h0m10.5 3h0m-3 .5h0m-6 .5h0m-3 1.5h0m1.5 1h0m0 .5h0m-.5 .5h0m.5 1h0m5.5 .5h0m-2 2h0m7 1h0m-10 3h0m9 0h0m-2 1.5h0m-6 2h0m8 1h0m-9.5 2.5h0m-.5 .5h0m1.5 0h0m1.5 0h0m-4 1h0m8.5 2h0m1 1h0m-1.5 .5h0m1 .5h0m1.5 0h0" stroke="#000" stroke-opacity=".8" stroke-width="1.7" stroke-linecap="round" fill="none"/><path d="M329 415h0" stroke="#111" stroke-opacity=".8" stroke-width="1.5" stroke-linecap="round" fill="none"/><path d="M329.2 416V465.1M329.2 497.9V515" stroke="#333" stroke-width=".5"/><rect x="316.9" y="465.1" width="24.6" height="32.8" fill="#A07FBD" stroke="#000" stroke-opacity=".45" stroke-width=".6"/><path d="M316.9 482.6H341.5" stroke="#000" stroke-opacity=".5" stroke-width="1.1"/><rect x="213.5" y="384" width="135" height="139.3" fill="none" stroke="#555" stroke-width="1"/><path d="M213.5 383.5V523.8" stroke="#333" stroke-width="1"/><clipPath id="c11"><rect x="213.5" y="383.4" width="135" height="139.9"/></clipPath><g clip-path="url(#c11)"><path d="M232.8 413.6V410.6H264.9V413.6" fill="none" stroke="#222" stroke-width=".75"/><text x="248.9" y="408.7" font-size="7" fill="#333" color="#333" text-anchor="middle">P&lt;2.22e−16</text><path d="M264.9 403.5V400.5H297.1V403.5" fill="none" stroke="#222" stroke-width=".75"/><text x="281" y="398.6" font-size="7" fill="#333" color="#333" text-anchor="middle">0.51</text><path d="M297.1 393.2V390.2H329.2V393.2" fill="none" stroke="#222" stroke-width=".75"/><text x="313.1" y="389.3" font-size="7" fill="#333" color="#333" text-anchor="middle">P&lt;2.22e−16</text></g><path d="M209.3 522.8H213.5" stroke="#333" stroke-width=".8"/><text x="205.2" y="526.4" font-size="10.2" fill="#1a1a1a" color="#1a1a1a" text-anchor="end">0</text><path d="M209.3 487.2H213.5" stroke="#333" stroke-width=".8"/><text x="205.2" y="490.8" font-size="10.2" fill="#1a1a1a" color="#1a1a1a" text-anchor="end">1</text><path d="M209.3 451.6H213.5" stroke="#333" stroke-width=".8"/><text x="205.2" y="455.2" font-size="10.2" fill="#1a1a1a" color="#1a1a1a" text-anchor="end">2</text><path d="M209.3 416H213.5" stroke="#333" stroke-width=".8"/><text x="205.2" y="419.6" font-size="10.2" fill="#1a1a1a" color="#1a1a1a" text-anchor="end">3</text><path d="M232.8 523.3V527.5" stroke="#333" stroke-width=".8"/><text x="229.6" y="538.2" font-size="7.7" fill="#2a2a2a" color="#2a2a2a" text-anchor="middle">Stage I</text><path d="M264.9 523.3V527.5" stroke="#333" stroke-width=".8"/><text x="263.5" y="538.2" font-size="7.7" fill="#2a2a2a" color="#2a2a2a" text-anchor="middle">Stage II</text><path d="M297.1 523.3V527.5" stroke="#333" stroke-width=".8"/><text x="298.2" y="538.2" font-size="7.7" fill="#2a2a2a" color="#2a2a2a" text-anchor="middle">Stage III</text><path d="M329.2 523.3V527.5" stroke="#333" stroke-width=".8"/><text x="334.2" y="538.2" font-size="7.7" fill="#2a2a2a" color="#2a2a2a" text-anchor="middle">Stage IV</text><text transform="translate(191 453.6) rotate(-90) scale(.9 1)" font-size="10.5" fill="#222" color="#222" text-anchor="middle" y="3.7">Expression</text><text transform="translate(280.4 374.9) scale(.86 1)" font-size="11.3" font-style="italic" fill="#1a1a1a" color="#1a1a1a" text-anchor="middle">OLFM1</text>
<g stroke="#ECECEC" stroke-width=".6"><path d="M385.5 505.9H520.5"/><path d="M385.5 471.5H520.5"/><path d="M385.5 437.1H520.5"/><path d="M385.5 402.7H520.5"/></g><g stroke="#E8E8E8" stroke-width=".65"><path d="M385.5 523.1H520.5"/><path d="M385.5 488.7H520.5"/><path d="M385.5 454.3H520.5"/><path d="M385.5 419.9H520.5"/><path d="M385.5 385.5H520.5"/><path d="M404.8 384V523.3"/><path d="M436.9 384V523.3"/><path d="M469.1 384V523.3"/><path d="M501.2 384V523.3"/></g><path d="M404.8 513.1l.2-1l1.3-1.5l.6-1l4-8.1l2-12.1l.7-12.6l-1.3-15.6l-.5-3.5l-1.2-7.1l-2.5-10.1l-1.7-8.1l-1.4-5.5l-0-3.5l-.3 0l-0 3.5l-1.4 5.5l-1.7 8.1l-2.5 10.1l-1.2 7.1l-.5 3.5l-1.3 15.6l.7 12.6l2 12.1l4 8.1l.6 1l1.3 1.5l.2 1z" fill="#E87068" stroke="#333" stroke-width=".55"/><path d="M402 427.5h0m9 3.5h0m-2.5 3h0m2 1.5h0m-6 1h0m2 2h0m1 0h0m-5.5 2h0m1.5 .5h0m0 1h0m-4 .5h0m7 0h0m1.5 1h0m-6.5 1.5h0m3 .5h0m-4 .5h0m9.5 0h0m-7 1h0m0 .5h0m-4.5 .5h0m6 0h0m5 .5h0m.5 0h0m-5 2.5h0m-.5 3.5h0m2 0h0m5 0h0m-6.5 1.5h0m-1 .5h0m-5.5 .5h0m2 .5h0m-1.5 1h0m3 .5h0m1.5 0h0m5 0h0m-9 .5h0m9 0h0m-8 1h0m3 .5h0m3.5 0h0m-4.5 3h0m-3.5 1.5h0m3.5 0h0m3.5 1.5h0m-2.5 1h0m2.5 0h0m-5 .5h0m7 0h0m1.5 0h0m-4 1.5h0m0 1h0m-4 1h0m.5 0h0m-2.5 .5h0m3.5 1.5h0m1 0h0m1 1h0m0 1.5h0m-.5 .5h0m-6 .5h0m4.5 0h0m7.5 1h0m-7.5 1h0m7 3h0m-10.5 4.5h0m4.5 0h0m0 1h0m-5 .5h0m6.5 .5h0m2.5 1h0m.5 .5h0m-7.5 .5h0m6.5 .5h0m3 0h0m0 1.5h0m-9 1h0m3.5 0h0m4.5 0h0m1 0h0m-3 .5h0m1 0h0m.5 .5h0m-7.5 1h0m-1 .5h0m7.5 0h0m2.5 0h0m-12 .5h0m10 1h0m-8 1h0m1 .5h0m.5 .5h0m-3 .5h0m9 .5h0m.5 0h0m-6 .5h0m7 0h0m-3 1h0m.5 .5h0m-4.5 .5h0m4.5 .5h0m4 2h0m-12.5 1h0m.5 0h0m9 0h0m-5.5 .5h0m-1 .5h0m4 .5h0m-6 2.5h0m-.5 1h0m3 0h0" stroke="#000" stroke-opacity=".8" stroke-width="1.7" stroke-linecap="round" fill="none"/><path d="M410.5 432.5h0m-9 6h0m3.5 2.5h0m6 0h0m-11.5 .5h0m9 0h0m-2.5 4h0m5 2h0m-4.5 .5h0m-.5 4.5h0m3 1.5h0m-6.5 3h0m5 0h0m-6.5 3.5h0m7.5 3h0m1 .5h0m-2.5 .5h0m-5.5 1.5h0m2 1h0m.5 .5h0m2 .5h0m0 .5h0m3.5 1.5h0m-7.5 1h0m4.5 0h0m-1.5 2.5h0m3 0h0m-9 2h0m6 0h0m2.5 1h0m-.5 .5h0m-7.5 2.5h0m9.5 1h0m-7.5 1h0m2 .5h0m-.5 1.5h0m2.5 0h0m-1 1h0m3.5 0h0m-4 .5h0m5 0h0m.5 0h0m-4 .5h0m-1.5 .5h0m-4.5 .5h0m9.5 0h0m.5 1h0m-8 2h0m4 0h0m1 .5h0m-5.5 1.5h0m5.5 1h0m.5 0h0m2.5 0h0m-5 1h0m-1 .5h0m7 .5h0m-2 .5h0m-3.5 .5h0m1.5 2h0m1 1.5h0m-4 1h0m4 0h0m2 0h0m-4.5 .5h0m-3.5 1.5h0m5.5 0h0m-1.5 .5h0m5 0h0m-6 .5h0m-1.5 .5h0m8 .5h0m-1.5 .5h0m-5.5 1h0m-3 .5h0m7.5 0h0m-9 .5h0m11.5 0h0m-2 1h0m-10.5 3h0m11 0h0m-9.5 1h0m11 1.5h0m-2.5 .5h0" stroke="#000" stroke-opacity=".8" stroke-width="1.7" stroke-linecap="round" fill="none"/><path d="M404.8 423.3V461.2M404.8 489.4V513.1" stroke="#333" stroke-width=".5"/><rect x="392.5" y="461.2" width="24.6" height="28.2" fill="#E87068" stroke="#000" stroke-opacity=".45" stroke-width=".6"/><path d="M392.5 477H417.1" stroke="#000" stroke-opacity=".5" stroke-width="1.1"/><path d="M436.9 516.6l4.1-.5l1.1-1.5l2-3l1.8-3.5l1.9-4.5l1-3l0-.5l-.5-9.6l-.5-3l-2.1-10.6l-2.4-9.6l-2.7-12.6l-3-18.6l-.7-5l0-11.1l-.3 0l0 11.1l-.7 5l-3 18.6l-2.7 12.6l-2.4 9.6l-2.1 10.6l-.5 3l-.5 9.6l0 .5l1 3l1.9 4.5l1.8 3.5l2 3l1.1 1.5l4.1 .5z" fill="#7AA82F" stroke="#333" stroke-width=".55"/><path d="M435.5 421h0m5 0h0m2 5.5h0m-2.5 1.5h0m-.5 3.5h0m-.5 1.5h0m-6.5 .5h0m1.5 .5h0m6.5 0h0m-3 2h0m-1 1h0m6 1.5h0m-11 .5h0m4 0h0m-1 .5h0m-1.5 2h0m1.5 .5h0m3 1.5h0m4.5 .5h0m.5 2h0m-6.5 2h0m.5 0h0m-2.5 .5h0m4.5 .5h0m3 0h0m-7 .5h0m7 0h0m1.5 0h0m-11.5 .5h0m.5 1h0m6 1.5h0m4 0h0m1 0h0m-12.5 1.5h0m9 .5h0m1 0h0m3 0h0m-9.5 1h0m3 0h0m2 0h0m3.5 0h0m-6.5 1.5h0m4 0h0m-10 .5h0m1.5 .5h0m6 0h0m1 0h0m-6.5 3.5h0m4.5 0h0m1.5 0h0m5 .5h0m-7.5 .5h0m2 0h0m-2 .5h0m4 0h0m-3 .5h0m-4 .5h0m1.5 0h0m.5 0h0m7 0h0m1 .5h0m1 0h0m-1.5 .5h0m-1 .5h0m-7 .5h0m9 0h0m-7.5 .5h0m4.5 .5h0m-5 .5h0m-1.5 1h0m1 0h0m2 0h0m-4 .5h0m1 0h0m-1.5 1h0m4.5 0h0m-3.5 .5h0m1.5 0h0m4 0h0m3.5 0h0m.5 2.5h0m-12 1h0m1 0h0m2.5 0h0m8 0h0m.5 0h0m-6.5 .5h0m2.5 0h0m4.5 0h0m-10 .5h0m-.5 .5h0m2.5 0h0m8 0h0m-11 .5h0m8.5 0h0m-5 .5h0m1 .5h0m5 0h0m-10.5 .5h0m-.5 22.5h0m2 0h0m2.5 0h0m4.5 0h0m-4.5 .5h0m.5 0h0m2.5 0h0m5 .5h0m-9 .5h0m4.5 0h0m1 0h0m.5 0h0m2 0h0m.5 0h0m-10.5 .5h0m1 0h0m.5 0h0m8.5 0h0m-8 .5h0m2.5 0h0m-2 .5h0m2 0h0m3.5 0h0m-7.5 .5h0m5 0h0m1 0h0m-5 .5h0m.5 0h0m5.5 0h0m-3.5 .5h0m1 0h0m1 0h0m2.5 0h0m-9 .5h0m8 0h0m4 0h0m-12.5 .5h0m3.5 0h0m1 0h0m1 0h0m6 0h0m-4.5 .5h0m3.5 0h0m.5 0h0m-7 .5h0m4 0h0m2 0h0m-6 .5h0m.5 0h0m4.5 0h0m-4 .5h0m1 0h0m-3 .5h0m1 0h0m4.5 0h0m-4 .5h0m6 0h0m.5 0h0m-4.5 .5h0m-5.5 .5h0m7 0h0m-.5 .5h0m2 0h0m-2 .5h0m.5 0h0m-5 .5h0m2 0h0m1 0h0m4 .5h0m-10 .5h0m1.5 0h0m6.5 0h0m-4 .5h0m8 0h0m-7.5 .5h0m1 .5h0m3.5 0h0m-3.5 .5h0m4 0h0m2 0h0m-9.5 .5h0m-2 .5h0m1.5 0h0m4.5 0h0m-.5 .5h0m.5 0h0m5 0h0m-10.5 .5h0m2 0h0m2 0h0m3.5 0h0m2.5 0h0m1.5 0h0m-7.5 .5h0m8 0h0m-10.5 .5h0m2.5 0h0m-3 .5h0" stroke="#000" stroke-opacity=".8" stroke-width="1.7" stroke-linecap="round" fill="none"/><path d="M437.5 425.5h0m-5 3.5h0m1 3h0m6 0h0m-.5 .5h0m-8 2h0m9.5 1h0m0 7.5h0m3 1h0m-2.5 1.5h0m-3.5 1h0m4.5 3h0m-10 .5h0m-1.5 .5h0m10.5 0h0m-5.5 .5h0m8 0h0m-9.5 1h0m1 .5h0m-2 1h0m5 0h0m1 0h0m-1 1h0m2 0h0m-4.5 1.5h0m-1 .5h0m4.5 1h0m-7 .5h0m6.5 0h0m-3.5 .5h0m5 0h0m.5 .5h0m-5.5 .5h0m3 0h0m-6.5 .5h0m.5 .5h0m1 .5h0m2 0h0m6.5 0h0m-9 1h0m9.5 .5h0m-11.5 .5h0m.5 0h0m5.5 .5h0m1.5 0h0m.5 0h0m.5 0h0m3 0h0m-10 .5h0m11 1h0m-9.5 .5h0m1.5 1h0m-2.5 .5h0m1.5 0h0m6.5 0h0m0 .5h0m-10.5 1h0m2 .5h0m9.5 0h0m-8 .5h0m5.5 0h0m-4 .5h0m5 1h0m-3.5 .5h0m2 .5h0m.5 0h0m-2.5 .5h0m-2.5 .5h0m5 0h0m-.5 1h0m.5 0h0m-7.5 .5h0m2 0h0m3.5 0h0m2.5 0h0m3.5 0h0m-12 .5h0m12 0h0m-11.5 .5h0m8.5 0h0m1 0h0m1.5 .5h0m-9.5 .5h0m10.5 0h0m-9.5 1h0m-3.5 22h0m3.5 0h0m2 0h0m3 0h0m3 0h0m.5 0h0m-8 .5h0m7 0h0m-11 .5h0m3.5 0h0m1 0h0m-1 .5h0m5 0h0m2.5 0h0m-7.5 .5h0m1 0h0m4 0h0m1.5 0h0m-1.5 .5h0m2.5 0h0m1 0h0m-10.5 .5h0m6.5 0h0m1.5 0h0m2.5 0h0m-10.5 .5h0m-1.5 .5h0m10 0h0m-7.5 .5h0m9.5 0h0m-5.5 .5h0m-6 .5h0m2 0h0m6.5 0h0m2.5 .5h0m-6.5 .5h0m3.5 0h0m-6.5 .5h0m1.5 0h0m4 0h0m2.5 0h0m.5 0h0m-9.5 .5h0m8 0h0m-7 .5h0m1 0h0m7.5 .5h0m-9.5 .5h0m.5 0h0m1 0h0m6 0h0m1.5 0h0m-3.5 .5h0m.5 0h0m2.5 0h0m2.5 0h0m-7 .5h0m1 0h0m2 .5h0m.5 0h0m.5 0h0m2.5 0h0m-8.5 .5h0m-1.5 .5h0m.5 0h0m3 0h0m6.5 0h0m-11.5 .5h0m3 0h0m-2.5 1h0m6.5 0h0m2 0h0m4 .5h0m-8.5 .5h0m.5 0h0m2.5 0h0m4.5 0h0m1 0h0m-10.5 .5h0m2 0h0m2 0h0m-4.5 .5h0m3.5 0h0m-3 .5h0m1 0h0m4 0h0m2.5 0h0m-3 .5h0m5 0h0m.5 0h0m-12 .5h0m5.5 0h0m6.5 0h0m-12 .5h0m.5 0h0m2.5 0h0m6.5 0h0" stroke="#000" stroke-opacity=".8" stroke-width="1.7" stroke-linecap="round" fill="none"/><path d="M436.5 420h0m.5 .5h0m0 .5h0m0 6h0m-.5 2h0m.5 1h0m0 4h0m0 1h0m0 4h0" stroke="#111" stroke-opacity=".8" stroke-width="1.5" stroke-linecap="round" fill="none"/><path d="M436.9 441.9V477M436.9 500.4V516.6" stroke="#333" stroke-width=".5"/><rect x="424.6" y="477" width="24.6" height="23.4" fill="#7AA82F" stroke="#000" stroke-opacity=".45" stroke-width=".6"/><path d="M424.6 490.8H449.2" stroke="#000" stroke-opacity=".5" stroke-width="1.1"/><path d="M469.1 517.3l5.1-.5l2.1-3.5l1.9-4l1.8-5l1.4-5l-.6-10.1l-.6-4l-8.2-44.3l-2-7l-.9-19.6l-.3 0l-.9 19.6l-2 7l-8.2 44.3l-.6 4l-.6 10.1l1.4 5l1.8 5l1.9 4l2.1 3.5l5.1 .5z" fill="#1CB4B9" stroke="#333" stroke-width=".55"/><linearGradient id="m12_2_0" gradientUnits="userSpaceOnUse" x1="0" y1="498.5" x2="0" y2="518.5"><stop offset="0.025" stop-opacity="0.54"/><stop offset="0.125" stop-opacity="0.54"/><stop offset="0.225" stop-opacity="0.54"/><stop offset="0.325" stop-opacity="0.54"/><stop offset="0.425" stop-opacity="0.54"/><stop offset="0.525" stop-opacity="0.54"/><stop offset="0.625" stop-opacity="0.54"/><stop offset="0.725" stop-opacity="0.54"/><stop offset="0.825" stop-opacity="0.54"/><stop offset="0.925" stop-opacity="0.54"/><stop offset="0.975" stop-opacity="0.54"/></linearGradient><path d="M475.3 498.5 475.3 499 475.3 500 475.3 501 475.3 502 475.3 503 475.3 504 475.3 505 475.3 506 475.3 507 475.3 508 475.3 509 475.3 510 475.3 511 475.3 512 475.3 513 475.3 514 475.3 515 475.3 516 475.3 517 475.3 518 475.3 518.5 462.9 518.5 462.9 518 462.9 517 462.9 516 462.9 515 462.9 514 462.9 513 462.9 512 462.9 511 462.9 510 462.9 509 462.9 508 462.9 507 462.9 506 462.9 505 462.9 504 462.9 503 462.9 502 462.9 501 462.9 500 462.9 499 462.9 498.5z" fill="url(#m12_2_0)"/><linearGradient id="m12_2_1" gradientUnits="userSpaceOnUse" x1="0" y1="466.5" x2="0" y2="476.5"><stop offset="0.050" stop-opacity="0.06"/><stop offset="0.250" stop-opacity="0.19"/><stop offset="0.450" stop-opacity="0.31"/><stop offset="0.650" stop-opacity="0.44"/><stop offset="0.850" stop-opacity="0.57"/><stop offset="0.950" stop-opacity="0.62"/></linearGradient><path d="M475.8 466.5 475.8 467 475.8 468 475.8 469 475.8 470 475.8 471 475.8 472 475.8 473 475.8 474 475.8 475 475.8 476 475.8 476.5 462.4 476.5 462.4 476 462.4 475 462.4 474 462.4 473 462.4 472 462.4 471 462.4 470 462.4 469 462.4 468 462.4 467 462.4 466.5z" fill="url(#m12_2_1)"/><path d="M469.5 415h0m6 1.5h0m-12 7.5h0m4 2h0m-.5 3h0m-1.5 1h0m1.5 0h0m-3 3h0m1 1h0m2 1h0m5 1.5h0m-2 2.5h0m4 1h0m-6 .5h0m0 .5h0m3.5 1h0m-2.5 .5h0m6.5 0h0m0 .5h0m-2 .5h0m-6 .5h0m2 0h0m-5 .5h0m.5 0h0m5 0h0m5.5 0h0m-4 .5h0m3 0h0m-5.5 .5h0m2 0h0m1 0h0m.5 0h0m1 0h0m-3.5 1h0m5 0h0m.5 0h0m-11.5 .5h0m1 0h0m4 0h0m3 .5h0m2 0h0m-12 .5h0m6 0h0m7.5 0h0m-13 .5h0m.5 0h0m1.5 .5h0m5.5 0h0m1 0h0m2.5 0h0m1 0h0m-12 .5h0m2.5 0h0m5 0h0m1.5 0h0m2.5 0h0m-12 .5h0m.5 0h0m9.5 0h0m1.5 0h0m-8.5 .5h0m7 .5h0m3.5 0h0m-13 .5h0m4 0h0m4 0h0m4.5 0h0m-8.5 .5h0m7.5 0h0m-9.5 .5h0m.5 .5h0m5 0h0m5.5 0h0m.5 0h0m-9 .5h0m8 0h0m-9.5 .5h0m4 0h0m1 0h0m-1 .5h0m6 0h0m.5 0h0m-10.5 .5h0m3 0h0m6 0h0m.5 0h0m-13 .5h0m.5 0h0m12.5 0h0m-5 .5h0m.5 0h0m2 0h0m.5 0h0m-9 .5h0m2 0h0m8 0h0m1 0h0m-12 .5h0m1.5 0h0m6.5 0h0m-8 .5h0m1.5 0h0m1.5 .5h0m3 0h0m6.5 0h0m-9.5 .5h0m6 0h0m1 0h0m-9 .5h0m1 0h0m-1.5 .5h0m.5 0h0m4 0h0m6 0h0m-10 .5h0m6 0h0m-7.5 .5h0m2.5 0h0m.5 0h0m5.5 0h0m2.5 0h0m-11 .5h0m4.5 0h0m.5 0h0m5 0h0m-3.5 .5h0m1 0h0m3.5 0h0m-9 .5h0m4.5 0h0m.5 0h0m2 0h0m.5 0h0m2.5 0h0m-10 .5h0m2.5 0h0m1 0h0m1.5 0h0m1 0h0m2.5 0h0m3 0h0m-9 .5h0m2 0h0m5.5 0h0m-6.5 .5h0m7.5 0h0m-8.5 .5h0m1.5 0h0m1.5 0h0m4.5 0h0m1.5 0h0m-13 .5h0m.5 0h0m1 0h0m2 0h0m1 0h0m2.5 0h0m.5 0h0m.5 0h0m1.5 0h0m-9 .5h0m6 0h0m1 0h0m1.5 0h0m3 0h0m.5 0h0m-13 .5h0m8.5 0h0m4.5 0h0m-6.5 .5h0m2.5 0h0m0 .5h0m1.5 0h0m-10 .5h0m.5 0h0m1 0h0m2.5 0h0m2.5 0h0m4.5 0h0m.5 0h0m-12 .5h0m4 0h0m1 0h0m.5 0h0m.5 0h0m2.5 0h0m.5 0h0m-7.5 .5h0m.5 0h0m1 0h0m8 0h0m-11 .5h0m5.5 0h0m6.5 0h0m-11.5 .5h0m3.5 0h0m1 0h0m2 0h0m.5 0h0m4.5 0h0m1.5 0h0m-12 .5h0m1 0h0m6.5 0h0m3 0h0m1 0h0m-11 .5h0m4 0h0m2 0h0m1.5 0h0m-9.5 .5h0m1 0h0m.5 0h0m5.5 0h0m2.5 0h0m3 0h0m-11.5 .5h0m1 0h0m1 0h0m.5 0h0m1 0h0m1.5 0h0m.5 0h0m1.5 0h0m3.5 0h0m-9 .5h0m1.5 0h0m4.5 0h0m5 0h0m-11 .5h0m.5 0h0m1 0h0m1.5 0h0m1 0h0m1.5 0h0m1 0h0m2 0h0m.5 0h0m.5 0h0m1 0h0m-11 .5h0m2 0h0m.5 0h0m5.5 0h0m.5 0h0m-9 .5h0m1.5 0h0m.5 0h0m1 0h0m.5 0h0m3 0h0m1.5 0h0m1.5 0h0m1.5 0h0m.5 0h0m-10.5 .5h0m1.5 0h0m.5 0h0m.5 0h0m.5 0h0m5.5 0h0m2 0h0m-11.5 .5h0m.5 0h0m2.5 0h0m.5 0h0m1.5 0h0m1 0h0m.5 0h0m4.5 0h0m-10 .5h0m.5 0h0m1 0h0m1 0h0m.5 0h0m.5 0h0m.5 0h0m1.5 0h0m1.5 0h0m3.5 0h0m-10.5 .5h0m.5 0h0m1.5 0h0m.5 0h0m3.5 0h0m.5 0h0m1.5 0h0m1 0h0m1.5 0h0m-11.5 .5h0m2 0h0m1 0h0m.5 0h0m1.5 0h0m3 0h0m.5 0h0m1 0h0m1 0h0m.5 0h0m-11.5 .5h0m3 0h0m5.5 0h0m1 0h0m-3.5 .5h0m-6.5 22h0m5 0h0m3.5 0h0m-7.5 .5h0m2 0h0m1 0h0m1.5 0h0m1.5 0h0m1 0h0m1 0h0m2.5 0h0m-11 .5h0m.5 0h0m3 0h0m4 0h0m3.5 0h0m1 0h0m-10.5 .5h0m3.5 0h0m1.5 0h0m.5 0h0m-7 .5h0m9.5 0h0m2 0h0m-10.5 .5h0m4 0h0m-4.5 .5h0m2.5 0h0m.5 0h0m.5 0h0m1.5 0h0m1.5 0h0m4 0h0m-6.5 .5h0m-4.5 .5h0m1 0h0m2.5 0h0m1.5 0h0m3 0h0m.5 0h0m2.5 0h0m-10 .5h0m1.5 0h0m2 0h0m1.5 0h0m2 0h0m-8.5 .5h0m1.5 0h0m3 0h0m.5 0h0m3 0h0m1 0h0m2.5 0h0m-5.5 .5h0m1 0h0m1 0h0m1 0h0m.5 0h0m2.5 0h0m-12 .5h0m2 0h0m6 0h0m-5 .5h0m4.5 0h0m.5 0h0m1.5 0h0m.5 0h0m.5 0h0m1.5 0h0m-11.5 .5h0m3 0h0m1 0h0m.5 0h0m1.5 0h0m3 0h0m.5 0h0m-9.5 .5h0m.5 0h0m1.5 0h0m3 0h0m.5 0h0m1 0h0m1 0h0m3.5 0h0m-9 .5h0m1 0h0m.5 0h0m.5 0h0m3.5 0h0m.5 0h0m3.5 0h0m-12 .5h0m5 0h0m.5 0h0m6 0h0m-11 .5h0m.5 0h0m3 0h0m.5 0h0m4.5 0h0m.5 0h0m2.5 0h0m-9.5 .5h0m4.5 0h0m2.5 0h0m-7 .5h0m3.5 0h0m4 0h0m.5 0h0m-8 .5h0m5.5 0h0m-7.5 .5h0m5.5 0h0m1.5 0h0m1 0h0m2 0h0m.5 0h0m-10.5 .5h0m.5 0h0m4 0h0m2 0h0m1.5 0h0m1.5 0h0m2 0h0m-7.5 .5h0m1.5 0h0m1 0h0m.5 0h0m2 0h0m2.5 0h0m-11 .5h0m1.5 0h0m1 0h0m.5 0h0m.5 0h0m1.5 0h0m.5 0h0m.5 0h0m3 0h0m2 0h0m.5 0h0m-13 .5h0m.5 0h0m1 0h0m1 0h0m2.5 0h0m5.5 0h0m.5 0h0m2 0h0m-12.5 .5h0m4 0h0m1 0h0m1.5 0h0m1.5 0h0m-7 .5h0m3.5 0h0m4 0h0m3 0h0m-9.5 .5h0m.5 0h0m3.5 0h0m1.5 0h0m1 0h0m.5 0h0m1.5 0h0m1 0h0m-10.5 .5h0m.5 0h0m2.5 0h0m2 0h0m.5 0h0m5.5 0h0m-12 .5h0m3 0h0m2 0h0m3.5 0h0m-2 .5h0m.5 0h0m.5 0h0m.5 0h0m1 0h0m2.5 0h0m.5 0h0m.5 0h0m-10.5 .5h0m.5 0h0m3.5 0h0m3.5 0h0m.5 0h0m-10 .5h0m2 0h0m1.5 0h0m1.5 0h0m2 0h0m2.5 0h0m1.5 0h0m-8.5 .5h0m1 0h0m1 0h0m1 0h0m1 0h0m.5 0h0m.5 0h0m.5 0h0m-4 .5h0m3 0h0m.5 0h0m.5 0h0m2 0h0m2.5 0h0m-7 .5h0m1 0h0m.5 0h0m4 0h0m-7.5 .5h0m6 0h0m1 0h0m.5 0h0m-10.5 .5h0m7 0h0m2.5 0h0m-8 .5h0m1.5 0h0m1 0h0m1 0h0m5 0h0" stroke="#000" stroke-opacity=".8" stroke-width="1.7" stroke-linecap="round" fill="none"/><path d="M470 416h0m2 3h0m-4 3h0m0 1h0m-5.5 11h0m10 .5h0m1 1h0m-6 .5h0m-4.5 .5h0m0 1h0m9 0h0m3 .5h0m-12.5 1h0m11.5 2.5h0m-11.5 1h0m3.5 0h0m.5 0h0m9 0h0m-.5 .5h0m-1 .5h0m1 0h0m-12 .5h0m7.5 .5h0m1 0h0m-8 2h0m1 0h0m3 0h0m-2 .5h0m10.5 .5h0m-10.5 .5h0m1.5 0h0m-3 .5h0m5 0h0m.5 0h0m5.5 0h0m-11.5 .5h0m7.5 0h0m5 0h0m-3.5 .5h0m2.5 0h0m1 0h0m-2 .5h0m-10.5 .5h0m2 0h0m1 0h0m9 0h0m-12.5 .5h0m8 0h0m2 0h0m1 0h0m-10 .5h0m2 0h0m.5 0h0m-1 .5h0m1.5 0h0m7.5 0h0m-12 .5h0m6 0h0m3 0h0m4 0h0m-2.5 .5h0m-9 .5h0m10 0h0m.5 .5h0m.5 0h0m-12 .5h0m.5 0h0m1 0h0m6.5 0h0m1 0h0m2 0h0m-10.5 .5h0m2.5 0h0m2 0h0m4 0h0m-2 .5h0m1 0h0m-.5 .5h0m1.5 0h0m2.5 0h0m-12.5 .5h0m1.5 0h0m2.5 0h0m.5 0h0m.5 0h0m3 0h0m.5 0h0m3.5 0h0m-9 .5h0m1 0h0m-1.5 .5h0m.5 0h0m.5 0h0m5 0h0m.5 0h0m4 0h0m-8.5 .5h0m3.5 0h0m2.5 0h0m2 0h0m1.5 0h0m-11 .5h0m1.5 0h0m.5 0h0m4 0h0m1 0h0m.5 0h0m2.5 0h0m.5 0h0m-12.5 .5h0m8.5 0h0m2.5 0h0m.5 0h0m-10.5 .5h0m6 0h0m.5 0h0m-7 .5h0m4.5 0h0m2.5 0h0m1.5 0h0m.5 0h0m.5 0h0m-6 .5h0m1 0h0m1.5 0h0m2 0h0m.5 0h0m1 0h0m2 0h0m.5 0h0m-13.5 .5h0m3.5 0h0m2 0h0m2.5 0h0m-5 .5h0m1 0h0m1 0h0m8 0h0m-6.5 .5h0m2.5 0h0m5 0h0m-6.5 .5h0m3 0h0m1 0h0m-5 .5h0m5.5 0h0m.5 0h0m-9.5 .5h0m8 0h0m2 0h0m-10 .5h0m1 0h0m.5 0h0m4.5 0h0m1.5 0h0m2.5 0h0m-11.5 .5h0m1 0h0m8.5 0h0m-6 .5h0m2 0h0m3 0h0m-5 .5h0m2.5 0h0m4 0h0m-5.5 .5h0m.5 0h0m2 0h0m-7.5 .5h0m2 0h0m2.5 0h0m6.5 0h0m2 0h0m-12 .5h0m.5 0h0m.5 0h0m3 0h0m1.5 0h0m2.5 0h0m1.5 0h0m-11 .5h0m.5 0h0m.5 0h0m7 0h0m-5.5 .5h0m1 0h0m4 0h0m1.5 0h0m2 0h0m.5 0h0m-10.5 .5h0m1.5 0h0m1 0h0m.5 0h0m3.5 0h0m.5 0h0m.5 0h0m4 0h0m-12.5 .5h0m3 0h0m.5 0h0m.5 0h0m2 0h0m1 0h0m1.5 0h0m-6 .5h0m2.5 0h0m.5 0h0m.5 0h0m3.5 0h0m1 0h0m1.5 0h0m-7.5 .5h0m1.5 0h0m2 0h0m.5 0h0m1 0h0m2.5 0h0m-12 .5h0m1 0h0m1.5 0h0m1.5 0h0m2.5 0h0m5.5 0h0m-12.5 .5h0m2.5 0h0m2 0h0m5.5 0h0m.5 0h0m1 0h0m2 0h0m-12.5 .5h0m.5 0h0m7 0h0m1 0h0m1 0h0m3.5 0h0m-11.5 .5h0m.5 0h0m.5 0h0m1.5 0h0m.5 0h0m1.5 0h0m4 0h0m-10.5 .5h0m1 0h0m2 0h0m5 0h0m.5 0h0m1.5 0h0m1 0h0m.5 0h0m1 0h0m-12 .5h0m.5 0h0m1 0h0m.5 0h0m2.5 0h0m1 0h0m1 0h0m-5.5 .5h0m.5 0h0m6 0h0m1.5 0h0m-9 .5h0m3 0h0m.5 0h0m6 0h0m2 0h0m-10 .5h0m.5 0h0m.5 0h0m3.5 0h0m4.5 0h0m.5 0h0m.5 0h0m.5 0h0m-13 .5h0m1 0h0m3 0h0m.5 0h0m1 0h0m4 0h0m1.5 0h0m1 0h0m1.5 0h0m.5 0h0m-13.5 .5h0m2 0h0m2.5 0h0m1 0h0m3 0h0m3 0h0m-11 .5h0m1.5 0h0m3.5 0h0m1 0h0m.5 0h0m2 0h0m4.5 0h0m-10.5 22.5h0m1 0h0m6.5 0h0m-9.5 .5h0m3.5 0h0m.5 0h0m3 0h0m.5 0h0m.5 0h0m.5 0h0m1.5 0h0m-9.5 .5h0m3 0h0m2.5 0h0m1 0h0m.5 0h0m.5 0h0m.5 0h0m.5 0h0m-9.5 .5h0m1 0h0m1 0h0m1.5 0h0m3 0h0m5.5 0h0m.5 0h0m-11.5 .5h0m7 0h0m.5 0h0m3.5 .5h0m.5 0h0m-12.5 .5h0m.5 0h0m1.5 0h0m1.5 0h0m3.5 0h0m.5 0h0m.5 0h0m1 0h0m-8.5 .5h0m.5 0h0m3 0h0m1.5 0h0m3.5 0h0m-7.5 .5h0m3 0h0m1 0h0m2 0h0m.5 0h0m2 0h0m-8.5 .5h0m1 0h0m.5 0h0m3 0h0m4 0h0m-6 .5h0m1.5 0h0m1.5 0h0m1 0h0m2.5 0h0m.5 0h0m.5 0h0m.5 0h0m.5 0h0m-6 .5h0m2 0h0m1.5 0h0m.5 0h0m-11 .5h0m2.5 0h0m1 0h0m3.5 0h0m1.5 0h0m.5 0h0m.5 0h0m.5 0h0m1.5 0h0m-6 .5h0m1 0h0m2 0h0m4.5 0h0m-6.5 .5h0m2.5 0h0m3.5 0h0m-10.5 .5h0m.5 0h0m1.5 0h0m2.5 0h0m.5 0h0m4.5 0h0m1 0h0m-12.5 .5h0m1 0h0m.5 0h0m.5 0h0m4.5 0h0m5.5 0h0m-10 .5h0m5 0h0m.5 0h0m4.5 0h0m-11 .5h0m.5 0h0m1 0h0m4 0h0m5.5 0h0m-10.5 .5h0m1 0h0m3 0h0m1 0h0m3 0h0m2 0h0m-8.5 .5h0m2.5 0h0m3.5 0h0m1.5 0h0m.5 0h0m-9 .5h0m3.5 0h0m1.5 0h0m.5 0h0m2.5 0h0m1 0h0m.5 0h0m.5 0h0m-7.5 .5h0m1 0h0m2 0h0m1.5 0h0m2.5 0h0m.5 0h0m-8.5 .5h0m.5 0h0m6 0h0m1 0h0m1 0h0m.5 0h0m-7.5 .5h0m1.5 0h0m3.5 0h0m-9.5 .5h0m.5 0h0m1.5 0h0m2.5 0h0m3 0h0m3 0h0m.5 0h0m.5 0h0m-11.5 .5h0m.5 0h0m2 0h0m2.5 0h0m1 0h0m1 0h0m.5 0h0m1.5 0h0m2 0h0m1 0h0m-10.5 .5h0m2 0h0m.5 0h0m-1.5 .5h0m2 0h0m4.5 0h0m2 0h0m-10 .5h0m6.5 0h0m1.5 0h0m1.5 0h0m-8 .5h0m1 0h0m.5 0h0m1 0h0m7 0h0m-10 .5h0m1 0h0m5.5 0h0m1.5 0h0m.5 0h0m2 0h0m-10 .5h0m.5 0h0m5.5 0h0m.5 0h0m3.5 0h0m-12.5 .5h0m5.5 0h0m1 0h0m2.5 0h0m2.5 0h0m-11.5 .5h0m1 0h0m4 0h0m6 0h0m1.5 0h0m-10.5 .5h0m.5 0h0m7.5 0h0m1 0h0m-7 .5h0m6 0h0m.5 0h0m1 0h0m.5 0h0m-11 .5h0m4 0h0m3 0h0m3 0h0m1 0h0m-6 .5h0m2 0h0m3 0h0m-11 .5h0m1.5 0h0m.5 0h0m1.5 0h0m1.5 0h0m2.5 0h0m3.5 0h0m.5 0h0m-2 .5h0" stroke="#000" stroke-opacity=".8" stroke-width="1.7" stroke-linecap="round" fill="none"/><path d="M469 414.5h0m0 8.5h0m0 1h0m0 2h0m0 4h0m.5 5h0m-.5 1h0m0 1h0m0 1h0m.5 1h0" stroke="#111" stroke-opacity=".8" stroke-width="1.5" stroke-linecap="round" fill="none"/><path d="M469.1 440V475.6M469.1 499.4V517.3" stroke="#333" stroke-width=".5"/><rect x="456.8" y="475.6" width="24.6" height="23.7" fill="#1CB4B9" stroke="#000" stroke-opacity=".45" stroke-width=".6"/><path d="M456.8 489.4H481.4" stroke="#000" stroke-opacity=".5" stroke-width="1.1"/><path d="M501.2 515.9l5.2-.5l1.5-1.5l2-2.5l3.4-5.5l1.8-4l.8-2.5l-3.7-18.2l-2.9-6.1l-2.8-12.1l-3.7-19.7l-1.1-4.5l-.3-5.5l-0-5.5l-.1-.5l0 0l-.1 .5l-0 5.5l-.3 5.5l-1.1 4.5l-3.7 19.7l-2.8 12.1l-2.9 6.1l-3.7 18.2l.8 2.5l1.8 4l3.4 5.5l2 2.5l1.5 1.5l5.2 .5z" fill="#A07FBD" stroke="#333" stroke-width=".55"/><path d="M507 433.5h0m.5 1h0m-.5 5.5h0m-3 3h0m-1.5 .5h0m-7.5 2h0m5.5 0h0m-2 1.5h0m7 0h0m1 1.5h0m-11.5 1.5h0m5.5 2h0m3 0h0m1 2h0m-9.5 1.5h0m2.5 2.5h0m5 1h0m0 3h0m-.5 .5h0m-4.5 2.5h0m3 0h0m5.5 0h0m-11 .5h0m12.5 1h0m0 2h0m-4.5 2h0m-2 1h0m5.5 0h0m-7.5 .5h0m1.5 0h0m-5.5 2h0m3.5 .5h0m-2 .5h0m11 2.5h0m-10.5 2h0m3.5 22.5h0m3 .5h0m3.5 .5h0m-8.5 .5h0m3.5 .5h0m-6 2h0m2 .5h0m6.5 0h0m.5 1.5h0m.5 1h0m-1 .5h0m-7 4.5h0m5.5 1h0m2 .5h0m2 .5h0" stroke="#000" stroke-opacity=".8" stroke-width="1.7" stroke-linecap="round" fill="none"/><path d="M503 431h0m2 0h0m2 2.5h0m-3 1h0m-4 1.5h0m7.5 6.5h0m-9 3.5h0m-1 1.5h0m5.5 2h0m1 .5h0m-6 1.5h0m8.5 .5h0m-8 1h0m-1.5 3.5h0m6.5 1h0m3.5 .5h0m-5 .5h0m-6.5 1.5h0m0 .5h0m2 0h0m4 1h0m-1.5 3.5h0m-3 1h0m6 1.5h0m1.5 0h0m-4 1h0m3 0h0m-2.5 .5h0m1 .5h0m3 .5h0m-5 2h0m7.5 0h0m-9 1h0m3 2h0m4 1.5h0m0 1.5h0m-8 .5h0m9.5 0h0m-5 .5h0m-3.5 1.5h0m-1.5 .5h0m6.5 21h0m-7.5 .5h0m11 1h0m-9.5 1h0m6.5 .5h0m.5 1h0m-9 1.5h0m5.5 .5h0m2 .5h0m.5 0h0m-6.5 .5h0m1 .5h0m-1.5 .5h0m6.5 0h0m-5 .5h0m-1 2.5h0m0 .5h0m5 1h0m-3.5 1h0m.5 .5h0" stroke="#000" stroke-opacity=".8" stroke-width="1.7" stroke-linecap="round" fill="none"/><path d="M501 427.5h0m.5 1.5h0m-.5 2h0m0 1h0m.5 1h0m-.5 1h0m.5 1h0m-.5 2h0m0 1h0m0 2h0m.5 1h0m0 1h0m-.5 4h0m0 2h0" stroke="#111" stroke-opacity=".8" stroke-width="1.5" stroke-linecap="round" fill="none"/><path d="M501.2 449.1V481.1M501.2 502.5V515.9" stroke="#333" stroke-width=".5"/><rect x="488.9" y="481.1" width="24.6" height="21.3" fill="#A07FBD" stroke="#000" stroke-opacity=".45" stroke-width=".6"/><path d="M488.9 493.9H513.5" stroke="#000" stroke-opacity=".5" stroke-width="1.1"/><rect x="385.5" y="384" width="135" height="139.3" fill="none" stroke="#555" stroke-width="1"/><path d="M385.5 383.5V523.8" stroke="#333" stroke-width="1"/><clipPath id="c12"><rect x="385.5" y="383.4" width="135" height="139.9"/></clipPath><g clip-path="url(#c12)"><path d="M404.8 413.6V410.6H436.9V413.6" fill="none" stroke="#222" stroke-width=".75"/><text x="420.9" y="408.7" font-size="7" fill="#333" color="#333" text-anchor="middle">P&lt;2.22e−16</text><path d="M436.9 403.5V400.5H469.1V403.5" fill="none" stroke="#222" stroke-width=".75"/><text x="453" y="398.6" font-size="7" fill="#333" color="#333" text-anchor="middle">0.091</text><path d="M469.1 393.2V390.2H501.2V393.2" fill="none" stroke="#222" stroke-width=".75"/><text x="485.1" y="389.3" font-size="7" fill="#333" color="#333" text-anchor="middle">6.3e−08</text></g><path d="M381.3 523.1H385.5" stroke="#333" stroke-width=".8"/><text x="377.2" y="526.7" font-size="10.2" fill="#1a1a1a" color="#1a1a1a" text-anchor="end">0</text><path d="M381.3 488.7H385.5" stroke="#333" stroke-width=".8"/><text x="377.2" y="492.3" font-size="10.2" fill="#1a1a1a" color="#1a1a1a" text-anchor="end">1</text><path d="M381.3 454.3H385.5" stroke="#333" stroke-width=".8"/><text x="377.2" y="457.9" font-size="10.2" fill="#1a1a1a" color="#1a1a1a" text-anchor="end">2</text><path d="M381.3 419.9H385.5" stroke="#333" stroke-width=".8"/><text x="377.2" y="423.5" font-size="10.2" fill="#1a1a1a" color="#1a1a1a" text-anchor="end">3</text><path d="M381.3 385.5H385.5" stroke="#333" stroke-width=".8"/><text x="377.2" y="389.1" font-size="10.2" fill="#1a1a1a" color="#1a1a1a" text-anchor="end">4</text><path d="M404.8 523.3V527.5" stroke="#333" stroke-width=".8"/><text x="401.6" y="538.2" font-size="7.7" fill="#2a2a2a" color="#2a2a2a" text-anchor="middle">Stage I</text><path d="M436.9 523.3V527.5" stroke="#333" stroke-width=".8"/><text x="435.5" y="538.2" font-size="7.7" fill="#2a2a2a" color="#2a2a2a" text-anchor="middle">Stage II</text><path d="M469.1 523.3V527.5" stroke="#333" stroke-width=".8"/><text x="470.2" y="538.2" font-size="7.7" fill="#2a2a2a" color="#2a2a2a" text-anchor="middle">Stage III</text><path d="M501.2 523.3V527.5" stroke="#333" stroke-width=".8"/><text x="506.2" y="538.2" font-size="7.7" fill="#2a2a2a" color="#2a2a2a" text-anchor="middle">Stage IV</text><text transform="translate(363 453.6) rotate(-90) scale(.9 1)" font-size="10.5" fill="#222" color="#222" text-anchor="middle" y="3.7">Expression</text><text transform="translate(452.4 374.9) scale(.86 1)" font-size="11.3" font-style="italic" fill="#1a1a1a" color="#1a1a1a" text-anchor="middle">SEMA6B</text>
<g stroke="#ECECEC" stroke-width=".6"><path d="M557.5 499.5H692.5"/><path d="M557.5 455H692.5"/><path d="M557.5 410.5H692.5"/></g><g stroke="#E8E8E8" stroke-width=".65"><path d="M557.5 521.7H692.5"/><path d="M557.5 477.2H692.5"/><path d="M557.5 432.7H692.5"/><path d="M557.5 388.2H692.5"/><path d="M576.8 384V523.3"/><path d="M608.9 384V523.3"/><path d="M641.1 384V523.3"/><path d="M673.2 384V523.3"/></g><path d="M576.8 514.1l.2-1.5l1.4-2.5l3.1-8.5l2.5-11.1l.5-3l.7-15.6l-.9-21.1l-2.3-10.1l-1.6-10.6l-2-7.5l-1.4-3.5l-0-2l-.3 0l-0 2l-1.4 3.5l-2 7.5l-1.6 10.6l-2.3 10.1l-.9 21.1l.7 15.6l.5 3l2.5 11.1l3.1 8.5l1.4 2.5l.2 1.5z" fill="#E87068" stroke="#333" stroke-width=".55"/><path d="M580.5 418.5h0m-10 3h0m4 0h0m2 6h0m-4.5 7h0m8.5 3h0m-4 8h0m-5 4.5h0m7 .5h0m.5 4h0m-7 1.5h0m0 1h0m10 1h0m0 .5h0m-11 1h0m7.5 1.5h0m3.5 0h0m0 1.5h0m-2 5.5h0m-9 .5h0m8.5 1h0m-.5 .5h0m3.5 1h0m-2.5 1.5h0m-5.5 3h0m3.5 1.5h0m3.5 4.5h0m-.5 2.5h0m-.5 1h0m-7.5 2h0m-1.5 6h0m9.5 1h0m1.5 0h0m-5 1h0m3 1.5h0m-8 .5h0m4.5 1.5h0m-.5 2h0m4.5 .5h0m-2 4h0m-3 3.5h0m1.5 0h0m-5.5 1h0m6 3.5h0m-5.5 1.5h0" stroke="#000" stroke-opacity=".8" stroke-width="1.7" stroke-linecap="round" fill="none"/><path d="M574 427.5h0m-2.5 1h0m11.5 1h0m-7 3h0m3.5 4h0m.5 3h0m3 13h0m-1 .5h0m-6.5 .5h0m6.5 0h0m-4.5 1h0m4 1.5h0m2 2h0m-11.5 6h0m7.5 0h0m-4.5 .5h0m1.5 0h0m3 0h0m3 0h0m-8 1h0m7 0h0m-11 .5h0m7.5 1.5h0m2 1h0m-1.5 1.5h0m.5 1h0m-4 1h0m6.5 4h0m-5 .5h0m6.5 1h0m-7.5 2h0m1.5 .5h0m-3 4.5h0m2.5 .5h0m2.5 2.5h0m-7 1.5h0m-1 4h0m8 13.5h0m-4.5 1.5h0m2 2.5h0" stroke="#000" stroke-opacity=".8" stroke-width="1.7" stroke-linecap="round" fill="none"/><path d="M576.8 417.1V450.9M576.8 487.9V514.1" stroke="#333" stroke-width=".5"/><rect x="564.5" y="450.9" width="24.6" height="36.9" fill="#E87068" stroke="#000" stroke-opacity=".45" stroke-width=".6"/><path d="M564.5 471.9H589.1" stroke="#000" stroke-opacity=".5" stroke-width="1.1"/><path d="M608.9 517.2l5.1-.5l3.4-2.5l3.4-3.5l2-7.1l1.3-6.5l-.7-3.5l-1.4-5l-4.1-7.1l-4.4-20.6l-4-32.7l-.3-7.1l0-6.5l-.1-.5l0 0l-.1 .5l0 6.5l-.3 7.1l-4 32.7l-4.4 20.6l-4.1 7.1l-1.4 5l-.7 3.5l1.3 6.5l2 7.1l3.4 3.5l3.4 2.5l5.1 .5z" fill="#7AA82F" stroke="#333" stroke-width=".55"/><path d="M606.5 418.5h0m-1 3h0m8.5 4.5h0m-7.5 .5h0m1 3h0m-1.5 1h0m7.5 3.5h0m-5.5 2h0m4 8h0m-4.5 1h0m-.5 .5h0m-2 9h0m-1 .5h0m9.5 0h0m-5.5 2.5h0m-5.5 .5h0m0 .5h0m9.5 .5h0m3 0h0m0 1h0m0 .5h0m-11 .5h0m7 0h0m-2 10h0m4.5 1h0m-3.5 1.5h0m3 2h0m-9.5 .5h0m1.5 0h0m1.5 2h0m6 .5h0m-6.5 1.5h0m-1.5 1h0m7 0h0m-5.5 1.5h0m9 0h0m-6.5 22h0m-5.5 .5h0m11 0h0m-8.5 2h0m1.5 .5h0m3 .5h0m3 0h0m2 0h0m-4 .5h0m-4.5 1h0m3.5 0h0m-.5 .5h0m-4.5 1h0m3.5 0h0m.5 0h0m-2.5 .5h0m1 .5h0m-3.5 .5h0m4.5 .5h0m1.5 0h0m.5 .5h0m3 1h0m-1.5 .5h0" stroke="#000" stroke-opacity=".8" stroke-width="1.7" stroke-linecap="round" fill="none"/><path d="M614 413.5h0m-7 4.5h0m8.5 1h0m-8.5 5.5h0m6.5 6h0m-10 8.5h0m7.5 2.5h0m-3 4.5h0m2 1h0m0 2.5h0m-2 2h0m5.5 .5h0m-7 2.5h0m.5 2.5h0m1.5 4h0m-4 2h0m.5 .5h0m4.5 0h0m-2 1h0m3 1.5h0m3.5 .5h0m-6.5 .5h0m2.5 .5h0m1.5 2h0m-9 1h0m12 1.5h0m-.5 .5h0m-3.5 .5h0m2.5 0h0m-7 2h0m9 0h0m-9.5 .5h0m8.5 0h0m1 2h0m-10.5 1h0m-1 3h0m8.5 0h0m.5 0h0m-8 24h0m10 0h0m-2.5 .5h0m2.5 0h0m-10.5 1.5h0m.5 1h0m3 2h0m.5 0h0m3.5 0h0m-6.5 2h0m3 1h0m-1.5 .5h0m2 0h0m.5 3h0m-3.5 .5h0" stroke="#000" stroke-opacity=".8" stroke-width="1.7" stroke-linecap="round" fill="none"/><path d="M609 414.5h0m0 1.5h0m0 4h0m0 1h0m0 3h0m0 1h0m0 3h0m0 1h0m-.5 3h0m.5 5h0m0 3h0m0 5h0" stroke="#111" stroke-opacity=".8" stroke-width="1.5" stroke-linecap="round" fill="none"/><path d="M608.9 446.3V481.7M608.9 505.2V517.2" stroke="#333" stroke-width=".5"/><rect x="596.6" y="481.7" width="24.6" height="23.6" fill="#7AA82F" stroke="#000" stroke-opacity=".45" stroke-width=".6"/><path d="M596.6 496.8H621.2" stroke="#000" stroke-opacity=".5" stroke-width="1.1"/><path d="M641.1 517.2l5.1-.5l2.4-3l1.9-3l2-4l1.2-3l.1-.5l-.5-11.6l-1.4-5.6l-3.8-12.6l-2-12.6l-2-16.2l-2.8-25.7l-0-2.5l-.1-.5l0 0l-.1 .5l-0 2.5l-2.8 25.7l-2 16.2l-2 12.6l-3.8 12.6l-1.4 5.6l-.5 11.6l.1 .5l1.2 3l2 4l1.9 3l2.4 3l5.1 .5z" fill="#1CB4B9" stroke="#333" stroke-width=".55"/><path d="M639.5 416h0m4.5 0h0m-7 5.5h0m10 1.5h0m-9.5 2h0m-1 2h0m.5 4.5h0m2.5 1.5h0m-1 1.5h0m6.5 6.5h0m-8.5 1h0m0 1.5h0m4 0h0m6.5 0h0m-11 .5h0m3 .5h0m2 .5h0m3.5 0h0m3 1.5h0m-11 1h0m-1.5 2.5h0m9.5 3h0m-7.5 .5h0m7 0h0m-7.5 1.5h0m3 2h0m-.5 1h0m5.5 0h0m-9.5 2.5h0m6.5 1h0m-.5 1.5h0m-2.5 .5h0m8 .5h0m-6 2h0m1.5 1.5h0m-4.5 .5h0m7.5 0h0m-5 1h0m5 0h0m-9.5 1.5h0m5.5 1.5h0m3 1.5h0m1 0h0m1 .5h0m-10 .5h0m0 1h0m9.5 2h0m-8.5 25h0m0 1h0m3.5 1h0m3.5 0h0m-7 1h0m1 0h0m3.5 0h0m3.5 0h0m-10 .5h0m4.5 0h0m6 0h0m0 .5h0m.5 0h0m-6.5 .5h0m-1.5 .5h0m6 0h0m-8 1h0m5 0h0m1 0h0m-5.5 .5h0m5 .5h0m-6 .5h0m1 0h0m3 0h0m2 0h0m-.5 .5h0m2 1h0m-3.5 .5h0m1.5 0h0m-3 .5h0m7.5 0h0m-10.5 .5h0m7 0h0m3.5 0h0m-7.5 .5h0m1 .5h0m-3.5 .5h0m.5 0h0m5.5 .5h0m4 .5h0m1 0h0m-6 1h0m-.5 .5h0m4 0h0m1 0h0m1.5 0h0" stroke="#000" stroke-opacity=".8" stroke-width="1.7" stroke-linecap="round" fill="none"/><path d="M647.5 415.5h0m-6 13.5h0m-2.5 6.5h0m.5 3.5h0m-4.5 1h0m1 4.5h0m9 0h0m1 0h0m-11.5 1.5h0m10 2.5h0m-5 .5h0m-4 1h0m5 .5h0m-.5 .5h0m1.5 2h0m-6.5 .5h0m10.5 2h0m2 2.5h0m-11.5 2h0m10.5 0h0m-1 1h0m-7 1.5h0m-1.5 .5h0m10 1h0m-10.5 2.5h0m0 1h0m2 2h0m-3.5 .5h0m3 0h0m2.5 3h0m-5.5 2h0m5 0h0m6 0h0m-7.5 1.5h0m1 .5h0m1 1h0m2.5 0h0m-.5 .5h0m-6 24.5h0m3 0h0m-4 1h0m1 0h0m3.5 1h0m1 .5h0m-5.5 1h0m9.5 0h0m-1 1h0m-8 .5h0m1 .5h0m1.5 0h0m3.5 0h0m.5 0h0m.5 .5h0m-7 .5h0m6 0h0m3.5 0h0m-8 .5h0m8 0h0m-9 .5h0m2.5 .5h0m6 0h0m-5 1h0m2 0h0m3 0h0m-9 .5h0m10.5 0h0m-2.5 .5h0m-3.5 .5h0m5.5 0h0m1 0h0m-5 .5h0m4.5 0h0m-4.5 .5h0m-.5 .5h0m3.5 0h0m-6 .5h0m2 .5h0m2 0h0m1.5 0h0m-4 1h0m1 .5h0" stroke="#000" stroke-opacity=".8" stroke-width="1.7" stroke-linecap="round" fill="none"/><path d="M641 416.5h0m0 1.5h0m0 4h0m0 4h0m0 1h0m0 1h0m0 4h0m0 1h0" stroke="#111" stroke-opacity=".8" stroke-width="1.5" stroke-linecap="round" fill="none"/><path d="M641.1 440V478.1M641.1 503.5V517.2" stroke="#333" stroke-width=".5"/><rect x="628.8" y="478.1" width="24.6" height="25.4" fill="#1CB4B9" stroke="#000" stroke-opacity=".45" stroke-width=".6"/><path d="M628.8 491.9H653.4" stroke="#000" stroke-opacity=".5" stroke-width="1.1"/><path d="M673.2 516.4l5.1-.5l1.9-2.5l1.5-2.5l1.4-3l1.1-3l-.5-12.1l-.7-6.6l-1.7-12.6l-2.5-12.6l-.9-6.1l-1.2-8.6l-1.7-16.1l-1.6-8.1l-0-4l-.3 0l-0 4l-1.6 8.1l-1.7 16.1l-1.2 8.6l-.9 6.1l-2.5 12.6l-1.7 12.6l-.7 6.6l-.5 12.1l1.1 3l1.4 3l1.5 2.5l1.9 2.5l5.1 .5z" fill="#A07FBD" stroke="#333" stroke-width=".55"/><path d="M671 420.5h0m-3.5 8.5h0m10 4.5h0m-7.5 3h0m.5 8h0m2 2.5h0m-4.5 .5h0m.5 6.5h0m3 4h0m6 11h0m-7 39h0m8 1.5h0m-10.5 2h0m4.5 0h0m-2.5 2.5h0" stroke="#000" stroke-opacity=".8" stroke-width="1.7" stroke-linecap="round" fill="none"/><path d="M670 418.5h0m1 1.5h0m8 16.5h0m-2 8.5h0m1 1h0m-6 13.5h0m-3 2.5h0m7.5 0h0m-7 4.5h0m0 1h0m7.5 3h0m-5.5 34.5h0m4.5 0h0m3 2.5h0m-6 .5h0m1 2.5h0m5 0h0m-.5 1.5h0m-10 3h0" stroke="#000" stroke-opacity=".8" stroke-width="1.7" stroke-linecap="round" fill="none"/><path d="M673 418.5h0m0 .5h0m0 6h0" stroke="#111" stroke-opacity=".8" stroke-width="1.5" stroke-linecap="round" fill="none"/><path d="M673.2 425.8V473.2M673.2 504.8V516.4" stroke="#333" stroke-width=".5"/><rect x="660.9" y="473.2" width="24.6" height="31.6" fill="#A07FBD" stroke="#000" stroke-opacity=".45" stroke-width=".6"/><path d="M660.9 492.3H685.5" stroke="#000" stroke-opacity=".5" stroke-width="1.1"/><rect x="557.5" y="384" width="135" height="139.3" fill="none" stroke="#555" stroke-width="1"/><path d="M557.5 383.5V523.8" stroke="#333" stroke-width="1"/><clipPath id="c13"><rect x="557.5" y="383.4" width="135" height="139.9"/></clipPath><g clip-path="url(#c13)"><path d="M576.8 413.6V410.6H608.9V413.6" fill="none" stroke="#222" stroke-width=".75"/><text x="592.9" y="408.7" font-size="7" fill="#333" color="#333" text-anchor="middle">P&lt;2.22e−16</text><path d="M608.9 403.5V400.5H641.1V403.5" fill="none" stroke="#222" stroke-width=".75"/><text x="625" y="398.6" font-size="7" fill="#333" color="#333" text-anchor="middle">0.04</text><path d="M641.1 393.2V390.2H673.2V393.2" fill="none" stroke="#222" stroke-width=".75"/><text x="657.1" y="389.3" font-size="7" fill="#333" color="#333" text-anchor="middle">0.6</text></g><path d="M553.3 521.7H557.5" stroke="#333" stroke-width=".8"/><text x="549.2" y="525.3" font-size="10.2" fill="#1a1a1a" color="#1a1a1a" text-anchor="end">0</text><path d="M553.3 477.2H557.5" stroke="#333" stroke-width=".8"/><text x="549.2" y="480.8" font-size="10.2" fill="#1a1a1a" color="#1a1a1a" text-anchor="end">1</text><path d="M553.3 432.7H557.5" stroke="#333" stroke-width=".8"/><text x="549.2" y="436.3" font-size="10.2" fill="#1a1a1a" color="#1a1a1a" text-anchor="end">2</text><path d="M553.3 388.2H557.5" stroke="#333" stroke-width=".8"/><text x="549.2" y="391.8" font-size="10.2" fill="#1a1a1a" color="#1a1a1a" text-anchor="end">3</text><path d="M576.8 523.3V527.5" stroke="#333" stroke-width=".8"/><text x="573.6" y="538.2" font-size="7.7" fill="#2a2a2a" color="#2a2a2a" text-anchor="middle">Stage I</text><path d="M608.9 523.3V527.5" stroke="#333" stroke-width=".8"/><text x="607.5" y="538.2" font-size="7.7" fill="#2a2a2a" color="#2a2a2a" text-anchor="middle">Stage II</text><path d="M641.1 523.3V527.5" stroke="#333" stroke-width=".8"/><text x="642.2" y="538.2" font-size="7.7" fill="#2a2a2a" color="#2a2a2a" text-anchor="middle">Stage III</text><path d="M673.2 523.3V527.5" stroke="#333" stroke-width=".8"/><text x="678.2" y="538.2" font-size="7.7" fill="#2a2a2a" color="#2a2a2a" text-anchor="middle">Stage IV</text><text transform="translate(535 453.6) rotate(-90) scale(.9 1)" font-size="10.5" fill="#222" color="#222" text-anchor="middle" y="3.7">Expression</text><text transform="translate(624.4 374.9) scale(.86 1)" font-size="11.3" font-style="italic" fill="#1a1a1a" color="#1a1a1a" text-anchor="middle">THSD1</text>
</svg></body></html>
